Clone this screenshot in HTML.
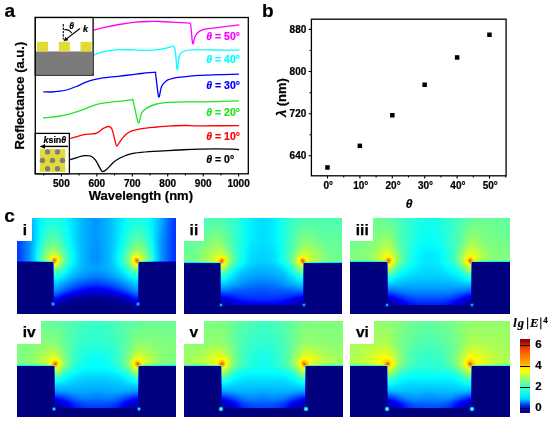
<!DOCTYPE html>
<html><head><meta charset="utf-8"><style>
html,body{margin:0;padding:0;background:#fff;}
body{width:550px;height:422px;overflow:hidden;position:relative;font-family:'Liberation Sans',Arial,sans-serif}
.ov{position:absolute;left:0;top:0;}
.tx text{stroke:#000;stroke-width:.22px;}
.tx path,.tx rect,.tx circle{}
.hm{position:absolute;overflow:hidden;}
.hm i{position:absolute;height:1px;}
.hm b{position:absolute;background:#01007f;}
.hm u{position:absolute;}
.hm s{position:absolute;left:0;top:0;height:23.4px;background:#fff;text-decoration:none;font-weight:bold;font-size:15.5px;line-height:1;color:#000;box-sizing:border-box;padding:3.3px 0 0 6px;-webkit-text-stroke:.25px #000;}
.cb{position:absolute;left:519.7px;top:339.2px;width:9.9px;height:74.2px;}
.cbt{position:absolute;left:519.8px;width:9.8px;height:1.1px;background:#000;}
.cbl{position:absolute;left:535.2px;font-weight:bold;font-size:11.5px;line-height:1;-webkit-text-stroke:.2px #000;}
.lge{position:absolute;left:513.5px;top:315.2px;font-family:'Liberation Serif',serif;font-style:italic;font-weight:bold;font-size:12.5px;line-height:1;white-space:nowrap;}
</style></head><body>
<svg class="ov" width="550" height="422" viewBox="0 0 550 422">
<g font-family="Liberation Sans, Arial, sans-serif" font-weight="bold"><g class="tx">
<text x="4.4" y="17.1" font-size="19">a</text>
<text x="261.9" y="17" font-size="19">b</text>
<text x="4.3" y="221.7" font-size="19">c</text>
<path d="M93.6,30.0C95.4,29.6 100.3,28.3 104.5,27.4C108.7,26.5 114.2,25.4 119.0,24.5C123.8,23.6 128.8,22.8 133.6,22.3C138.4,21.8 143.6,21.6 148.0,21.5C152.4,21.4 155.3,21.4 160.0,21.5C164.7,21.6 171.5,22.1 176.4,22.4C181.3,22.7 186.9,22.3 189.3,23.2C191.7,24.1 190.4,24.6 191.0,28.0C191.6,31.4 192.0,42.2 192.7,43.6C193.4,45.0 194.1,38.3 195.2,36.3C196.3,34.3 197.5,32.6 199.3,31.4C201.1,30.2 202.8,29.5 205.8,28.9C208.8,28.3 213.5,28.1 217.3,27.6C221.1,27.1 225.0,26.6 228.7,26.1C232.4,25.6 237.6,25.0 239.4,24.8" fill="none" stroke="#ff00ff" stroke-width="1.3" stroke-linejoin="round"/>
<path d="M93.6,55.0C95.4,54.4 100.3,52.3 104.5,51.4C108.7,50.5 114.2,49.9 119.0,49.6C123.8,49.4 128.8,49.8 133.6,49.9C138.4,50.0 143.9,50.3 148.0,50.3C152.1,50.2 155.0,50.0 158.4,49.6C161.8,49.2 165.6,48.2 168.2,47.7C170.8,47.2 172.5,45.6 173.7,46.4C174.9,47.2 174.9,48.7 175.5,52.6C176.1,56.5 176.5,69.4 177.2,69.8C177.9,70.2 178.4,58.2 179.6,55.1C180.8,52.0 182.3,51.9 184.5,51.0C186.7,50.1 188.6,50.1 192.7,49.9C196.8,49.7 203.5,49.8 209.0,49.9C214.5,50.0 220.4,50.2 225.5,50.2C230.6,50.2 237.1,50.2 239.4,50.2" fill="none" stroke="#00ffff" stroke-width="1.3" stroke-linejoin="round"/>
<path d="M43.3,91.8C44.7,91.8 48.8,92.1 51.6,92.0C54.4,91.9 57.1,91.6 59.9,91.2C62.7,90.8 65.5,90.3 68.2,89.5C71.0,88.7 73.7,87.6 76.4,86.5C79.2,85.4 81.9,83.8 84.7,82.7C87.5,81.6 90.2,80.7 93.0,79.9C95.8,79.2 98.5,78.7 101.3,78.2C104.1,77.8 106.5,77.6 109.6,77.2C112.7,76.8 115.5,76.6 120.0,76.1C124.5,75.6 131.0,74.7 136.6,74.1C142.2,73.5 150.6,72.3 153.8,72.4C157.0,72.5 154.9,70.8 155.7,74.9C156.5,79.0 157.7,94.8 158.7,96.8C159.7,98.8 160.2,89.3 161.5,86.6C162.8,83.9 164.3,82.2 166.5,80.7C168.7,79.2 171.5,78.6 174.8,77.9C178.1,77.2 182.2,77.0 186.4,76.6C190.6,76.2 193.6,75.7 199.7,75.4C205.8,75.1 216.7,74.8 223.2,74.6C229.7,74.4 236.3,74.2 238.9,74.1" fill="none" stroke="#0000ff" stroke-width="1.3" stroke-linejoin="round"/>
<path d="M43.3,118.0C44.7,117.9 48.8,117.5 51.6,117.2C54.4,116.9 57.1,116.5 59.9,116.0C62.7,115.5 65.5,115.1 68.2,114.4C71.0,113.7 73.7,112.8 76.4,111.9C79.2,111.0 81.9,110.0 84.7,108.9C87.5,107.9 90.2,106.5 93.0,105.6C95.8,104.7 98.5,104.0 101.3,103.4C104.1,102.9 106.5,102.7 109.6,102.3C112.7,101.9 116.4,101.6 120.0,101.2C123.6,100.8 129.2,99.8 131.4,99.8C133.6,99.8 132.2,97.7 133.3,101.5C134.5,105.3 136.9,120.8 138.3,122.7C139.7,124.6 140.2,115.5 141.6,113.1C143.0,110.7 144.1,109.6 146.6,108.1C149.1,106.6 152.6,105.0 156.5,104.0C160.4,103.0 164.8,102.7 169.8,102.3C174.8,101.9 180.3,101.9 186.4,101.8C192.5,101.7 197.8,102.0 206.6,101.8C215.3,101.6 233.5,101.0 238.9,100.8" fill="none" stroke="#1ee61e" stroke-width="1.3" stroke-linejoin="round"/>
<path d="M70.2,138.5C71.2,138.2 73.6,137.5 75.9,136.9C78.2,136.3 81.4,135.2 84.1,134.7C86.8,134.2 90.1,134.2 92.3,133.9C94.5,133.6 95.3,133.8 97.2,132.8C99.1,131.9 101.8,129.2 103.7,128.2C105.6,127.1 107.2,126.4 108.6,126.5C110.0,126.6 110.8,126.5 111.9,129.0C113.0,131.5 114.4,138.4 115.2,141.3C116.0,144.2 116.0,146.2 116.8,146.2C117.6,146.2 118.8,143.0 120.1,141.3C121.4,139.6 122.7,137.6 124.4,136.0C126.1,134.4 127.3,132.8 130.2,131.6C133.1,130.4 137.4,129.5 141.8,128.7C146.2,127.9 151.6,127.5 156.4,127.0C161.2,126.5 166.1,126.0 170.9,125.8C175.8,125.5 180.7,125.5 185.5,125.5C190.3,125.5 191.1,125.8 200.0,125.8C208.9,125.8 232.6,125.7 239.1,125.7" fill="none" stroke="#ff0000" stroke-width="1.3" stroke-linejoin="round"/>
<path d="M70.2,159.8C71.4,159.4 75.3,158.0 77.6,157.3C79.9,156.6 81.9,155.9 84.1,155.7C86.3,155.5 88.7,155.3 90.6,156.0C92.5,156.7 93.8,157.9 95.5,160.1C97.2,162.3 99.3,167.2 100.5,169.1C101.7,171.0 101.8,171.6 102.9,171.6C104.0,171.6 105.2,170.7 107.0,169.1C108.8,167.5 111.4,164.0 113.6,162.2C115.8,160.3 117.8,159.2 120.1,158.0C122.4,156.8 124.9,155.7 127.3,154.9C129.7,154.1 130.9,153.7 134.5,153.2C138.1,152.7 144.2,152.1 149.1,151.7C153.9,151.3 158.8,151.1 163.6,150.8C168.4,150.5 172.1,150.3 178.2,150.0C184.3,149.7 190.9,149.2 200.0,149.1C209.1,148.9 226.2,149.0 232.7,149.1C239.2,149.2 238.0,149.7 239.1,149.8" fill="none" stroke="#000000" stroke-width="1.3" stroke-linejoin="round"/>
<text x="206.3" y="39.9" font-size="10.5" fill="#ff00ff" style="stroke:#ff00ff"><tspan font-style="italic">&#952;</tspan> = 50&#176;</text>
<text x="206.3" y="62.8" font-size="10.5" fill="#00ffff" style="stroke:#00ffff"><tspan font-style="italic">&#952;</tspan> = 40&#176;</text>
<text x="206.3" y="88.5" font-size="10.5" fill="#0000ff" style="stroke:#0000ff"><tspan font-style="italic">&#952;</tspan> = 30&#176;</text>
<text x="206.3" y="115.5" font-size="10.5" fill="#1ee61e" style="stroke:#1ee61e"><tspan font-style="italic">&#952;</tspan> = 20&#176;</text>
<text x="206.3" y="139.6" font-size="10.5" fill="#ff0000" style="stroke:#ff0000"><tspan font-style="italic">&#952;</tspan> = 10&#176;</text>
<text x="206.3" y="163.2" font-size="10.5" fill="#000000" style="stroke:#000000"><tspan font-style="italic">&#952;</tspan> = 0&#176;</text>
<rect x="35.3" y="17.5" width="213.0" height="156.3" fill="none" stroke="#000" stroke-width="1.3"/>
<path d="M61.4,173.8V176.6M96.8,173.8V176.6M132.3,173.8V176.6M167.7,173.8V176.6M203.2,173.8V176.6M238.6,173.8V176.6M43.7,173.8V175.6M79.1,173.8V175.6M114.6,173.8V175.6M150.0,173.8V175.6M185.4,173.8V175.6M220.9,173.8V175.6" stroke="#000" stroke-width="1.1"/>
<text x="61.4" y="187" font-size="10" text-anchor="middle">500</text>
<text x="96.8" y="187" font-size="10" text-anchor="middle">600</text>
<text x="132.3" y="187" font-size="10" text-anchor="middle">700</text>
<text x="167.7" y="187" font-size="10" text-anchor="middle">800</text>
<text x="203.2" y="187" font-size="10" text-anchor="middle">900</text>
<text x="238.6" y="187" font-size="10" text-anchor="middle">1000</text>
<text x="140.9" y="200.4" font-size="13" text-anchor="middle">Wavelength (nm)</text>
<text transform="translate(23.7,95.6) rotate(-90)" font-size="13" text-anchor="middle">Reflectance (a.u.)</text>
<rect x="35.3" y="17.5" width="57.8" height="57.6" fill="#fff" stroke="#000" stroke-width="1.3"/>
<rect x="36" y="51.4" width="56.4" height="22.9" fill="#7b7b7b"/>
<rect x="37.0" y="41.8" width="11.1" height="9.6" fill="#e4da36"/>
<rect x="58.8" y="41.8" width="11.1" height="9.6" fill="#e4da36"/>
<rect x="80.5" y="41.8" width="11.1" height="9.6" fill="#e4da36"/>
<path d="M63.3,24.1V39.5" stroke="#000" stroke-width="1.1" stroke-dasharray="2.4,1"/>
<path d="M79.9,28.5L66.5,38.9" stroke="#000" stroke-width="1.2"/>
<path d="M64,40.8L65.67,37.24L67.87,40.08Z" fill="#000" stroke="#000" stroke-width="0.6"/>
<path d="M64.3,29.7Q69.3,29.2 71.7,33.2" fill="none" stroke="#000" stroke-width="1.1"/>
<text x="69.2" y="29.2" font-size="8.5" font-style="italic">&#952;</text>
<text x="82.9" y="31.6" font-size="9" font-style="italic">k</text>
<rect x="35.3" y="133.4" width="34.1" height="40.4" fill="#fff" stroke="#000" stroke-width="1.3"/>
<text x="43.6" y="142.8" font-size="8.8"><tspan font-style="italic">k</tspan>sin<tspan font-style="italic">&#952;</tspan></text>
<path d="M68,146.4H43" stroke="#000" stroke-width="1.4"/>
<path d="M39.8,146.4L45,144V148.8Z" fill="#000"/>
<rect x="39.9" y="149.1" width="25.4" height="22.9" fill="#e4da36"/>
<circle cx="47.6" cy="151.9" r="2.65" fill="#7c7c86"/>
<circle cx="57.5" cy="151.9" r="2.65" fill="#7c7c86"/>
<circle cx="42.4" cy="160.4" r="2.65" fill="#7c7c86"/>
<circle cx="52.5" cy="160.4" r="2.65" fill="#7c7c86"/>
<circle cx="62.5" cy="160.4" r="2.65" fill="#7c7c86"/>
<circle cx="47.6" cy="168.7" r="2.65" fill="#7c7c86"/>
<circle cx="57.5" cy="168.7" r="2.65" fill="#7c7c86"/>
<rect x="311.4" y="19.2" width="194.7" height="156.6" fill="none" stroke="#000" stroke-width="1.3"/>
<path d="M327.5,175.8V178.6M343.7,175.8V177.6M359.9,175.8V178.6M376.1,175.8V177.6M392.3,175.8V178.6M408.5,175.8V177.6M424.7,175.8V178.6M440.9,175.8V177.6M457.1,175.8V178.6M473.3,175.8V177.6M489.5,175.8V178.6M505.7,175.8V177.6M311.4,29.4H308.6M311.4,50.5H309.6M311.4,71.5H308.6M311.4,92.6H309.6M311.4,113.7H308.6M311.4,134.8H309.6M311.4,155.8H308.6" stroke="#000" stroke-width="1.1"/>
<text x="328.3" y="188.9" font-size="10" text-anchor="middle">0&#176;</text>
<text x="360.7" y="188.9" font-size="10" text-anchor="middle">10&#176;</text>
<text x="393.1" y="188.9" font-size="10" text-anchor="middle">20&#176;</text>
<text x="425.5" y="188.9" font-size="10" text-anchor="middle">30&#176;</text>
<text x="457.9" y="188.9" font-size="10" text-anchor="middle">40&#176;</text>
<text x="490.3" y="188.9" font-size="10" text-anchor="middle">50&#176;</text>
<text x="306.3" y="32.9" font-size="10" text-anchor="end">880</text>
<text x="306.3" y="75.0" font-size="10" text-anchor="end">800</text>
<text x="306.3" y="117.2" font-size="10" text-anchor="end">720</text>
<text x="306.3" y="159.3" font-size="10" text-anchor="end">640</text>
<text x="409" y="207.6" font-size="12" font-style="italic" text-anchor="middle">&#952;</text>
<text transform="translate(285.5,97.6) rotate(-90)" font-size="13" text-anchor="middle"><tspan font-style="italic">&#955;</tspan> (nm)</text>
<rect x="325.2" y="165.2" width="4.5" height="4.5"/>
<rect x="357.6" y="143.6" width="4.5" height="4.5"/>
<rect x="390.1" y="113.0" width="4.5" height="4.5"/>
<rect x="422.4" y="82.5" width="4.5" height="4.5"/>
<rect x="454.9" y="55.2" width="4.5" height="4.5"/>
<rect x="487.2" y="32.5" width="4.5" height="4.5"/>
</g></g></svg>
<div class="hm" style="left:16.5px;top:217.8px;width:159.9px;height:95.8px"><i style="top:0px;left:0;width:160px;background:linear-gradient(90deg,#003eff,#0059ff,#007aff,#00a2ff,#00c7ff,#00e0ff,#00f7ff,#0bfff4,#14ffeb,#18ffe7,#15ffea,#0ffff0,#03fffc,#00f2ff,#00e0ff,#00ceff,#00bdff,#00b1ff,#00a6ff,#009bff,#0099ff,#00a2ff,#00adff,#00b8ff,#00c8ff,#00daff,#00ecff,#00fdff,#0cfff3,#14ffeb,#18ffe7,#15ffea,#0ffff0,#00fdff,#00e8ff,#00d0ff,#00afff,#0086ff,#0063ff,#0044ff,#002fff)"></i><i style="top:1px;left:0;width:160px;background:linear-gradient(90deg,#003eff,#0059ff,#007aff,#00a2ff,#00c7ff,#00e0ff,#00f7ff,#0bfff4,#14ffeb,#18ffe7,#16ffe9,#10ffef,#03fffc,#00f2ff,#00e0ff,#00ceff,#00bdff,#00b1ff,#00a6ff,#009bff,#0099ff,#00a2ff,#00adff,#00b8ff,#00c8ff,#00daff,#00ecff,#00fdff,#0cfff3,#14ffeb,#18ffe7,#16ffe9,#0ffff0,#00fdff,#00e8ff,#00d0ff,#00afff,#0086ff,#0063ff,#0044ff,#002fff)"></i><i style="top:2px;left:0;width:160px;background:linear-gradient(90deg,#003eff,#0059ff,#007aff,#00a1ff,#00c6ff,#00e0ff,#00f7ff,#0cfff3,#15ffea,#19ffe6,#17ffe8,#10ffef,#03fffc,#00f2ff,#00e0ff,#00ceff,#00bdff,#00b1ff,#00a6ff,#009bff,#0099ff,#00a2ff,#00adff,#00b8ff,#00c8ff,#00daff,#00edff,#00fdff,#0dfff2,#15ffea,#19ffe6,#17ffe8,#10ffef,#00feff,#00e8ff,#00d0ff,#00aeff,#0086ff,#0063ff,#0044ff,#002fff)"></i><i style="top:3px;left:0;width:160px;background:linear-gradient(90deg,#003eff,#0059ff,#007aff,#00a1ff,#00c6ff,#00e0ff,#00f8ff,#0dfff2,#16ffe9,#1bffe4,#18ffe7,#11ffee,#04fffb,#00f3ff,#00e1ff,#00ceff,#00bdff,#00b1ff,#00a6ff,#009bff,#0099ff,#00a2ff,#00adff,#00b8ff,#00c8ff,#00daff,#00edff,#00feff,#0efff1,#16ffe9,#1bffe4,#18ffe7,#11ffee,#00ffff,#00e8ff,#00cfff,#00aeff,#0086ff,#0063ff,#0044ff,#002fff)"></i><i style="top:4px;left:0;width:160px;background:linear-gradient(90deg,#003eff,#0058ff,#0079ff,#00a0ff,#00c6ff,#00e1ff,#00f9ff,#0ffff0,#19ffe6,#1effe1,#1affe5,#13ffec,#05fffa,#00f3ff,#00e1ff,#00ceff,#00bdff,#00b1ff,#00a6ff,#009bff,#0099ff,#00a2ff,#00adff,#00b8ff,#00c8ff,#00dbff,#00edff,#00ffff,#0ffff0,#18ffe7,#1effe1,#1bffe4,#13ffec,#01fffe,#00e9ff,#00cfff,#00adff,#0085ff,#0063ff,#0043ff,#002fff)"></i><i style="top:5px;left:0;width:160px;background:linear-gradient(90deg,#003dff,#0058ff,#0079ff,#009fff,#00c5ff,#00e1ff,#00faff,#11ffee,#1cffe3,#21ffde,#1dffe2,#15ffea,#06fff9,#00f4ff,#00e1ff,#00ceff,#00bdff,#00b1ff,#00a6ff,#009bff,#0099ff,#00a2ff,#00adff,#00b9ff,#00c8ff,#00dbff,#00eeff,#01fffe,#11ffee,#1bffe4,#21ffde,#1effe1,#16ffe9,#03fffc,#00e9ff,#00cfff,#00acff,#0085ff,#0062ff,#0043ff,#002fff)"></i><i style="top:6px;left:0;width:160px;background:linear-gradient(90deg,#003dff,#0058ff,#0078ff,#009eff,#00c4ff,#00e1ff,#00fcff,#13ffec,#1fffe0,#24ffdb,#20ffdf,#17ffe8,#08fff7,#00f4ff,#00e2ff,#00ceff,#00bdff,#00b1ff,#00a6ff,#009bff,#0099ff,#00a2ff,#00adff,#00b9ff,#00c8ff,#00dbff,#00eeff,#02fffd,#13ffec,#1dffe2,#24ffdb,#21ffde,#18ffe7,#04fffb,#00eaff,#00ceff,#00abff,#0084ff,#0062ff,#0043ff,#002fff)"></i><i style="top:7px;left:0;width:160px;background:linear-gradient(90deg,#003dff,#0057ff,#0077ff,#009dff,#00c3ff,#00e1ff,#00fdff,#16ffe9,#22ffdd,#28ffd7,#23ffdc,#1affe5,#09fff6,#00f5ff,#00e2ff,#00ceff,#00bdff,#00b1ff,#00a6ff,#009bff,#0099ff,#00a2ff,#00adff,#00b9ff,#00c8ff,#00dcff,#00efff,#03fffc,#15ffea,#20ffdf,#28ffd7,#24ffdb,#1bffe4,#06fff9,#00ebff,#00ceff,#00aaff,#0083ff,#0061ff,#0043ff,#002fff)"></i><i style="top:8px;left:0;width:160px;background:linear-gradient(90deg,#003dff,#0057ff,#0077ff,#009cff,#00c2ff,#00e2ff,#00feff,#18ffe7,#25ffda,#2bffd4,#26ffd9,#1cffe3,#0bfff4,#00f6ff,#00e2ff,#00cfff,#00bdff,#00b1ff,#00a6ff,#009bff,#0099ff,#00a2ff,#00adff,#00b9ff,#00c8ff,#00dcff,#00f0ff,#04fffb,#17ffe8,#23ffdc,#2bffd4,#27ffd8,#1effe1,#08fff7,#00ebff,#00cdff,#00a9ff,#0083ff,#0061ff,#0042ff,#002fff)"></i><i style="top:9px;left:0;width:160px;background:linear-gradient(90deg,#003dff,#0056ff,#0076ff,#009cff,#00c2ff,#00e2ff,#01fffe,#1bffe4,#28ffd7,#2fffd0,#29ffd6,#1effe1,#0cfff3,#00f7ff,#00e3ff,#00cfff,#00bdff,#00b1ff,#00a6ff,#009bff,#0099ff,#00a2ff,#00adff,#00b9ff,#00c9ff,#00dcff,#00f0ff,#05fffa,#19ffe6,#26ffd9,#2fffd0,#2bffd4,#20ffdf,#0afff5,#00ecff,#00cdff,#00a8ff,#0082ff,#0060ff,#0042ff,#002fff)"></i><i style="top:10px;left:0;width:160px;background:linear-gradient(90deg,#003cff,#0056ff,#0076ff,#009bff,#00c1ff,#00e2ff,#02fffd,#1dffe2,#2bffd4,#32ffcd,#2cffd3,#20ffdf,#0efff1,#00f7ff,#00e3ff,#00cfff,#00bdff,#00b1ff,#00a6ff,#009bff,#0099ff,#00a2ff,#00adff,#00b9ff,#00c9ff,#00ddff,#00f1ff,#07fff8,#1bffe4,#29ffd6,#32ffcd,#2effd1,#23ffdc,#0cfff3,#00edff,#00ccff,#00a7ff,#0081ff,#0060ff,#0042ff,#002fff)"></i><i style="top:11px;left:0;width:160px;background:linear-gradient(90deg,#003cff,#0055ff,#0075ff,#009aff,#00c0ff,#00e3ff,#04fffb,#20ffdf,#2effd1,#36ffc9,#30ffcf,#23ffdc,#0ffff0,#00f8ff,#00e3ff,#00cfff,#00bdff,#00b1ff,#00a6ff,#009bff,#0099ff,#00a2ff,#00adff,#00b9ff,#00c9ff,#00ddff,#00f1ff,#08fff7,#1dffe2,#2cffd3,#36ffc9,#31ffce,#26ffd9,#0dfff2,#00edff,#00ccff,#00a6ff,#0080ff,#005fff,#0041ff,#002fff)"></i><i style="top:12px;left:0;width:160px;background:linear-gradient(90deg,#003cff,#0055ff,#0074ff,#0099ff,#00bfff,#00e3ff,#05fffa,#22ffdd,#31ffce,#3affc5,#33ffcc,#25ffda,#11ffee,#00f9ff,#00e4ff,#00cfff,#00bdff,#00b1ff,#00a6ff,#009bff,#0099ff,#00a2ff,#00adff,#00b9ff,#00c9ff,#00ddff,#00f2ff,#09fff6,#1fffe0,#2fffd0,#39ffc6,#35ffca,#29ffd6,#0ffff0,#00eeff,#00cbff,#00a5ff,#0080ff,#005fff,#0041ff,#002fff)"></i><i style="top:13px;left:0;width:160px;background:linear-gradient(90deg,#003cff,#0054ff,#0074ff,#0098ff,#00beff,#00e3ff,#07fff8,#25ffda,#35ffca,#3dffc2,#36ffc9,#27ffd8,#12ffed,#00faff,#00e4ff,#00d0ff,#00bdff,#00b1ff,#00a6ff,#009bff,#0099ff,#00a2ff,#00adff,#00b9ff,#00c9ff,#00deff,#00f3ff,#0afff5,#21ffde,#31ffce,#3dffc2,#38ffc7,#2bffd4,#11ffee,#00efff,#00cbff,#00a4ff,#007fff,#005eff,#0041ff,#002fff)"></i><i style="top:14px;left:0;width:160px;background:linear-gradient(90deg,#003cff,#0054ff,#0073ff,#0097ff,#00beff,#00e4ff,#08fff7,#27ffd8,#38ffc7,#41ffbe,#39ffc6,#2affd5,#14ffeb,#00fbff,#00e5ff,#00d0ff,#00bdff,#00b1ff,#00a6ff,#009bff,#0099ff,#00a3ff,#00adff,#00b9ff,#00c9ff,#00deff,#00f3ff,#0cfff3,#23ffdc,#34ffcb,#40ffbf,#3bffc4,#2effd1,#13ffec,#00efff,#00caff,#00a3ff,#007eff,#005eff,#0041ff,#002fff)"></i><i style="top:15px;left:0;width:160px;background:linear-gradient(90deg,#003bff,#0053ff,#0073ff,#0096ff,#00bdff,#00e4ff,#0afff5,#2affd5,#3bffc4,#44ffbb,#3cffc3,#2cffd3,#15ffea,#00fbff,#00e5ff,#00d0ff,#00bdff,#00b1ff,#00a6ff,#009bff,#0099ff,#00a3ff,#00adff,#00b9ff,#00c9ff,#00deff,#00f4ff,#0dfff2,#25ffda,#37ffc8,#44ffbb,#3fffc0,#31ffce,#15ffea,#00f0ff,#00caff,#00a2ff,#007eff,#005dff,#0040ff,#002fff)"></i><i style="top:16px;left:0;width:160px;background:linear-gradient(90deg,#003bff,#0053ff,#0072ff,#0095ff,#00bcff,#00e4ff,#0bfff4,#2cffd3,#3effc1,#48ffb7,#3fffc0,#2effd1,#17ffe8,#00fcff,#00e6ff,#00d0ff,#00bdff,#00b1ff,#00a6ff,#009bff,#0099ff,#00a3ff,#00adff,#00b9ff,#00caff,#00dfff,#00f4ff,#0efff1,#28ffd7,#3affc5,#47ffb8,#42ffbd,#34ffcb,#17ffe8,#00f1ff,#00c9ff,#00a1ff,#007dff,#005dff,#0040ff,#002fff)"></i><i style="top:17px;left:0;width:160px;background:linear-gradient(90deg,#003bff,#0052ff,#0071ff,#0094ff,#00bcff,#00e5ff,#0dfff2,#2fffd0,#41ffbe,#4cffb3,#42ffbd,#31ffce,#18ffe7,#00fdff,#00e6ff,#00d1ff,#00bdff,#00b1ff,#00a6ff,#009bff,#0099ff,#00a3ff,#00adff,#00b9ff,#00caff,#00dfff,#00f5ff,#10ffef,#2affd5,#3dffc2,#4bffb4,#46ffb9,#37ffc8,#18ffe7,#00f2ff,#00c9ff,#00a0ff,#007cff,#005cff,#0040ff,#002fff)"></i><i style="top:18px;left:0;width:160px;background:linear-gradient(90deg,#003bff,#0052ff,#0071ff,#0093ff,#00bbff,#00e5ff,#0efff1,#31ffce,#45ffba,#4fffb0,#46ffb9,#33ffcc,#1affe5,#00feff,#00e7ff,#00d1ff,#00bdff,#00b1ff,#00a6ff,#009bff,#0099ff,#00a3ff,#00adff,#00b9ff,#00caff,#00dfff,#00f6ff,#11ffee,#2cffd3,#40ffbf,#4fffb0,#49ffb6,#39ffc6,#1affe5,#00f2ff,#00c8ff,#00a0ff,#007cff,#005cff,#0040ff,#002fff)"></i><i style="top:19px;left:0;width:160px;background:linear-gradient(90deg,#003bff,#0052ff,#0070ff,#0093ff,#00baff,#00e5ff,#10ffef,#34ffcb,#48ffb7,#53ffac,#49ffb6,#36ffc9,#1cffe3,#00ffff,#00e7ff,#00d1ff,#00bdff,#00b1ff,#00a6ff,#009bff,#0099ff,#00a3ff,#00adff,#00b9ff,#00caff,#00e0ff,#00f6ff,#12ffed,#2effd1,#43ffbc,#52ffad,#4cffb3,#3cffc3,#1cffe3,#00f3ff,#00c8ff,#009fff,#007bff,#005bff,#003fff,#002fff)"></i><i style="top:20px;left:0;width:160px;background:linear-gradient(90deg,#003bff,#0051ff,#0070ff,#0092ff,#00baff,#00e6ff,#11ffee,#37ffc8,#4bffb4,#57ffa8,#4cffb3,#38ffc7,#1dffe2,#01fffe,#00e8ff,#00d1ff,#00bdff,#00b1ff,#00a6ff,#009bff,#0099ff,#00a2ff,#00adff,#00b9ff,#00caff,#00e0ff,#00f7ff,#14ffeb,#30ffcf,#46ffb9,#56ffa9,#50ffaf,#3fffc0,#1effe1,#00f4ff,#00c8ff,#009eff,#007bff,#005bff,#003fff,#002fff)"></i><i style="top:21px;left:0;width:160px;background:linear-gradient(90deg,#003aff,#0051ff,#0070ff,#0091ff,#00b9ff,#00e6ff,#13ffec,#3affc5,#4fffb0,#5bffa4,#50ffaf,#3bffc4,#1fffe0,#02fffd,#00e8ff,#00d2ff,#00beff,#00b1ff,#00a6ff,#009bff,#0098ff,#00a2ff,#00adff,#00b9ff,#00cbff,#00e1ff,#00f8ff,#16ffe9,#33ffcc,#4affb5,#5affa5,#54ffab,#43ffbc,#21ffde,#00f5ff,#00c8ff,#009dff,#007aff,#005aff,#003fff,#002fff)"></i><i style="top:22px;left:0;width:160px;background:linear-gradient(90deg,#003aff,#0050ff,#006fff,#0091ff,#00b9ff,#00e7ff,#15ffea,#3dffc2,#53ffac,#60ff9f,#54ffab,#3effc1,#22ffdd,#03fffc,#00e9ff,#00d2ff,#00beff,#00b1ff,#00a6ff,#009bff,#0098ff,#00a2ff,#00adff,#00b9ff,#00cbff,#00e2ff,#00f9ff,#18ffe7,#36ffc9,#4dffb2,#5fffa0,#58ffa7,#46ffb9,#23ffdc,#00f6ff,#00c8ff,#009dff,#007aff,#005aff,#003fff,#002fff)"></i><i style="top:23px;left:0;width:160px;background:linear-gradient(90deg,#003aff,#0050ff,#006fff,#0090ff,#00b9ff,#00e8ff,#18ffe7,#40ffbf,#58ffa7,#65ff9a,#59ffa6,#42ffbd,#24ffdb,#05fffa,#00eaff,#00d3ff,#00beff,#00b1ff,#00a6ff,#009bff,#0098ff,#00a2ff,#00adff,#00b9ff,#00cbff,#00e2ff,#00fbff,#1affe5,#39ffc6,#52ffad,#64ff9b,#5dffa2,#4affb5,#26ffd9,#00f8ff,#00c8ff,#009cff,#007aff,#005aff,#003fff,#002fff)"></i><i style="top:24px;left:0;width:160px;background:linear-gradient(90deg,#003aff,#0050ff,#006fff,#0090ff,#00b8ff,#00eaff,#1affe5,#44ffbb,#5dffa2,#6bff94,#5effa1,#46ffb9,#27ffd8,#07fff8,#00ebff,#00d3ff,#00beff,#00b1ff,#00a5ff,#009aff,#0097ff,#00a2ff,#00adff,#00b9ff,#00ccff,#00e3ff,#00fcff,#1cffe3,#3cffc3,#56ffa9,#6aff95,#62ff9d,#4effb1,#29ffd6,#00faff,#00c8ff,#009cff,#0079ff,#0059ff,#003eff,#002fff)"></i><i style="top:25px;left:0;width:160px;background:linear-gradient(90deg,#003aff,#004fff,#006fff,#0090ff,#00b8ff,#00ebff,#1dffe2,#48ffb7,#62ff9d,#70ff8f,#63ff9c,#4affb5,#2affd5,#09fff6,#00ecff,#00d4ff,#00beff,#00b1ff,#00a5ff,#009aff,#0097ff,#00a1ff,#00adff,#00b9ff,#00ccff,#00e4ff,#00feff,#1fffe0,#40ffbf,#5bffa4,#6fff90,#68ff97,#52ffad,#2cffd3,#00fbff,#00c8ff,#009bff,#0079ff,#0059ff,#003eff,#002fff)"></i><i style="top:26px;left:0;width:160px;background:linear-gradient(90deg,#003aff,#004fff,#006fff,#008fff,#00b9ff,#00ecff,#20ffdf,#4cffb3,#67ff98,#76ff89,#68ff97,#4effb1,#2dffd2,#0bfff4,#00eeff,#00d4ff,#00beff,#00b1ff,#00a5ff,#0099ff,#0096ff,#00a1ff,#00adff,#00b9ff,#00ccff,#00e5ff,#01fffe,#22ffdd,#44ffbb,#60ff9f,#75ff8a,#6dff92,#57ffa8,#2fffd0,#00fdff,#00c9ff,#009bff,#0079ff,#0059ff,#003eff,#002fff)"></i><i style="top:27px;left:0;width:160px;background:linear-gradient(90deg,#0039ff,#004fff,#006fff,#008fff,#00b9ff,#00eeff,#23ffdc,#50ffaf,#6cff93,#7cff83,#6eff91,#52ffad,#30ffcf,#0dfff2,#00efff,#00d5ff,#00beff,#00b0ff,#00a4ff,#0099ff,#0096ff,#00a0ff,#00acff,#00b9ff,#00cdff,#00e6ff,#02fffd,#24ffdb,#48ffb7,#65ff9a,#7bff84,#73ff8c,#5bffa4,#32ffcd,#00ffff,#00c9ff,#009bff,#0079ff,#0059ff,#003eff,#002fff)"></i><i style="top:28px;left:0;width:160px;background:linear-gradient(90deg,#0039ff,#004eff,#006fff,#008fff,#00b9ff,#00efff,#26ffd9,#54ffab,#71ff8e,#83ff7c,#74ff8b,#57ffa8,#34ffcb,#0ffff0,#00f0ff,#00d6ff,#00beff,#00b0ff,#00a4ff,#0098ff,#0095ff,#00a0ff,#00acff,#00b9ff,#00cdff,#00e7ff,#04fffb,#27ffd8,#4cffb3,#6bff94,#82ff7d,#79ff86,#60ff9f,#36ffc9,#02fffd,#00caff,#009bff,#0079ff,#0059ff,#003dff,#002fff)"></i><i style="top:29px;left:0;width:160px;background:linear-gradient(90deg,#0039ff,#004eff,#006fff,#008fff,#00b9ff,#00f1ff,#29ffd6,#59ffa6,#77ff88,#89ff76,#7aff85,#5cffa3,#37ffc8,#11ffee,#00f2ff,#00d6ff,#00bfff,#00b0ff,#00a4ff,#0098ff,#0095ff,#00a0ff,#00acff,#00b9ff,#00ceff,#00e9ff,#06fff9,#2bffd4,#51ffae,#71ff8e,#88ff77,#7fff80,#65ff9a,#39ffc6,#04fffb,#00caff,#009bff,#0079ff,#0059ff,#003dff,#002fff)"></i><i style="top:30px;left:0;width:160px;background:linear-gradient(90deg,#0039ff,#004eff,#006fff,#008fff,#00baff,#00f2ff,#2cffd3,#5dffa2,#7dff82,#90ff6f,#81ff7e,#61ff9e,#3bffc4,#14ffeb,#00f3ff,#00d7ff,#00bfff,#00b0ff,#00a3ff,#0097ff,#0094ff,#009fff,#00acff,#00b9ff,#00ceff,#00eaff,#08fff7,#2effd1,#55ffaa,#77ff88,#8fff70,#85ff7a,#6aff95,#3dffc2,#06fff9,#00cbff,#009bff,#007aff,#0058ff,#003dff,#002fff)"></i><i style="top:31px;left:0;width:160px;background:linear-gradient(90deg,#0039ff,#004eff,#006fff,#008fff,#00baff,#00f4ff,#2fffd0,#62ff9d,#83ff7c,#98ff67,#88ff77,#67ff98,#3fffc0,#16ffe9,#00f4ff,#00d8ff,#00bfff,#00b0ff,#00a3ff,#0097ff,#0093ff,#009fff,#00acff,#00b9ff,#00cfff,#00ebff,#0afff5,#31ffce,#5bffa4,#7eff81,#97ff68,#8cff73,#6fff90,#40ffbf,#08fff7,#00ccff,#009bff,#007aff,#0058ff,#003dff,#002fff)"></i><i style="top:32px;left:0;width:160px;background:linear-gradient(90deg,#0038ff,#004dff,#006fff,#008fff,#00baff,#00f6ff,#32ffcd,#67ff98,#8aff75,#a0ff5f,#90ff6f,#6dff92,#43ffbc,#19ffe6,#00f6ff,#00d9ff,#00bfff,#00b0ff,#00a3ff,#0096ff,#0093ff,#009eff,#00abff,#00b9ff,#00cfff,#00ecff,#0cfff3,#35ffca,#60ff9f,#85ff7a,#9fff60,#93ff6c,#74ff8b,#44ffbb,#0bfff4,#00cdff,#009bff,#007aff,#0058ff,#003cff,#002fff)"></i><i style="top:33px;left:0;width:160px;background:linear-gradient(90deg,#0038ff,#004dff,#0070ff,#008fff,#00bbff,#00f8ff,#35ffca,#6cff93,#91ff6e,#a9ff56,#99ff66,#74ff8b,#48ffb7,#1bffe4,#00f7ff,#00d9ff,#00bfff,#00b0ff,#00a2ff,#0096ff,#0092ff,#009eff,#00abff,#00b9ff,#00d0ff,#00edff,#0ffff0,#39ffc6,#66ff99,#8eff71,#a9ff56,#9bff64,#7aff85,#48ffb7,#0dfff2,#00ceff,#009bff,#007aff,#0058ff,#003cff,#0030ff)"></i><i style="top:34px;left:0;width:160px;background:linear-gradient(90deg,#0038ff,#004dff,#0070ff,#008fff,#00bbff,#00faff,#39ffc6,#71ff8e,#99ff66,#b3ff4c,#a4ff5b,#7bff84,#4cffb3,#1effe1,#00f9ff,#00daff,#00bfff,#00b0ff,#00a2ff,#0095ff,#0092ff,#009eff,#00abff,#00b9ff,#00d0ff,#00efff,#11ffee,#3dffc2,#6cff93,#98ff67,#b4ff4b,#a4ff5b,#80ff7f,#4cffb3,#0ffff0,#00cfff,#009bff,#007aff,#0058ff,#003cff,#0030ff)"></i><i style="top:35px;left:0;width:160px;background:linear-gradient(90deg,#0038ff,#004dff,#0070ff,#008fff,#00bcff,#00fbff,#3cffc3,#76ff89,#a1ff5e,#bfff40,#b0ff4f,#83ff7c,#51ffae,#20ffdf,#00faff,#00dbff,#00c0ff,#00afff,#00a2ff,#0095ff,#0091ff,#009dff,#00abff,#00b9ff,#00d1ff,#00f0ff,#13ffec,#40ffbf,#73ff8c,#a3ff5c,#c0ff3f,#adff52,#86ff79,#50ffaf,#12ffed,#00d0ff,#009bff,#007aff,#0058ff,#003cff,#0030ff)"></i><i style="top:36px;left:0;width:160px;background:linear-gradient(90deg,#0038ff 0px,#004cff 4px,#0070ff 8px,#008fff 12px,#00bdff 16px,#00fdff 20px,#40ffbf 24px,#7bff84 28px,#9fff60 31px,#a9ff56 32px,#b4ff4b 33px,#beff41 34px,#c7ff38 35px,#ceff31 36px,#d0ff2f 37px,#ceff31 38px,#c8ff37 39px,#bfff40 40px,#b3ff4c 41px,#a7ff58 42px,#99ff66 43px,#8cff73 44px,#55ffaa 48px,#23ffdc 52px,#00fbff 56px,#00dbff 60px,#00c0ff 64px,#00afff 68px,#00a1ff 72px,#0094ff 76px,#0091ff 80px,#009dff 84px,#00abff 88px,#00b9ff 92px,#00d1ff 96px,#00f1ff 100px,#15ffea 104px,#44ffbb 108px,#7aff85 112px,#a3ff5c 115px,#afff50 116px,#bbff44 117px,#c5ff3a 118px,#cdff32 119px,#d0ff2f 120px,#cfff30 121px,#caff35 122px,#c1ff3e 123px,#b7ff48 124px,#adff52 125px,#a2ff5d 126px,#97ff68 127px,#8bff74 128px,#54ffab 132px,#14ffeb 136px,#00d0ff 140px,#009bff 144px,#007aff 148px,#0058ff 152px,#003cff 156px,#0030ff 160px)"></i><i style="top:37px;left:0;width:160px;background:linear-gradient(90deg,#0038ff 0px,#004cff 4px,#0070ff 8px,#008fff 12px,#00bdff 16px,#00ffff 20px,#43ffbc 24px,#80ff7f 28px,#a6ff59 31px,#b2ff4d 32px,#beff41 33px,#cbff34 34px,#d6ff29 35px,#dfff20 36px,#e3ff1c 37px,#e2ff1d 38px,#dbff24 39px,#d0ff2f 40px,#c2ff3d 41px,#b3ff4c 42px,#a3ff5c 43px,#94ff6b 44px,#59ffa6 48px,#25ffda 52px,#00fdff 56px,#00dcff 60px,#00c0ff 64px,#00afff 68px,#00a1ff 72px,#0094ff 76px,#0090ff 80px,#009dff 84px,#00abff 88px,#00baff 92px,#00d2ff 96px,#00f2ff 100px,#17ffe8 104px,#47ffb8 108px,#80ff7f 112px,#aeff51 115px,#bdff42 116px,#ccff33 117px,#d8ff27 118px,#e0ff1f 119px,#e3ff1c 120px,#e1ff1e 121px,#d9ff26 122px,#cfff30 123px,#c2ff3d 124px,#b6ff49 125px,#a9ff56 126px,#9dff62 127px,#91ff6e 128px,#57ffa8 132px,#16ffe9 136px,#00d1ff 140px,#009cff 144px,#007aff 148px,#0057ff 152px,#003bff 156px,#0030ff 160px)"></i><i style="top:38px;left:0;width:160px;background:linear-gradient(90deg,#0038ff 0px,#004cff 4px,#0070ff 8px,#0090ff 12px,#00beff 16px,#01fffe 20px,#45ffba 24px,#84ff7b 28px,#adff52 31px,#baff45 32px,#c9ff36 33px,#d9ff26 34px,#e8ff17 35px,#f4ff0b 36px,#fbff04 37px,#fbff04 38px,#f2ff0d 39px,#e4ff1b 40px,#d2ff2d 41px,#c0ff3f 42px,#adff52 43px,#9cff63 44px,#5dffa2 48px,#27ffd8 52px,#00feff 56px,#00dcff 60px,#00c0ff 64px,#00afff 68px,#00a1ff 72px,#0093ff 76px,#0090ff 80px,#009dff 84px,#00abff 88px,#00baff 92px,#00d2ff 96px,#00f2ff 100px,#18ffe7 104px,#4affb5 108px,#86ff79 112px,#baff45 115px,#cdff32 116px,#deff21 117px,#eeff11 118px,#f9ff06 119px,#fcff03 120px,#f7ff08 121px,#ecff13 122px,#ddff22 123px,#ceff31 124px,#beff41 125px,#b0ff4f 126px,#a3ff5c 127px,#96ff69 128px,#5affa5 132px,#18ffe7 136px,#00d2ff 140px,#009cff 144px,#007aff 148px,#0057ff 152px,#003bff 156px,#0030ff 160px)"></i><i style="top:39px;left:0;width:160px;background:linear-gradient(90deg,#0038ff 0px,#004cff 4px,#0070ff 8px,#0090ff 12px,#00beff 16px,#03fffc 20px,#47ffb8 24px,#88ff77 28px,#b4ff4b 31px,#c3ff3c 32px,#d4ff2b 33px,#e7ff18 34px,#fbff04 35px,#ffef00 36px,#ffe200 37px,#ffe200 38px,#ffef00 39px,#faff05 40px,#e3ff1c 41px,#ccff33 42px,#b7ff48 43px,#a3ff5c 44px,#5fffa0 48px,#28ffd7 52px,#00feff 56px,#00dcff 60px,#00c0ff 64px,#00afff 68px,#00a1ff 72px,#0093ff 76px,#0090ff 80px,#009cff 84px,#00aaff 88px,#00baff 92px,#00d2ff 96px,#00f3ff 100px,#19ffe6 104px,#4cffb3 108px,#8bff74 112px,#c5ff3a 115px,#dcff23 116px,#f3ff0c 117px,#fff500 118px,#ffe500 119px,#ffe100 120px,#ffeb00 121px,#fffd00 122px,#edff12 123px,#d9ff26 124px,#c8ff37 125px,#b8ff47 126px,#aaff55 127px,#9bff64 128px,#5dffa2 132px,#19ffe6 136px,#00d3ff 140px,#009cff 144px,#007bff 148px,#0057ff 152px,#003bff 156px,#0030ff 160px)"></i><i style="top:40px;left:0;width:160px;background:linear-gradient(90deg,#0038ff 0px,#004cff 4px,#0071ff 8px,#0090ff 12px,#00bfff 16px,#03fffc 20px,#49ffb6 24px,#8bff74 28px,#bbff44 31px,#cdff32 32px,#e0ff1f 33px,#f6ff09 34px,#ffef00 35px,#ffd100 36px,#ffb800 37px,#ffb500 38px,#ffcd00 39px,#ffed00 40px,#f2ff0d 41px,#d7ff28 42px,#beff41 43px,#a8ff57 44px,#61ff9e 48px,#29ffd6 52px,#00feff 56px,#00ddff 60px,#00c0ff 64px,#00afff 68px,#00a1ff 72px,#0093ff 76px,#0090ff 80px,#009cff 84px,#00aaff 88px,#00baff 92px,#00d2ff 96px,#00f3ff 100px,#1affe5 104px,#4effb1 108px,#8fff70 112px,#cfff30 115px,#eaff15 116px,#fff600 117px,#ffd600 118px,#ffba00 119px,#ffb400 120px,#ffc800 121px,#ffe600 122px,#fdff02 123px,#e6ff19 124px,#d2ff2d 125px,#c0ff3f 126px,#afff50 127px,#a0ff5f 128px,#5fffa0 132px,#1affe5 136px,#00d4ff 140px,#009dff 144px,#007bff 148px,#0058ff 152px,#003cff 156px,#0030ff 160px)"></i><i style="top:41px;left:0;width:160px;background:linear-gradient(90deg,#0039ff 0px,#004dff 4px,#0071ff 8px,#0091ff 12px,#00c0ff 16px,#04fffb 20px,#4affb5 24px,#8eff71 28px,#c1ff3e 31px,#d5ff2a 32px,#edff12 33px,#fff600 34px,#ffd800 35px,#ffb200 36px,#ff8100 37px,#ff7800 38px,#ffac00 39px,#ffdb00 40px,#fdff02 41px,#ddff22 42px,#c2ff3d 43px,#abff54 44px,#62ff9d 48px,#29ffd6 52px,#00feff 56px,#00ddff 60px,#00c0ff 64px,#00afff 68px,#00a1ff 72px,#0094ff 76px,#0090ff 80px,#009dff 84px,#00abff 88px,#00baff 92px,#00d2ff 96px,#00f3ff 100px,#1affe5 104px,#4effb1 108px,#91ff6e 112px,#d5ff2a 115px,#f3ff0c 116px,#ffe700 117px,#ffbb00 118px,#ff8600 119px,#ff7500 120px,#ffa400 121px,#ffcd00 122px,#ffee00 123px,#f5ff0a 124px,#dcff23 125px,#c7ff38 126px,#b4ff4b 127px,#a3ff5c 128px,#60ff9f 132px,#1bffe4 136px,#00d4ff 140px,#009dff 144px,#007cff 148px,#0059ff 152px,#003dff 156px,#0031ff 160px)"></i><i style="top:42px;left:0;width:160px;background:linear-gradient(90deg,#003dff 0px,#0050ff 4px,#0074ff 8px,#0093ff 12px,#00c1ff 16px,#04fffb 20px,#49ffb6 24px,#90ff6f 28px,#c6ff39 31px,#dcff23 32px,#f7ff08 33px,#ffe600 34px,#ffbd00 35px,#ff8d00 36px,#ff4a00 37px,#ff5e00 38px,#ffa400 39px,#ffd800 40px,#feff01 41px,#deff21 42px,#c2ff3d 43px,#abff54 44px,#61ff9e 48px,#28ffd7 52px,#00feff 56px,#00dcff 60px,#00c0ff 64px,#00afff 68px,#00a2ff 72px,#0094ff 76px,#0091ff 80px,#009dff 84px,#00abff 88px,#00baff 92px,#00d2ff 96px,#00f2ff 100px,#19ffe6 104px,#4dffb2 108px,#90ff6f 112px,#d5ff2a 115px,#f4ff0b 116px,#ffe500 117px,#ffb500 118px,#ff7500 119px,#ff2f00 120px,#ff7c00 121px,#ffb000 122px,#ffdb00 123px,#fffe00 124px,#e3ff1c 125px,#ccff33 126px,#b8ff47 127px,#a6ff59 128px,#61ff9e 132px,#1affe5 136px,#00d5ff 140px,#009fff 144px,#007eff 148px,#005bff 152px,#0040ff 156px,#0035ff 160px)"></i><i style="top:43px;left:0;width:160px;background:linear-gradient(90deg,#0044ff 0px,#0057ff 4px,#0078ff 8px,#0096ff 12px,#00c2ff 16px,#03fffc 20px,#47ffb8 24px,#a3ff5c 28px,#d3ff2c 31px,#e8ff17 32px,#fffc00 33px,#ffdb00 34px,#ffaf00 35px,#ff6e00 36px,#ff4a00 37px,#ff8e00 38px,#ffbe00 39px,#ffe500 40px,#f6ff09 41px,#d8ff27 42px,#beff41 43px,#a6ff59 44px,#5dffa2 48px,#26ffd9 52px,#00fcff 56px,#00dbff 60px,#00c0ff 64px,#00b0ff 68px,#00a3ff 72px,#0096ff 76px,#0093ff 80px,#009eff 84px,#00abff 88px,#00baff 92px,#00d2ff 96px,#00f1ff 100px,#17ffe8 104px,#4affb5 108px,#8cff73 112px,#cfff30 115px,#ecff13 116px,#fff000 117px,#ffca00 118px,#ff9e00 119px,#ff6100 120px,#ff5400 121px,#ff9e00 122px,#ffd000 123px,#fff300 124px,#efff10 125px,#d9ff26 126px,#c7ff38 127px,#b7ff48 128px,#60ff9f 132px,#19ffe6 136px,#00d6ff 140px,#00a2ff 144px,#0082ff 148px,#0061ff 152px,#0047ff 156px,#003cff 160px)"></i><i style="top:44px;left:0;width:160px;background:linear-gradient(90deg,#004fff 0px,#0060ff 4px,#007fff 8px,#009bff 12px,#00c5ff 16px,#02fffd 20px,#42ffbd 24px,#87ff78 28px,#bfff40 31px,#d6ff29 32px,#f2ff0d 33px,#ffeb00 34px,#ffc400 35px,#ff9a00 36px,#ff8f00 37px,#ffb300 38px,#ffdb00 39px,#fffc00 40px,#e6ff19 41px,#ccff33 42px,#b4ff4b 43px,#9eff61 44px,#58ffa7 48px,#22ffdd 52px,#00f9ff 56px,#00daff 60px,#00c0ff 64px,#00b0ff 68px,#00a4ff 72px,#0098ff 76px,#0095ff 80px,#00a0ff 84px,#00acff 88px,#00baff 92px,#00d1ff 96px,#00efff 100px,#13ffec 104px,#45ffba 108px,#85ff7a 112px,#c5ff3a 115px,#deff21 116px,#f9ff06 117px,#ffe600 118px,#ffc000 119px,#ff9700 120px,#ff9100 121px,#ffb700 122px,#ffe000 123px,#fbff04 124px,#deff21 125px,#c6ff39 126px,#b0ff4f 127px,#9eff61 128px,#59ffa6 132px,#16ffe9 136px,#00d7ff 140px,#00a6ff 144px,#0088ff 148px,#006aff 152px,#0052ff 156px,#0048ff 160px)"></i><i style="top:45px;left:35px;width:89px;background:linear-gradient(90deg,#ffe300 0px,#ffcb00 1px,#ffc600 2px,#ffda00 3px,#fff500 4px,#ecff13 5px,#d3ff2c 6px,#bcff43 7px,#a7ff58 8px,#94ff6b 9px,#5fffa0 12px,#34ffcb 15px,#12ffed 18px,#00f6ff 21px,#00dfff 24px,#00cbff 27px,#00bbff 30px,#00b1ff 33px,#00a8ff 36px,#00a0ff 39px,#0099ff 42px,#0098ff 45px,#009fff 48px,#00a8ff 51px,#00b0ff 54px,#00baff 57px,#00c9ff 60px,#00ddff 63px,#00f3ff 66px,#0ffff0 69px,#31ffce 72px,#5affa5 75px,#8eff71 78px,#b6ff49 80px,#ccff33 81px,#e4ff1b 82px,#fffe00 83px,#ffe100 84px,#ffcb00 85px,#ffc600 86px,#ffdb00 87px,#fff700 88px,#ebff14 89px)"></i><i style="top:46px;left:35px;width:89px;background:linear-gradient(90deg,#faff05 0px,#fff300 1px,#ffef00 2px,#fffe00 3px,#edff12 4px,#d7ff28 5px,#c1ff3e 6px,#acff53 7px,#99ff66 8px,#87ff78 9px,#56ffa9 12px,#2dffd2 15px,#0cfff3 18px,#00f2ff 21px,#00dcff 24px,#00caff 27px,#00bbff 30px,#00b1ff 33px,#00a9ff 36px,#00a2ff 39px,#009cff 42px,#009bff 45px,#00a1ff 48px,#00a9ff 51px,#00b0ff 54px,#00baff 57px,#00c8ff 60px,#00daff 63px,#00efff 66px,#09fff6 69px,#2affd5 72px,#51ffae 75px,#82ff7d 78px,#a6ff59 80px,#baff45 81px,#d1ff2e 82px,#e7ff18 83px,#fbff04 84px,#fff300 85px,#ffee00 86px,#ffff00 87px,#ecff13 88px,#d7ff28 89px)"></i><i style="top:47px;left:35px;width:89px;background:linear-gradient(90deg,#ddff22 0px,#ebff14 1px,#efff10 2px,#e1ff1e 3px,#d3ff2c 4px,#c2ff3d 5px,#afff50 6px,#9dff62 7px,#8bff74 8px,#7aff85 9px,#4cffb3 12px,#26ffd9 15px,#07fff8 18px,#00edff 21px,#00daff 24px,#00c8ff 27px,#00baff 30px,#00b1ff 33px,#00aaff 36px,#00a4ff 39px,#009eff 42px,#009dff 45px,#00a3ff 48px,#00a9ff 51px,#00b0ff 54px,#00b9ff 57px,#00c6ff 60px,#00d8ff 63px,#00ebff 66px,#04fffb 69px,#22ffdd 72px,#48ffb7 75px,#75ff8a 78px,#97ff68 80px,#aaff55 81px,#bdff42 82px,#ceff31 83px,#ddff22 84px,#eaff15 85px,#f1ff0e 86px,#e1ff1e 87px,#d2ff2d 88px,#c2ff3d 89px)"></i><i style="top:48px;left:35px;width:89px;background:linear-gradient(90deg,#c3ff3c 0px,#d1ff2e 1px,#d6ff29 2px,#c6ff39 3px,#bbff44 4px,#adff52 5px,#9eff61 6px,#8eff71 7px,#7dff82 8px,#6dff92 9px,#42ffbd 12px,#1effe1 15px,#01fffe 18px,#00e9ff 21px,#00d7ff 24px,#00c6ff 27px,#00b9ff 30px,#00b0ff 33px,#00aaff 36px,#00a4ff 39px,#009fff 42px,#009fff 45px,#00a4ff 48px,#00a9ff 51px,#00afff 54px,#00b8ff 57px,#00c5ff 60px,#00d5ff 63px,#00e7ff 66px,#00feff 69px,#1bffe4 72px,#3effc1 75px,#68ff97 78px,#89ff76 80px,#99ff66 81px,#a9ff56 82px,#b7ff48 83px,#c3ff3c 84px,#cfff30 85px,#d9ff26 86px,#c7ff38 87px,#bbff44 88px,#adff52 89px)"></i><i style="top:49px;left:35px;width:89px;background:linear-gradient(90deg,#adff52 0px,#bbff44 1px,#c1ff3e 2px,#afff50 3px,#a5ff5a 4px,#9aff65 5px,#8dff72 6px,#7eff81 7px,#70ff8f 8px,#61ff9e 9px,#38ffc7 12px,#17ffe8 15px,#00fbff 18px,#00e5ff 21px,#00d3ff 24px,#00c4ff 27px,#00b7ff 30px,#00afff 33px,#00a9ff 36px,#00a4ff 39px,#00a0ff 42px,#00a0ff 45px,#00a4ff 48px,#00a9ff 51px,#00aeff 54px,#00b6ff 57px,#00c2ff 60px,#00d2ff 63px,#00e3ff 66px,#00f8ff 69px,#14ffeb 72px,#34ffcb 75px,#5cffa3 78px,#7aff85 80px,#88ff77 81px,#96ff69 82px,#a2ff5d 83px,#acff53 84px,#b9ff46 85px,#c4ff3b 86px,#b0ff4f 87px,#a5ff5a 88px,#9aff65 89px)"></i><i style="top:50px;left:35px;width:89px;background:linear-gradient(90deg,#99ff66 0px,#a8ff57 1px,#aeff51 2px,#9bff64 3px,#92ff6d 4px,#87ff78 5px,#7cff83 6px,#6fff90 7px,#62ff9d 8px,#55ffaa 9px,#2effd1 12px,#0ffff0 15px,#00f5ff 18px,#00e1ff 21px,#00d0ff 24px,#00c1ff 27px,#00b5ff 30px,#00adff 33px,#00a8ff 36px,#00a3ff 39px,#009fff 42px,#009fff 45px,#00a3ff 48px,#00a8ff 51px,#00adff 54px,#00b4ff 57px,#00c0ff 60px,#00ceff 63px,#00dfff 66px,#00f3ff 69px,#0dfff2 72px,#2affd5 75px,#51ffae 78px,#6cff93 80px,#78ff87 81px,#84ff7b 82px,#8fff70 83px,#98ff67 84px,#a6ff59 85px,#b2ff4d 86px,#9cff63 87px,#92ff6d 88px,#88ff77 89px)"></i><i style="top:51px;left:35px;width:87px;background:linear-gradient(90deg,#87ff78,#89ff76,#6cff93,#49ffb6,#25ffda,#08fff7,#00efff,#00dcff,#00ccff,#00beff,#00b2ff,#00abff,#00a6ff,#00a1ff,#009eff,#009dff,#00a1ff,#00a5ff,#00aaff,#00b1ff,#00bdff,#00cbff,#00daff,#00edff,#05fffa,#21ffde,#45ffba,#69ff96,#86ff79,#8aff75)"></i><i style="top:52px;left:35px;width:87px;background:linear-gradient(90deg,#75ff8a,#78ff87,#5dffa2,#3cffc3,#1cffe3,#01fffe,#00eaff,#00d7ff,#00c8ff,#00bbff,#00afff,#00a7ff,#00a3ff,#009eff,#009bff,#009aff,#009eff,#00a2ff,#00a7ff,#00aeff,#00b9ff,#00c7ff,#00d6ff,#00e8ff,#00fdff,#19ffe6,#39ffc6,#5affa5,#75ff8a,#79ff86)"></i><i style="top:53px;left:35px;width:87px;background:linear-gradient(90deg,#65ff9a,#68ff97,#4effb1,#30ffcf,#12ffed,#00f9ff,#00e4ff,#00d2ff,#00c3ff,#00b7ff,#00acff,#00a4ff,#009fff,#009bff,#0097ff,#0096ff,#009aff,#009eff,#00a3ff,#00abff,#00b5ff,#00c2ff,#00d1ff,#00e2ff,#00f6ff,#10ffef,#2dffd2,#4bffb4,#64ff9b,#69ff96)"></i><i style="top:54px;left:35px;width:87px;background:linear-gradient(90deg,#55ffaa,#56ffa9,#3fffc0,#25ffda,#0afff5,#00f2ff,#00deff,#00cdff,#00bfff,#00b2ff,#00a8ff,#00a0ff,#009bff,#0096ff,#0092ff,#0092ff,#0096ff,#009aff,#009fff,#00a7ff,#00b1ff,#00beff,#00cbff,#00dcff,#00f0ff,#07fff8,#22ffdd,#3dffc2,#54ffab,#57ffa8)"></i><i style="top:55px;left:35px;width:87px;background:linear-gradient(90deg,#43ffbc,#44ffbb,#31ffce,#1affe5,#01fffe,#00ebff,#00d8ff,#00c8ff,#00baff,#00aeff,#00a3ff,#009cff,#0096ff,#0091ff,#008dff,#008dff,#0091ff,#0096ff,#009bff,#00a2ff,#00adff,#00b9ff,#00c6ff,#00d6ff,#00e9ff,#00feff,#17ffe8,#2fffd0,#42ffbd,#44ffbb)"></i><i style="top:56px;left:35px;width:87px;background:linear-gradient(90deg,#33ffcc,#34ffcb,#24ffdb,#0ffff0,#00f8ff,#00e4ff,#00d2ff,#00c2ff,#00b5ff,#00a9ff,#009fff,#0097ff,#0091ff,#008cff,#0088ff,#0088ff,#008cff,#0091ff,#0096ff,#009eff,#00a8ff,#00b4ff,#00c1ff,#00d0ff,#00e2ff,#00f6ff,#0dfff2,#22ffdd,#33ffcc,#34ffcb)"></i><i style="top:57px;left:35px;width:87px;background:linear-gradient(90deg,#24ffdb,#25ffda,#18ffe7,#04fffb,#00efff,#00ddff,#00cbff,#00bcff,#00afff,#00a4ff,#0099ff,#0092ff,#008cff,#0087ff,#0082ff,#0082ff,#0086ff,#008bff,#0091ff,#0098ff,#00a3ff,#00aeff,#00bbff,#00caff,#00dbff,#00edff,#02fffd,#16ffe9,#24ffdb,#25ffda)"></i><i style="top:58px;left:35px;width:87px;background:linear-gradient(90deg,#17ffe8,#17ffe8,#0bfff4,#00f9ff,#00e7ff,#00d5ff,#00c4ff,#00b5ff,#00a8ff,#009dff,#0093ff,#008bff,#0085ff,#0080ff,#007bff,#007bff,#007fff,#0085ff,#008aff,#0092ff,#009cff,#00a7ff,#00b4ff,#00c3ff,#00d3ff,#00e5ff,#00f7ff,#0afff5,#17ffe8,#17ffe8)"></i><i style="top:59px;left:35px;width:87px;background:linear-gradient(90deg,#0afff5,#0bfff4,#00ffff,#00efff,#00ddff,#00ccff,#00bcff,#00adff,#00a0ff,#0095ff,#008bff,#0084ff,#007eff,#0078ff,#0073ff,#0073ff,#0078ff,#007dff,#0083ff,#008aff,#0094ff,#009fff,#00acff,#00bbff,#00cbff,#00dcff,#00edff,#00fdff,#0afff5,#0bfff4)"></i><i style="top:60px;left:35px;width:87px;background:linear-gradient(90deg,#00fdff,#00feff,#00f4ff,#00e5ff,#00d4ff,#00c4ff,#00b4ff,#00a4ff,#0098ff,#008dff,#0083ff,#007bff,#0075ff,#0070ff,#006bff,#006bff,#006fff,#0075ff,#007bff,#0082ff,#008cff,#0097ff,#00a3ff,#00b2ff,#00c2ff,#00d3ff,#00e3ff,#00f2ff,#00fdff,#00feff)"></i><i style="top:61px;left:35px;width:87px;background:linear-gradient(90deg,#00f2ff,#00f2ff,#00e9ff,#00dbff,#00cbff,#00bbff,#00abff,#009cff,#008fff,#0084ff,#007aff,#0073ff,#006dff,#0067ff,#0063ff,#0062ff,#0067ff,#006cff,#0072ff,#007aff,#0083ff,#008eff,#009aff,#00a9ff,#00b9ff,#00c9ff,#00d9ff,#00e7ff,#00f2ff,#00f3ff)"></i><i style="top:62px;left:35px;width:87px;background:linear-gradient(90deg,#00e7ff,#00e7ff,#00deff,#00d1ff,#00c2ff,#00b2ff,#00a2ff,#0093ff,#0086ff,#007cff,#0072ff,#006aff,#0064ff,#005fff,#005aff,#0059ff,#005eff,#0064ff,#0069ff,#0071ff,#007aff,#0085ff,#0091ff,#00a0ff,#00b0ff,#00c0ff,#00cfff,#00ddff,#00e7ff,#00e8ff)"></i><i style="top:63px;left:35px;width:87px;background:linear-gradient(90deg,#00ddff,#00ddff,#00d4ff,#00c7ff,#00b9ff,#00a9ff,#0099ff,#0089ff,#007dff,#0073ff,#0069ff,#0061ff,#005bff,#0056ff,#0051ff,#0051ff,#0055ff,#005bff,#0060ff,#0068ff,#0071ff,#007cff,#0088ff,#0097ff,#00a7ff,#00b7ff,#00c6ff,#00d3ff,#00dcff,#00ddff)"></i><i style="top:64px;left:35px;width:87px;background:linear-gradient(90deg,#00d3ff,#00d3ff,#00caff,#00beff,#00afff,#00a0ff,#0090ff,#0080ff,#0074ff,#0069ff,#005fff,#0058ff,#0052ff,#004cff,#0048ff,#0047ff,#004cff,#0051ff,#0057ff,#005eff,#0068ff,#0073ff,#007fff,#008eff,#009eff,#00aeff,#00bcff,#00c9ff,#00d2ff,#00d3ff)"></i><i style="top:65px;left:35px;width:87px;background:linear-gradient(90deg,#00c9ff,#00c9ff,#00c1ff,#00b4ff,#00a6ff,#0096ff,#0086ff,#0076ff,#006aff,#005fff,#0055ff,#004eff,#0048ff,#0043ff,#003eff,#003dff,#0042ff,#0047ff,#004dff,#0055ff,#005eff,#0069ff,#0075ff,#0084ff,#0095ff,#00a5ff,#00b3ff,#00c0ff,#00c9ff,#00caff)"></i><i style="top:66px;left:35px;width:87px;background:linear-gradient(90deg,#00c0ff,#00c1ff,#00b8ff,#00abff,#009cff,#008cff,#007cff,#006cff,#005fff,#0055ff,#004bff,#0043ff,#003dff,#0038ff,#0033ff,#0032ff,#0037ff,#003cff,#0042ff,#004aff,#0054ff,#005eff,#006bff,#007aff,#008bff,#009bff,#00a9ff,#00b7ff,#00c0ff,#00c1ff)"></i><i style="top:67px;left:35px;width:87px;background:linear-gradient(90deg,#00b8ff,#00b9ff,#00afff,#00a1ff,#0092ff,#0082ff,#0071ff,#0061ff,#0054ff,#0049ff,#003fff,#0037ff,#0031ff,#002cff,#0027ff,#0027ff,#002bff,#0031ff,#0036ff,#003eff,#0048ff,#0053ff,#0060ff,#0070ff,#0080ff,#0091ff,#00a0ff,#00aeff,#00b8ff,#00b9ff)"></i><i style="top:68px;left:35px;width:87px;background:linear-gradient(90deg,#00b1ff,#00b2ff,#00a7ff,#0098ff,#0088ff,#0077ff,#0066ff,#0056ff,#0049ff,#003dff,#0033ff,#002aff,#0024ff,#001fff,#001aff,#001aff,#001fff,#0024ff,#002aff,#0032ff,#003cff,#0047ff,#0054ff,#0064ff,#0076ff,#0086ff,#0096ff,#00a6ff,#00b1ff,#00b2ff)"></i><i style="top:69px;left:35px;width:87px;background:linear-gradient(90deg,#00aaff,#00aaff,#009fff,#008fff,#007dff,#006cff,#005bff,#004aff,#003dff,#0031ff,#0026ff,#001dff,#0018ff,#0012ff,#000eff,#000dff,#0012ff,#0017ff,#001dff,#0025ff,#0030ff,#003bff,#0049ff,#0059ff,#006bff,#007cff,#008dff,#009dff,#00aaff,#00abff)"></i><i style="top:70px;left:35px;width:87px;background:linear-gradient(90deg,#00a3ff,#00a3ff,#0097ff,#0085ff,#0073ff,#0061ff,#004fff,#003eff,#0031ff,#0025ff,#0019ff,#0010ff,#000bff,#0005ff,#0001ff,#0000ff,#0005ff,#000aff,#0010ff,#0018ff,#0023ff,#002fff,#003dff,#004eff,#005fff,#0071ff,#0083ff,#0095ff,#00a3ff,#00a4ff)"></i><i style="top:71px;left:35px;width:87px;background:linear-gradient(90deg,#009bff,#009cff,#008eff,#007bff,#0067ff,#0055ff,#0043ff,#0032ff,#0024ff,#0018ff,#000cff,#0003ff,#0000fd,#0000f7,#0000f3,#0000f2,#0000f7,#0000fc,#0003ff,#000bff,#0017ff,#0023ff,#0030ff,#0041ff,#0053ff,#0065ff,#0079ff,#008cff,#009bff,#009cff)"></i><i style="top:72px;left:35px;width:87px;background:linear-gradient(90deg,#0092ff,#0092ff,#0084ff,#006fff,#005aff,#0048ff,#0036ff,#0025ff,#0017ff,#000bff,#0000fe,#0000f6,#0000f0,#0000eb,#0000e6,#0000e6,#0000ea,#0000ef,#0000f5,#0000fd,#000aff,#0016ff,#0023ff,#0034ff,#0046ff,#0058ff,#006dff,#0082ff,#0092ff,#0093ff)"></i><i style="top:73px;left:35px;width:87px;background:linear-gradient(90deg,#0087ff,#0087ff,#0077ff,#0061ff,#004bff,#0039ff,#0027ff,#0016ff,#0009ff,#0000fc,#0000f1,#0000e9,#0000e3,#0000df,#0000db,#0000da,#0000de,#0000e3,#0000e8,#0000f0,#0000fb,#0008ff,#0015ff,#0026ff,#0037ff,#0049ff,#005eff,#0075ff,#0086ff,#0087ff)"></i><i style="top:74px;left:35px;width:87px;background:linear-gradient(90deg,#0079ff,#0079ff,#0069ff,#0051ff,#003aff,#0028ff,#0017ff,#0007ff,#0000f9,#0000ee,#0000e3,#0000dc,#0000d7,#0000d3,#0000cf,#0000cf,#0000d3,#0000d7,#0000db,#0000e2,#0000ed,#0000f8,#0005ff,#0015ff,#0026ff,#0038ff,#004eff,#0066ff,#0079ff,#007aff)"></i><i style="top:75px;left:35px;width:87px;background:linear-gradient(90deg,#006aff,#006aff,#0058ff,#003fff,#0028ff,#0016ff,#0006ff,#0000f5,#0000e9,#0000df,#0000d6,#0000cf,#0000cb,#0000c8,#0000c4,#0000c4,#0000c7,#0000cb,#0000cf,#0000d5,#0000de,#0000e8,#0000f3,#0004ff,#0014ff,#0026ff,#003cff,#0056ff,#0069ff,#006bff)"></i><i style="top:76px;left:35px;width:87px;background:linear-gradient(90deg,#005aff,#005aff,#0047ff,#002dff,#0014ff,#0003ff,#0000f3,#0000e4,#0000d9,#0000d0,#0000c8,#0000c2,#0000bf,#0000bc,#0000ba,#0000ba,#0000bc,#0000bf,#0000c2,#0000c7,#0000cf,#0000d8,#0000e3,#0000f1,#0002ff,#0013ff,#002aff,#0045ff,#0059ff,#005bff)"></i><i style="top:77px;left:35px;width:87px;background:linear-gradient(90deg,#0049ff,#004aff,#0036ff,#001aff,#0001ff,#0000f0,#0000e1,#0000d3,#0000c9,#0000c2,#0000bb,#0000b6,#0000b3,#0000b1,#0000af,#0000af,#0000b1,#0000b3,#0000b6,#0000ba,#0000c1,#0000c8,#0000d2,#0000e0,#0000ee,#0000fe,#0017ff,#0034ff,#0049ff,#004aff)"></i><i style="top:78px;left:35px;width:87px;background:linear-gradient(90deg,#0039ff,#0039ff,#0025ff,#0008ff,#0000ee,#0000de,#0000d0,#0000c3,#0000ba,#0000b4,#0000ae,#0000aa,#0000a8,#0000a7,#0000a6,#0000a5,#0000a7,#0000a8,#0000aa,#0000ae,#0000b3,#0000ba,#0000c2,#0000cf,#0000dd,#0000ec,#0005ff,#0022ff,#0038ff,#003aff)"></i><i style="top:79px;left:35px;width:87px;background:linear-gradient(90deg,#0028ff,#0028ff,#0014ff,#0000f6,#0000dd,#0000ce,#0000c1,#0000b5,#0000ad,#0000a8,#0000a3,#0000a0,#00009f,#00009e,#00009d,#00009d,#00009e,#00009f,#0000a0,#0000a3,#0000a7,#0000ad,#0000b4,#0000c0,#0000cd,#0000db,#0000f3,#0011ff,#0027ff,#0029ff)"></i><i style="top:80px;left:35px;width:87px;background:linear-gradient(90deg,#0016ff,#0016ff,#0003ff,#0000e6,#0000ce,#0000c0,#0000b4,#0000a9,#0000a3,#00009e,#00009a,#000098,#000097,#000096,#000096,#000096,#000096,#000097,#000098,#00009a,#00009e,#0000a2,#0000a9,#0000b3,#0000bf,#0000cd,#0000e3,#0000ff,#0015ff,#0017ff)"></i><i style="top:81px;left:35px;width:87px;background:linear-gradient(90deg,#0003ff,#0004ff,#0000f1,#0000d7,#0000c2,#0000b5,#0000aa,#0000a1,#00009b,#000097,#000094,#000092,#000091,#000091,#000091,#000091,#000091,#000091,#000092,#000094,#000097,#00009a,#0000a0,#0000a9,#0000b4,#0000c0,#0000d5,#0000ee,#0003ff,#0004ff)"></i><i style="top:82px;left:35px;width:87px;background:linear-gradient(90deg,#0000ef,#0000ef,#0000e0,#0000ca,#0000b7,#0000ab,#0000a2,#00009a,#000095,#000092,#00008f,#00008e,#00008d,#00008d,#00008d,#00008d,#00008d,#00008d,#00008e,#00008f,#000092,#000094,#000099,#0000a1,#0000ab,#0000b5,#0000c7,#0000de,#0000ef,#0000f0)"></i><i style="top:83px;left:35px;width:87px;background:linear-gradient(90deg,#0000dc,#0000dc,#0000cf,#0000bc,#0000ac,#0000a3,#00009b,#000094,#000090,#00008d,#00008b,#00008a,#00008a,#00008a,#000089,#000089,#00008a,#00008a,#00008a,#00008b,#00008d,#00008f,#000093,#00009a,#0000a2,#0000ab,#0000bb,#0000cd,#0000db,#0000dc)"></i><i style="top:84px;left:35px;width:87px;background:linear-gradient(90deg,#0000c9,#0000c9,#0000bf,#0000b0,#0000a3,#00009b,#000094,#00008e,#00008b,#000089,#000088,#000087,#000087,#000086,#000086,#000086,#000086,#000087,#000087,#000088,#000089,#00008b,#00008e,#000094,#00009a,#0000a2,#0000ae,#0000bd,#0000c9,#0000ca)"></i><i style="top:85px;left:35px;width:87px;background:linear-gradient(90deg,#0000b8,#0000b9,#0000b0,#0000a4,#00009a,#000094,#00008e,#00008a,#000087,#000086,#000085,#000084,#000084,#000084,#000084,#000084,#000084,#000084,#000084,#000085,#000086,#000087,#000089,#00008e,#000093,#000099,#0000a3,#0000af,#0000b8,#0000b9)"></i><i style="top:86px;left:35px;width:87px;background:linear-gradient(90deg,#0000ab,#0000ab,#0000a4,#00009b,#000093,#00008e,#00008a,#000086,#000084,#000083,#000083,#000082,#000082,#000082,#000082,#000082,#000082,#000082,#000082,#000083,#000083,#000084,#000086,#000089,#00008e,#000093,#00009a,#0000a4,#0000aa,#0000ab)"></i><i style="top:87px;left:35px;width:87px;background:linear-gradient(90deg,#0000a1,#0000a1,#00009c,#000095,#00008e,#00008a,#000087,#000084,#000082,#000082,#000081,#000081,#000081,#000081,#000081,#000081,#000081,#000081,#000081,#000081,#000082,#000082,#000083,#000086,#00008a,#00008e,#000094,#00009b,#0000a1,#0000a1)"></i><i style="top:88px;left:35px;width:87px;background:linear-gradient(90deg,#00009a,#00009b,#000096,#000090,#00008b,#000088,#000085,#000082,#000081,#000081,#000080,#000080,#000080,#000080,#000080,#000080,#000080,#000080,#000080,#000080,#000081,#000081,#000082,#000085,#000087,#00008b,#000090,#000096,#00009a,#00009b)"></i><i style="top:89px;left:35px;width:87px;background:linear-gradient(90deg,#000096,#000096,#000092,#00008d,#000089,#000086,#000084,#000082,#000081,#000080,#000080,#000080,#000080,#000080,#000080,#000080,#000080,#000080,#000080,#000080,#000080,#000081,#000081,#000084,#000086,#000089,#00008d,#000092,#000096,#000096)"></i><i style="top:90px;left:35px;width:87px;background:linear-gradient(90deg,#000092,#000092,#00008f,#00008b,#000087,#000085,#000083,#000081,#000080,#000080,#000080,#000080,#000080,#000080,#000080,#000080,#000080,#000080,#000080,#000080,#000080,#000080,#000081,#000083,#000085,#000087,#00008b,#00008f,#000092,#000092)"></i><i style="top:91px;left:35px;width:87px;background:linear-gradient(90deg,#00008e,#00008e,#00008c,#000089,#000086,#000084,#000082,#000081,#000080,#000080,#000080,#000080,#000080,#000080,#000080,#000080,#000080,#000080,#000080,#000080,#000080,#000080,#000081,#000082,#000084,#000086,#000088,#00008c,#00008e,#00008e)"></i><i style="top:92px;left:35px;width:87px;background:linear-gradient(90deg,#00008b,#00008b,#000089,#000087,#000084,#000083,#000082,#000081,#000080,#000080,#000080,#000080,#000080,#000080,#000080,#000080,#000080,#000080,#000080,#000080,#000080,#000080,#000081,#000082,#000083,#000084,#000086,#000089,#00008b,#00008b)"></i><i style="top:93px;left:35px;width:87px;background:linear-gradient(90deg,#000087,#000088,#000086,#000085,#000083,#000082,#000081,#000080,#000080,#000080,#000080,#000080,#000080,#000080,#000080,#000080,#000080,#000080,#000080,#000080,#000080,#000080,#000080,#000081,#000082,#000083,#000084,#000086,#000087,#000088)"></i><i style="top:94px;left:35px;width:87px;background:linear-gradient(90deg,#000085,#000085,#000084,#000083,#000082,#000081,#000081,#000080,#000080,#000080,#000080,#000080,#000080,#000080,#000080,#000080,#000080,#000080,#000080,#000080,#000080,#000080,#000080,#000081,#000081,#000082,#000083,#000084,#000085,#000085)"></i><i style="top:95px;left:35px;width:87px;background:linear-gradient(90deg,#000082,#000082,#000082,#000081,#000081,#000081,#000080,#000080,#000080,#000080,#000080,#000080,#000080,#000080,#000080,#000080,#000080,#000080,#000080,#000080,#000080,#000080,#000080,#000080,#000081,#000081,#000081,#000082,#000082,#000082)"></i><b style="left:0;top:43.5px;width:37.1px;bottom:0"></b><b style="left:121.2px;top:43.5px;right:0;bottom:0"></b><u style="left:0;top:43.5px;width:37.3px;height:1px;background:linear-gradient(90deg,#0005ff,#000fff,#0021ff,#0034ff,#0045ff,#005cff,#007eff,#00a3ff,#00c9ff,#00eeff,#13ffec,#3fffc0,#84ff7b)"></u><u style="left:121.0px;top:43.5px;width:38.9px;height:1px;background:linear-gradient(90deg,#70ff8f,#33ffcc,#0afff5,#00e5ff,#00c0ff,#009aff,#0075ff,#0056ff,#0040ff,#0030ff,#001cff,#000cff,#0003ff)"></u><u style="left:36.3px;top:44.4px;width:1px;height:50.4px;background:linear-gradient(180deg,#00d1ff,#00a9ff,#0089ff,#006fff,#0058ff,#0044ff,#0033ff,#0024ff,#0018ff,#000dff,#0000fa,#0000e2,#0000c8,#0000ac,#000094,#00008a,#000085);opacity:.8"></u><u style="left:121.0px;top:44.4px;width:1px;height:50.4px;background:linear-gradient(180deg,#00dfff,#00aeff,#008cff,#0072ff,#0059ff,#0045ff,#0034ff,#0025ff,#0019ff,#000eff,#0000fc,#0000e4,#0000ca,#0000ad,#000095,#00008b,#000085);opacity:.8"></u><u style="left:32.5px;top:82.7px;width:8px;height:8px;background:radial-gradient(circle at 50% 50%,#40e8ff 0,#0090ff 1px,rgba(0,60,255,.5) 2px,rgba(0,40,255,0) 2.8px)"></u><u style="left:117.8px;top:82.7px;width:8px;height:8px;background:radial-gradient(circle at 50% 50%,#40e8ff 0,#0090ff 1px,rgba(0,60,255,.5) 2px,rgba(0,40,255,0) 2.8px)"></u><s style="width:15.8px;height:23.7px;padding:4.4px 0 0 6.2px">i</s></div>
<div class="hm" style="left:183.6px;top:217.8px;width:158.8px;height:95.8px"><i style="top:0px;left:0;width:160px;background:linear-gradient(90deg,#4dffb2,#4dffb2,#4dffb2,#4dffb2,#4dffb2,#4dffb2,#4dffb2,#4dffb2,#4dffb2,#4cffb3,#47ffb8,#40ffbf,#36ffc9,#2affd5,#1bffe4,#0afff5,#00f9ff,#00edff,#00e6ff,#00dfff,#00dfff,#00e5ff,#00ecff,#00f7ff,#08fff7,#19ffe6,#29ffd6,#35ffca,#3fffc0,#46ffb9,#4cffb3,#4dffb2,#4dffb2,#4dffb2,#4dffb2,#4dffb2,#4dffb2,#4dffb2,#4dffb2,#4dffb2,#4dffb2)"></i><i style="top:1px;left:0;width:160px;background:linear-gradient(90deg,#4dffb2,#4dffb2,#4dffb2,#4dffb2,#4dffb2,#4dffb2,#4dffb2,#4dffb2,#4dffb2,#4cffb3,#47ffb8,#40ffbf,#36ffc9,#2affd5,#1bffe4,#0afff5,#00f9ff,#00edff,#00e6ff,#00dfff,#00dfff,#00e5ff,#00ecff,#00f7ff,#08fff7,#19ffe6,#29ffd6,#35ffca,#3fffc0,#47ffb8,#4cffb3,#4dffb2,#4dffb2,#4dffb2,#4dffb2,#4dffb2,#4dffb2,#4dffb2,#4dffb2,#4dffb2,#4dffb2)"></i><i style="top:2px;left:0;width:160px;background:linear-gradient(90deg,#4dffb2,#4dffb2,#4dffb2,#4dffb2,#4dffb2,#4dffb2,#4dffb2,#4effb1,#4effb1,#4dffb2,#48ffb7,#41ffbe,#37ffc8,#2bffd4,#1bffe4,#0afff5,#00f9ff,#00edff,#00e6ff,#00dfff,#00dfff,#00e5ff,#00ecff,#00f7ff,#08fff7,#19ffe6,#29ffd6,#35ffca,#40ffbf,#47ffb8,#4dffb2,#4effb1,#4effb1,#4dffb2,#4dffb2,#4dffb2,#4dffb2,#4dffb2,#4dffb2,#4dffb2,#4dffb2)"></i><i style="top:3px;left:0;width:160px;background:linear-gradient(90deg,#4dffb2,#4dffb2,#4dffb2,#4effb1,#4effb1,#4effb1,#4effb1,#4fffb0,#4fffb0,#4fffb0,#49ffb6,#41ffbe,#37ffc8,#2bffd4,#1bffe4,#0afff5,#00f9ff,#00edff,#00e6ff,#00dfff,#00dfff,#00e5ff,#00ecff,#00f7ff,#08fff7,#19ffe6,#29ffd6,#36ffc9,#40ffbf,#48ffb7,#4effb1,#4fffb0,#4fffb0,#4effb1,#4effb1,#4effb1,#4effb1,#4dffb2,#4dffb2,#4dffb2,#4dffb2)"></i><i style="top:4px;left:0;width:160px;background:linear-gradient(90deg,#4effb1,#4effb1,#4effb1,#4effb1,#4fffb0,#4fffb0,#50ffaf,#51ffae,#51ffae,#51ffae,#4bffb4,#43ffbc,#38ffc7,#2bffd4,#1bffe4,#0bfff4,#00f9ff,#00edff,#00e6ff,#00dfff,#00dfff,#00e5ff,#00ecff,#00f7ff,#09fff6,#19ffe6,#29ffd6,#36ffc9,#41ffbe,#4affb5,#50ffaf,#51ffae,#51ffae,#50ffaf,#4fffb0,#4fffb0,#4effb1,#4effb1,#4effb1,#4effb1,#4effb1)"></i><i style="top:5px;left:0;width:160px;background:linear-gradient(90deg,#4fffb0,#4fffb0,#4fffb0,#4fffb0,#50ffaf,#50ffaf,#52ffad,#53ffac,#54ffab,#53ffac,#4dffb2,#44ffbb,#39ffc6,#2cffd3,#1bffe4,#0bfff4,#00f9ff,#00edff,#00e6ff,#00dfff,#00dfff,#00e5ff,#00ecff,#00f7ff,#09fff6,#19ffe6,#2affd5,#37ffc8,#43ffbc,#4cffb3,#53ffac,#54ffab,#53ffac,#52ffad,#51ffae,#50ffaf,#4fffb0,#4fffb0,#4fffb0,#4fffb0,#4fffb0)"></i><i style="top:6px;left:0;width:160px;background:linear-gradient(90deg,#50ffaf,#50ffaf,#50ffaf,#50ffaf,#51ffae,#52ffad,#53ffac,#55ffaa,#57ffa8,#56ffa9,#4fffb0,#45ffba,#3affc5,#2cffd3,#1cffe3,#0bfff4,#00f9ff,#00edff,#00e6ff,#00dfff,#00dfff,#00e5ff,#00ecff,#00f7ff,#09fff6,#1affe5,#2affd5,#38ffc7,#44ffbb,#4effb1,#56ffa9,#57ffa8,#56ffa9,#54ffab,#52ffad,#51ffae,#50ffaf,#50ffaf,#50ffaf,#50ffaf,#50ffaf)"></i><i style="top:7px;left:0;width:160px;background:linear-gradient(90deg,#51ffae,#51ffae,#51ffae,#51ffae,#52ffad,#53ffac,#55ffaa,#58ffa7,#5affa5,#59ffa6,#52ffad,#47ffb8,#3bffc4,#2dffd2,#1cffe3,#0bfff4,#00f9ff,#00edff,#00e6ff,#00dfff,#00dfff,#00e5ff,#00ecff,#00f7ff,#09fff6,#1affe5,#2bffd4,#39ffc6,#46ffb9,#50ffaf,#59ffa6,#5affa5,#58ffa7,#56ffa9,#54ffab,#52ffad,#51ffae,#51ffae,#51ffae,#51ffae,#51ffae)"></i><i style="top:8px;left:0;width:160px;background:linear-gradient(90deg,#52ffad,#52ffad,#52ffad,#52ffad,#53ffac,#55ffaa,#57ffa8,#5affa5,#5cffa3,#5dffa2,#54ffab,#49ffb6,#3cffc3,#2dffd2,#1dffe2,#0bfff4,#00f9ff,#00edff,#00e6ff,#00dfff,#00dfff,#00e5ff,#00ecff,#00f7ff,#09fff6,#1affe5,#2bffd4,#3affc5,#47ffb8,#53ffac,#5cffa3,#5dffa2,#5bffa4,#58ffa7,#55ffaa,#54ffab,#53ffac,#52ffad,#52ffad,#52ffad,#52ffad)"></i><i style="top:9px;left:0;width:160px;background:linear-gradient(90deg,#53ffac,#53ffac,#53ffac,#54ffab,#55ffaa,#57ffa8,#59ffa6,#5dffa2,#5fffa0,#60ff9f,#56ffa9,#4affb5,#3dffc2,#2effd1,#1dffe2,#0cfff3,#00faff,#00edff,#00e6ff,#00dfff,#00dfff,#00e5ff,#00ecff,#00f8ff,#0afff5,#1bffe4,#2cffd3,#3bffc4,#48ffb7,#55ffaa,#5fffa0,#60ff9f,#5dffa2,#5affa5,#57ffa8,#55ffaa,#54ffab,#53ffac,#53ffac,#53ffac,#53ffac)"></i><i style="top:10px;left:0;width:160px;background:linear-gradient(90deg,#55ffaa,#55ffaa,#55ffaa,#55ffaa,#56ffa9,#58ffa7,#5bffa4,#5fffa0,#62ff9d,#63ff9c,#59ffa6,#4cffb3,#3effc1,#2effd1,#1dffe2,#0cfff3,#00faff,#00edff,#00e6ff,#00dfff,#00dfff,#00e5ff,#00ecff,#00f8ff,#0afff5,#1bffe4,#2cffd3,#3cffc3,#4affb5,#57ffa8,#62ff9d,#63ff9c,#60ff9f,#5cffa3,#58ffa7,#56ffa9,#55ffaa,#55ffaa,#55ffaa,#55ffaa,#55ffaa)"></i><i style="top:11px;left:0;width:160px;background:linear-gradient(90deg,#56ffa9,#56ffa9,#56ffa9,#56ffa9,#57ffa8,#5affa5,#5dffa2,#62ff9d,#65ff9a,#66ff99,#5bffa4,#4dffb2,#3fffc0,#2fffd0,#1effe1,#0cfff3,#00faff,#00edff,#00e6ff,#00dfff,#00dfff,#00e5ff,#00ecff,#00f8ff,#0afff5,#1cffe3,#2dffd2,#3dffc2,#4bffb4,#59ffa6,#65ff9a,#65ff9a,#62ff9d,#5effa1,#5affa5,#58ffa7,#56ffa9,#56ffa9,#56ffa9,#56ffa9,#56ffa9)"></i><i style="top:12px;left:0;width:160px;background:linear-gradient(90deg,#57ffa8,#57ffa8,#57ffa8,#57ffa8,#58ffa7,#5bffa4,#5fffa0,#64ff9b,#68ff97,#69ff96,#5effa1,#4fffb0,#40ffbf,#30ffcf,#1effe1,#0cfff3,#00faff,#00edff,#00e6ff,#00dfff,#00dfff,#00e5ff,#00ecff,#00f8ff,#0afff5,#1cffe3,#2dffd2,#3effc1,#4dffb2,#5cffa3,#68ff97,#68ff97,#65ff9a,#60ff9f,#5cffa3,#59ffa6,#57ffa8,#57ffa8,#57ffa8,#57ffa8,#57ffa8)"></i><i style="top:13px;left:0;width:160px;background:linear-gradient(90deg,#58ffa7,#58ffa7,#58ffa7,#58ffa7,#5affa5,#5dffa2,#61ff9e,#67ff98,#6bff94,#6cff93,#60ff9f,#50ffaf,#41ffbe,#30ffcf,#1effe1,#0dfff2,#00faff,#00edff,#00e6ff,#00dfff,#00dfff,#00e5ff,#00ecff,#00f8ff,#0afff5,#1cffe3,#2effd1,#3fffc0,#4effb1,#5effa1,#6bff94,#6bff94,#67ff98,#62ff9d,#5dffa2,#5affa5,#58ffa7,#58ffa7,#58ffa7,#58ffa7,#58ffa7)"></i><i style="top:14px;left:0;width:160px;background:linear-gradient(90deg,#59ffa6,#59ffa6,#59ffa6,#59ffa6,#5bffa4,#5effa1,#63ff9c,#69ff96,#6eff91,#6fff90,#62ff9d,#52ffad,#42ffbd,#31ffce,#1fffe0,#0dfff2,#00faff,#00edff,#00e6ff,#00dfff,#00dfff,#00e5ff,#00ecff,#00f8ff,#0bfff4,#1dffe2,#2fffd0,#3fffc0,#50ffaf,#60ff9f,#6eff91,#6eff91,#6aff95,#64ff9b,#5fffa0,#5bffa4,#59ffa6,#59ffa6,#59ffa6,#59ffa6,#59ffa6)"></i><i style="top:15px;left:0;width:160px;background:linear-gradient(90deg,#5affa5,#5affa5,#5affa5,#5affa5,#5cffa3,#60ff9f,#65ff9a,#6cff93,#71ff8e,#72ff8d,#65ff9a,#53ffac,#43ffbc,#31ffce,#1fffe0,#0dfff2,#00faff,#00edff,#00e6ff,#00dfff,#00dfff,#00e5ff,#00ecff,#00f8ff,#0bfff4,#1dffe2,#2fffd0,#40ffbf,#51ffae,#63ff9c,#71ff8e,#71ff8e,#6dff92,#66ff99,#60ff9f,#5dffa2,#5affa5,#5affa5,#5affa5,#5affa5,#5affa5)"></i><i style="top:16px;left:0;width:160px;background:linear-gradient(90deg,#5bffa4,#5bffa4,#5bffa4,#5bffa4,#5effa1,#61ff9e,#67ff98,#6eff91,#74ff8b,#75ff8a,#67ff98,#55ffaa,#44ffbb,#32ffcd,#20ffdf,#0dfff2,#00faff,#00edff,#00e6ff,#00dfff,#00dfff,#00e5ff,#00ecff,#00f8ff,#0bfff4,#1dffe2,#30ffcf,#41ffbe,#53ffac,#65ff9a,#74ff8b,#74ff8b,#6fff90,#68ff97,#62ff9d,#5effa1,#5bffa4,#5bffa4,#5bffa4,#5bffa4,#5bffa4)"></i><i style="top:17px;left:0;width:160px;background:linear-gradient(90deg,#5cffa3,#5cffa3,#5cffa3,#5cffa3,#5fffa0,#63ff9c,#69ff96,#71ff8e,#77ff88,#78ff87,#69ff96,#57ffa8,#45ffba,#32ffcd,#20ffdf,#0efff1,#00faff,#00edff,#00e6ff,#00dfff,#00dfff,#00e5ff,#00ecff,#00f8ff,#0bfff4,#1effe1,#30ffcf,#42ffbd,#54ffab,#67ff98,#77ff88,#77ff88,#72ff8d,#6aff95,#64ff9b,#5fffa0,#5cffa3,#5cffa3,#5cffa3,#5cffa3,#5cffa3)"></i><i style="top:18px;left:0;width:160px;background:linear-gradient(90deg,#5dffa2,#5dffa2,#5dffa2,#5dffa2,#60ff9f,#64ff9b,#6bff94,#74ff8b,#7aff85,#7bff84,#6cff93,#58ffa7,#46ffb9,#33ffcc,#20ffdf,#0efff1,#00faff,#00edff,#00e6ff,#00dfff,#00dfff,#00e5ff,#00ecff,#00f8ff,#0bfff4,#1effe1,#31ffce,#43ffbc,#56ffa9,#69ff96,#7aff85,#7aff85,#74ff8b,#6cff93,#65ff9a,#61ff9e,#5effa1,#5dffa2,#5dffa2,#5dffa2,#5dffa2)"></i><i style="top:19px;left:0;width:160px;background:linear-gradient(90deg,#5effa1,#5effa1,#5effa1,#5effa1,#61ff9e,#66ff99,#6dff92,#76ff89,#7dff82,#7eff81,#6eff91,#5affa5,#47ffb8,#34ffcb,#21ffde,#0efff1,#00faff,#00edff,#00e6ff,#00dfff,#00dfff,#00e5ff,#00ecff,#00f8ff,#0cfff3,#1effe1,#31ffce,#44ffbb,#57ffa8,#6cff93,#7dff82,#7dff82,#77ff88,#6eff91,#67ff98,#62ff9d,#5fffa0,#5effa1,#5effa1,#5effa1,#5effa1)"></i><i style="top:20px;left:0;width:160px;background:linear-gradient(90deg,#5fffa0,#5fffa0,#5fffa0,#60ff9f,#63ff9c,#68ff97,#70ff8f,#79ff86,#80ff7f,#81ff7e,#71ff8e,#5cffa3,#48ffb7,#34ffcb,#21ffde,#0efff1,#00faff,#00edff,#00e6ff,#00dfff,#00dfff,#00e5ff,#00ecff,#00f8ff,#0cfff3,#1fffe0,#32ffcd,#45ffba,#59ffa6,#6eff91,#80ff7f,#80ff7f,#7aff85,#71ff8e,#69ff96,#63ff9c,#60ff9f,#5fffa0,#5fffa0,#5fffa0,#5fffa0)"></i><i style="top:21px;left:0;width:160px;background:linear-gradient(90deg,#60ff9f,#60ff9f,#60ff9f,#61ff9e,#64ff9b,#6aff95,#72ff8d,#7cff83,#83ff7c,#85ff7a,#73ff8c,#5dffa2,#49ffb6,#35ffca,#21ffde,#0efff1,#00faff,#00edff,#00e6ff,#00dfff,#00deff,#00e5ff,#00ecff,#00f8ff,#0cfff3,#1fffe0,#32ffcd,#46ffb9,#5bffa4,#71ff8e,#84ff7b,#84ff7b,#7dff82,#73ff8c,#6bff94,#65ff9a,#61ff9e,#60ff9f,#60ff9f,#60ff9f,#60ff9f)"></i><i style="top:22px;left:0;width:160px;background:linear-gradient(90deg,#61ff9e,#61ff9e,#61ff9e,#62ff9d,#66ff99,#6cff93,#75ff8a,#7fff80,#86ff79,#88ff77,#76ff89,#5fffa0,#4affb5,#35ffca,#21ffde,#0efff1,#00faff,#00ecff,#00e5ff,#00dfff,#00deff,#00e4ff,#00ebff,#00f8ff,#0cfff3,#1fffe0,#33ffcc,#47ffb8,#5dffa2,#73ff8c,#87ff78,#87ff78,#80ff7f,#76ff89,#6dff92,#66ff99,#62ff9d,#61ff9e,#61ff9e,#61ff9e,#61ff9e)"></i><i style="top:23px;left:0;width:160px;background:linear-gradient(90deg,#62ff9d,#62ff9d,#62ff9d,#63ff9c,#68ff97,#6eff91,#78ff87,#82ff7d,#8aff75,#8cff73,#79ff86,#61ff9e,#4bffb4,#35ffca,#21ffde,#0efff1,#00f9ff,#00ebff,#00e4ff,#00deff,#00ddff,#00e4ff,#00eaff,#00f7ff,#0bfff4,#1fffe0,#33ffcc,#48ffb7,#5effa1,#76ff89,#8bff74,#8bff74,#83ff7c,#79ff86,#6fff90,#68ff97,#63ff9c,#63ff9c,#62ff9d,#62ff9d,#62ff9d)"></i><i style="top:24px;left:0;width:160px;background:linear-gradient(90deg,#63ff9c,#63ff9c,#64ff9b,#64ff9b,#69ff96,#71ff8e,#7bff84,#86ff79,#8eff71,#90ff6f,#7cff83,#63ff9c,#4cffb3,#36ffc9,#21ffde,#0dfff2,#00f8ff,#00eaff,#00e4ff,#00ddff,#00ddff,#00e3ff,#00e9ff,#00f6ff,#0bfff4,#1fffe0,#33ffcc,#49ffb6,#60ff9f,#79ff86,#8eff71,#8fff70,#87ff78,#7cff83,#72ff8d,#6aff95,#65ff9a,#64ff9b,#63ff9c,#63ff9c,#62ff9d)"></i><i style="top:25px;left:0;width:160px;background:linear-gradient(90deg,#63ff9c,#64ff9b,#65ff9a,#66ff99,#6bff94,#74ff8b,#7eff81,#8aff75,#92ff6d,#94ff6b,#7fff80,#65ff9a,#4dffb2,#36ffc9,#21ffde,#0cfff3,#00f7ff,#00e9ff,#00e3ff,#00ddff,#00dcff,#00e2ff,#00e8ff,#00f5ff,#0afff5,#1effe1,#33ffcc,#4affb5,#62ff9d,#7cff83,#92ff6d,#93ff6c,#8bff74,#80ff7f,#75ff8a,#6cff93,#66ff99,#65ff9a,#64ff9b,#63ff9c,#63ff9c)"></i><i style="top:26px;left:0;width:160px;background:linear-gradient(90deg,#64ff9b,#65ff9a,#66ff99,#67ff98,#6dff92,#77ff88,#82ff7d,#8eff71,#96ff69,#98ff67,#83ff7c,#68ff97,#4effb1,#36ffc9,#21ffde,#0cfff3,#00f6ff,#00e8ff,#00e2ff,#00dcff,#00dbff,#00e1ff,#00e7ff,#00f4ff,#09fff6,#1effe1,#33ffcc,#4bffb4,#64ff9b,#7fff80,#96ff69,#97ff68,#8fff70,#83ff7c,#78ff87,#6eff91,#67ff98,#66ff99,#65ff9a,#64ff9b,#64ff9b)"></i><i style="top:27px;left:0;width:160px;background:linear-gradient(90deg,#65ff9a,#66ff99,#67ff98,#68ff97,#6fff90,#7aff85,#85ff7a,#91ff6e,#9aff65,#9cff63,#86ff79,#6aff95,#50ffaf,#37ffc8,#21ffde,#0bfff4,#00f5ff,#00e7ff,#00e1ff,#00dbff,#00dbff,#00e0ff,#00e6ff,#00f3ff,#08fff7,#1effe1,#34ffcb,#4dffb2,#67ff98,#83ff7c,#9aff65,#9bff64,#93ff6c,#87ff78,#7bff84,#71ff8e,#69ff96,#67ff98,#66ff99,#65ff9a,#64ff9b)"></i><i style="top:28px;left:0;width:160px;background:linear-gradient(90deg,#66ff99,#67ff98,#68ff97,#69ff96,#71ff8e,#7dff82,#89ff76,#95ff6a,#9eff61,#a0ff5f,#8aff75,#6dff92,#51ffae,#37ffc8,#20ffdf,#0bfff4,#00f4ff,#00e6ff,#00e0ff,#00daff,#00daff,#00dfff,#00e5ff,#00f2ff,#08fff7,#1effe1,#34ffcb,#4effb1,#69ff96,#86ff79,#9fff60,#9fff60,#97ff68,#8aff75,#7eff81,#73ff8c,#6aff95,#68ff97,#67ff98,#66ff99,#65ff9a)"></i><i style="top:29px;left:0;width:160px;background:linear-gradient(90deg,#66ff99,#68ff97,#69ff96,#6bff94,#73ff8c,#80ff7f,#8cff73,#99ff66,#a2ff5d,#a4ff5b,#8eff71,#70ff8f,#53ffac,#38ffc7,#20ffdf,#0afff5,#00f3ff,#00e5ff,#00dfff,#00daff,#00d9ff,#00deff,#00e4ff,#00f1ff,#07fff8,#1dffe2,#35ffca,#4fffb0,#6cff93,#8aff75,#a3ff5c,#a3ff5c,#9bff64,#8eff71,#81ff7e,#75ff8a,#6bff94,#69ff96,#68ff97,#66ff99,#66ff99)"></i><i style="top:30px;left:0;width:160px;background:linear-gradient(90deg,#67ff98,#68ff97,#6aff95,#6cff93,#75ff8a,#82ff7d,#90ff6f,#9dff62,#a7ff58,#a9ff56,#92ff6d,#73ff8c,#55ffaa,#38ffc7,#20ffdf,#09fff6,#00f2ff,#00e3ff,#00deff,#00d9ff,#00d8ff,#00ddff,#00e3ff,#00f0ff,#07fff8,#1dffe2,#35ffca,#51ffae,#6fff90,#8eff71,#a8ff57,#a8ff57,#9fff60,#92ff6d,#84ff7b,#77ff88,#6dff92,#6aff95,#69ff96,#67ff98,#66ff99)"></i><i style="top:31px;left:0;width:160px;background:linear-gradient(90deg,#68ff97,#69ff96,#6bff94,#6dff92,#77ff88,#85ff7a,#93ff6c,#a1ff5e,#abff54,#aeff51,#97ff68,#77ff88,#57ffa8,#39ffc6,#20ffdf,#09fff6,#00f1ff,#00e2ff,#00ddff,#00d8ff,#00d8ff,#00dcff,#00e1ff,#00efff,#06fff9,#1dffe2,#36ffc9,#53ffac,#73ff8c,#93ff6c,#adff52,#acff53,#a3ff5c,#95ff6a,#87ff78,#79ff86,#6eff91,#6bff94,#6aff95,#68ff97,#67ff98)"></i><i style="top:32px;left:0;width:160px;background:linear-gradient(90deg,#69ff96,#6aff95,#6cff93,#6fff90,#79ff86,#88ff77,#97ff68,#a5ff5a,#b0ff4f,#b4ff4b,#9dff62,#7bff84,#59ffa6,#3affc5,#20ffdf,#08fff7,#00f0ff,#00e1ff,#00dcff,#00d7ff,#00d7ff,#00dbff,#00e0ff,#00eeff,#05fffa,#1dffe2,#36ffc9,#55ffaa,#77ff88,#99ff66,#b2ff4d,#b1ff4e,#a7ff58,#99ff66,#8aff75,#7bff84,#6fff90,#6cff93,#6aff95,#69ff96,#68ff97)"></i><i style="top:33px;left:0;width:160px;background:linear-gradient(90deg,#69ff96,#6bff94,#6dff92,#70ff8f,#7bff84,#8bff74,#9bff64,#a9ff56,#b5ff4a,#baff45,#a3ff5c,#80ff7f,#5cffa3,#3bffc4,#20ffdf,#08fff7,#00efff,#00e0ff,#00dbff,#00d7ff,#00d6ff,#00daff,#00dfff,#00ecff,#05fffa,#1dffe2,#37ffc8,#57ffa8,#7cff83,#9fff60,#b9ff46,#b6ff49,#abff54,#9cff63,#8dff72,#7dff82,#71ff8e,#6dff92,#6bff94,#69ff96,#68ff97)"></i><i style="top:34px;left:0;width:160px;background:linear-gradient(90deg,#6aff95,#6cff93,#6eff91,#71ff8e,#7dff82,#8eff71,#9eff61,#aeff51,#baff45,#c1ff3e,#abff54,#86ff79,#5fffa0,#3cffc3,#20ffdf,#07fff8,#00eeff,#00dfff,#00daff,#00d6ff,#00d5ff,#00d9ff,#00deff,#00ebff,#04fffb,#1dffe2,#38ffc7,#5affa5,#81ff7e,#a7ff58,#c0ff3f,#bcff43,#afff50,#a0ff5f,#90ff6f,#7fff80,#72ff8d,#6eff91,#6cff93,#6aff95,#69ff96)"></i><i style="top:35px;left:0;width:160px;background:linear-gradient(90deg,#6bff94,#6dff92,#6fff90,#72ff8d,#7fff80,#91ff6e,#a2ff5d,#b2ff4d,#c0ff3f,#caff35,#b5ff4a,#8cff73,#62ff9d,#3dffc2,#20ffdf,#07fff8,#00edff,#00deff,#00d9ff,#00d5ff,#00d5ff,#00d9ff,#00ddff,#00eaff,#03fffc,#1dffe2,#39ffc6,#5dffa2,#87ff78,#b1ff4e,#c9ff36,#c2ff3d,#b4ff4b,#a4ff5b,#93ff6c,#81ff7e,#73ff8c,#6fff90,#6dff92,#6bff94,#6aff95)"></i><i style="top:36px;left:0;width:160px;background:linear-gradient(90deg,#6bff94 0px,#6eff91 4px,#70ff8f 8px,#73ff8c 12px,#81ff7e 16px,#94ff6b 20px,#a5ff5a 24px,#b6ff49 28px,#c1ff3e 31px,#c5ff3a 32px,#caff35 33px,#ceff31 34px,#d2ff2d 35px,#d4ff2b 36px,#d3ff2c 37px,#d0ff2f 38px,#caff35 39px,#c2ff3d 40px,#b8ff47 41px,#acff53 42px,#a0ff5f 43px,#94ff6b 44px,#65ff9a 48px,#3effc1 52px,#20ffdf 56px,#06fff9 60px,#00ecff 64px,#00ddff 68px,#00d8ff 72px,#00d5ff 76px,#00d4ff 80px,#00d8ff 84px,#00dcff 88px,#00eaff 92px,#03fffc 96px,#1dffe2 100px,#3affc5 104px,#60ff9f 108px,#8eff71 112px,#9aff65 113px,#a6ff59 114px,#b2ff4d 115px,#bdff42 116px,#c6ff39 117px,#cdff32 118px,#d2ff2d 119px,#d4ff2b 120px,#d3ff2c 121px,#d0ff2f 122px,#ccff33 123px,#c8ff37 124px,#c3ff3c 125px,#b8ff47 128px,#a7ff58 132px,#96ff69 136px,#83ff7c 140px,#74ff8b 144px,#70ff8f 148px,#6eff91 152px,#6bff94 156px,#6aff95 160px)"></i><i style="top:37px;left:0;width:160px;background:linear-gradient(90deg,#6cff93 0px,#6eff91 4px,#71ff8e 8px,#74ff8b 12px,#82ff7d 16px,#96ff69 20px,#a7ff58 24px,#b9ff46 28px,#c6ff39 31px,#cbff34 32px,#d0ff2f 33px,#d6ff29 34px,#dcff23 35px,#e0ff1f 36px,#e2ff1d 37px,#e0ff1f 38px,#dbff24 39px,#d2ff2d 40px,#c6ff39 41px,#b8ff47 42px,#aaff55 43px,#9cff63 44px,#68ff97 48px,#3fffc0 52px,#20ffdf 56px,#06fff9 60px,#00ecff 64px,#00dcff 68px,#00d8ff 72px,#00d4ff 76px,#00d4ff 80px,#00d7ff 84px,#00dbff 88px,#00e9ff 92px,#03fffc 96px,#1dffe2 100px,#3bffc4 104px,#62ff9d 108px,#95ff6a 112px,#a3ff5c 113px,#b1ff4e 114px,#bfff40 115px,#ccff33 116px,#d7ff28 117px,#deff21 118px,#e2ff1d 119px,#e2ff1d 120px,#deff21 121px,#d9ff26 122px,#d3ff2c 123px,#cdff32 124px,#c8ff37 125px,#bbff44 128px,#aaff55 132px,#98ff67 136px,#84ff7b 140px,#75ff8a 144px,#71ff8e 148px,#6fff90 152px,#6cff93 156px,#6bff94 160px)"></i><i style="top:38px;left:0;width:160px;background:linear-gradient(90deg,#6cff93 0px,#6fff90 4px,#71ff8e 8px,#75ff8a 12px,#83ff7c 16px,#97ff68 20px,#a9ff56 24px,#bcff43 28px,#caff35 31px,#d0ff2f 32px,#d7ff28 33px,#dfff20 34px,#e8ff17 35px,#f0ff0f 36px,#f5ff0a 37px,#f6ff09 38px,#f1ff0e 39px,#e5ff1a 40px,#d6ff29 41px,#c5ff3a 42px,#b4ff4b 43px,#a4ff5b 44px,#6bff94 48px,#40ffbf 52px,#21ffde 56px,#06fff9 60px,#00ebff 64px,#00dcff 68px,#00d7ff 72px,#00d4ff 76px,#00d3ff 80px,#00d7ff 84px,#00dbff 88px,#00e8ff 92px,#02fffd 96px,#1dffe2 100px,#3bffc4 104px,#65ff9a 108px,#9cff63 112px,#acff53 113px,#bdff42 114px,#ceff31 115px,#deff21 116px,#ecff13 117px,#f4ff0b 118px,#f7ff08 119px,#f3ff0c 120px,#ecff13 121px,#e3ff1c 122px,#dbff24 123px,#d3ff2c 124px,#cdff32 125px,#beff41 128px,#acff53 132px,#9aff65 136px,#85ff7a 140px,#76ff89 144px,#72ff8d 148px,#6fff90 152px,#6cff93 156px,#6bff94 160px)"></i><i style="top:39px;left:0;width:160px;background:linear-gradient(90deg,#6dff92 0px,#6fff90 4px,#72ff8d 8px,#75ff8a 12px,#84ff7b 16px,#98ff67 20px,#aaff55 24px,#beff41 28px,#ceff31 31px,#d5ff2a 32px,#ddff22 33px,#e8ff17 34px,#f5ff0a 35px,#fffb00 36px,#ffef00 37px,#ffea00 38px,#fff100 39px,#feff01 40px,#e9ff16 41px,#d4ff2b 42px,#bfff40 43px,#acff53 44px,#6eff91 48px,#41ffbe 52px,#21ffde 56px,#05fffa 60px,#00ebff 64px,#00dbff 68px,#00d7ff 72px,#00d3ff 76px,#00d3ff 80px,#00d6ff 84px,#00daff 88px,#00e8ff 92px,#02fffd 96px,#1dffe2 100px,#3cffc3 104px,#67ff98 108px,#a3ff5c 112px,#b5ff4a 113px,#c9ff36 114px,#deff21 115px,#f4ff0b 116px,#fff800 117px,#ffec00 118px,#ffeb00 119px,#fff400 120px,#fdff02 121px,#efff10 122px,#e3ff1c 123px,#d9ff26 124px,#d1ff2e 125px,#c0ff3f 128px,#adff52 132px,#9aff65 136px,#86ff79 140px,#76ff89 144px,#72ff8d 148px,#6fff90 152px,#6dff92 156px,#6bff94 160px)"></i><i style="top:40px;left:0;width:160px;background:linear-gradient(90deg,#6cff93 0px,#6fff90 4px,#71ff8e 8px,#75ff8a 12px,#83ff7c 16px,#98ff67 20px,#abff54 24px,#bfff40 28px,#d2ff2d 31px,#daff25 32px,#e5ff1a 33px,#f3ff0c 34px,#fffa00 35px,#ffe400 36px,#ffcd00 37px,#ffc100 38px,#ffcb00 39px,#ffe500 40px,#fcff03 41px,#e1ff1e 42px,#c8ff37 43px,#b2ff4d 44px,#70ff8f 48px,#41ffbe 52px,#21ffde 56px,#05fffa 60px,#00ebff 64px,#00dbff 68px,#00d7ff 72px,#00d3ff 76px,#00d3ff 80px,#00d6ff 84px,#00daff 88px,#00e8ff 92px,#02fffd 96px,#1dffe2 100px,#3dffc2 104px,#69ff96 108px,#a8ff57 112px,#bdff42 113px,#d4ff2b 114px,#eeff11 115px,#fff300 116px,#ffd700 117px,#ffc400 118px,#ffc500 119px,#ffd800 120px,#ffef00 121px,#fbff04 122px,#ebff14 123px,#dfff20 124px,#d6ff29 125px,#c2ff3d 128px,#adff52 132px,#9bff64 136px,#86ff79 140px,#76ff89 144px,#72ff8d 148px,#6fff90 152px,#6cff93 156px,#6bff94 160px)"></i><i style="top:41px;left:0;width:160px;background:linear-gradient(90deg,#6bff94 0px,#6dff92 4px,#70ff8f 8px,#74ff8b 12px,#82ff7d 16px,#97ff68 20px,#aaff55 24px,#bfff40 28px,#d5ff2a 31px,#dfff20 32px,#edff12 33px,#ffff00 34px,#ffe900 35px,#ffcc00 36px,#ffa500 37px,#ff8700 38px,#ff9e00 39px,#ffca00 40px,#fff200 41px,#ebff14 42px,#cfff30 43px,#b7ff48 44px,#70ff8f 48px,#41ffbe 52px,#21ffde 56px,#05fffa 60px,#00ebff 64px,#00dbff 68px,#00d6ff 72px,#00d3ff 76px,#00d3ff 80px,#00d6ff 84px,#00daff 88px,#00e8ff 92px,#02fffd 96px,#1dffe2 100px,#3cffc3 104px,#6aff95 108px,#acff53 112px,#c2ff3d 113px,#dcff23 114px,#fbff04 115px,#ffdf00 116px,#ffb400 117px,#ff8c00 118px,#ff9200 119px,#ffba00 120px,#ffdb00 121px,#fff400 122px,#f6ff09 123px,#e6ff19 124px,#daff25 125px,#c2ff3d 128px,#acff53 132px,#99ff66 136px,#85ff7a 140px,#75ff8a 144px,#71ff8e 148px,#6eff91 152px,#6bff94 156px,#69ff96 160px)"></i><i style="top:42px;left:0;width:160px;background:linear-gradient(90deg,#67ff98 0px,#69ff96 4px,#6cff93 8px,#70ff8f 12px,#7eff81 16px,#93ff6c 20px,#a6ff59 24px,#bdff42 28px,#d6ff29 31px,#e3ff1c 32px,#f4ff0b 33px,#fff300 34px,#ffd400 35px,#ffaf00 36px,#ff7d00 37px,#ff3100 38px,#ff8000 39px,#ffbe00 40px,#ffec00 41px,#eeff11 42px,#d1ff2e 43px,#b8ff47 44px,#70ff8f 48px,#40ffbf 52px,#1fffe0 56px,#04fffb 60px,#00eaff 64px,#00daff 68px,#00d6ff 72px,#00d2ff 76px,#00d2ff 80px,#00d5ff 84px,#00daff 88px,#00e7ff 92px,#01fffe 96px,#1cffe3 100px,#3bffc4 104px,#69ff96 108px,#adff52 112px,#c4ff3b 113px,#dfff20 114px,#ffff00 115px,#ffd600 116px,#ffa200 117px,#ff5500 118px,#ff5c00 119px,#ff9800 120px,#ffc300 121px,#ffe400 122px,#ffff00 123px,#ebff14 124px,#dcff23 125px,#c1ff3e 128px,#a9ff56 132px,#95ff6a 136px,#81ff7e 140px,#71ff8e 144px,#6dff92 148px,#6aff95 152px,#67ff98 156px,#65ff9a 160px)"></i><i style="top:43px;left:0;width:160px;background:linear-gradient(90deg,#5effa1 0px,#60ff9f 4px,#63ff9c 8px,#67ff98 12px,#75ff8a 16px,#8aff75 20px,#9dff62 24px,#bcff43 28px,#d9ff26 31px,#e7ff18 32px,#faff05 33px,#ffea00 34px,#ffc600 35px,#ff9300 36px,#ff4700 37px,#ff5f00 38px,#ff9c00 39px,#ffca00 40px,#fff200 41px,#eaff15 42px,#ceff31 43px,#b5ff4a 44px,#6dff92 48px,#3dffc2 52px,#1cffe3 56px,#02fffd 60px,#00e8ff 64px,#00d9ff 68px,#00d5ff 72px,#00d1ff 76px,#00d1ff 80px,#00d4ff 84px,#00d8ff 88px,#00e5ff 92px,#00fdff 96px,#19ffe6 100px,#38ffc7 104px,#66ff99 108px,#aaff55 112px,#c1ff3e 113px,#dbff24 114px,#faff05 115px,#ffdf00 116px,#ffb400 117px,#ff8100 118px,#ff3600 119px,#ff7000 120px,#ffaf00 121px,#ffda00 122px,#fff800 123px,#f0ff0f 124px,#e0ff1f 125px,#c0ff3f 128px,#a0ff5f 132px,#8cff73 136px,#78ff87 140px,#68ff97 144px,#64ff9b 148px,#61ff9e 152px,#5effa1 156px,#5cffa3 160px)"></i><i style="top:44px;left:0;width:160px;background:linear-gradient(90deg,#4fffb0 0px,#51ffae 4px,#54ffab 8px,#59ffa6 12px,#67ff98 16px,#7bff84 20px,#8fff70 24px,#aeff51 28px,#cfff30 31px,#dfff20 32px,#f3ff0c 33px,#fff100 34px,#ffce00 35px,#ffa100 36px,#ff7600 37px,#ff8f00 38px,#ffbe00 39px,#ffe400 40px,#fbff04 41px,#dfff20 42px,#c5ff3a 43px,#aeff51 44px,#67ff98 48px,#37ffc8 52px,#17ffe8 56px,#00fcff 60px,#00e5ff 64px,#00d7ff 68px,#00d2ff 72px,#00cfff 76px,#00ceff 80px,#00d2ff 84px,#00d6ff 88px,#00e3ff 92px,#00f9ff 96px,#14ffeb 100px,#33ffcc 104px,#60ff9f 108px,#a4ff5b 112px,#baff45 113px,#d2ff2d 114px,#edff12 115px,#fff400 116px,#ffd200 117px,#ffa800 118px,#ff7a00 119px,#ff8900 120px,#ffb900 121px,#ffe100 122px,#ffff00 123px,#e8ff17 124px,#d6ff29 125px,#b2ff4d 128px,#92ff6d 132px,#7dff82 136px,#69ff96 140px,#5affa5 144px,#55ffaa 148px,#51ffae 152px,#4fffb0 156px,#4dffb2 160px)"></i><i style="top:45px;left:35px;width:87px;background:linear-gradient(90deg,#ffe400 0px,#ffc700 1px,#ffb200 2px,#ffbf00 3px,#ffdb00 4px,#fffa00 5px,#e8ff17 6px,#d0ff2f 7px,#baff45 8px,#a5ff5a 9px,#6eff91 12px,#45ffba 15px,#27ffd8 18px,#10ffef 21px,#00fcff 24px,#00ecff 27px,#00dcff 30px,#00d3ff 33px,#00d0ff 36px,#00cdff 39px,#00cbff 42px,#00cbff 45px,#00ceff 48px,#00d0ff 51px,#00d4ff 54px,#00dfff 57px,#00eeff 60px,#00ffff 63px,#14ffeb 66px,#2bffd4 69px,#4bffb4 72px,#76ff89 75px,#afff50 78px,#c5ff3a 79px,#dcff23 80px,#f6ff09 81px,#ffeb00 82px,#ffcc00 83px,#ffb600 84px,#ffbb00 85px,#ffd500 86px,#fff200 87px)"></i><i style="top:46px;left:35px;width:87px;background:linear-gradient(90deg,#fffd00 0px,#ffeb00 1px,#ffda00 2px,#ffe700 3px,#fff900 4px,#efff10 5px,#d7ff28 6px,#c1ff3e 7px,#acff53 8px,#98ff67 9px,#64ff9b 12px,#3cffc3 15px,#1fffe0 18px,#09fff6 21px,#00f5ff 24px,#00e6ff 27px,#00d8ff 30px,#00cfff 33px,#00ccff 36px,#00c9ff 39px,#00c7ff 42px,#00c7ff 45px,#00caff 48px,#00ccff 51px,#00d0ff 54px,#00daff 57px,#00e8ff 60px,#00f8ff 63px,#0cfff3 66px,#23ffdc 69px,#42ffbd 72px,#6cff93 75px,#a2ff5d 78px,#b6ff49 79px,#ccff33 80px,#e3ff1c 81px,#faff05 82px,#ffef00 83px,#ffe000 84px,#ffe300 85px,#fff400 86px,#f7ff08 87px)"></i><i style="top:47px;left:35px;width:87px;background:linear-gradient(90deg,#e9ff16 0px,#f6ff09 1px,#fff700 2px,#f8ff07 3px,#eaff15 4px,#d9ff26 5px,#c6ff39 6px,#b2ff4d 7px,#9eff61 8px,#8bff74 9px,#59ffa6 12px,#32ffcd 15px,#16ffe9 18px,#00ffff 21px,#00eeff 24px,#00e0ff 27px,#00d3ff 30px,#00cbff 33px,#00c8ff 36px,#00c5ff 39px,#00c3ff 42px,#00c3ff 45px,#00c6ff 48px,#00c8ff 51px,#00ccff 54px,#00d5ff 57px,#00e2ff 60px,#00f1ff 63px,#04fffb 66px,#1affe5 69px,#38ffc7 72px,#61ff9e 75px,#95ff6a 78px,#a8ff57 79px,#bcff43 80px,#d0ff2f 81px,#e2ff1d 82px,#f1ff0e 83px,#ffff00 84px,#fcff03 85px,#efff10 86px,#e1ff1e 87px)"></i><i style="top:48px;left:35px;width:87px;background:linear-gradient(90deg,#d3ff2c 0px,#deff21 1px,#f0ff0f 2px,#dfff20 3px,#d3ff2c 4px,#c5ff3a 5px,#b5ff4a 6px,#a4ff5b 7px,#91ff6e 8px,#7fff80 9px,#4effb1 12px,#29ffd6 15px,#0efff1 18px,#00f8ff 21px,#00e7ff 24px,#00daff 27px,#00ceff 30px,#00c7ff 33px,#00c4ff 36px,#00c1ff 39px,#00bfff 42px,#00bfff 45px,#00c1ff 48px,#00c4ff 51px,#00c8ff 54px,#00d0ff 57px,#00dcff 60px,#00eaff 63px,#00fbff 66px,#12ffed 69px,#2effd1 72px,#55ffaa 75px,#88ff77 78px,#9aff65 79px,#acff53 80px,#beff41 81px,#ccff33 82px,#d9ff26 83px,#e7ff18 84px,#e4ff1b 85px,#d8ff27 86px,#cdff32 87px)"></i><i style="top:49px;left:35px;width:87px;background:linear-gradient(90deg,#c0ff3f 0px,#c9ff36 1px,#deff21 2px,#caff35 3px,#bfff40 4px,#b3ff4c 5px,#a5ff5a 6px,#95ff6a 7px,#84ff7b 8px,#73ff8c 9px,#42ffbd 12px,#1fffe0 15px,#05fffa 18px,#00f0ff 21px,#00e1ff 24px,#00d4ff 27px,#00caff 30px,#00c3ff 33px,#00c0ff 36px,#00bdff 39px,#00bbff 42px,#00bbff 45px,#00bdff 48px,#00c0ff 51px,#00c4ff 54px,#00cbff 57px,#00d6ff 60px,#00e3ff 63px,#00f3ff 66px,#09fff6 69px,#24ffdb 72px,#4affb5 75px,#7bff84 78px,#8cff73 79px,#9dff62 80px,#acff53 81px,#b9ff46 82px,#c4ff3b 83px,#d3ff2c 84px,#d0ff2f 85px,#c4ff3b 86px,#bbff44 87px)"></i><i style="top:50px;left:35px;width:87px;background:linear-gradient(90deg,#aeff51 0px,#b7ff48 1px,#cfff30 2px,#b8ff47 3px,#adff52 4px,#a2ff5d 5px,#95ff6a 6px,#86ff79 7px,#76ff89 8px,#66ff99 9px,#37ffc8 12px,#16ffe9 15px,#00fdff 18px,#00e9ff 21px,#00daff 24px,#00cfff 27px,#00c5ff 30px,#00bfff 33px,#00bcff 36px,#00b9ff 39px,#00b7ff 42px,#00b7ff 45px,#00b9ff 48px,#00bcff 51px,#00c0ff 54px,#00c7ff 57px,#00d1ff 60px,#00dcff 63px,#00ecff 66px,#01fffe 69px,#1bffe4 72px,#3fffc0 75px,#6eff91 78px,#7eff81 79px,#8dff72 80px,#9bff64 81px,#a8ff57 82px,#b2ff4d 83px,#c2ff3d 84px,#beff41 85px,#b2ff4d 86px,#a9ff56 87px)"></i><i style="top:51px;left:35px;width:87px;background:linear-gradient(90deg,#9cff63 0px,#a5ff5a 1px,#c0ff3f 2px,#a7ff58 3px,#9bff64 4px,#91ff6e 5px,#85ff7a 6px,#77ff88 7px,#68ff97 8px,#59ffa6 9px,#2dffd2 12px,#0dfff2 15px,#00f5ff 18px,#00e2ff 21px,#00d5ff 24px,#00caff 27px,#00c1ff 30px,#00bbff 33px,#00b8ff 36px,#00b5ff 39px,#00b3ff 42px,#00b3ff 45px,#00b6ff 48px,#00b9ff 51px,#00bcff 54px,#00c3ff 57px,#00ccff 60px,#00d7ff 63px,#00e5ff 66px,#00f9ff 69px,#12ffed 72px,#34ffcb 75px,#61ff9e 78px,#70ff8f 79px,#7eff81 80px,#8bff74 81px,#96ff69 82px,#a0ff5f 83px,#b2ff4d 84px,#adff52 85px,#a0ff5f 86px,#98ff67 87px)"></i><i style="top:52px;left:35px;width:87px;background:linear-gradient(90deg,#8aff75,#95ff6a,#74ff8b,#4cffb3,#23ffdc,#05fffa,#00eeff,#00dcff,#00cfff,#00c6ff,#00beff,#00b8ff,#00b5ff,#00b2ff,#00b0ff,#00b0ff,#00b3ff,#00b5ff,#00b9ff,#00bfff,#00c7ff,#00d1ff,#00dfff,#00f2ff,#09fff6,#2affd5,#53ffac,#7aff85,#a2ff5d,#86ff79)"></i><i style="top:53px;left:35px;width:87px;background:linear-gradient(90deg,#78ff87,#84ff7b,#64ff9b,#3fffc0,#19ffe6,#00fdff,#00e8ff,#00d7ff,#00caff,#00c1ff,#00baff,#00b5ff,#00b2ff,#00afff,#00adff,#00adff,#00b0ff,#00b2ff,#00b6ff,#00bbff,#00c3ff,#00ccff,#00d9ff,#00ebff,#02fffd,#1fffe0,#45ffba,#69ff96,#92ff6d,#74ff8b)"></i><i style="top:54px;left:35px;width:87px;background:linear-gradient(90deg,#66ff99,#71ff8e,#53ffac,#32ffcd,#10ffef,#00f5ff,#00e2ff,#00d1ff,#00c5ff,#00bdff,#00b7ff,#00b2ff,#00afff,#00acff,#00aaff,#00aaff,#00adff,#00afff,#00b3ff,#00b8ff,#00bfff,#00c7ff,#00d3ff,#00e5ff,#00f9ff,#15ffea,#38ffc7,#58ffa7,#77ff88,#62ff9d)"></i><i style="top:55px;left:35px;width:87px;background:linear-gradient(90deg,#54ffab,#5affa5,#43ffbc,#25ffda,#07fff8,#00eeff,#00dcff,#00cbff,#00c0ff,#00b9ff,#00b3ff,#00afff,#00acff,#00a9ff,#00a7ff,#00a7ff,#00aaff,#00acff,#00b0ff,#00b4ff,#00baff,#00c2ff,#00ceff,#00deff,#00f2ff,#0cfff3,#2bffd4,#48ffb7,#5bffa4,#50ffaf)"></i><i style="top:56px;left:35px;width:87px;background:linear-gradient(90deg,#42ffbd,#46ffb9,#34ffcb,#19ffe6,#00fdff,#00e7ff,#00d6ff,#00c6ff,#00bcff,#00b5ff,#00b0ff,#00acff,#00a9ff,#00a6ff,#00a4ff,#00a4ff,#00a6ff,#00a9ff,#00acff,#00b1ff,#00b6ff,#00bdff,#00c8ff,#00d8ff,#00ebff,#02fffd,#1effe1,#38ffc7,#47ffb8,#3fffc0)"></i><i style="top:57px;left:35px;width:87px;background:linear-gradient(90deg,#31ffce,#34ffcb,#26ffd9,#0efff1,#00f5ff,#00e1ff,#00d0ff,#00c1ff,#00b7ff,#00b1ff,#00acff,#00a8ff,#00a5ff,#00a2ff,#00a0ff,#00a0ff,#00a3ff,#00a6ff,#00a9ff,#00adff,#00b2ff,#00b8ff,#00c3ff,#00d3ff,#00e4ff,#00f8ff,#12ffed,#29ffd6,#35ffca,#2fffd0)"></i><i style="top:58px;left:35px;width:87px;background:linear-gradient(90deg,#23ffdc,#25ffda,#18ffe7,#03fffc,#00ecff,#00daff,#00caff,#00bcff,#00b2ff,#00adff,#00a8ff,#00a4ff,#00a1ff,#009eff,#009cff,#009cff,#009fff,#00a1ff,#00a4ff,#00a8ff,#00aeff,#00b4ff,#00beff,#00cdff,#00ddff,#00f0ff,#07fff8,#1bffe4,#26ffd9,#21ffde)"></i><i style="top:59px;left:35px;width:87px;background:linear-gradient(90deg,#16ffe9,#18ffe7,#0dfff2,#00f9ff,#00e5ff,#00d4ff,#00c5ff,#00b7ff,#00aeff,#00a8ff,#00a3ff,#009fff,#009cff,#009aff,#0097ff,#0098ff,#009aff,#009dff,#00a0ff,#00a4ff,#00a9ff,#00afff,#00b9ff,#00c7ff,#00d6ff,#00e8ff,#00fcff,#0ffff0,#19ffe6,#14ffeb)"></i><i style="top:60px;left:35px;width:87px;background:linear-gradient(90deg,#0bfff4,#0dfff2,#02fffd,#00efff,#00ddff,#00cdff,#00bfff,#00b2ff,#00a9ff,#00a4ff,#009eff,#009aff,#0097ff,#0095ff,#0093ff,#0093ff,#0095ff,#0098ff,#009bff,#009fff,#00a4ff,#00abff,#00b4ff,#00c2ff,#00d0ff,#00e0ff,#00f3ff,#05fffa,#0dfff2,#09fff6)"></i><i style="top:61px;left:35px;width:87px;background:linear-gradient(90deg,#00ffff,#02fffd,#00f7ff,#00e7ff,#00d6ff,#00c7ff,#00baff,#00aeff,#00a5ff,#009fff,#009aff,#0095ff,#0092ff,#0090ff,#008dff,#008eff,#0090ff,#0093ff,#0096ff,#009aff,#00a0ff,#00a6ff,#00b0ff,#00bcff,#00caff,#00d9ff,#00eaff,#00f9ff,#02fffd,#00fdff)"></i><i style="top:62px;left:35px;width:87px;background:linear-gradient(90deg,#00f5ff,#00f7ff,#00eeff,#00deff,#00cfff,#00c1ff,#00b5ff,#00a9ff,#00a0ff,#009aff,#0095ff,#0090ff,#008dff,#008bff,#0088ff,#0089ff,#008bff,#008eff,#0091ff,#0096ff,#009bff,#00a2ff,#00abff,#00b7ff,#00c3ff,#00d1ff,#00e1ff,#00f0ff,#00f7ff,#00f3ff)"></i><i style="top:63px;left:35px;width:87px;background:linear-gradient(90deg,#00ebff,#00ecff,#00e4ff,#00d6ff,#00c8ff,#00bbff,#00afff,#00a4ff,#009cff,#0096ff,#0090ff,#008bff,#0088ff,#0085ff,#0083ff,#0084ff,#0086ff,#0089ff,#008cff,#0091ff,#0097ff,#009dff,#00a6ff,#00b1ff,#00bdff,#00caff,#00d9ff,#00e6ff,#00edff,#00e9ff)"></i><i style="top:64px;left:35px;width:87px;background:linear-gradient(90deg,#00e0ff,#00e2ff,#00daff,#00ceff,#00c0ff,#00b5ff,#00aaff,#009fff,#0097ff,#0091ff,#008bff,#0086ff,#0083ff,#0080ff,#007eff,#007eff,#0081ff,#0083ff,#0087ff,#008cff,#0092ff,#0098ff,#00a1ff,#00abff,#00b7ff,#00c3ff,#00d0ff,#00dcff,#00e2ff,#00dfff)"></i><i style="top:65px;left:35px;width:87px;background:linear-gradient(90deg,#00d6ff,#00d7ff,#00d0ff,#00c4ff,#00b8ff,#00adff,#00a3ff,#0099ff,#0091ff,#008bff,#0085ff,#0081ff,#007eff,#007bff,#0079ff,#0079ff,#007bff,#007eff,#0081ff,#0086ff,#008cff,#0092ff,#009bff,#00a5ff,#00afff,#00baff,#00c6ff,#00d2ff,#00d7ff,#00d4ff)"></i><i style="top:66px;left:35px;width:87px;background:linear-gradient(90deg,#00caff,#00cbff,#00c5ff,#00baff,#00afff,#00a5ff,#009bff,#0092ff,#008bff,#0085ff,#007fff,#007bff,#0078ff,#0075ff,#0073ff,#0073ff,#0076ff,#0079ff,#007cff,#0080ff,#0086ff,#008cff,#0094ff,#009dff,#00a6ff,#00b1ff,#00bcff,#00c6ff,#00ccff,#00c9ff)"></i><i style="top:67px;left:35px;width:87px;background:linear-gradient(90deg,#00beff,#00bfff,#00b9ff,#00afff,#00a4ff,#009bff,#0092ff,#008aff,#0083ff,#007eff,#0079ff,#0075ff,#0072ff,#0070ff,#006eff,#006eff,#0070ff,#0073ff,#0076ff,#007aff,#007fff,#0084ff,#008bff,#0094ff,#009cff,#00a6ff,#00b0ff,#00baff,#00bfff,#00bcff)"></i><i style="top:68px;left:35px;width:87px;background:linear-gradient(90deg,#00b1ff,#00b2ff,#00acff,#00a2ff,#0099ff,#0090ff,#0089ff,#0081ff,#007bff,#0077ff,#0073ff,#006fff,#006dff,#006aff,#0068ff,#0068ff,#006aff,#006dff,#0070ff,#0074ff,#0078ff,#007cff,#0082ff,#008aff,#0092ff,#009aff,#00a4ff,#00adff,#00b2ff,#00b0ff)"></i><i style="top:69px;left:35px;width:87px;background:linear-gradient(90deg,#00a3ff,#00a5ff,#009fff,#0096ff,#008dff,#0085ff,#007fff,#0078ff,#0073ff,#0070ff,#006dff,#006aff,#0067ff,#0064ff,#0062ff,#0062ff,#0065ff,#0067ff,#006aff,#006dff,#0070ff,#0074ff,#0079ff,#0080ff,#0087ff,#008eff,#0098ff,#00a0ff,#00a5ff,#00a2ff)"></i><i style="top:70px;left:35px;width:87px;background:linear-gradient(90deg,#0096ff,#0097ff,#0092ff,#0089ff,#0081ff,#007aff,#0075ff,#006fff,#006bff,#0069ff,#0066ff,#0064ff,#0061ff,#005fff,#005cff,#005dff,#005fff,#0062ff,#0064ff,#0067ff,#0069ff,#006cff,#0070ff,#0076ff,#007bff,#0082ff,#008bff,#0093ff,#0097ff,#0095ff)"></i><i style="top:71px;left:35px;width:87px;background:linear-gradient(90deg,#0088ff,#0089ff,#0084ff,#007dff,#0075ff,#0070ff,#006bff,#0066ff,#0063ff,#0061ff,#0060ff,#005eff,#005cff,#0059ff,#0057ff,#0057ff,#0059ff,#005cff,#005eff,#0060ff,#0062ff,#0064ff,#0067ff,#006cff,#0070ff,#0076ff,#007eff,#0085ff,#0089ff,#0087ff)"></i><i style="top:72px;left:35px;width:87px;background:linear-gradient(90deg,#0079ff,#0079ff,#0076ff,#006fff,#0069ff,#0065ff,#0061ff,#005eff,#005cff,#005bff,#005aff,#0059ff,#0056ff,#0054ff,#0052ff,#0052ff,#0054ff,#0057ff,#0059ff,#005aff,#005bff,#005cff,#005eff,#0062ff,#0065ff,#006aff,#0070ff,#0077ff,#007aff,#0078ff)"></i><i style="top:73px;left:35px;width:87px;background:linear-gradient(90deg,#0068ff,#0069ff,#0066ff,#0061ff,#005dff,#005aff,#0058ff,#0056ff,#0055ff,#0055ff,#0054ff,#0054ff,#0052ff,#004fff,#004dff,#004eff,#0050ff,#0052ff,#0054ff,#0054ff,#0055ff,#0055ff,#0056ff,#0058ff,#005bff,#005eff,#0062ff,#0067ff,#0069ff,#0067ff)"></i><i style="top:74px;left:35px;width:87px;background:linear-gradient(90deg,#0056ff,#0056ff,#0055ff,#0053ff,#0051ff,#0050ff,#004fff,#004fff,#004fff,#004fff,#004fff,#004fff,#004dff,#004bff,#004aff,#004aff,#004cff,#004dff,#004fff,#004fff,#004fff,#004fff,#004fff,#004fff,#0050ff,#0051ff,#0053ff,#0055ff,#0056ff,#0056ff)"></i><i style="top:75px;left:35px;width:87px;background:linear-gradient(90deg,#0043ff,#0043ff,#0043ff,#0044ff,#0045ff,#0046ff,#0047ff,#0048ff,#0049ff,#004aff,#004aff,#004aff,#0049ff,#0047ff,#0046ff,#0046ff,#0048ff,#0049ff,#004bff,#004aff,#0049ff,#0049ff,#0048ff,#0046ff,#0045ff,#0045ff,#0044ff,#0043ff,#0043ff,#0043ff)"></i><i style="top:76px;left:35px;width:87px;background:linear-gradient(90deg,#0030ff,#002fff,#0032ff,#0035ff,#0039ff,#003bff,#003eff,#0041ff,#0043ff,#0044ff,#0046ff,#0046ff,#0045ff,#0044ff,#0043ff,#0043ff,#0044ff,#0045ff,#0046ff,#0045ff,#0044ff,#0043ff,#0040ff,#003eff,#003bff,#0038ff,#0035ff,#0031ff,#002fff,#0030ff)"></i><i style="top:77px;left:35px;width:87px;background:linear-gradient(90deg,#001dff,#001cff,#0020ff,#0026ff,#002cff,#0031ff,#0035ff,#003aff,#003dff,#003fff,#0041ff,#0041ff,#0041ff,#0040ff,#003fff,#003fff,#0040ff,#0041ff,#0041ff,#0040ff,#003eff,#003cff,#0039ff,#0035ff,#0030ff,#002bff,#0025ff,#001fff,#001cff,#001eff)"></i><i style="top:78px;left:35px;width:87px;background:linear-gradient(90deg,#000aff,#0009ff,#000eff,#0017ff,#001fff,#0026ff,#002cff,#0032ff,#0036ff,#0039ff,#003bff,#003cff,#003cff,#003cff,#003bff,#003bff,#003cff,#003cff,#003cff,#003bff,#0038ff,#0036ff,#0031ff,#002bff,#0025ff,#001eff,#0015ff,#000dff,#0009ff,#000bff)"></i><i style="top:79px;left:35px;width:87px;background:linear-gradient(90deg,#0000f7,#0000f5,#0000fc,#0007ff,#0012ff,#001aff,#0022ff,#002aff,#002fff,#0032ff,#0034ff,#0036ff,#0036ff,#0036ff,#0036ff,#0036ff,#0036ff,#0036ff,#0036ff,#0034ff,#0031ff,#002eff,#0028ff,#0021ff,#0019ff,#0010ff,#0005ff,#0000fa,#0000f5,#0000f8)"></i><i style="top:80px;left:35px;width:87px;background:linear-gradient(90deg,#0000e6,#0000e4,#0000eb,#0000f6,#0003ff,#000dff,#0016ff,#001fff,#0025ff,#0029ff,#002cff,#002fff,#002fff,#002fff,#002fff,#002fff,#002fff,#002fff,#002eff,#002cff,#0028ff,#0025ff,#001eff,#0014ff,#000bff,#0001ff,#0000f4,#0000e9,#0000e4,#0000e7)"></i><i style="top:81px;left:35px;width:87px;background:linear-gradient(90deg,#0000d6,#0000d5,#0000db,#0000e7,#0000f2,#0000fd,#0009ff,#0014ff,#001bff,#001fff,#0023ff,#0026ff,#0026ff,#0026ff,#0026ff,#0026ff,#0026ff,#0026ff,#0025ff,#0022ff,#001eff,#001aff,#0012ff,#0007ff,#0000fb,#0000f0,#0000e5,#0000da,#0000d4,#0000d7)"></i><i style="top:82px;left:35px;width:87px;background:linear-gradient(90deg,#0000c8,#0000c7,#0000cd,#0000d8,#0000e3,#0000ef,#0000fb,#0008ff,#0010ff,#0014ff,#0019ff,#001bff,#001cff,#001cff,#001cff,#001cff,#001cff,#001cff,#001bff,#0018ff,#0014ff,#000fff,#0006ff,#0000f9,#0000ed,#0000e1,#0000d6,#0000cc,#0000c6,#0000c9)"></i><i style="top:83px;left:35px;width:87px;background:linear-gradient(90deg,#0000bd,#0000bc,#0000c2,#0000cc,#0000d6,#0000e3,#0000ef,#0000fc,#0005ff,#0009ff,#000eff,#0010ff,#0011ff,#0011ff,#0011ff,#0011ff,#0011ff,#0011ff,#0010ff,#000dff,#0009ff,#0004ff,#0000fa,#0000ed,#0000e1,#0000d5,#0000ca,#0000c0,#0000bb,#0000be)"></i><i style="top:84px;left:35px;width:87px;background:linear-gradient(90deg,#0000b5,#0000b4,#0000b9,#0000c3,#0000cd,#0000d9,#0000e6,#0000f3,#0000fa,#0000fe,#0003ff,#0005ff,#0005ff,#0005ff,#0005ff,#0005ff,#0005ff,#0005ff,#0005ff,#0002ff,#0000fe,#0000f9,#0000f1,#0000e4,#0000d7,#0000cb,#0000c1,#0000b8,#0000b4,#0000b6)"></i><i style="top:85px;left:35px;width:87px;background:linear-gradient(90deg,#0000b1,#0000af,#0000b4,#0000bd,#0000c6,#0000d2,#0000df,#0000eb,#0000f2,#0000f5,#0000f8,#0000f9,#0000f9,#0000f9,#0000f9,#0000f9,#0000f9,#0000f9,#0000f9,#0000f7,#0000f5,#0000f1,#0000e9,#0000dd,#0000d0,#0000c5,#0000bb,#0000b3,#0000af,#0000b2)"></i><i style="top:86px;left:35px;width:87px;background:linear-gradient(90deg,#0000ae,#0000ad,#0000b2,#0000ba,#0000c2,#0000ce,#0000da,#0000e6,#0000ec,#0000ee,#0000ef,#0000f0,#0000f0,#0000f0,#0000f0,#0000f0,#0000f0,#0000f0,#0000f0,#0000ef,#0000ee,#0000ec,#0000e4,#0000d8,#0000cc,#0000c1,#0000b8,#0000b1,#0000ad,#0000af)"></i><i style="top:87px;left:35px;width:87px;background:linear-gradient(90deg,#0000ad,#0000ac,#0000b0,#0000b8,#0000c0,#0000cb,#0000d8,#0000e3,#0000e8,#0000e9,#0000ea,#0000ea,#0000ea,#0000ea,#0000ea,#0000ea,#0000ea,#0000ea,#0000ea,#0000ea,#0000e9,#0000e8,#0000e1,#0000d5,#0000c9,#0000bf,#0000b7,#0000af,#0000ac,#0000ae)"></i><i style="top:88px;left:35px;width:87px;background:linear-gradient(90deg,#0000ac,#0000ab,#0000b0,#0000b7,#0000bf,#0000ca,#0000d6,#0000e1,#0000e6,#0000e7,#0000e7,#0000e7,#0000e7,#0000e7,#0000e7,#0000e7,#0000e7,#0000e7,#0000e7,#0000e7,#0000e7,#0000e6,#0000e0,#0000d4,#0000c8,#0000be,#0000b6,#0000af,#0000ab,#0000ad)"></i><i style="top:89px;left:35px;width:87px;background:linear-gradient(90deg,#0000ac,#0000ab,#0000af,#0000b6,#0000bf,#0000c9,#0000d5,#0000e1,#0000e6,#0000e6,#0000e6,#0000e6,#0000e6,#0000e6,#0000e6,#0000e6,#0000e6,#0000e6,#0000e6,#0000e6,#0000e6,#0000e5,#0000df,#0000d3,#0000c8,#0000bd,#0000b5,#0000ae,#0000ab,#0000ad)"></i><i style="top:90px;left:35px;width:87px;background:linear-gradient(90deg,#0000ab,#0000aa,#0000af,#0000b6,#0000be,#0000c9,#0000d5,#0000e0,#0000e5,#0000e6,#0000e6,#0000e6,#0000e6,#0000e6,#0000e6,#0000e6,#0000e6,#0000e6,#0000e6,#0000e6,#0000e6,#0000e5,#0000df,#0000d3,#0000c7,#0000bd,#0000b5,#0000ae,#0000aa,#0000ac)"></i><i style="top:91px;left:35px;width:87px;background:linear-gradient(90deg,#0000ab,#0000aa,#0000ae,#0000b6,#0000be,#0000c9,#0000d5,#0000e0,#0000e5,#0000e6,#0000e6,#0000e6,#0000e6,#0000e6,#0000e6,#0000e6,#0000e6,#0000e6,#0000e6,#0000e6,#0000e6,#0000e5,#0000df,#0000d3,#0000c7,#0000bd,#0000b4,#0000ad,#0000aa,#0000ac)"></i><i style="top:92px;left:35px;width:87px;background:linear-gradient(90deg,#0000ab,#0000aa,#0000ae,#0000b6,#0000be,#0000c9,#0000d5,#0000e0,#0000e5,#0000e6,#0000e6,#0000e6,#0000e6,#0000e6,#0000e6,#0000e6,#0000e6,#0000e6,#0000e6,#0000e6,#0000e6,#0000e5,#0000df,#0000d3,#0000c7,#0000bc,#0000b4,#0000ad,#0000aa,#0000ac)"></i><i style="top:93px;left:35px;width:87px;background:linear-gradient(90deg,#0000ab,#0000aa,#0000ae,#0000b5,#0000be,#0000c9,#0000d5,#0000e0,#0000e5,#0000e6,#0000e6,#0000e6,#0000e6,#0000e6,#0000e6,#0000e6,#0000e6,#0000e6,#0000e6,#0000e6,#0000e6,#0000e5,#0000df,#0000d3,#0000c7,#0000bc,#0000b4,#0000ad,#0000aa,#0000ac)"></i><i style="top:94px;left:35px;width:87px;background:linear-gradient(90deg,#0000ab,#0000aa,#0000ae,#0000b5,#0000be,#0000c9,#0000d5,#0000e0,#0000e5,#0000e6,#0000e6,#0000e6,#0000e6,#0000e6,#0000e6,#0000e6,#0000e6,#0000e6,#0000e6,#0000e6,#0000e6,#0000e5,#0000df,#0000d3,#0000c7,#0000bc,#0000b4,#0000ad,#0000a9,#0000ab)"></i><i style="top:95px;left:35px;width:87px;background:linear-gradient(90deg,#0000ab,#0000a9,#0000ae,#0000b5,#0000be,#0000c9,#0000d5,#0000e0,#0000e5,#0000e6,#0000e6,#0000e6,#0000e6,#0000e6,#0000e6,#0000e6,#0000e6,#0000e6,#0000e6,#0000e6,#0000e6,#0000e5,#0000df,#0000d3,#0000c7,#0000bc,#0000b4,#0000ad,#0000a9,#0000ab)"></i><b style="left:0;top:43.8px;width:37.6px;bottom:0"></b><b style="left:119.9px;top:43.8px;right:0;bottom:0"></b><u style="left:0;top:43.8px;width:37.8px;height:1px;background:linear-gradient(90deg,#00e1ff,#00e2ff,#00e4ff,#00e5ff,#00e7ff,#00eeff,#00f9ff,#05fffa,#0ffff0,#1affe5,#28ffd7,#40ffbf,#71ff8e)"></u><u style="left:119.7px;top:43.8px;width:39.1px;height:1px;background:linear-gradient(90deg,#7eff81,#46ffb9,#2bffd4,#1cffe3,#11ffee,#07fff8,#00fbff,#00f0ff,#00e8ff,#00e5ff,#00e4ff,#00e2ff,#00e1ff,#00e0ff)"></u><u style="left:36.8px;top:44.7px;width:1px;height:42.2px;background:linear-gradient(180deg,#00e0ff,#00b5ff,#0096ff,#007cff,#0061ff,#004bff,#003bff,#002bff,#0019ff,#0004ff,#0000ea,#0000ce,#0000b3,#00009e);opacity:.8"></u><u style="left:119.7px;top:44.7px;width:1px;height:42.2px;background:linear-gradient(180deg,#00d6ff,#00b1ff,#0094ff,#0079ff,#005fff,#004aff,#003aff,#002bff,#0018ff,#0004ff,#0000ea,#0000ce,#0000b3,#00009f);opacity:.8"></u><b style="left:37.6px;top:86.9px;width:82.3px;bottom:0"></b><u style="left:33.0px;top:83.5px;width:8px;height:8px;background:radial-gradient(circle at 50% 50%,#60e8ff 0,#00a0ff .8px,rgba(0,80,255,.5) 1.6px,rgba(0,40,255,0) 2.4px)"></u><u style="left:116.5px;top:83.5px;width:8px;height:8px;background:radial-gradient(circle at 50% 50%,#60e8ff 0,#00a0ff .8px,rgba(0,80,255,.5) 1.6px,rgba(0,40,255,0) 2.4px)"></u><s style="width:20.8px;height:23.7px;padding:4.4px 0 0 6.0px">ii</s></div>
<div class="hm" style="left:349.6px;top:217.8px;width:160.1px;height:95.8px"><i style="top:0px;left:0;width:160px;background:linear-gradient(90deg,#62ff9d,#64ff9b,#66ff99,#69ff96,#6bff94,#6bff94,#6bff94,#6bff94,#6aff95,#65ff9a,#5fffa0,#58ffa7,#4cffb3,#3effc1,#35ffca,#2effd1,#26ffd9,#1dffe2,#17ffe8,#13ffec,#11ffee,#14ffeb,#18ffe7,#20ffdf,#28ffd7,#30ffcf,#38ffc7,#42ffbd,#51ffae,#5affa5,#61ff9e,#67ff98,#6bff94,#6bff94,#6bff94,#6bff94,#6aff95,#68ff97,#66ff99,#63ff9c,#61ff9e)"></i><i style="top:1px;left:0;width:160px;background:linear-gradient(90deg,#62ff9d,#64ff9b,#66ff99,#69ff96,#6bff94,#6bff94,#6bff94,#6bff94,#6bff94,#65ff9a,#5fffa0,#59ffa6,#4cffb3,#3fffc0,#35ffca,#2effd1,#26ffd9,#1dffe2,#17ffe8,#13ffec,#11ffee,#14ffeb,#18ffe7,#20ffdf,#28ffd7,#30ffcf,#38ffc7,#42ffbd,#51ffae,#5bffa4,#61ff9e,#67ff98,#6bff94,#6bff94,#6bff94,#6bff94,#6bff94,#68ff97,#66ff99,#63ff9c,#61ff9e)"></i><i style="top:2px;left:0;width:160px;background:linear-gradient(90deg,#62ff9d,#64ff9b,#67ff98,#69ff96,#6bff94,#6bff94,#6cff93,#6cff93,#6bff94,#66ff99,#60ff9f,#59ffa6,#4cffb3,#3fffc0,#35ffca,#2effd1,#26ffd9,#1dffe2,#17ffe8,#13ffec,#10ffef,#14ffeb,#18ffe7,#20ffdf,#28ffd7,#30ffcf,#38ffc7,#42ffbd,#51ffae,#5bffa4,#62ff9d,#68ff97,#6cff93,#6cff93,#6cff93,#6bff94,#6bff94,#68ff97,#66ff99,#63ff9c,#61ff9e)"></i><i style="top:3px;left:0;width:160px;background:linear-gradient(90deg,#62ff9d,#64ff9b,#67ff98,#69ff96,#6bff94,#6cff93,#6cff93,#6dff92,#6cff93,#68ff97,#61ff9e,#5affa5,#4dffb2,#3fffc0,#36ffc9,#2effd1,#26ffd9,#1dffe2,#16ffe9,#12ffed,#10ffef,#13ffec,#18ffe7,#20ffdf,#28ffd7,#30ffcf,#38ffc7,#43ffbc,#51ffae,#5cffa3,#63ff9c,#69ff96,#6dff92,#6cff93,#6cff93,#6cff93,#6bff94,#69ff96,#66ff99,#64ff9b,#62ff9d)"></i><i style="top:4px;left:0;width:160px;background:linear-gradient(90deg,#63ff9c,#65ff9a,#67ff98,#6aff95,#6cff93,#6cff93,#6dff92,#6eff91,#6eff91,#6aff95,#63ff9c,#5bffa4,#4dffb2,#3fffc0,#36ffc9,#2effd1,#26ffd9,#1cffe3,#16ffe9,#12ffed,#10ffef,#13ffec,#17ffe8,#1fffe0,#28ffd7,#30ffcf,#38ffc7,#43ffbc,#52ffad,#5effa1,#65ff9a,#6bff94,#6eff91,#6dff92,#6dff92,#6cff93,#6bff94,#69ff96,#67ff98,#64ff9b,#62ff9d)"></i><i style="top:5px;left:0;width:160px;background:linear-gradient(90deg,#63ff9c,#65ff9a,#68ff97,#6aff95,#6cff93,#6dff92,#6eff91,#6fff90,#70ff8f,#6cff93,#65ff9a,#5cffa3,#4effb1,#40ffbf,#36ffc9,#2effd1,#25ffda,#1cffe3,#16ffe9,#11ffee,#0ffff0,#13ffec,#17ffe8,#1fffe0,#28ffd7,#30ffcf,#39ffc6,#44ffbb,#53ffac,#5fffa0,#68ff97,#6eff91,#70ff8f,#6fff90,#6eff91,#6dff92,#6cff93,#6aff95,#67ff98,#64ff9b,#63ff9c)"></i><i style="top:6px;left:0;width:160px;background:linear-gradient(90deg,#64ff9b,#66ff99,#68ff97,#6bff94,#6dff92,#6eff91,#6fff90,#71ff8e,#72ff8d,#6fff90,#68ff97,#5effa1,#4fffb0,#40ffbf,#37ffc8,#2effd1,#25ffda,#1bffe4,#15ffea,#11ffee,#0ffff0,#12ffed,#16ffe9,#1effe1,#28ffd7,#30ffcf,#39ffc6,#44ffbb,#54ffab,#61ff9e,#6bff94,#70ff8f,#72ff8d,#70ff8f,#6fff90,#6eff91,#6cff93,#6aff95,#68ff97,#65ff9a,#63ff9c)"></i><i style="top:7px;left:0;width:160px;background:linear-gradient(90deg,#64ff9b,#66ff99,#69ff96,#6bff94,#6eff91,#6fff90,#70ff8f,#72ff8d,#74ff8b,#71ff8e,#6bff94,#5fffa0,#50ffaf,#41ffbe,#37ffc8,#2effd1,#24ffdb,#1bffe4,#14ffeb,#10ffef,#0efff1,#12ffed,#16ffe9,#1effe1,#27ffd8,#30ffcf,#3affc5,#45ffba,#55ffaa,#63ff9c,#6dff92,#73ff8c,#74ff8b,#71ff8e,#70ff8f,#6eff91,#6dff92,#6bff94,#68ff97,#65ff9a,#64ff9b)"></i><i style="top:8px;left:0;width:160px;background:linear-gradient(90deg,#65ff9a,#67ff98,#69ff96,#6cff93,#6eff91,#70ff8f,#71ff8e,#74ff8b,#76ff89,#74ff8b,#6dff92,#61ff9e,#51ffae,#42ffbd,#37ffc8,#2effd1,#24ffdb,#1affe5,#14ffeb,#10ffef,#0efff1,#11ffee,#15ffea,#1dffe2,#27ffd8,#31ffce,#3affc5,#45ffba,#56ffa9,#65ff9a,#70ff8f,#75ff8a,#76ff89,#73ff8c,#71ff8e,#6fff90,#6eff91,#6bff94,#69ff96,#66ff99,#64ff9b)"></i><i style="top:9px;left:0;width:160px;background:linear-gradient(90deg,#65ff9a,#67ff98,#6aff95,#6cff93,#6fff90,#70ff8f,#72ff8d,#75ff8a,#78ff87,#77ff88,#70ff8f,#62ff9d,#51ffae,#42ffbd,#38ffc7,#2effd1,#24ffdb,#1affe5,#13ffec,#0ffff0,#0dfff2,#11ffee,#15ffea,#1dffe2,#27ffd8,#31ffce,#3bffc4,#46ffb9,#57ffa8,#67ff98,#73ff8c,#78ff87,#77ff88,#74ff8b,#72ff8d,#70ff8f,#6eff91,#6cff93,#69ff96,#67ff98,#65ff9a)"></i><i style="top:10px;left:0;width:160px;background:linear-gradient(90deg,#66ff99,#68ff97,#6aff95,#6dff92,#6fff90,#71ff8e,#73ff8c,#77ff88,#7aff85,#7aff85,#73ff8c,#64ff9b,#52ffad,#43ffbc,#38ffc7,#2effd1,#23ffdc,#19ffe6,#13ffec,#0ffff0,#0dfff2,#10ffef,#14ffeb,#1cffe3,#26ffd9,#31ffce,#3bffc4,#46ffb9,#58ffa7,#69ff96,#76ff89,#7aff85,#79ff86,#76ff89,#73ff8c,#71ff8e,#6fff90,#6cff93,#6aff95,#67ff98,#65ff9a)"></i><i style="top:11px;left:0;width:160px;background:linear-gradient(90deg,#66ff99,#68ff97,#6bff94,#6dff92,#70ff8f,#72ff8d,#74ff8b,#78ff87,#7cff83,#7dff82,#75ff8a,#65ff9a,#53ffac,#43ffbc,#38ffc7,#2effd1,#23ffdc,#19ffe6,#12ffed,#0efff1,#0cfff3,#0ffff0,#14ffeb,#1cffe3,#26ffd9,#31ffce,#3cffc3,#47ffb8,#59ffa6,#6aff95,#79ff86,#7dff82,#7bff84,#77ff88,#74ff8b,#71ff8e,#6fff90,#6dff92,#6aff95,#68ff97,#66ff99)"></i><i style="top:12px;left:0;width:160px;background:linear-gradient(90deg,#67ff98,#69ff96,#6bff94,#6eff91,#71ff8e,#73ff8c,#75ff8a,#7aff85,#7eff81,#7fff80,#78ff87,#67ff98,#54ffab,#44ffbb,#39ffc6,#2effd1,#23ffdc,#18ffe7,#12ffed,#0efff1,#0cfff3,#0ffff0,#13ffec,#1bffe4,#26ffd9,#31ffce,#3cffc3,#48ffb7,#5affa5,#6cff93,#7cff83,#7fff80,#7dff82,#78ff87,#75ff8a,#72ff8d,#70ff8f,#6dff92,#6bff94,#68ff97,#66ff99)"></i><i style="top:13px;left:0;width:160px;background:linear-gradient(90deg,#67ff98,#69ff96,#6cff93,#6fff90,#71ff8e,#74ff8b,#77ff88,#7bff84,#81ff7e,#82ff7d,#7bff84,#69ff96,#55ffaa,#44ffbb,#39ffc6,#2effd1,#22ffdd,#18ffe7,#11ffee,#0dfff2,#0bfff4,#0efff1,#13ffec,#1bffe4,#26ffd9,#31ffce,#3dffc2,#48ffb7,#5bffa4,#6eff91,#7fff80,#82ff7d,#7fff80,#7aff85,#76ff89,#73ff8c,#70ff8f,#6eff91,#6bff94,#69ff96,#67ff98)"></i><i style="top:14px;left:0;width:160px;background:linear-gradient(90deg,#68ff97,#6aff95,#6dff92,#6fff90,#72ff8d,#74ff8b,#78ff87,#7dff82,#83ff7c,#85ff7a,#7dff82,#6aff95,#55ffaa,#45ffba,#3affc5,#2effd1,#22ffdd,#17ffe8,#11ffee,#0dfff2,#0bfff4,#0efff1,#12ffed,#1affe5,#25ffda,#31ffce,#3dffc2,#49ffb6,#5cffa3,#70ff8f,#82ff7d,#85ff7a,#81ff7e,#7bff84,#77ff88,#74ff8b,#71ff8e,#6eff91,#6cff93,#69ff96,#67ff98)"></i><i style="top:15px;left:0;width:160px;background:linear-gradient(90deg,#68ff97,#6bff94,#6dff92,#70ff8f,#72ff8d,#75ff8a,#79ff86,#7fff80,#85ff7a,#88ff77,#80ff7f,#6cff93,#56ffa9,#45ffba,#3affc5,#2effd1,#21ffde,#17ffe8,#10ffef,#0cfff3,#0afff5,#0dfff2,#12ffed,#1affe5,#25ffda,#31ffce,#3dffc2,#49ffb6,#5dffa2,#72ff8d,#84ff7b,#87ff78,#83ff7c,#7dff82,#77ff88,#74ff8b,#71ff8e,#6fff90,#6cff93,#6aff95,#68ff97)"></i><i style="top:16px;left:0;width:160px;background:linear-gradient(90deg,#69ff96,#6bff94,#6eff91,#70ff8f,#73ff8c,#76ff89,#7aff85,#80ff7f,#87ff78,#8aff75,#83ff7c,#6dff92,#57ffa8,#46ffb9,#3affc5,#2effd1,#21ffde,#16ffe9,#10ffef,#0cfff3,#09fff6,#0dfff2,#11ffee,#19ffe6,#25ffda,#31ffce,#3effc1,#4affb5,#5effa1,#74ff8b,#87ff78,#8aff75,#85ff7a,#7eff81,#78ff87,#75ff8a,#72ff8d,#6fff90,#6dff92,#6aff95,#68ff97)"></i><i style="top:17px;left:0;width:160px;background:linear-gradient(90deg,#69ff96,#6cff93,#6eff91,#71ff8e,#74ff8b,#77ff88,#7bff84,#82ff7d,#89ff76,#8dff72,#85ff7a,#6fff90,#58ffa7,#47ffb8,#3bffc4,#2effd1,#21ffde,#16ffe9,#0ffff0,#0bfff4,#09fff6,#0cfff3,#11ffee,#19ffe6,#25ffda,#32ffcd,#3effc1,#4bffb4,#5fffa0,#76ff89,#8aff75,#8cff73,#87ff78,#7fff80,#79ff86,#76ff89,#73ff8c,#70ff8f,#6dff92,#6bff94,#69ff96)"></i><i style="top:18px;left:0;width:160px;background:linear-gradient(90deg,#6aff95,#6cff93,#6fff90,#71ff8e,#74ff8b,#78ff87,#7cff83,#83ff7c,#8bff74,#90ff6f,#88ff77,#70ff8f,#59ffa6,#47ffb8,#3bffc4,#2effd1,#20ffdf,#15ffea,#0ffff0,#0afff5,#08fff7,#0cfff3,#10ffef,#18ffe7,#24ffdb,#32ffcd,#3fffc0,#4bffb4,#60ff9f,#78ff87,#8dff72,#8fff70,#89ff76,#81ff7e,#7bff84,#77ff88,#73ff8c,#71ff8e,#6eff91,#6bff94,#69ff96)"></i><i style="top:19px;left:0;width:160px;background:linear-gradient(90deg,#6bff94,#6dff92,#6fff90,#72ff8d,#75ff8a,#79ff86,#7dff82,#85ff7a,#8dff72,#93ff6c,#8bff74,#72ff8d,#5affa5,#48ffb7,#3bffc4,#2effd1,#20ffdf,#15ffea,#0efff1,#0afff5,#08fff7,#0bfff4,#0ffff0,#18ffe7,#24ffdb,#32ffcd,#3fffc0,#4cffb3,#61ff9e,#7aff85,#90ff6f,#92ff6d,#8bff74,#82ff7d,#7cff83,#77ff88,#74ff8b,#71ff8e,#6fff90,#6cff93,#6aff95)"></i><i style="top:20px;left:0;width:160px;background:linear-gradient(90deg,#6bff94,#6dff92,#70ff8f,#72ff8d,#75ff8a,#79ff86,#7eff81,#87ff78,#90ff6f,#96ff69,#8eff71,#74ff8b,#5bffa4,#48ffb7,#3cffc3,#2effd1,#1fffe0,#14ffeb,#0dfff2,#09fff6,#07fff8,#0afff5,#0ffff0,#17ffe8,#24ffdb,#32ffcd,#40ffbf,#4dffb2,#62ff9d,#7cff83,#93ff6c,#95ff6a,#8dff72,#84ff7b,#7dff82,#78ff87,#74ff8b,#72ff8d,#6fff90,#6dff92,#6bff94)"></i><i style="top:21px;left:0;width:160px;background:linear-gradient(90deg,#6cff93,#6eff91,#71ff8e,#73ff8c,#76ff89,#7bff84,#80ff7f,#89ff76,#92ff6d,#99ff66,#91ff6e,#76ff89,#5cffa3,#49ffb6,#3cffc3,#2dffd2,#1fffe0,#13ffec,#0cfff3,#08fff7,#06fff9,#09fff6,#0efff1,#16ffe9,#23ffdc,#32ffcd,#40ffbf,#4effb1,#64ff9b,#7eff81,#97ff68,#98ff67,#90ff6f,#86ff79,#7eff81,#79ff86,#75ff8a,#72ff8d,#70ff8f,#6dff92,#6bff94)"></i><i style="top:22px;left:0;width:160px;background:linear-gradient(90deg,#6dff92,#6fff90,#72ff8d,#74ff8b,#77ff88,#7cff83,#81ff7e,#8bff74,#95ff6a,#9dff62,#94ff6b,#79ff86,#5effa1,#4affb5,#3cffc3,#2dffd2,#1effe1,#12ffed,#0bfff4,#07fff8,#05fffa,#08fff7,#0dfff2,#15ffea,#22ffdd,#31ffce,#40ffbf,#4effb1,#65ff9a,#81ff7e,#9aff65,#9bff64,#92ff6d,#88ff77,#7fff80,#7aff85,#76ff89,#73ff8c,#71ff8e,#6eff91,#6cff93)"></i><i style="top:23px;left:0;width:160px;background:linear-gradient(90deg,#6eff91,#70ff8f,#73ff8c,#75ff8a,#78ff87,#7dff82,#83ff7c,#8dff72,#99ff66,#a1ff5e,#98ff67,#7cff83,#60ff9f,#4affb5,#3bffc4,#2cffd3,#1dffe2,#11ffee,#0afff5,#06fff9,#03fffc,#07fff8,#0bfff4,#14ffeb,#22ffdd,#31ffce,#40ffbf,#50ffaf,#68ff97,#85ff7a,#9eff61,#9fff60,#96ff69,#8aff75,#81ff7e,#7cff83,#77ff88,#74ff8b,#72ff8d,#6fff90,#6dff92)"></i><i style="top:24px;left:0;width:160px;background:linear-gradient(90deg,#6fff90,#71ff8e,#74ff8b,#76ff89,#7aff85,#7fff80,#85ff7a,#90ff6f,#9cff63,#a5ff5a,#9cff63,#7fff80,#62ff9d,#4bffb4,#3bffc4,#2bffd4,#1cffe3,#0ffff0,#08fff7,#04fffb,#02fffd,#05fffa,#09fff6,#12ffed,#21ffde,#30ffcf,#40ffbf,#51ffae,#6aff95,#88ff77,#a2ff5d,#a3ff5c,#99ff66,#8cff73,#83ff7c,#7dff82,#78ff87,#76ff89,#73ff8c,#70ff8f,#6fff90)"></i><i style="top:25px;left:0;width:160px;background:linear-gradient(90deg,#70ff8f,#73ff8c,#75ff8a,#78ff87,#7bff84,#80ff7f,#87ff78,#93ff6c,#a0ff5f,#a9ff56,#a1ff5e,#83ff7c,#64ff9b,#4cffb3,#3bffc4,#2bffd4,#1bffe4,#0dfff2,#06fff9,#02fffd,#00ffff,#03fffc,#08fff7,#11ffee,#1fffe0,#2fffd0,#3fffc0,#52ffad,#6dff92,#8cff73,#a7ff58,#a7ff58,#9cff63,#8fff70,#85ff7a,#7fff80,#7aff85,#77ff88,#74ff8b,#72ff8d,#70ff8f)"></i><i style="top:26px;left:0;width:160px;background:linear-gradient(90deg,#72ff8d,#74ff8b,#76ff89,#79ff86,#7cff83,#82ff7d,#89ff76,#96ff69,#a4ff5b,#aeff51,#a5ff5a,#87ff78,#67ff98,#4dffb2,#3affc5,#2affd5,#1affe5,#0cfff3,#04fffb,#00ffff,#00fdff,#01fffe,#06fff9,#10ffef,#1effe1,#2fffd0,#3fffc0,#53ffac,#70ff8f,#90ff6f,#abff54,#abff54,#a0ff5f,#91ff6e,#86ff79,#80ff7f,#7bff84,#78ff87,#76ff89,#73ff8c,#71ff8e)"></i><i style="top:27px;left:0;width:160px;background:linear-gradient(90deg,#73ff8c,#75ff8a,#78ff87,#7aff85,#7eff81,#84ff7b,#8bff74,#99ff66,#a8ff57,#b2ff4d,#aaff55,#8aff75,#6aff95,#4dffb2,#3affc5,#29ffd6,#19ffe6,#0afff5,#02fffd,#00fdff,#00fbff,#00feff,#04fffb,#0efff1,#1dffe2,#2effd1,#3fffc0,#55ffaa,#73ff8c,#94ff6b,#b0ff4f,#b0ff4f,#a4ff5b,#94ff6b,#88ff77,#82ff7d,#7cff83,#79ff86,#77ff88,#74ff8b,#72ff8d)"></i><i style="top:28px;left:0;width:160px;background:linear-gradient(90deg,#74ff8b,#76ff89,#79ff86,#7bff84,#7fff80,#85ff7a,#8dff72,#9cff63,#acff53,#b7ff48,#aeff51,#8eff71,#6cff93,#4effb1,#39ffc6,#28ffd7,#17ffe8,#09fff6,#00ffff,#00fbff,#00f9ff,#00fcff,#02fffd,#0dfff2,#1cffe3,#2dffd2,#3fffc0,#56ffa9,#76ff89,#98ff67,#b5ff4a,#b4ff4b,#a7ff58,#97ff68,#8aff75,#83ff7c,#7eff81,#7bff84,#78ff87,#76ff89,#74ff8b)"></i><i style="top:29px;left:0;width:160px;background:linear-gradient(90deg,#75ff8a,#78ff87,#7aff85,#7dff82,#80ff7f,#87ff78,#8fff70,#9fff60,#b0ff4f,#bbff44,#b3ff4c,#92ff6d,#6fff90,#4fffb0,#39ffc6,#27ffd8,#16ffe9,#07fff8,#00feff,#00f9ff,#00f7ff,#00fbff,#00ffff,#0bfff4,#1bffe4,#2cffd3,#3effc1,#58ffa7,#7aff85,#9dff62,#b9ff46,#b9ff46,#abff54,#99ff66,#8cff73,#85ff7a,#7fff80,#7cff83,#79ff86,#77ff88,#75ff8a)"></i><i style="top:30px;left:0;width:160px;background:linear-gradient(90deg,#77ff88,#79ff86,#7bff84,#7eff81,#82ff7d,#88ff77,#91ff6e,#a2ff5d,#b4ff4b,#c0ff3f,#b8ff47,#97ff68,#72ff8d,#50ffaf,#38ffc7,#26ffd9,#15ffea,#05fffa,#00fcff,#00f7ff,#00f5ff,#00f9ff,#00fdff,#0afff5,#1affe5,#2bffd4,#3effc1,#59ffa6,#7dff82,#a1ff5e,#bfff40,#bdff42,#afff50,#9cff63,#8eff71,#86ff79,#80ff7f,#7dff82,#7bff84,#78ff87,#76ff89)"></i><i style="top:31px;left:0;width:160px;background:linear-gradient(90deg,#78ff87,#7aff85,#7dff82,#7fff80,#83ff7c,#8aff75,#93ff6c,#a5ff5a,#b8ff47,#c5ff3a,#bdff42,#9bff64,#75ff8a,#51ffae,#38ffc7,#25ffda,#14ffeb,#04fffb,#00faff,#00f5ff,#00f3ff,#00f7ff,#00fbff,#08fff7,#19ffe6,#2bffd4,#3effc1,#5bffa4,#81ff7e,#a6ff59,#c4ff3b,#c2ff3d,#b3ff4c,#9fff60,#90ff6f,#88ff77,#82ff7d,#7fff80,#7cff83,#79ff86,#77ff88)"></i><i style="top:32px;left:0;width:160px;background:linear-gradient(90deg,#79ff86,#7bff84,#7eff81,#81ff7e,#84ff7b,#8cff73,#95ff6a,#a8ff57,#bcff43,#cbff34,#c3ff3c,#a0ff5f,#78ff87,#52ffad,#37ffc8,#25ffda,#13ffec,#02fffd,#00f8ff,#00f4ff,#00f1ff,#00f5ff,#00faff,#07fff8,#18ffe7,#2affd5,#3effc1,#5dffa2,#85ff7a,#acff53,#caff35,#c7ff38,#b7ff48,#a2ff5d,#92ff6d,#89ff76,#83ff7c,#80ff7f,#7dff82,#7bff84,#79ff86)"></i><i style="top:33px;left:0;width:160px;background:linear-gradient(90deg,#7bff84,#7dff82,#7fff80,#82ff7d,#86ff79,#8dff72,#97ff68,#abff54,#c1ff3e,#d0ff2f,#c9ff36,#a6ff59,#7cff83,#54ffab,#37ffc8,#24ffdb,#12ffed,#00ffff,#00f6ff,#00f2ff,#00f0ff,#00f3ff,#00f8ff,#05fffa,#17ffe8,#29ffd6,#3effc1,#5fffa0,#89ff76,#b1ff4e,#d0ff2f,#cdff32,#bbff44,#a4ff5b,#94ff6b,#8bff74,#84ff7b,#81ff7e,#7fff80,#7cff83,#7aff85)"></i><i style="top:34px;left:0;width:160px;background:linear-gradient(90deg,#7cff83,#7eff81,#81ff7e,#83ff7c,#87ff78,#8fff70,#9aff65,#aeff51,#c6ff39,#d7ff28,#d0ff2f,#acff53,#7fff80,#55ffaa,#37ffc8,#23ffdc,#10ffef,#00feff,#00f4ff,#00f0ff,#00eeff,#00f1ff,#00f6ff,#04fffb,#16ffe9,#29ffd6,#3effc1,#61ff9e,#8dff72,#b8ff47,#d7ff28,#d3ff2c,#bfff40,#a7ff58,#96ff69,#8dff72,#86ff79,#82ff7d,#80ff7f,#7dff82,#7bff84)"></i><i style="top:35px;left:0;width:160px;background:linear-gradient(90deg,#7dff82,#7fff80,#82ff7d,#84ff7b,#89ff76,#91ff6e,#9cff63,#b1ff4e,#caff35,#deff21,#d9ff26,#b2ff4d,#83ff7c,#56ffa9,#37ffc8,#22ffdd,#0ffff0,#00fcff,#00f2ff,#00eeff,#00ecff,#00efff,#00f4ff,#02fffd,#15ffea,#28ffd7,#3effc1,#63ff9c,#91ff6e,#bfff40,#e0ff1f,#d9ff26,#c3ff3c,#aaff55,#98ff67,#8eff71,#87ff78,#84ff7b,#81ff7e,#7eff81,#7dff82)"></i><i style="top:36px;left:0;width:160px;background:linear-gradient(90deg,#7eff81 0px,#80ff7f 4px,#83ff7c 8px,#86ff79 12px,#8aff75 16px,#92ff6d 20px,#9eff61 24px,#b4ff4b 28px,#cfff30 32px,#d5ff2a 33px,#dcff23 34px,#e1ff1e 35px,#e6ff19 36px,#eaff15 37px,#ebff14 38px,#e9ff16 39px,#e3ff1c 40px,#daff25 41px,#d0ff2f 42px,#c5ff3a 43px,#b9ff46 44px,#87ff78 48px,#58ffa7 52px,#36ffc9 56px,#22ffdd 60px,#0efff1 64px,#00fbff 68px,#00f1ff 72px,#00ecff 76px,#00eaff 80px,#00edff 84px,#00f2ff 88px,#01fffe 92px,#14ffeb 96px,#27ffd8 100px,#3effc1 104px,#65ff9a 108px,#96ff69 112px,#bbff44 115px,#c7ff38 116px,#d2ff2d 117px,#dcff23 118px,#e5ff1a 119px,#eaff15 120px,#ebff14 121px,#eaff15 122px,#e5ff1a 123px,#e0ff1f 124px,#daff25 125px,#d4ff2b 126px,#ceff31 127px,#c7ff38 128px,#acff53 132px,#99ff66 136px,#8fff70 140px,#88ff77 144px,#85ff7a 148px,#82ff7d 152px,#80ff7f 156px,#7eff81 160px)"></i><i style="top:37px;left:0;width:160px;background:linear-gradient(90deg,#7fff80 0px,#81ff7e 4px,#84ff7b 8px,#86ff79 12px,#8bff74 16px,#93ff6c 20px,#9fff60 24px,#b7ff48 28px,#d4ff2b 32px,#dbff24 33px,#e2ff1d 34px,#e9ff16 35px,#f0ff0f 36px,#f5ff0a 37px,#f8ff07 38px,#f6ff09 39px,#f0ff0f 40px,#e6ff19 41px,#daff25 42px,#cdff32 43px,#c0ff3f 44px,#8aff75 48px,#59ffa6 52px,#36ffc9 56px,#21ffde 60px,#0efff1 64px,#00faff 68px,#00efff 72px,#00ebff 76px,#00e9ff 80px,#00ecff 84px,#00f1ff 88px,#00ffff 92px,#13ffec 96px,#27ffd8 100px,#3fffc0 104px,#66ff99 108px,#9aff65 112px,#c3ff3c 115px,#d0ff2f 116px,#ddff22 117px,#e8ff17 118px,#f1ff0e 119px,#f7ff08 120px,#f8ff07 121px,#f4ff0b 122px,#efff10 123px,#e8ff17 124px,#e0ff1f 125px,#d9ff26 126px,#d2ff2d 127px,#cbff34 128px,#afff50 132px,#9bff64 136px,#91ff6e 140px,#89ff76 144px,#86ff79 148px,#83ff7c 152px,#81ff7e 156px,#7fff80 160px)"></i><i style="top:38px;left:0;width:160px;background:linear-gradient(90deg,#80ff7f 0px,#82ff7d 4px,#84ff7b 8px,#87ff78 12px,#8bff74 16px,#94ff6b 20px,#a0ff5f 24px,#b9ff46 28px,#d8ff27 32px,#e0ff1f 33px,#e8ff17 34px,#f2ff0d 35px,#fbff04 36px,#fffa00 37px,#fff600 38px,#fff600 39px,#fffe00 40px,#f4ff0b 41px,#e6ff19 42px,#d6ff29 43px,#c7ff38 44px,#8dff72 48px,#5affa5 52px,#36ffc9 56px,#21ffde 60px,#0dfff2 64px,#00f9ff 68px,#00eeff 72px,#00eaff 76px,#00e8ff 80px,#00ebff 84px,#00f0ff 88px,#00feff 92px,#13ffec 96px,#27ffd8 100px,#3fffc0 104px,#68ff97 108px,#9eff61 112px,#caff35 115px,#daff25 116px,#e9ff16 117px,#f7ff08 118px,#fffc00 119px,#fff600 120px,#fff600 121px,#fffc00 122px,#f9ff06 123px,#f0ff0f 124px,#e7ff18 125px,#deff21 126px,#d6ff29 127px,#ceff31 128px,#b0ff4f 132px,#9cff63 136px,#91ff6e 140px,#8aff75 144px,#86ff79 148px,#84ff7b 152px,#81ff7e 156px,#7fff80 160px)"></i><i style="top:39px;left:0;width:160px;background:linear-gradient(90deg,#80ff7f 0px,#82ff7d 4px,#85ff7a 8px,#87ff78 12px,#8cff73 16px,#95ff6a 20px,#a1ff5e 24px,#baff45 28px,#dbff24 32px,#e5ff1a 33px,#efff10 34px,#fbff04 35px,#fff500 36px,#ffe800 37px,#ffde00 38px,#ffdd00 39px,#ffe700 40px,#fff800 41px,#f3ff0c 42px,#e0ff1f 43px,#ceff31 44px,#8fff70 48px,#5bffa4 52px,#36ffc9 56px,#20ffdf 60px,#0dfff2 64px,#00f8ff 68px,#00eeff 72px,#00e9ff 76px,#00e7ff 80px,#00ebff 84px,#00f0ff 88px,#00feff 92px,#13ffec 96px,#27ffd8 100px,#3fffc0 104px,#69ff96 108px,#a1ff5e 112px,#d1ff2e 115px,#e4ff1b 116px,#f7ff08 117px,#fff400 118px,#ffe400 119px,#ffdc00 120px,#ffdf00 121px,#ffea00 122px,#fff800 123px,#f8ff07 124px,#edff12 125px,#e3ff1c 126px,#daff25 127px,#d1ff2e 128px,#b2ff4d 132px,#9cff63 136px,#92ff6d 140px,#8aff75 144px,#87ff78 148px,#84ff7b 152px,#81ff7e 156px,#80ff7f 160px)"></i><i style="top:40px;left:0;width:160px;background:linear-gradient(90deg,#80ff7f 0px,#82ff7d 4px,#85ff7a 8px,#87ff78 12px,#8cff73 16px,#95ff6a 20px,#a1ff5e 24px,#bbff44 28px,#dfff20 32px,#eaff15 33px,#f6ff09 34px,#fff900 35px,#ffe700 36px,#ffd000 37px,#ffbc00 38px,#ffb800 39px,#ffca00 40px,#ffe400 41px,#fffe00 42px,#e8ff17 43px,#d4ff2b 44px,#91ff6e 48px,#5bffa4 52px,#36ffc9 56px,#20ffdf 60px,#0dfff2 64px,#00f8ff 68px,#00edff 72px,#00e9ff 76px,#00e7ff 80px,#00eaff 84px,#00efff 88px,#00feff 92px,#12ffed 96px,#27ffd8 100px,#3fffc0 104px,#6aff95 108px,#a3ff5c 112px,#d8ff27 115px,#edff12 116px,#fff900 117px,#ffde00 118px,#ffc500 119px,#ffb700 120px,#ffbf00 121px,#ffd400 122px,#ffeb00 123px,#fffc00 124px,#f4ff0b 125px,#e8ff17 126px,#ddff22 127px,#d3ff2c 128px,#b2ff4d 132px,#9dff62 136px,#92ff6d 140px,#8aff75 144px,#86ff79 148px,#84ff7b 152px,#81ff7e 156px,#7fff80 160px)"></i><i style="top:41px;left:0;width:160px;background:linear-gradient(90deg,#7fff80 0px,#81ff7e 4px,#83ff7c 8px,#86ff79 12px,#8bff74 16px,#94ff6b 20px,#a0ff5f 24px,#bbff44 28px,#e2ff1d 32px,#efff10 33px,#ffff00 34px,#ffed00 35px,#ffd500 36px,#ffb600 37px,#ff8d00 38px,#ff8100 39px,#ffa800 40px,#ffd200 41px,#fff400 42px,#eeff11 43px,#d7ff28 44px,#91ff6e 48px,#5bffa4 52px,#36ffc9 56px,#20ffdf 60px,#0cfff3 64px,#00f8ff 68px,#00edff 72px,#00e9ff 76px,#00e7ff 80px,#00eaff 84px,#00efff 88px,#00feff 92px,#12ffed 96px,#26ffd9 100px,#3fffc0 104px,#6aff95 108px,#a4ff5b 112px,#dcff23 115px,#f4ff0b 116px,#ffee00 117px,#ffca00 118px,#ff9f00 119px,#ff7d00 120px,#ff9500 121px,#ffbd00 122px,#ffda00 123px,#fff100 124px,#fbff04 125px,#ecff13 126px,#e0ff1f 127px,#d5ff2a 128px,#b2ff4d 132px,#9cff63 136px,#91ff6e 140px,#89ff76 144px,#85ff7a 148px,#83ff7c 152px,#80ff7f 156px,#7eff81 160px)"></i><i style="top:42px;left:0;width:160px;background:linear-gradient(90deg,#7bff84 0px,#7dff82 4px,#80ff7f 8px,#83ff7c 12px,#87ff78 16px,#90ff6f 20px,#9dff62 24px,#baff45 28px,#e4ff1b 32px,#f3ff0c 33px,#fff900 34px,#ffe000 35px,#ffbf00 36px,#ff9600 37px,#ff5c00 38px,#ff4b00 39px,#ff9900 40px,#ffcc00 41px,#fff100 42px,#f0ff0f 43px,#d8ff27 44px,#90ff6f 48px,#5affa5 52px,#35ffca 56px,#1fffe0 60px,#0cfff3 64px,#00f8ff 68px,#00edff 72px,#00e9ff 76px,#00e7ff 80px,#00eaff 84px,#00efff 88px,#00fdff 92px,#12ffed 96px,#25ffda 100px,#3effc1 104px,#68ff97 108px,#a3ff5c 112px,#dcff23 115px,#f5ff0a 116px,#ffea00 117px,#ffc300 118px,#ff8c00 119px,#ff3800 120px,#ff6a00 121px,#ffa000 122px,#ffc600 123px,#ffe500 124px,#fffd00 125px,#efff10 126px,#e1ff1e 127px,#d5ff2a 128px,#b0ff4f 132px,#98ff67 136px,#8dff72 140px,#85ff7a 144px,#82ff7d 148px,#7fff80 152px,#7cff83 156px,#7aff85 160px)"></i><i style="top:43px;left:0;width:160px;background:linear-gradient(90deg,#72ff8d 0px,#75ff8a 4px,#77ff88 8px,#7bff84 12px,#7fff80 16px,#89ff76 20px,#96ff69 24px,#baff45 28px,#e7ff18 32px,#f7ff08 33px,#fff300 34px,#ffd700 35px,#ffb000 36px,#ff7400 37px,#ff3300 38px,#ff7d00 39px,#ffaf00 40px,#ffd600 41px,#fff700 42px,#ebff14 43px,#d4ff2b 44px,#8cff73 48px,#57ffa8 52px,#33ffcc 56px,#1dffe2 60px,#0afff5 64px,#00f7ff 68px,#00edff 72px,#00e9ff 76px,#00e7ff 80px,#00eaff 84px,#00efff 88px,#00fcff 92px,#10ffef 96px,#23ffdc 100px,#3bffc4 104px,#65ff9a 108px,#9fff60 112px,#d8ff27 115px,#f0ff0f 116px,#fff100 117px,#ffcf00 118px,#ffa600 119px,#ff7100 120px,#ff2d00 121px,#ff8300 122px,#ffb900 123px,#ffde00 124px,#fff700 125px,#f3ff0c 126px,#e4ff1b 127px,#d7ff28 128px,#aaff55 132px,#91ff6e 136px,#86ff79 140px,#7dff82 144px,#7aff85 148px,#77ff88 152px,#74ff8b 156px,#72ff8d 160px)"></i><i style="top:44px;left:0;width:160px;background:linear-gradient(90deg,#65ff9a 0px,#67ff98 4px,#6aff95 8px,#6dff92 12px,#73ff8c 16px,#7cff83 20px,#8aff75 24px,#aaff55 28px,#dcff23 32px,#edff12 33px,#fffc00 34px,#ffe000 35px,#ffbc00 36px,#ff9100 37px,#ff7d00 38px,#ffa300 39px,#ffcb00 40px,#ffea00 41px,#f9ff06 42px,#e1ff1e 43px,#cbff34 44px,#85ff7a 48px,#51ffae 52px,#2fffd0 56px,#1affe5 60px,#08fff7 64px,#00f6ff 68px,#00ecff 72px,#00e8ff 76px,#00e6ff 80px,#00e9ff 84px,#00eeff 88px,#00fbff 92px,#0efff1 96px,#20ffdf 100px,#37ffc8 104px,#5fffa0 108px,#98ff67 112px,#d0ff2f 115px,#e6ff19 116px,#feff01 117px,#ffe500 118px,#ffc400 119px,#ff9a00 120px,#ff7a00 121px,#ff9900 122px,#ffc400 123px,#ffe600 124px,#feff01 125px,#e9ff16 126px,#d9ff26 127px,#caff35 128px,#9eff61 132px,#85ff7a 136px,#79ff86 140px,#71ff8e 144px,#6cff93 148px,#69ff96 152px,#66ff99 156px,#64ff9b 160px)"></i><i style="top:45px;left:36px;width:88px;background:linear-gradient(90deg,#ffd700 0px,#ffbe00 1px,#ffb500 2px,#ffc800 3px,#ffe300 4px,#fffe00 5px,#e8ff17 6px,#d4ff2b 7px,#c0ff3f 8px,#adff52 9px,#7bff84 12px,#54ffab 15px,#38ffc7 18px,#24ffdb 21px,#16ffe9 24px,#09fff6 27px,#00fcff 30px,#00f1ff 33px,#00ebff 36px,#00e8ff 39px,#00e6ff 42px,#00e6ff 45px,#00e8ff 48px,#00ebff 51px,#00f1ff 54px,#00fdff 57px,#0afff5 60px,#17ffe8 63px,#25ffda 66px,#39ffc6 69px,#57ffa8 72px,#7eff81 75px,#b1ff4e 78px,#c4ff3b 79px,#d8ff27 80px,#edff12 81px,#fff900 82px,#ffde00 83px,#ffc400 84px,#ffb300 85px,#ffc300 86px,#ffdc00 87px,#fff600 88px)"></i><i style="top:46px;left:36px;width:88px;background:linear-gradient(90deg,#fff200 0px,#ffe300 1px,#ffdc00 2px,#ffea00 3px,#fffc00 4px,#eeff11 5px,#d9ff26 6px,#c5ff3a 7px,#b2ff4d 8px,#a0ff5f 9px,#70ff8f 12px,#4bffb4 15px,#31ffce 18px,#1fffe0 21px,#11ffee 24px,#05fffa 27px,#00f9ff 30px,#00efff 33px,#00eaff 36px,#00e7ff 39px,#00e4ff 42px,#00e4ff 45px,#00e7ff 48px,#00eaff 51px,#00efff 54px,#00faff 57px,#06fff9 60px,#12ffed 63px,#20ffdf 66px,#32ffcd 69px,#4dffb2 72px,#73ff8c 75px,#a4ff5b 78px,#b6ff49 79px,#c9ff36 80px,#ddff22 81px,#f2ff0d 82px,#fff800 83px,#ffe700 84px,#ffd800 85px,#ffe600 86px,#fff600 87px,#f5ff0a 88px)"></i><i style="top:47px;left:36px;width:88px;background:linear-gradient(90deg,#f3ff0c 0px,#ffff00 1px,#fff900 2px,#f8ff07 3px,#ebff14 4px,#dbff24 5px,#c9ff36 6px,#b7ff48 7px,#a5ff5a 8px,#93ff6c 9px,#64ff9b 12px,#42ffbd 15px,#2affd5 18px,#19ffe6 21px,#0dfff2 24px,#01fffe 27px,#00f6ff 30px,#00ecff 33px,#00e8ff 36px,#00e5ff 39px,#00e2ff 42px,#00e2ff 45px,#00e5ff 48px,#00e8ff 51px,#00edff 54px,#00f6ff 57px,#02fffd 60px,#0dfff2 63px,#1affe5 66px,#2bffd4 69px,#44ffbb 72px,#67ff98 75px,#97ff68 78px,#a8ff57 79px,#bbff44 80px,#cdff32 81px,#dfff20 82px,#eeff11 83px,#fbff04 84px,#fff400 85px,#fcff03 86px,#f0ff0f 87px,#e2ff1d 88px)"></i><i style="top:48px;left:36px;width:88px;background:linear-gradient(90deg,#deff21 0px,#e8ff17 1px,#efff10 2px,#e2ff1d 3px,#d7ff28 4px,#caff35 5px,#baff45 6px,#a9ff56 7px,#98ff67 8px,#86ff79 9px,#58ffa7 12px,#39ffc6 15px,#22ffdd 18px,#13ffec 21px,#08fff7 24px,#00fcff 27px,#00f2ff 30px,#00eaff 33px,#00e5ff 36px,#00e2ff 39px,#00e0ff 42px,#00e0ff 45px,#00e3ff 48px,#00e6ff 51px,#00eaff 54px,#00f3ff 57px,#00fdff 60px,#08fff7 63px,#14ffeb 66px,#24ffdb 69px,#3affc5 72px,#5bffa4 75px,#8aff75 78px,#9bff64 79px,#acff53 80px,#bdff42 81px,#cdff32 82px,#daff25 83px,#e4ff1b 84px,#f6ff09 85px,#e6ff19 86px,#dcff23 87px,#d0ff2f 88px)"></i><i style="top:49px;left:36px;width:88px;background:linear-gradient(90deg,#ccff33 0px,#d6ff29 1px,#deff21 2px,#cfff30 3px,#c5ff3a 4px,#b9ff46 5px,#abff54 6px,#9bff64 7px,#8bff74 8px,#7aff85 9px,#4dffb2 12px,#30ffcf 15px,#1cffe3 18px,#0efff1 21px,#03fffc 24px,#00f8ff 27px,#00efff 30px,#00e7ff 33px,#00e3ff 36px,#00e0ff 39px,#00deff 42px,#00deff 45px,#00e0ff 48px,#00e3ff 51px,#00e7ff 54px,#00efff 57px,#00f9ff 60px,#04fffb 63px,#0efff1 66px,#1dffe2 69px,#31ffce 72px,#4fffb0 75px,#7dff82 78px,#8eff71 79px,#9eff61 80px,#aeff51 81px,#bcff43 82px,#c8ff37 83px,#d1ff2e 84px,#e5ff1a 85px,#d3ff2c 86px,#caff35 87px,#c0ff3f 88px)"></i><i style="top:50px;left:36px;width:88px;background:linear-gradient(90deg,#bbff44 0px,#c5ff3a 1px,#ceff31 2px,#beff41 3px,#b5ff4a 4px,#aaff55 5px,#9cff63 6px,#8dff72 7px,#7dff82 8px,#6dff92 9px,#42ffbd 12px,#27ffd8 15px,#15ffea 18px,#08fff7 21px,#00fdff 24px,#00f4ff 27px,#00ebff 30px,#00e4ff 33px,#00e0ff 36px,#00deff 39px,#00dbff 42px,#00dbff 45px,#00deff 48px,#00e1ff 51px,#00e5ff 54px,#00ecff 57px,#00f5ff 60px,#00feff 63px,#09fff6 66px,#16ffe9 69px,#28ffd7 72px,#44ffbb 75px,#71ff8e 78px,#81ff7e 79px,#90ff6f 80px,#9fff60 81px,#acff53 82px,#b7ff48 83px,#c0ff3f 84px,#d6ff29 85px,#c3ff3c 86px,#b9ff46 87px,#b0ff4f 88px)"></i><i style="top:51px;left:36px;width:88px;background:linear-gradient(90deg,#abff54 0px,#b5ff4a 1px,#bfff40 2px,#aeff51 3px,#a5ff5a 4px,#9aff65 5px,#8dff72 6px,#7fff80 7px,#70ff8f 8px,#61ff9e 9px,#37ffc8 12px,#1effe1 15px,#0efff1 18px,#03fffc 21px,#00f9ff 24px,#00f0ff 27px,#00e8ff 30px,#00e1ff 33px,#00deff 36px,#00dbff 39px,#00d9ff 42px,#00d9ff 45px,#00dcff 48px,#00deff 51px,#00e2ff 54px,#00e8ff 57px,#00f1ff 60px,#00f9ff 63px,#04fffb 66px,#0ffff0 69px,#1fffe0 72px,#39ffc6 75px,#64ff9b 78px,#73ff8c 79px,#82ff7d 80px,#90ff6f 81px,#9cff63 82px,#a7ff58 83px,#b0ff4f 84px,#c7ff38 85px,#b3ff4c 86px,#a9ff56 87px,#a0ff5f 88px)"></i><i style="top:52px;left:36px;width:87px;background:linear-gradient(90deg,#9aff65,#9dff62,#7dff82,#54ffab,#2dffd2,#16ffe9,#08fff7,#00fdff,#00f4ff,#00ecff,#00e5ff,#00dfff,#00dcff,#00daff,#00d8ff,#00d8ff,#00daff,#00dcff,#00dfff,#00e5ff,#00edff,#00f5ff,#00fdff,#09fff6,#17ffe8,#2fffd0,#57ffa8,#80ff7f,#9fff60,#98ff67)"></i><i style="top:53px;left:36px;width:87px;background:linear-gradient(90deg,#88ff77,#8bff74,#6dff92,#47ffb8,#23ffdc,#0ffff0,#02fffd,#00f7ff,#00f0ff,#00e8ff,#00e2ff,#00dcff,#00daff,#00d8ff,#00d6ff,#00d6ff,#00d8ff,#00daff,#00ddff,#00e2ff,#00e9ff,#00f0ff,#00f8ff,#02fffd,#10ffef,#25ffda,#49ffb6,#70ff8f,#8eff71,#86ff79)"></i><i style="top:54px;left:36px;width:87px;background:linear-gradient(90deg,#76ff89,#79ff86,#5dffa2,#3affc5,#1affe5,#07fff8,#00fbff,#00f2ff,#00ebff,#00e5ff,#00dfff,#00daff,#00d8ff,#00d6ff,#00d5ff,#00d5ff,#00d6ff,#00d8ff,#00daff,#00dfff,#00e5ff,#00ecff,#00f3ff,#00fbff,#08fff7,#1cffe3,#3cffc3,#5fffa0,#7bff84,#74ff8b)"></i><i style="top:55px;left:36px;width:87px;background:linear-gradient(90deg,#62ff9d,#64ff9b,#4dffb2,#2effd1,#11ffee,#00ffff,#00f5ff,#00edff,#00e7ff,#00e1ff,#00dbff,#00d8ff,#00d6ff,#00d5ff,#00d4ff,#00d4ff,#00d5ff,#00d6ff,#00d8ff,#00dcff,#00e1ff,#00e7ff,#00eeff,#00f5ff,#01fffe,#12ffed,#30ffcf,#4fffb0,#65ff9a,#61ff9e)"></i><i style="top:56px;left:36px;width:87px;background:linear-gradient(90deg,#50ffaf,#51ffae,#3effc1,#21ffde,#08fff7,#00f8ff,#00efff,#00e8ff,#00e2ff,#00ddff,#00d8ff,#00d5ff,#00d4ff,#00d3ff,#00d2ff,#00d2ff,#00d3ff,#00d4ff,#00d5ff,#00d9ff,#00ddff,#00e3ff,#00e8ff,#00efff,#00f9ff,#09fff6,#23ffdc,#3fffc0,#52ffad,#4fffb0)"></i><i style="top:57px;left:36px;width:87px;background:linear-gradient(90deg,#3effc1,#40ffbf,#2fffd0,#16ffe9,#00feff,#00f1ff,#00e9ff,#00e3ff,#00deff,#00d9ff,#00d5ff,#00d2ff,#00d1ff,#00d1ff,#00d0ff,#00d0ff,#00d1ff,#00d1ff,#00d2ff,#00d5ff,#00daff,#00deff,#00e3ff,#00eaff,#00f2ff,#00ffff,#17ffe8,#30ffcf,#40ffbf,#3effc1)"></i><i style="top:58px;left:36px;width:87px;background:linear-gradient(90deg,#2effd1,#2fffd0,#21ffde,#0bfff4,#00f6ff,#00ebff,#00e3ff,#00deff,#00d9ff,#00d5ff,#00d1ff,#00cfff,#00ceff,#00ceff,#00ceff,#00ceff,#00ceff,#00ceff,#00cfff,#00d2ff,#00d5ff,#00daff,#00deff,#00e4ff,#00ebff,#00f7ff,#0cfff3,#22ffdd,#30ffcf,#2effd1)"></i><i style="top:59px;left:36px;width:87px;background:linear-gradient(90deg,#20ffdf,#21ffde,#14ffeb,#01fffe,#00eeff,#00e4ff,#00deff,#00d9ff,#00d4ff,#00d1ff,#00ceff,#00ccff,#00cbff,#00cbff,#00cbff,#00cbff,#00cbff,#00cbff,#00ccff,#00ceff,#00d1ff,#00d5ff,#00d9ff,#00deff,#00e5ff,#00efff,#02fffd,#15ffea,#21ffde,#20ffdf)"></i><i style="top:60px;left:36px;width:87px;background:linear-gradient(90deg,#13ffec,#13ffec,#08fff7,#00f6ff,#00e7ff,#00deff,#00d8ff,#00d3ff,#00d0ff,#00cdff,#00caff,#00c8ff,#00c8ff,#00c8ff,#00c8ff,#00c8ff,#00c8ff,#00c8ff,#00c8ff,#00caff,#00cdff,#00d0ff,#00d4ff,#00d8ff,#00deff,#00e8ff,#00f7ff,#09fff6,#14ffeb,#12ffed)"></i><i style="top:61px;left:36px;width:87px;background:linear-gradient(90deg,#06fff9,#07fff8,#00fcff,#00edff,#00e0ff,#00d8ff,#00d2ff,#00ceff,#00cbff,#00c8ff,#00c6ff,#00c4ff,#00c4ff,#00c4ff,#00c4ff,#00c4ff,#00c4ff,#00c4ff,#00c4ff,#00c6ff,#00c8ff,#00cbff,#00ceff,#00d3ff,#00d8ff,#00e0ff,#00eeff,#00fdff,#07fff8,#06fff9)"></i><i style="top:62px;left:36px;width:87px;background:linear-gradient(90deg,#00f9ff,#00f9ff,#00f1ff,#00e4ff,#00d9ff,#00d2ff,#00cdff,#00c9ff,#00c6ff,#00c4ff,#00c2ff,#00c1ff,#00c0ff,#00c0ff,#00c0ff,#00c0ff,#00c0ff,#00c0ff,#00c1ff,#00c2ff,#00c4ff,#00c6ff,#00c9ff,#00cdff,#00d2ff,#00d9ff,#00e5ff,#00f2ff,#00f9ff,#00f8ff)"></i><i style="top:63px;left:36px;width:87px;background:linear-gradient(90deg,#00edff,#00edff,#00e6ff,#00dcff,#00d2ff,#00ccff,#00c7ff,#00c3ff,#00c1ff,#00bfff,#00beff,#00bdff,#00bcff,#00bcff,#00bcff,#00bcff,#00bcff,#00bcff,#00bdff,#00beff,#00bfff,#00c1ff,#00c3ff,#00c7ff,#00ccff,#00d3ff,#00dcff,#00e7ff,#00edff,#00ecff)"></i><i style="top:64px;left:36px;width:87px;background:linear-gradient(90deg,#00e0ff,#00e1ff,#00dbff,#00d3ff,#00cbff,#00c6ff,#00c2ff,#00beff,#00bcff,#00baff,#00b9ff,#00b9ff,#00b9ff,#00b8ff,#00b8ff,#00b8ff,#00b9ff,#00b9ff,#00b9ff,#00b9ff,#00bbff,#00bcff,#00beff,#00c2ff,#00c6ff,#00ccff,#00d4ff,#00dcff,#00e1ff,#00e0ff)"></i><i style="top:65px;left:36px;width:87px;background:linear-gradient(90deg,#00d4ff,#00d4ff,#00d0ff,#00caff,#00c4ff,#00bfff,#00bcff,#00b8ff,#00b7ff,#00b6ff,#00b5ff,#00b4ff,#00b4ff,#00b4ff,#00b4ff,#00b4ff,#00b4ff,#00b4ff,#00b4ff,#00b5ff,#00b6ff,#00b7ff,#00b8ff,#00bcff,#00c0ff,#00c4ff,#00caff,#00d0ff,#00d4ff,#00d4ff)"></i><i style="top:66px;left:36px;width:87px;background:linear-gradient(90deg,#00c7ff,#00c7ff,#00c4ff,#00c0ff,#00bcff,#00b8ff,#00b5ff,#00b3ff,#00b1ff,#00b1ff,#00b0ff,#00b0ff,#00b0ff,#00b0ff,#00b0ff,#00b0ff,#00b0ff,#00b0ff,#00b0ff,#00b0ff,#00b1ff,#00b1ff,#00b3ff,#00b5ff,#00b8ff,#00bcff,#00c0ff,#00c4ff,#00c7ff,#00c7ff)"></i><i style="top:67px;left:36px;width:87px;background:linear-gradient(90deg,#00b9ff,#00b9ff,#00b8ff,#00b5ff,#00b3ff,#00b0ff,#00aeff,#00acff,#00acff,#00abff,#00abff,#00abff,#00aaff,#00aaff,#00aaff,#00aaff,#00aaff,#00aaff,#00abff,#00abff,#00abff,#00acff,#00adff,#00aeff,#00b0ff,#00b3ff,#00b5ff,#00b8ff,#00b9ff,#00b9ff)"></i><i style="top:68px;left:36px;width:87px;background:linear-gradient(90deg,#00abff,#00abff,#00aaff,#00aaff,#00a9ff,#00a8ff,#00a7ff,#00a6ff,#00a6ff,#00a5ff,#00a5ff,#00a5ff,#00a5ff,#00a5ff,#00a5ff,#00a5ff,#00a5ff,#00a5ff,#00a5ff,#00a5ff,#00a5ff,#00a6ff,#00a6ff,#00a7ff,#00a8ff,#00a9ff,#00aaff,#00abff,#00abff,#00abff)"></i><i style="top:69px;left:36px;width:87px;background:linear-gradient(90deg,#009cff,#009cff,#009dff,#009eff,#009eff,#009fff,#009fff,#00a0ff,#00a0ff,#00a0ff,#009fff,#009fff,#009fff,#009fff,#009fff,#009fff,#009fff,#009fff,#009fff,#009fff,#00a0ff,#00a0ff,#00a0ff,#009fff,#009fff,#009eff,#009eff,#009dff,#009cff,#009dff)"></i><i style="top:70px;left:36px;width:87px;background:linear-gradient(90deg,#008eff,#008eff,#008fff,#0092ff,#0094ff,#0096ff,#0098ff,#0099ff,#009aff,#009aff,#009aff,#0099ff,#0099ff,#0099ff,#0099ff,#0099ff,#0099ff,#0099ff,#0099ff,#009aff,#009aff,#009aff,#0099ff,#0097ff,#0096ff,#0094ff,#0092ff,#008fff,#008eff,#008eff)"></i><i style="top:71px;left:36px;width:87px;background:linear-gradient(90deg,#007fff,#007fff,#0081ff,#0085ff,#0089ff,#008cff,#0090ff,#0093ff,#0094ff,#0094ff,#0094ff,#0093ff,#0093ff,#0093ff,#0093ff,#0093ff,#0093ff,#0093ff,#0093ff,#0094ff,#0094ff,#0094ff,#0092ff,#008fff,#008cff,#0089ff,#0085ff,#0081ff,#007eff,#007fff)"></i><i style="top:72px;left:36px;width:87px;background:linear-gradient(90deg,#006fff,#006fff,#0072ff,#0078ff,#007eff,#0082ff,#0087ff,#008bff,#008dff,#008dff,#008dff,#008dff,#008dff,#008dff,#008dff,#008dff,#008dff,#008dff,#008dff,#008dff,#008dff,#008dff,#008bff,#0087ff,#0082ff,#007dff,#0078ff,#0072ff,#006eff,#006fff)"></i><i style="top:73px;left:36px;width:87px;background:linear-gradient(90deg,#005dff,#005dff,#0062ff,#006aff,#0072ff,#0078ff,#007eff,#0083ff,#0085ff,#0086ff,#0087ff,#0087ff,#0087ff,#0087ff,#0087ff,#0087ff,#0087ff,#0087ff,#0087ff,#0086ff,#0086ff,#0085ff,#0083ff,#007dff,#0077ff,#0071ff,#006aff,#0062ff,#005dff,#005eff)"></i><i style="top:74px;left:36px;width:87px;background:linear-gradient(90deg,#004bff,#004aff,#0051ff,#005bff,#0064ff,#006cff,#0073ff,#007aff,#007dff,#007eff,#007fff,#0080ff,#0080ff,#0080ff,#0080ff,#0080ff,#0080ff,#0080ff,#0080ff,#007fff,#007eff,#007dff,#0079ff,#0073ff,#006bff,#0064ff,#005aff,#0050ff,#004aff,#004bff)"></i><i style="top:75px;left:36px;width:87px;background:linear-gradient(90deg,#0036ff,#0036ff,#003eff,#004aff,#0056ff,#005fff,#0068ff,#0070ff,#0074ff,#0076ff,#0078ff,#0079ff,#0079ff,#0079ff,#0079ff,#0079ff,#0079ff,#0079ff,#0079ff,#0078ff,#0076ff,#0074ff,#006fff,#0067ff,#005fff,#0055ff,#004aff,#003dff,#0036ff,#0037ff)"></i><i style="top:76px;left:36px;width:87px;background:linear-gradient(90deg,#0022ff,#0021ff,#002bff,#003aff,#0048ff,#0052ff,#005cff,#0065ff,#006aff,#006dff,#0070ff,#0072ff,#0072ff,#0072ff,#0072ff,#0072ff,#0072ff,#0072ff,#0071ff,#0070ff,#006dff,#006aff,#0065ff,#005bff,#0052ff,#0047ff,#0039ff,#002aff,#0021ff,#0022ff)"></i><i style="top:77px;left:36px;width:87px;background:linear-gradient(90deg,#000dff,#000dff,#0018ff,#0029ff,#0039ff,#0045ff,#0050ff,#005bff,#0061ff,#0065ff,#0068ff,#006aff,#006aff,#006aff,#006aff,#006aff,#006aff,#006aff,#006aff,#0068ff,#0064ff,#0061ff,#005aff,#004fff,#0044ff,#0038ff,#0028ff,#0017ff,#000cff,#000eff)"></i><i style="top:78px;left:36px;width:87px;background:linear-gradient(90deg,#0000f9,#0000f8,#0005ff,#0018ff,#002aff,#0038ff,#0044ff,#0050ff,#0057ff,#005cff,#0060ff,#0063ff,#0063ff,#0063ff,#0063ff,#0063ff,#0063ff,#0063ff,#0062ff,#0060ff,#005bff,#0057ff,#004fff,#0043ff,#0037ff,#0029ff,#0017ff,#0004ff,#0000f7,#0000f9)"></i><i style="top:79px;left:36px;width:87px;background:linear-gradient(90deg,#0000e6,#0000e5,#0000f2,#0008ff,#001bff,#002aff,#0038ff,#0045ff,#004dff,#0052ff,#0058ff,#005aff,#005bff,#005bff,#005bff,#005bff,#005bff,#005bff,#005aff,#0057ff,#0052ff,#004dff,#0044ff,#0037ff,#0029ff,#001aff,#0006ff,#0000f1,#0000e5,#0000e6)"></i><i style="top:80px;left:36px;width:87px;background:linear-gradient(90deg,#0000d6,#0000d5,#0000e2,#0000f6,#000bff,#001bff,#002bff,#0039ff,#0042ff,#0049ff,#004eff,#0052ff,#0052ff,#0052ff,#0052ff,#0052ff,#0052ff,#0052ff,#0052ff,#004eff,#0048ff,#0042ff,#0038ff,#002aff,#001aff,#000aff,#0000f5,#0000e1,#0000d4,#0000d6)"></i><i style="top:81px;left:36px;width:87px;background:linear-gradient(90deg,#0000c8,#0000c7,#0000d4,#0000e7,#0000fa,#000cff,#001dff,#002dff,#0037ff,#003eff,#0045ff,#0049ff,#0049ff,#0049ff,#0049ff,#0049ff,#0049ff,#0049ff,#0048ff,#0044ff,#003eff,#0036ff,#002cff,#001cff,#000bff,#0000f9,#0000e6,#0000d2,#0000c6,#0000c8)"></i><i style="top:82px;left:36px;width:87px;background:linear-gradient(90deg,#0000bc,#0000bb,#0000c7,#0000d9,#0000eb,#0000fd,#000fff,#0020ff,#002bff,#0033ff,#003bff,#003fff,#003fff,#003fff,#003fff,#003fff,#003fff,#003fff,#003fff,#003aff,#0033ff,#002bff,#001fff,#000eff,#0000fb,#0000ea,#0000d7,#0000c6,#0000bb,#0000bd)"></i><i style="top:83px;left:36px;width:87px;background:linear-gradient(90deg,#0000b3,#0000b2,#0000bc,#0000cc,#0000dd,#0000ef,#0003ff,#0015ff,#0020ff,#0029ff,#0031ff,#0035ff,#0036ff,#0036ff,#0036ff,#0036ff,#0036ff,#0036ff,#0035ff,#0030ff,#0028ff,#0020ff,#0014ff,#0002ff,#0000ee,#0000dc,#0000cb,#0000bb,#0000b2,#0000b3)"></i><i style="top:84px;left:36px;width:87px;background:linear-gradient(90deg,#0000ac,#0000ab,#0000b4,#0000c2,#0000d2,#0000e4,#0000f7,#000aff,#0016ff,#001fff,#0028ff,#002cff,#002dff,#002dff,#002dff,#002dff,#002dff,#002dff,#002cff,#0027ff,#001fff,#0016ff,#0009ff,#0000f6,#0000e3,#0000d1,#0000c1,#0000b4,#0000ab,#0000ac)"></i><i style="top:85px;left:36px;width:87px;background:linear-gradient(90deg,#0000a7,#0000a7,#0000af,#0000bc,#0000ca,#0000dc,#0000ef,#0002ff,#000eff,#0017ff,#0020ff,#0025ff,#0025ff,#0025ff,#0025ff,#0025ff,#0025ff,#0025ff,#0025ff,#001fff,#0017ff,#000eff,#0001ff,#0000ee,#0000db,#0000c9,#0000bb,#0000ae,#0000a6,#0000a8)"></i><i style="top:86px;left:36px;width:87px;background:linear-gradient(90deg,#0000a5,#0000a4,#0000ac,#0000b8,#0000c5,#0000d7,#0000e9,#0000fb,#0008ff,#0011ff,#001aff,#001fff,#0020ff,#0020ff,#0020ff,#0020ff,#0020ff,#0020ff,#001fff,#001aff,#0011ff,#0008ff,#0000fa,#0000e8,#0000d5,#0000c4,#0000b7,#0000ab,#0000a4,#0000a5)"></i><i style="top:87px;left:36px;width:87px;background:linear-gradient(90deg,#0000a4,#0000a3,#0000aa,#0000b6,#0000c3,#0000d4,#0000e6,#0000f7,#0005ff,#000eff,#0017ff,#001cff,#001cff,#001cff,#001cff,#001cff,#001cff,#001cff,#001bff,#0016ff,#000dff,#0004ff,#0000f6,#0000e5,#0000d3,#0000c2,#0000b5,#0000aa,#0000a3,#0000a4)"></i><i style="top:88px;left:36px;width:87px;background:linear-gradient(90deg,#0000a3,#0000a2,#0000aa,#0000b4,#0000c1,#0000d2,#0000e4,#0000f6,#0003ff,#000cff,#0015ff,#001aff,#001aff,#001aff,#001aff,#001aff,#001aff,#001aff,#001aff,#0014ff,#000bff,#0002ff,#0000f5,#0000e3,#0000d1,#0000c0,#0000b4,#0000a9,#0000a2,#0000a3)"></i><i style="top:89px;left:36px;width:87px;background:linear-gradient(90deg,#0000a2,#0000a2,#0000a9,#0000b4,#0000c1,#0000d2,#0000e4,#0000f5,#0002ff,#000bff,#0014ff,#0019ff,#001aff,#001aff,#001aff,#001aff,#001aff,#001aff,#0019ff,#0014ff,#000bff,#0001ff,#0000f4,#0000e3,#0000d1,#0000c0,#0000b3,#0000a8,#0000a1,#0000a2)"></i><i style="top:90px;left:36px;width:87px;background:linear-gradient(90deg,#0000a2,#0000a1,#0000a9,#0000b4,#0000c1,#0000d1,#0000e4,#0000f5,#0002ff,#000bff,#0014ff,#0019ff,#001aff,#001aff,#001aff,#001aff,#001aff,#001aff,#0019ff,#0014ff,#000bff,#0001ff,#0000f4,#0000e2,#0000d0,#0000bf,#0000b3,#0000a8,#0000a1,#0000a2)"></i><i style="top:91px;left:36px;width:87px;background:linear-gradient(90deg,#0000a1,#0000a1,#0000a8,#0000b3,#0000c0,#0000d1,#0000e3,#0000f5,#0002ff,#000bff,#0014ff,#0019ff,#001aff,#001aff,#001aff,#001aff,#001aff,#001aff,#0019ff,#0013ff,#000bff,#0001ff,#0000f4,#0000e2,#0000d0,#0000bf,#0000b3,#0000a8,#0000a1,#0000a2)"></i><i style="top:92px;left:36px;width:87px;background:linear-gradient(90deg,#0000a1,#0000a1,#0000a8,#0000b3,#0000c0,#0000d1,#0000e3,#0000f5,#0002ff,#000bff,#0014ff,#0019ff,#001aff,#001aff,#001aff,#001aff,#001aff,#001aff,#0019ff,#0013ff,#000bff,#0001ff,#0000f4,#0000e2,#0000d0,#0000bf,#0000b2,#0000a7,#0000a0,#0000a1)"></i><i style="top:93px;left:36px;width:87px;background:linear-gradient(90deg,#0000a1,#0000a0,#0000a8,#0000b3,#0000c0,#0000d1,#0000e3,#0000f5,#0002ff,#000bff,#0014ff,#0019ff,#001aff,#001aff,#001aff,#001aff,#001aff,#001aff,#0019ff,#0013ff,#000bff,#0001ff,#0000f4,#0000e2,#0000d0,#0000bf,#0000b2,#0000a7,#0000a0,#0000a1)"></i><i style="top:94px;left:36px;width:87px;background:linear-gradient(90deg,#0000a1,#0000a0,#0000a8,#0000b3,#0000c0,#0000d1,#0000e3,#0000f5,#0002ff,#000bff,#0014ff,#0019ff,#001aff,#001aff,#001aff,#001aff,#001aff,#001aff,#0019ff,#0013ff,#000bff,#0001ff,#0000f4,#0000e2,#0000d0,#0000bf,#0000b2,#0000a7,#0000a0,#0000a1)"></i><i style="top:95px;left:36px;width:87px;background:linear-gradient(90deg,#0000a1,#0000a0,#0000a8,#0000b3,#0000c0,#0000d1,#0000e3,#0000f5,#0002ff,#000bff,#0014ff,#0019ff,#001aff,#001aff,#001aff,#001aff,#001aff,#001aff,#0019ff,#0013ff,#000bff,#0001ff,#0000f4,#0000e2,#0000d0,#0000bf,#0000b2,#0000a7,#0000a0,#0000a1)"></i><b style="left:0;top:43.7px;width:38.2px;bottom:0"></b><b style="left:121.6px;top:43.7px;right:0;bottom:0"></b><u style="left:0;top:43.7px;width:38.4px;height:1px;background:linear-gradient(90deg,#00efff,#00f0ff,#00f2ff,#00f3ff,#00f4ff,#00f7ff,#00fbff,#01fffe,#08fff7,#16ffe9,#28ffd7,#41ffbe,#6bff94)"></u><u style="left:121.4px;top:43.7px;width:38.7px;height:1px;background:linear-gradient(90deg,#7cff83,#4affb5,#2effd1,#1bffe4,#0bfff4,#03fffc,#00fcff,#00f7ff,#00f5ff,#00f3ff,#00f2ff,#00f1ff,#00efff)"></u><u style="left:37.4px;top:44.6px;width:1px;height:42.5px;background:linear-gradient(180deg,#00d9ff,#00b5ff,#009aff,#0081ff,#0066ff,#004fff,#003cff,#002aff,#0016ff,#0000ff,#0000e5,#0000c7,#0000ac,#00009a,#000093);opacity:.8"></u><u style="left:121.4px;top:44.6px;width:1px;height:42.5px;background:linear-gradient(180deg,#00ddff,#00b7ff,#009bff,#0082ff,#0067ff,#004fff,#003cff,#002aff,#0016ff,#0000ff,#0000e5,#0000c6,#0000ab,#00009a,#000093);opacity:.8"></u><b style="left:38.2px;top:87.1px;width:83.4px;bottom:0"></b><u style="left:33.6px;top:83.5px;width:8px;height:8px;background:radial-gradient(circle at 50% 50%,#60e8ff 0,#00a0ff .8px,rgba(0,80,255,.5) 1.6px,rgba(0,40,255,0) 2.4px)"></u><u style="left:118.2px;top:83.5px;width:8px;height:8px;background:radial-gradient(circle at 50% 50%,#60e8ff 0,#00a0ff .8px,rgba(0,80,255,.5) 1.6px,rgba(0,40,255,0) 2.4px)"></u><s style="width:23.8px;height:23.7px;padding:4.4px 0 0 6.2px">iii</s></div>
<div class="hm" style="left:16.5px;top:321.0px;width:159.9px;height:95.5px"><i style="top:0px;left:0;width:160px;background:linear-gradient(90deg,#6bff94,#6bff94,#6bff94,#6bff94,#6bff94,#6bff94,#6bff94,#6bff94,#67ff98,#63ff9c,#61ff9e,#5fffa0,#58ffa7,#53ffac,#4fffb0,#49ffb6,#42ffbd,#3effc1,#3affc5,#38ffc7,#38ffc7,#38ffc7,#3bffc4,#3fffc0,#44ffbb,#4bffb4,#50ffaf,#54ffab,#5affa5,#60ff9f,#61ff9e,#64ff9b,#68ff97,#6bff94,#6bff94,#6bff94,#6bff94,#6bff94,#6bff94,#6bff94,#6bff94)"></i><i style="top:1px;left:0;width:160px;background:linear-gradient(90deg,#6bff94,#6bff94,#6bff94,#6bff94,#6bff94,#6bff94,#6bff94,#6bff94,#67ff98,#63ff9c,#61ff9e,#5fffa0,#58ffa7,#53ffac,#4fffb0,#49ffb6,#42ffbd,#3effc1,#3affc5,#38ffc7,#38ffc7,#38ffc7,#3bffc4,#3fffc0,#44ffbb,#4bffb4,#50ffaf,#54ffab,#5affa5,#60ff9f,#61ff9e,#64ff9b,#68ff97,#6bff94,#6bff94,#6bff94,#6bff94,#6bff94,#6bff94,#6bff94,#6bff94)"></i><i style="top:2px;left:0;width:160px;background:linear-gradient(90deg,#6cff93,#6cff93,#6cff93,#6cff93,#6cff93,#6cff93,#6cff93,#6bff94,#68ff97,#64ff9b,#62ff9d,#5fffa0,#58ffa7,#53ffac,#4fffb0,#49ffb6,#42ffbd,#3dffc2,#3affc5,#38ffc7,#38ffc7,#38ffc7,#3affc5,#3fffc0,#44ffbb,#4bffb4,#50ffaf,#54ffab,#5affa5,#61ff9e,#62ff9d,#65ff9a,#69ff96,#6cff93,#6cff93,#6cff93,#6cff93,#6cff93,#6cff93,#6cff93,#6cff93)"></i><i style="top:3px;left:0;width:160px;background:linear-gradient(90deg,#6cff93,#6cff93,#6cff93,#6cff93,#6cff93,#6cff93,#6cff93,#6cff93,#69ff96,#65ff9a,#63ff9c,#60ff9f,#59ffa6,#53ffac,#4fffb0,#49ffb6,#42ffbd,#3dffc2,#39ffc6,#38ffc7,#38ffc7,#38ffc7,#3affc5,#3effc1,#43ffbc,#4bffb4,#50ffaf,#54ffab,#5bffa4,#61ff9e,#63ff9c,#66ff99,#6aff95,#6cff93,#6cff93,#6cff93,#6cff93,#6cff93,#6cff93,#6cff93,#6cff93)"></i><i style="top:4px;left:0;width:160px;background:linear-gradient(90deg,#6dff92,#6dff92,#6dff92,#6dff92,#6dff92,#6dff92,#6eff91,#6dff92,#6aff95,#66ff99,#64ff9b,#61ff9e,#59ffa6,#53ffac,#4fffb0,#48ffb7,#41ffbe,#3dffc2,#39ffc6,#37ffc8,#37ffc8,#37ffc8,#3affc5,#3effc1,#43ffbc,#4affb5,#50ffaf,#55ffaa,#5bffa4,#62ff9d,#64ff9b,#67ff98,#6bff94,#6eff91,#6dff92,#6dff92,#6dff92,#6dff92,#6dff92,#6dff92,#6dff92)"></i><i style="top:5px;left:0;width:160px;background:linear-gradient(90deg,#6eff91,#6eff91,#6eff91,#6eff91,#6eff91,#6eff91,#6fff90,#6fff90,#6cff93,#68ff97,#65ff9a,#62ff9d,#5affa5,#54ffab,#4effb1,#48ffb7,#41ffbe,#3cffc3,#38ffc7,#37ffc8,#37ffc8,#37ffc8,#39ffc6,#3dffc2,#42ffbd,#4affb5,#50ffaf,#55ffaa,#5cffa3,#63ff9c,#66ff99,#69ff96,#6dff92,#6fff90,#6fff90,#6eff91,#6eff91,#6eff91,#6eff91,#6eff91,#6eff91)"></i><i style="top:6px;left:0;width:160px;background:linear-gradient(90deg,#6fff90,#6fff90,#6fff90,#6fff90,#6fff90,#70ff8f,#70ff8f,#70ff8f,#6eff91,#6aff95,#67ff98,#63ff9c,#5affa5,#54ffab,#4effb1,#47ffb8,#40ffbf,#3cffc3,#38ffc7,#36ffc9,#36ffc9,#36ffc9,#39ffc6,#3dffc2,#42ffbd,#49ffb6,#50ffaf,#55ffaa,#5cffa3,#64ff9b,#68ff97,#6bff94,#6eff91,#70ff8f,#70ff8f,#70ff8f,#6fff90,#6fff90,#6fff90,#6fff90,#6fff90)"></i><i style="top:7px;left:0;width:160px;background:linear-gradient(90deg,#70ff8f,#70ff8f,#70ff8f,#70ff8f,#70ff8f,#71ff8e,#72ff8d,#72ff8d,#6fff90,#6cff93,#69ff96,#64ff9b,#5bffa4,#54ffab,#4effb1,#47ffb8,#40ffbf,#3bffc4,#37ffc8,#36ffc9,#36ffc9,#36ffc9,#38ffc7,#3cffc3,#41ffbe,#49ffb6,#4fffb0,#55ffaa,#5dffa2,#65ff9a,#69ff96,#6dff92,#70ff8f,#72ff8d,#71ff8e,#71ff8e,#70ff8f,#70ff8f,#70ff8f,#70ff8f,#70ff8f)"></i><i style="top:8px;left:0;width:160px;background:linear-gradient(90deg,#71ff8e,#71ff8e,#71ff8e,#71ff8e,#72ff8d,#72ff8d,#73ff8c,#73ff8c,#71ff8e,#6eff91,#6aff95,#65ff9a,#5bffa4,#54ffab,#4effb1,#46ffb9,#3fffc0,#3bffc4,#37ffc8,#35ffca,#35ffca,#35ffca,#38ffc7,#3cffc3,#41ffbe,#48ffb7,#4fffb0,#56ffa9,#5effa1,#67ff98,#6bff94,#6fff90,#72ff8d,#74ff8b,#73ff8c,#72ff8d,#71ff8e,#71ff8e,#71ff8e,#71ff8e,#71ff8e)"></i><i style="top:9px;left:0;width:160px;background:linear-gradient(90deg,#72ff8d,#72ff8d,#72ff8d,#72ff8d,#73ff8c,#74ff8b,#75ff8a,#75ff8a,#73ff8c,#70ff8f,#6cff93,#66ff99,#5cffa3,#54ffab,#4dffb2,#46ffb9,#3fffc0,#3affc5,#36ffc9,#35ffca,#35ffca,#35ffca,#37ffc8,#3bffc4,#40ffbf,#48ffb7,#4fffb0,#56ffa9,#5effa1,#68ff97,#6dff92,#71ff8e,#74ff8b,#75ff8a,#74ff8b,#73ff8c,#72ff8d,#72ff8d,#72ff8d,#72ff8d,#72ff8d)"></i><i style="top:10px;left:0;width:160px;background:linear-gradient(90deg,#73ff8c,#73ff8c,#73ff8c,#73ff8c,#74ff8b,#75ff8a,#76ff89,#77ff88,#75ff8a,#72ff8d,#6eff91,#67ff98,#5dffa2,#54ffab,#4dffb2,#45ffba,#3effc1,#3affc5,#36ffc9,#34ffcb,#34ffcb,#34ffcb,#37ffc8,#3bffc4,#40ffbf,#47ffb8,#4fffb0,#56ffa9,#5fffa0,#69ff96,#6fff90,#73ff8c,#75ff8a,#77ff88,#76ff89,#75ff8a,#74ff8b,#73ff8c,#73ff8c,#73ff8c,#73ff8c)"></i><i style="top:11px;left:0;width:160px;background:linear-gradient(90deg,#74ff8b,#74ff8b,#74ff8b,#74ff8b,#75ff8a,#76ff89,#77ff88,#78ff87,#77ff88,#74ff8b,#6fff90,#68ff97,#5dffa2,#55ffaa,#4dffb2,#45ffba,#3effc1,#39ffc6,#35ffca,#34ffcb,#34ffcb,#34ffcb,#36ffc9,#3affc5,#3fffc0,#47ffb8,#4fffb0,#57ffa8,#60ff9f,#6aff95,#71ff8e,#75ff8a,#77ff88,#78ff87,#77ff88,#76ff89,#75ff8a,#74ff8b,#74ff8b,#74ff8b,#74ff8b)"></i><i style="top:12px;left:0;width:160px;background:linear-gradient(90deg,#75ff8a,#75ff8a,#75ff8a,#75ff8a,#76ff89,#78ff87,#79ff86,#7aff85,#78ff87,#76ff89,#71ff8e,#69ff96,#5effa1,#55ffaa,#4dffb2,#44ffbb,#3dffc2,#39ffc6,#35ffca,#33ffcc,#33ffcc,#33ffcc,#36ffc9,#3affc5,#3fffc0,#46ffb9,#4fffb0,#57ffa8,#61ff9e,#6bff94,#73ff8c,#77ff88,#79ff86,#7aff85,#79ff86,#77ff88,#76ff89,#75ff8a,#75ff8a,#75ff8a,#75ff8a)"></i><i style="top:13px;left:0;width:160px;background:linear-gradient(90deg,#76ff89,#76ff89,#76ff89,#76ff89,#77ff88,#79ff86,#7aff85,#7bff84,#7aff85,#78ff87,#73ff8c,#6aff95,#5effa1,#55ffaa,#4cffb3,#44ffbb,#3dffc2,#38ffc7,#34ffcb,#33ffcc,#32ffcd,#33ffcc,#35ffca,#39ffc6,#3effc1,#46ffb9,#4effb1,#57ffa8,#61ff9e,#6dff92,#74ff8b,#79ff86,#7bff84,#7bff84,#7aff85,#78ff87,#77ff88,#76ff89,#76ff89,#76ff89,#76ff89)"></i><i style="top:14px;left:0;width:160px;background:linear-gradient(90deg,#77ff88,#77ff88,#77ff88,#78ff87,#79ff86,#7aff85,#7cff83,#7dff82,#7cff83,#7aff85,#74ff8b,#6bff94,#5fffa0,#55ffaa,#4cffb3,#43ffbc,#3cffc3,#38ffc7,#34ffcb,#32ffcd,#32ffcd,#32ffcd,#35ffca,#39ffc6,#3effc1,#45ffba,#4effb1,#57ffa8,#62ff9d,#6eff91,#76ff89,#7bff84,#7dff82,#7dff82,#7bff84,#7aff85,#78ff87,#77ff88,#77ff88,#77ff88,#77ff88)"></i><i style="top:15px;left:0;width:160px;background:linear-gradient(90deg,#79ff86,#79ff86,#79ff86,#79ff86,#7aff85,#7bff84,#7dff82,#7fff80,#7eff81,#7cff83,#76ff89,#6cff93,#60ff9f,#55ffaa,#4cffb3,#43ffbc,#3cffc3,#37ffc8,#33ffcc,#31ffce,#31ffce,#32ffcd,#34ffcb,#38ffc7,#3dffc2,#45ffba,#4effb1,#58ffa7,#63ff9c,#6fff90,#78ff87,#7dff82,#7eff81,#7eff81,#7dff82,#7bff84,#79ff86,#79ff86,#79ff86,#79ff86,#79ff86)"></i><i style="top:16px;left:0;width:160px;background:linear-gradient(90deg,#7aff85,#7aff85,#7aff85,#7aff85,#7bff84,#7dff82,#7fff80,#80ff7f,#80ff7f,#7eff81,#78ff87,#6dff92,#60ff9f,#55ffaa,#4cffb3,#42ffbd,#3bffc4,#36ffc9,#33ffcc,#31ffce,#31ffce,#31ffce,#33ffcc,#38ffc7,#3dffc2,#44ffbb,#4effb1,#58ffa7,#63ff9c,#70ff8f,#7aff85,#7fff80,#80ff7f,#80ff7f,#7eff81,#7cff83,#7aff85,#7aff85,#7aff85,#7aff85,#7aff85)"></i><i style="top:17px;left:0;width:160px;background:linear-gradient(90deg,#7bff84,#7bff84,#7bff84,#7bff84,#7cff83,#7eff81,#80ff7f,#82ff7d,#82ff7d,#80ff7f,#7aff85,#6eff91,#61ff9e,#56ffa9,#4bffb4,#42ffbd,#3affc5,#36ffc9,#32ffcd,#30ffcf,#30ffcf,#30ffcf,#33ffcc,#37ffc8,#3cffc3,#44ffbb,#4effb1,#58ffa7,#64ff9b,#72ff8d,#7cff83,#81ff7e,#82ff7d,#82ff7d,#80ff7f,#7eff81,#7cff83,#7bff84,#7bff84,#7bff84,#7bff84)"></i><i style="top:18px;left:0;width:160px;background:linear-gradient(90deg,#7cff83,#7cff83,#7cff83,#7cff83,#7dff82,#7fff80,#82ff7d,#84ff7b,#84ff7b,#82ff7d,#7bff84,#70ff8f,#62ff9d,#56ffa9,#4bffb4,#41ffbe,#3affc5,#35ffca,#31ffce,#30ffcf,#30ffcf,#30ffcf,#32ffcd,#36ffc9,#3bffc4,#44ffbb,#4effb1,#59ffa6,#65ff9a,#73ff8c,#7eff81,#83ff7c,#84ff7b,#83ff7c,#81ff7e,#7fff80,#7dff82,#7cff83,#7cff83,#7cff83,#7cff83)"></i><i style="top:19px;left:0;width:160px;background:linear-gradient(90deg,#7dff82,#7dff82,#7dff82,#7dff82,#7eff81,#81ff7e,#83ff7c,#85ff7a,#85ff7a,#85ff7a,#7dff82,#71ff8e,#62ff9d,#56ffa9,#4bffb4,#41ffbe,#39ffc6,#35ffca,#31ffce,#2fffd0,#2fffd0,#2fffd0,#32ffcd,#36ffc9,#3bffc4,#43ffbc,#4effb1,#59ffa6,#66ff99,#74ff8b,#80ff7f,#85ff7a,#86ff79,#85ff7a,#83ff7c,#80ff7f,#7eff81,#7dff82,#7dff82,#7dff82,#7dff82)"></i><i style="top:20px;left:0;width:160px;background:linear-gradient(90deg,#7eff81,#7eff81,#7eff81,#7eff81,#80ff7f,#82ff7d,#85ff7a,#87ff78,#88ff77,#87ff78,#7fff80,#72ff8d,#63ff9c,#56ffa9,#4affb5,#40ffbf,#39ffc6,#34ffcb,#30ffcf,#2effd1,#2effd1,#2fffd0,#31ffce,#35ffca,#3affc5,#42ffbd,#4dffb2,#59ffa6,#67ff98,#76ff89,#82ff7d,#87ff78,#88ff77,#87ff78,#84ff7b,#81ff7e,#7fff80,#7eff81,#7eff81,#7eff81,#7eff81)"></i><i style="top:21px;left:0;width:160px;background:linear-gradient(90deg,#7fff80,#7fff80,#7fff80,#7fff80,#81ff7e,#84ff7b,#86ff79,#89ff76,#8aff75,#8aff75,#82ff7d,#74ff8b,#64ff9b,#56ffa9,#4affb5,#3fffc0,#38ffc7,#33ffcc,#2fffd0,#2dffd2,#2dffd2,#2dffd2,#30ffcf,#34ffcb,#39ffc6,#42ffbd,#4dffb2,#5affa5,#68ff97,#77ff88,#85ff7a,#8aff75,#8aff75,#89ff76,#86ff79,#83ff7c,#80ff7f,#7fff80,#7fff80,#7fff80,#7fff80)"></i><i style="top:22px;left:0;width:160px;background:linear-gradient(90deg,#7fff80,#7fff80,#7fff80,#80ff7f,#82ff7d,#85ff7a,#88ff77,#8cff73,#8dff72,#8eff71,#85ff7a,#75ff8a,#65ff9a,#57ffa8,#4affb5,#3effc1,#37ffc8,#32ffcd,#2effd1,#2cffd3,#2cffd3,#2cffd3,#2fffd0,#33ffcc,#38ffc7,#41ffbe,#4dffb2,#5affa5,#69ff96,#7aff85,#88ff77,#8eff71,#8dff72,#8bff74,#88ff77,#84ff7b,#81ff7e,#80ff7f,#7fff80,#7fff80,#7fff80)"></i><i style="top:23px;left:0;width:160px;background:linear-gradient(90deg,#7fff80,#80ff7f,#80ff7f,#80ff7f,#83ff7c,#87ff78,#8bff74,#8eff71,#91ff6e,#92ff6d,#89ff76,#78ff87,#66ff99,#57ffa8,#49ffb6,#3dffc2,#35ffca,#30ffcf,#2cffd3,#2affd5,#2affd5,#2affd5,#2dffd2,#31ffce,#37ffc8,#40ffbf,#4cffb3,#5affa5,#6aff95,#7cff83,#8dff72,#92ff6d,#90ff6f,#8eff71,#8aff75,#86ff79,#82ff7d,#80ff7f,#80ff7f,#80ff7f,#7fff80)"></i><i style="top:24px;left:0;width:160px;background:linear-gradient(90deg,#80ff7f,#80ff7f,#80ff7f,#81ff7e,#84ff7b,#88ff77,#8dff72,#91ff6e,#95ff6a,#97ff68,#8dff72,#7aff85,#67ff98,#57ffa8,#48ffb7,#3cffc3,#33ffcc,#2effd1,#29ffd6,#28ffd7,#27ffd8,#28ffd7,#2affd5,#2fffd0,#35ffca,#3fffc0,#4cffb3,#5affa5,#6bff94,#7fff80,#91ff6e,#97ff68,#94ff6b,#90ff6f,#8cff73,#87ff78,#83ff7c,#81ff7e,#80ff7f,#80ff7f,#80ff7f)"></i><i style="top:25px;left:0;width:160px;background:linear-gradient(90deg,#80ff7f,#80ff7f,#81ff7e,#82ff7d,#85ff7a,#8aff75,#8fff70,#95ff6a,#99ff66,#9cff63,#92ff6d,#7dff82,#68ff97,#57ffa8,#48ffb7,#3bffc4,#31ffce,#2cffd3,#27ffd8,#25ffda,#25ffda,#25ffda,#28ffd7,#2dffd2,#33ffcc,#3dffc2,#4cffb3,#5bffa4,#6dff92,#82ff7d,#96ff69,#9cff63,#98ff67,#93ff6c,#8eff71,#89ff76,#84ff7b,#81ff7e,#81ff7e,#80ff7f,#80ff7f)"></i><i style="top:26px;left:0;width:160px;background:linear-gradient(90deg,#80ff7f,#80ff7f,#81ff7e,#82ff7d,#86ff79,#8cff73,#92ff6d,#98ff67,#9dff62,#a2ff5d,#96ff69,#80ff7f,#69ff96,#57ffa8,#47ffb8,#39ffc6,#30ffcf,#2affd5,#25ffda,#22ffdd,#22ffdd,#23ffdc,#26ffd9,#2bffd4,#32ffcd,#3cffc3,#4bffb4,#5bffa4,#6eff91,#85ff7a,#9bff64,#a1ff5e,#9cff63,#96ff69,#90ff6f,#8aff75,#85ff7a,#82ff7d,#81ff7e,#80ff7f,#80ff7f)"></i><i style="top:27px;left:0;width:160px;background:linear-gradient(90deg,#80ff7f,#81ff7e,#82ff7d,#83ff7c,#87ff78,#8eff71,#94ff6b,#9bff64,#a2ff5d,#a7ff58,#9bff64,#83ff7c,#6aff95,#57ffa8,#46ffb9,#38ffc7,#2effd1,#28ffd7,#22ffdd,#20ffdf,#20ffdf,#20ffdf,#23ffdc,#29ffd6,#30ffcf,#3bffc4,#4bffb4,#5cffa3,#70ff8f,#89ff76,#a0ff5f,#a7ff58,#a0ff5f,#99ff66,#93ff6c,#8cff73,#86ff79,#82ff7d,#81ff7e,#80ff7f,#80ff7f)"></i><i style="top:28px;left:0;width:160px;background:linear-gradient(90deg,#80ff7f,#81ff7e,#82ff7d,#83ff7c,#88ff77,#8fff70,#97ff68,#9eff61,#a6ff59,#adff52,#a0ff5f,#86ff79,#6cff93,#58ffa7,#46ffb9,#36ffc9,#2cffd3,#25ffda,#20ffdf,#1dffe2,#1dffe2,#1effe1,#21ffde,#27ffd8,#2effd1,#3affc5,#4affb5,#5cffa3,#72ff8d,#8cff73,#a6ff59,#acff53,#a4ff5b,#9dff62,#95ff6a,#8eff71,#87ff78,#83ff7c,#82ff7d,#81ff7e,#80ff7f)"></i><i style="top:29px;left:0;width:160px;background:linear-gradient(90deg,#80ff7f,#81ff7e,#82ff7d,#84ff7b,#89ff76,#91ff6e,#99ff66,#a2ff5d,#abff54,#b3ff4c,#a5ff5a,#89ff76,#6dff92,#58ffa7,#45ffba,#35ffca,#2affd5,#23ffdc,#1dffe2,#1bffe4,#1bffe4,#1bffe4,#1fffe0,#25ffda,#2cffd3,#39ffc6,#4affb5,#5dffa2,#74ff8b,#90ff6f,#abff54,#b1ff4e,#a9ff56,#a0ff5f,#97ff68,#8fff70,#88ff77,#84ff7b,#82ff7d,#81ff7e,#80ff7f)"></i><i style="top:30px;left:0;width:160px;background:linear-gradient(90deg,#80ff7f,#81ff7e,#83ff7c,#85ff7a,#8aff75,#93ff6c,#9cff63,#a5ff5a,#b0ff4f,#b8ff47,#abff54,#8cff73,#6fff90,#58ffa7,#45ffba,#34ffcb,#28ffd7,#21ffde,#1bffe4,#18ffe7,#18ffe7,#19ffe6,#1cffe3,#23ffdc,#2affd5,#37ffc8,#49ffb6,#5effa1,#76ff89,#94ff6b,#b1ff4e,#b7ff48,#adff52,#a3ff5c,#9aff65,#91ff6e,#88ff77,#84ff7b,#82ff7d,#81ff7e,#80ff7f)"></i><i style="top:31px;left:0;width:160px;background:linear-gradient(90deg,#80ff7f,#81ff7e,#83ff7c,#85ff7a,#8cff73,#95ff6a,#9eff61,#a9ff56,#b4ff4b,#bfff40,#b0ff4f,#90ff6f,#71ff8e,#59ffa6,#44ffbb,#32ffcd,#26ffd9,#1fffe0,#18ffe7,#16ffe9,#16ffe9,#16ffe9,#1affe5,#20ffdf,#29ffd6,#36ffc9,#49ffb6,#5effa1,#78ff87,#98ff67,#b7ff48,#bdff42,#b1ff4e,#a6ff59,#9cff63,#92ff6d,#89ff76,#85ff7a,#83ff7c,#81ff7e,#80ff7f)"></i><i style="top:32px;left:0;width:160px;background:linear-gradient(90deg,#80ff7f,#82ff7d,#84ff7b,#86ff79,#8dff72,#97ff68,#a1ff5e,#acff53,#b9ff46,#c5ff3a,#b7ff48,#95ff6a,#73ff8c,#59ffa6,#44ffbb,#31ffce,#24ffdb,#1dffe2,#16ffe9,#13ffec,#13ffec,#13ffec,#18ffe7,#1effe1,#27ffd8,#35ffca,#49ffb6,#5fffa0,#7bff84,#9dff62,#beff41,#c3ff3c,#b6ff49,#a9ff56,#9eff61,#94ff6b,#8aff75,#85ff7a,#83ff7c,#81ff7e,#80ff7f)"></i><i style="top:33px;left:0;width:160px;background:linear-gradient(90deg,#80ff7f,#82ff7d,#84ff7b,#86ff79,#8eff71,#98ff67,#a3ff5c,#afff50,#beff41,#ccff33,#bdff42,#99ff66,#75ff8a,#5affa5,#43ffbc,#30ffcf,#22ffdd,#1affe5,#14ffeb,#11ffee,#11ffee,#11ffee,#15ffea,#1cffe3,#25ffda,#34ffcb,#49ffb6,#60ff9f,#7eff81,#a3ff5c,#c5ff3a,#c9ff36,#baff45,#acff53,#a1ff5e,#96ff69,#8bff74,#86ff79,#83ff7c,#81ff7e,#80ff7f)"></i><i style="top:34px;left:0;width:160px;background:linear-gradient(90deg,#80ff7f,#82ff7d,#84ff7b,#87ff78,#8fff70,#9aff65,#a6ff59,#b3ff4c,#c3ff3c,#d3ff2c,#c5ff3a,#9fff60,#78ff87,#5bffa4,#43ffbc,#2effd1,#21ffde,#18ffe7,#11ffee,#0efff1,#0efff1,#0efff1,#13ffec,#1affe5,#23ffdc,#33ffcc,#48ffb7,#61ff9e,#81ff7e,#a9ff56,#cdff32,#d0ff2f,#bfff40,#afff50,#a3ff5c,#97ff68,#8cff73,#86ff79,#84ff7b,#82ff7d,#80ff7f)"></i><i style="top:35px;left:0;width:160px;background:linear-gradient(90deg,#80ff7f,#82ff7d,#85ff7a,#88ff77,#90ff6f,#9cff63,#a8ff57,#b6ff49,#c9ff36,#dbff24,#ceff31,#a5ff5a,#7bff84,#5bffa4,#42ffbd,#2dffd2,#1fffe0,#16ffe9,#0ffff0,#0cfff3,#0cfff3,#0cfff3,#10ffef,#18ffe7,#22ffdd,#32ffcd,#48ffb7,#62ff9d,#85ff7a,#b0ff4f,#d6ff29,#d8ff27,#c4ff3b,#b3ff4c,#a5ff5a,#99ff66,#8dff72,#87ff78,#84ff7b,#82ff7d,#80ff7f)"></i><i style="top:36px;left:0;width:160px;background:linear-gradient(90deg,#80ff7f 0px,#82ff7d 4px,#85ff7a 8px,#88ff77 12px,#91ff6e 16px,#9dff62 20px,#abff54 24px,#baff45 28px,#ceff31 32px,#d4ff2b 33px,#daff25 34px,#e0ff1f 35px,#e4ff1b 36px,#e7ff18 37px,#e6ff19 38px,#e1ff1e 39px,#d9ff26 40px,#cfff30 41px,#c4ff3b 42px,#b8ff47 43px,#acff53 44px,#7eff81 48px,#5cffa3 52px,#42ffbd 56px,#2cffd3 60px,#1dffe2 64px,#14ffeb 68px,#0dfff2 72px,#09fff6 76px,#09fff6 80px,#0afff5 84px,#0efff1 88px,#16ffe9 92px,#20ffdf 96px,#31ffce 100px,#48ffb7 104px,#64ff9b 108px,#88ff77 112px,#acff53 115px,#b8ff47 116px,#c4ff3b 117px,#cfff30 118px,#d9ff26 119px,#e1ff1e 120px,#e6ff19 121px,#e7ff18 122px,#e4ff1b 123px,#e0ff1f 124px,#daff25 125px,#d4ff2b 126px,#ceff31 127px,#c8ff37 128px,#b6ff49 132px,#a7ff58 136px,#9aff65 140px,#8eff71 144px,#87ff78 148px,#84ff7b 152px,#82ff7d 156px,#80ff7f 160px)"></i><i style="top:37px;left:0;width:160px;background:linear-gradient(90deg,#80ff7f 0px,#83ff7c 4px,#85ff7a 8px,#89ff76 12px,#92ff6d 16px,#9fff60 20px,#adff52 24px,#bdff42 28px,#d3ff2c 32px,#daff25 33px,#e1ff1e 34px,#e8ff17 35px,#efff10 36px,#f3ff0c 37px,#f3ff0c 38px,#efff10 39px,#e7ff18 40px,#dcff23 41px,#cfff30 42px,#c1ff3e 43px,#b3ff4c 44px,#80ff7f 48px,#5dffa2 52px,#41ffbe 56px,#2bffd4 60px,#1cffe3 64px,#13ffec 68px,#0bfff4 72px,#08fff7 76px,#08fff7 80px,#08fff7 84px,#0dfff2 88px,#15ffea 92px,#1fffe0 96px,#30ffcf 100px,#48ffb7 104px,#65ff9a 108px,#8cff73 112px,#b3ff4c 115px,#c1ff3e 116px,#cfff30 117px,#dcff23 118px,#e7ff18 119px,#efff10 120px,#f3ff0c 121px,#f3ff0c 122px,#efff10 123px,#e8ff17 124px,#e1ff1e 125px,#daff25 126px,#d3ff2c 127px,#ccff33 128px,#b8ff47 132px,#a9ff56 136px,#9bff64 140px,#8fff70 144px,#88ff77 148px,#85ff7a 152px,#82ff7d 156px,#80ff7f 160px)"></i><i style="top:38px;left:0;width:160px;background:linear-gradient(90deg,#80ff7f 0px,#83ff7c 4px,#86ff79 8px,#89ff76 12px,#92ff6d 16px,#a0ff5f 20px,#aeff51 24px,#bfff40 28px,#d7ff28 32px,#dfff20 33px,#e8ff17 34px,#f1ff0e 35px,#faff05 36px,#fffd00 37px,#fffa00 38px,#fffd00 39px,#f8ff07 40px,#ebff14 41px,#dbff24 42px,#cbff34 43px,#bbff44 44px,#83ff7c 48px,#5effa1 52px,#41ffbe 56px,#2affd5 60px,#1bffe4 64px,#12ffed 68px,#0afff5 72px,#06fff9 76px,#06fff9 80px,#07fff8 84px,#0bfff4 88px,#14ffeb 92px,#1effe1 96px,#2fffd0 100px,#48ffb7 104px,#66ff99 108px,#8fff70 112px,#bbff44 115px,#cbff34 116px,#dbff24 117px,#ebff14 118px,#f8ff07 119px,#fffd00 120px,#fffa00 121px,#fffd00 122px,#faff05 123px,#f1ff0e 124px,#e8ff17 125px,#dfff20 126px,#d7ff28 127px,#d0ff2f 128px,#baff45 132px,#aaff55 136px,#9cff63 140px,#8fff70 144px,#88ff77 148px,#85ff7a 152px,#82ff7d 156px,#80ff7f 160px)"></i><i style="top:39px;left:0;width:160px;background:linear-gradient(90deg,#80ff7f 0px,#83ff7c 4px,#86ff79 8px,#89ff76 12px,#92ff6d 16px,#a0ff5f 20px,#afff50 24px,#c0ff3f 28px,#dbff24 32px,#e4ff1b 33px,#eeff11 34px,#fbff04 35px,#fff600 36px,#ffea00 37px,#ffe200 38px,#ffe300 39px,#ffef00 40px,#fdff02 41px,#e9ff16 42px,#d5ff2a 43px,#c2ff3d 44px,#85ff7a 48px,#5effa1 52px,#41ffbe 56px,#2affd5 60px,#1affe5 64px,#11ffee 68px,#09fff6 72px,#06fff9 76px,#06fff9 80px,#06fff9 84px,#0bfff4 88px,#13ffec 92px,#1effe1 96px,#2fffd0 100px,#48ffb7 104px,#67ff98 108px,#92ff6d 112px,#c2ff3d 115px,#d5ff2a 116px,#e9ff16 117px,#fdff02 118px,#ffef00 119px,#ffe300 120px,#ffe200 121px,#ffea00 122px,#fff600 123px,#fbff04 124px,#eeff11 125px,#e4ff1b 126px,#dbff24 127px,#d3ff2c 128px,#bbff44 132px,#abff54 136px,#9dff62 140px,#8fff70 144px,#88ff77 148px,#85ff7a 152px,#82ff7d 156px,#80ff7f 160px)"></i><i style="top:40px;left:0;width:160px;background:linear-gradient(90deg,#80ff7f 0px,#83ff7c 4px,#85ff7a 8px,#89ff76 12px,#92ff6d 16px,#a0ff5f 20px,#afff50 24px,#c1ff3e 28px,#dfff20 32px,#eaff15 33px,#f6ff09 34px,#fff900 35px,#ffe600 36px,#ffd100 37px,#ffc000 38px,#ffbf00 39px,#ffd200 40px,#ffec00 41px,#f7ff08 42px,#deff21 43px,#c9ff36 44px,#87ff78 48px,#5fffa0 52px,#41ffbe 56px,#2affd5 60px,#1affe5 64px,#11ffee 68px,#09fff6 72px,#05fffa 76px,#05fffa 80px,#06fff9 84px,#0bfff4 88px,#13ffec 92px,#1dffe2 96px,#2fffd0 100px,#48ffb7 104px,#67ff98 108px,#95ff6a 112px,#c9ff36 115px,#deff21 116px,#f7ff08 117px,#ffec00 118px,#ffd200 119px,#ffbf00 120px,#ffc000 121px,#ffd100 122px,#ffe600 123px,#fff900 124px,#f6ff09 125px,#eaff15 126px,#dfff20 127px,#d6ff29 128px,#bcff43 132px,#abff54 136px,#9dff62 140px,#8fff70 144px,#88ff77 148px,#85ff7a 152px,#82ff7d 156px,#80ff7f 160px)"></i><i style="top:41px;left:0;width:160px;background:linear-gradient(90deg,#7fff80 0px,#81ff7e 4px,#84ff7b 8px,#88ff77 12px,#91ff6e 16px,#9fff60 20px,#aeff51 24px,#c1ff3e 28px,#e2ff1d 32px,#efff10 33px,#ffff00 34px,#ffec00 35px,#ffd500 36px,#ffb500 37px,#ff8f00 38px,#ff8a00 39px,#ffb100 40px,#ffda00 41px,#fffc00 42px,#e5ff1a 43px,#cdff32 44px,#88ff77 48px,#5fffa0 52px,#41ffbe 56px,#2affd5 60px,#1affe5 64px,#10ffef 68px,#08fff7 72px,#05fffa 76px,#05fffa 80px,#05fffa 84px,#0afff5 88px,#13ffec 92px,#1dffe2 96px,#2fffd0 100px,#48ffb7 104px,#67ff98 108px,#96ff69 112px,#cdff32 115px,#e5ff1a 116px,#fffc00 117px,#ffda00 118px,#ffb100 119px,#ff8a00 120px,#ff8f00 121px,#ffb500 122px,#ffd500 123px,#ffec00 124px,#ffff00 125px,#efff10 126px,#e2ff1d 127px,#d8ff27 128px,#bcff43 132px,#aaff55 136px,#9cff63 140px,#8eff71 144px,#87ff78 148px,#84ff7b 152px,#81ff7e 156px,#7fff80 160px)"></i><i style="top:42px;left:0;width:160px;background:linear-gradient(90deg,#7cff83 0px,#7eff81 4px,#81ff7e 8px,#85ff7a 12px,#8eff71 16px,#9cff63 20px,#abff54 24px,#c0ff3f 28px,#e4ff1b 32px,#f3ff0c 33px,#fff700 34px,#ffde00 35px,#ffbe00 36px,#ff9600 37px,#ff5b00 38px,#ff5400 39px,#ff9f00 40px,#ffd200 41px,#fff800 42px,#e7ff18 43px,#ceff31 44px,#87ff78 48px,#5effa1 52px,#40ffbf 56px,#29ffd6 60px,#19ffe6 64px,#10ffef 68px,#08fff7 72px,#05fffa 76px,#05fffa 80px,#05fffa 84px,#0afff5 88px,#12ffed 92px,#1dffe2 96px,#2effd1 100px,#47ffb8 104px,#66ff99 108px,#96ff69 112px,#ceff31 115px,#e7ff18 116px,#fff800 117px,#ffd200 118px,#ff9f00 119px,#ff5400 120px,#ff5b00 121px,#ff9600 122px,#ffbe00 123px,#ffde00 124px,#fff700 125px,#f3ff0c 126px,#e4ff1b 127px,#d8ff27 128px,#baff45 132px,#a7ff58 136px,#98ff67 140px,#8bff74 144px,#84ff7b 148px,#80ff7f 152px,#7dff82 156px,#7bff84 160px)"></i><i style="top:43px;left:0;width:160px;background:linear-gradient(90deg,#75ff8a 0px,#77ff88 4px,#7aff85 8px,#7dff82 12px,#87ff78 16px,#95ff6a 20px,#a4ff5b 24px,#bfff40 28px,#e7ff18 32px,#f7ff08 33px,#fff200 34px,#ffd500 35px,#ffac00 36px,#ff6f00 37px,#ff3500 38px,#ff7f00 39px,#ffb100 40px,#ffda00 41px,#fffd00 42px,#e4ff1b 43px,#cbff34 44px,#84ff7b 48px,#5bffa4 52px,#3effc1 56px,#27ffd8 60px,#18ffe7 64px,#0ffff0 68px,#07fff8 72px,#04fffb 76px,#04fffb 80px,#04fffb 84px,#09fff6 88px,#11ffee 92px,#1bffe4 96px,#2cffd3 100px,#45ffba 104px,#64ff9b 108px,#93ff6c 112px,#cbff34 115px,#e4ff1b 116px,#fffd00 117px,#ffda00 118px,#ffb100 119px,#ff7f00 120px,#ff3500 121px,#ff6f00 122px,#ffac00 123px,#ffd500 124px,#fff200 125px,#f7ff08 126px,#e7ff18 127px,#daff25 128px,#b6ff49 132px,#a0ff5f 136px,#91ff6e 140px,#84ff7b 144px,#7cff83 148px,#79ff86 152px,#76ff89 156px,#74ff8b 160px)"></i><i style="top:44px;left:0;width:160px;background:linear-gradient(90deg,#69ff96 0px,#6bff94 4px,#6eff91 8px,#72ff8d 12px,#7bff84 16px,#89ff76 20px,#99ff66 24px,#b3ff4c 28px,#dfff20 32px,#f0ff0f 33px,#fff800 34px,#ffdc00 35px,#ffb600 36px,#ff8700 37px,#ff7900 38px,#ffa500 39px,#ffce00 40px,#ffee00 41px,#f4ff0b 42px,#dbff24 43px,#c4ff3b 44px,#7fff80 48px,#57ffa8 52px,#3affc5 56px,#24ffdb 60px,#15ffea 64px,#0cfff3 68px,#05fffa 72px,#03fffc 76px,#02fffd 80px,#03fffc 84px,#07fff8 88px,#0efff1 92px,#18ffe7 96px,#29ffd6 100px,#41ffbe 104px,#5fffa0 108px,#8eff71 112px,#c4ff3b 115px,#dbff24 116px,#f4ff0b 117px,#ffee00 118px,#ffce00 119px,#ffa500 120px,#ff7900 121px,#ff8700 122px,#ffb600 123px,#ffdc00 124px,#fff800 125px,#f0ff0f 126px,#dfff20 127px,#d1ff2e 128px,#abff54 132px,#95ff6a 136px,#85ff7a 140px,#78ff87 144px,#70ff8f 148px,#6dff92 152px,#6aff95 156px,#68ff97 160px)"></i><i style="top:45px;left:36px;width:88px;background:linear-gradient(90deg,#ffd100 0px,#ffb800 1px,#ffb300 2px,#ffc800 3px,#ffe600 4px,#fcff03 5px,#e4ff1b 6px,#ceff31 7px,#baff45 8px,#a7ff58 9px,#78ff87 12px,#59ffa6 15px,#42ffbd 18px,#2fffd0 21px,#20ffdf 24px,#15ffea 27px,#0dfff2 30px,#07fff8 33px,#03fffc 36px,#01fffe 39px,#00ffff 42px,#00ffff 45px,#01fffe 48px,#03fffc 51px,#07fff8 54px,#0dfff2 57px,#15ffea 60px,#20ffdf 63px,#2fffd0 66px,#42ffbd 69px,#59ffa6 72px,#78ff87 75px,#a7ff58 78px,#baff45 79px,#ceff31 80px,#e4ff1b 81px,#fcff03 82px,#ffe600 83px,#ffc800 84px,#ffb300 85px,#ffb800 86px,#ffd100 87px,#ffed00 88px)"></i><i style="top:46px;left:36px;width:88px;background:linear-gradient(90deg,#ffef00 0px,#ffdf00 1px,#ffdc00 2px,#ffea00 3px,#fffe00 4px,#eaff15 5px,#d4ff2b 6px,#c0ff3f 7px,#aeff51 8px,#9dff62 9px,#6fff90 12px,#51ffae 15px,#3bffc4 18px,#29ffd6 21px,#1bffe4 24px,#11ffee 27px,#09fff6 30px,#04fffb 33px,#00ffff 36px,#00fdff 39px,#00fdff 42px,#00fdff 45px,#00fdff 48px,#00ffff 51px,#04fffb 54px,#09fff6 57px,#11ffee 60px,#1bffe4 63px,#29ffd6 66px,#3bffc4 69px,#51ffae 72px,#6fff90 75px,#9dff62 78px,#aeff51 79px,#c0ff3f 80px,#d4ff2b 81px,#eaff15 82px,#fffe00 83px,#ffea00 84px,#ffdc00 85px,#ffdf00 86px,#ffef00 87px,#fcff03 88px)"></i><i style="top:47px;left:36px;width:88px;background:linear-gradient(90deg,#f4ff0b 0px,#fffe00 1px,#fffb00 2px,#f6ff09 3px,#e8ff17 4px,#d7ff28 5px,#c5ff3a 6px,#b2ff4d 7px,#a1ff5e 8px,#90ff6f 9px,#66ff99 12px,#49ffb6 15px,#34ffcb 18px,#23ffdc 21px,#16ffe9 24px,#0cfff3 27px,#05fffa 30px,#00ffff 33px,#00fcff 36px,#00faff 39px,#00faff 42px,#00faff 45px,#00faff 48px,#00fcff 51px,#00ffff 54px,#05fffa 57px,#0cfff3 60px,#16ffe9 63px,#23ffdc 66px,#34ffcb 69px,#49ffb6 72px,#66ff99 75px,#90ff6f 78px,#a1ff5e 79px,#b2ff4d 80px,#c5ff3a 81px,#d7ff28 82px,#e8ff17 83px,#f6ff09 84px,#fffb00 85px,#fffe00 86px,#f4ff0b 87px,#e7ff18 88px)"></i><i style="top:48px;left:36px;width:88px;background:linear-gradient(90deg,#dcff23 0px,#e7ff18 1px,#eaff15 2px,#ddff22 3px,#d2ff2d 4px,#c4ff3b 5px,#b4ff4b 6px,#a4ff5b 7px,#94ff6b 8px,#84ff7b 9px,#5bffa4 12px,#40ffbf 15px,#2cffd3 18px,#1cffe3 21px,#10ffef 24px,#07fff8 27px,#00ffff 30px,#00faff 33px,#00f8ff 36px,#00f6ff 39px,#00f6ff 42px,#00f6ff 45px,#00f6ff 48px,#00f8ff 51px,#00faff 54px,#00ffff 57px,#07fff8 60px,#10ffef 63px,#1cffe3 66px,#2cffd3 69px,#40ffbf 72px,#5bffa4 75px,#84ff7b 78px,#94ff6b 79px,#a4ff5b 80px,#b4ff4b 81px,#c4ff3b 82px,#d2ff2d 83px,#ddff22 84px,#eaff15 85px,#e7ff18 86px,#dcff23 87px,#d1ff2e 88px)"></i><i style="top:49px;left:36px;width:88px;background:linear-gradient(90deg,#c6ff39 0px,#d1ff2e 1px,#d5ff2a 2px,#c7ff38 3px,#bdff42 4px,#b1ff4e 5px,#a3ff5c 6px,#95ff6a 7px,#86ff79 8px,#77ff88 9px,#50ffaf 12px,#36ffc9 15px,#24ffdb 18px,#15ffea 21px,#0afff5 24px,#01fffe 27px,#00faff 30px,#00f6ff 33px,#00f4ff 36px,#00f2ff 39px,#00f2ff 42px,#00f2ff 45px,#00f2ff 48px,#00f4ff 51px,#00f6ff 54px,#00faff 57px,#01fffe 60px,#0afff5 63px,#15ffea 66px,#24ffdb 69px,#36ffc9 72px,#50ffaf 75px,#77ff88 78px,#86ff79 79px,#95ff6a 80px,#a3ff5c 81px,#b1ff4e 82px,#bdff42 83px,#c7ff38 84px,#d5ff2a 85px,#d1ff2e 86px,#c6ff39 87px,#bdff42 88px)"></i><i style="top:50px;left:36px;width:88px;background:linear-gradient(90deg,#b2ff4d 0px,#bdff42 1px,#c2ff3d 2px,#b2ff4d 3px,#a9ff56 4px,#9eff61 5px,#92ff6d 6px,#85ff7a 7px,#77ff88 8px,#6aff95 9px,#44ffbb 12px,#2dffd2 15px,#1cffe3 18px,#0efff1 21px,#03fffc 24px,#00fbff 27px,#00f5ff 30px,#00f1ff 33px,#00efff 36px,#00eeff 39px,#00eeff 42px,#00eeff 45px,#00eeff 48px,#00efff 51px,#00f1ff 54px,#00f5ff 57px,#00fbff 60px,#03fffc 63px,#0efff1 66px,#1cffe3 69px,#2dffd2 72px,#44ffbb 75px,#6aff95 78px,#77ff88 79px,#85ff7a 80px,#92ff6d 81px,#9eff61 82px,#a9ff56 83px,#b2ff4d 84px,#c2ff3d 85px,#bdff42 86px,#b2ff4d 87px,#a9ff56 88px)"></i><i style="top:51px;left:36px;width:88px;background:linear-gradient(90deg,#9eff61 0px,#abff54 1px,#b0ff4f 2px,#9fff60 3px,#96ff69 4px,#8cff73 5px,#81ff7e 6px,#75ff8a 7px,#69ff96 8px,#5cffa3 9px,#39ffc6 12px,#23ffdc 15px,#13ffec 18px,#06fff9 21px,#00fcff 24px,#00f5ff 27px,#00f0ff 30px,#00ecff 33px,#00ebff 36px,#00eaff 39px,#00eaff 42px,#00eaff 45px,#00eaff 48px,#00ebff 51px,#00ecff 54px,#00f0ff 57px,#00f5ff 60px,#00fcff 63px,#06fff9 66px,#13ffec 69px,#23ffdc 72px,#39ffc6 75px,#5cffa3 78px,#69ff96 79px,#75ff8a 80px,#81ff7e 81px,#8cff73 82px,#96ff69 83px,#9fff60 84px,#b0ff4f 85px,#abff54 86px,#9eff61 87px,#96ff69 88px)"></i><i style="top:52px;left:36px;width:87px;background:linear-gradient(90deg,#8cff73,#8dff72,#71ff8e,#4fffb0,#2effd1,#19ffe6,#0bfff4,#00feff,#00f6ff,#00efff,#00ebff,#00e8ff,#00e6ff,#00e6ff,#00e5ff,#00e5ff,#00e6ff,#00e6ff,#00e8ff,#00ebff,#00efff,#00f6ff,#00feff,#0bfff4,#19ffe6,#2effd1,#4fffb0,#71ff8e,#8dff72,#8cff73)"></i><i style="top:53px;left:36px;width:87px;background:linear-gradient(90deg,#7bff84,#7cff83,#61ff9e,#41ffbe,#24ffdb,#10ffef,#03fffc,#00f7ff,#00f0ff,#00eaff,#00e6ff,#00e3ff,#00e2ff,#00e1ff,#00e1ff,#00e1ff,#00e1ff,#00e2ff,#00e3ff,#00e6ff,#00eaff,#00f0ff,#00f7ff,#03fffc,#10ffef,#24ffdb,#41ffbe,#61ff9e,#7cff83,#7bff84)"></i><i style="top:54px;left:36px;width:87px;background:linear-gradient(90deg,#6aff95,#6bff94,#52ffad,#35ffca,#19ffe6,#08fff7,#00fbff,#00f1ff,#00eaff,#00e5ff,#00e1ff,#00dfff,#00ddff,#00ddff,#00ddff,#00ddff,#00ddff,#00ddff,#00dfff,#00e1ff,#00e5ff,#00eaff,#00f1ff,#00fbff,#08fff7,#19ffe6,#35ffca,#52ffad,#6bff94,#6aff95)"></i><i style="top:55px;left:36px;width:87px;background:linear-gradient(90deg,#58ffa7,#59ffa6,#43ffbc,#29ffd6,#10ffef,#00ffff,#00f4ff,#00ebff,#00e5ff,#00e0ff,#00dcff,#00daff,#00d9ff,#00d9ff,#00d9ff,#00d9ff,#00d9ff,#00d9ff,#00daff,#00dcff,#00e0ff,#00e5ff,#00ebff,#00f4ff,#00ffff,#10ffef,#29ffd6,#43ffbc,#59ffa6,#58ffa7)"></i><i style="top:56px;left:36px;width:87px;background:linear-gradient(90deg,#47ffb8,#47ffb8,#35ffca,#1dffe2,#07fff8,#00f8ff,#00eeff,#00e6ff,#00e0ff,#00dcff,#00d8ff,#00d6ff,#00d5ff,#00d5ff,#00d5ff,#00d5ff,#00d5ff,#00d5ff,#00d6ff,#00d8ff,#00dcff,#00e0ff,#00e6ff,#00eeff,#00f8ff,#07fff8,#1dffe2,#35ffca,#47ffb8,#47ffb8)"></i><i style="top:57px;left:36px;width:87px;background:linear-gradient(90deg,#37ffc8,#37ffc8,#28ffd7,#13ffec,#00feff,#00f2ff,#00e9ff,#00e1ff,#00dcff,#00d8ff,#00d4ff,#00d2ff,#00d1ff,#00d1ff,#00d1ff,#00d1ff,#00d1ff,#00d1ff,#00d2ff,#00d4ff,#00d8ff,#00dcff,#00e1ff,#00e9ff,#00f2ff,#00feff,#13ffec,#28ffd7,#37ffc8,#37ffc8)"></i><i style="top:58px;left:36px;width:87px;background:linear-gradient(90deg,#27ffd8,#27ffd8,#1affe5,#08fff7,#00f6ff,#00ecff,#00e4ff,#00ddff,#00d8ff,#00d4ff,#00d0ff,#00ceff,#00cdff,#00cdff,#00cdff,#00cdff,#00cdff,#00cdff,#00ceff,#00d0ff,#00d4ff,#00d8ff,#00ddff,#00e4ff,#00ecff,#00f6ff,#08fff7,#1affe5,#27ffd8,#27ffd8)"></i><i style="top:59px;left:36px;width:87px;background:linear-gradient(90deg,#18ffe7,#18ffe7,#0dfff2,#00fdff,#00efff,#00e6ff,#00deff,#00d8ff,#00d3ff,#00d0ff,#00ccff,#00caff,#00caff,#00c9ff,#00c9ff,#00c9ff,#00c9ff,#00caff,#00caff,#00ccff,#00d0ff,#00d3ff,#00d8ff,#00deff,#00e6ff,#00efff,#00fdff,#0dfff2,#18ffe7,#18ffe7)"></i><i style="top:60px;left:36px;width:87px;background:linear-gradient(90deg,#09fff6,#09fff6,#01fffe,#00f3ff,#00e8ff,#00e0ff,#00d9ff,#00d4ff,#00cfff,#00ccff,#00c8ff,#00c6ff,#00c6ff,#00c6ff,#00c6ff,#00c6ff,#00c6ff,#00c6ff,#00c6ff,#00c8ff,#00ccff,#00cfff,#00d4ff,#00d9ff,#00e0ff,#00e8ff,#00f3ff,#01fffe,#09fff6,#09fff6)"></i><i style="top:61px;left:36px;width:87px;background:linear-gradient(90deg,#00faff,#00faff,#00f3ff,#00eaff,#00e1ff,#00daff,#00d4ff,#00d0ff,#00cbff,#00c8ff,#00c4ff,#00c3ff,#00c2ff,#00c2ff,#00c2ff,#00c2ff,#00c2ff,#00c2ff,#00c3ff,#00c4ff,#00c8ff,#00cbff,#00d0ff,#00d4ff,#00daff,#00e1ff,#00eaff,#00f3ff,#00faff,#00faff)"></i><i style="top:62px;left:36px;width:87px;background:linear-gradient(90deg,#00edff,#00edff,#00e8ff,#00e1ff,#00daff,#00d4ff,#00cfff,#00cbff,#00c7ff,#00c4ff,#00c1ff,#00bfff,#00beff,#00beff,#00beff,#00beff,#00beff,#00beff,#00bfff,#00c1ff,#00c4ff,#00c7ff,#00cbff,#00cfff,#00d4ff,#00daff,#00e1ff,#00e8ff,#00edff,#00edff)"></i><i style="top:63px;left:36px;width:87px;background:linear-gradient(90deg,#00e1ff,#00e1ff,#00ddff,#00d8ff,#00d3ff,#00ceff,#00caff,#00c7ff,#00c4ff,#00c0ff,#00bdff,#00bcff,#00bbff,#00bbff,#00baff,#00baff,#00bbff,#00bbff,#00bcff,#00bdff,#00c0ff,#00c4ff,#00c7ff,#00caff,#00ceff,#00d3ff,#00d8ff,#00ddff,#00e1ff,#00e1ff)"></i><i style="top:64px;left:36px;width:87px;background:linear-gradient(90deg,#00d6ff,#00d5ff,#00d3ff,#00d0ff,#00ccff,#00c8ff,#00c5ff,#00c3ff,#00c0ff,#00bdff,#00baff,#00b9ff,#00b8ff,#00b7ff,#00b7ff,#00b7ff,#00b7ff,#00b8ff,#00b9ff,#00baff,#00bdff,#00c0ff,#00c3ff,#00c5ff,#00c8ff,#00ccff,#00d0ff,#00d3ff,#00d5ff,#00d6ff)"></i><i style="top:65px;left:36px;width:87px;background:linear-gradient(90deg,#00cbff,#00cbff,#00caff,#00c7ff,#00c5ff,#00c2ff,#00c0ff,#00beff,#00bcff,#00baff,#00b7ff,#00b6ff,#00b5ff,#00b4ff,#00b3ff,#00b3ff,#00b4ff,#00b5ff,#00b6ff,#00b7ff,#00baff,#00bcff,#00beff,#00c0ff,#00c2ff,#00c5ff,#00c7ff,#00caff,#00cbff,#00cbff)"></i><i style="top:66px;left:36px;width:87px;background:linear-gradient(90deg,#00c1ff,#00c1ff,#00c0ff,#00bfff,#00beff,#00bcff,#00bbff,#00baff,#00b8ff,#00b6ff,#00b5ff,#00b3ff,#00b2ff,#00b0ff,#00afff,#00afff,#00b0ff,#00b2ff,#00b3ff,#00b5ff,#00b6ff,#00b8ff,#00baff,#00bbff,#00bcff,#00beff,#00bfff,#00c0ff,#00c1ff,#00c1ff)"></i><i style="top:67px;left:36px;width:87px;background:linear-gradient(90deg,#00b8ff,#00b7ff,#00b7ff,#00b7ff,#00b7ff,#00b6ff,#00b6ff,#00b6ff,#00b5ff,#00b3ff,#00b2ff,#00b0ff,#00afff,#00adff,#00acff,#00acff,#00adff,#00afff,#00b0ff,#00b2ff,#00b3ff,#00b5ff,#00b6ff,#00b6ff,#00b6ff,#00b7ff,#00b7ff,#00b7ff,#00b7ff,#00b8ff)"></i><i style="top:68px;left:36px;width:87px;background:linear-gradient(90deg,#00aeff,#00adff,#00aeff,#00afff,#00b0ff,#00b0ff,#00b1ff,#00b1ff,#00b1ff,#00b0ff,#00afff,#00adff,#00abff,#00aaff,#00a8ff,#00a8ff,#00aaff,#00abff,#00adff,#00afff,#00b0ff,#00b1ff,#00b1ff,#00b1ff,#00b0ff,#00b0ff,#00afff,#00aeff,#00adff,#00aeff)"></i><i style="top:69px;left:36px;width:87px;background:linear-gradient(90deg,#00a2ff,#00a2ff,#00a4ff,#00a6ff,#00a8ff,#00a9ff,#00abff,#00acff,#00adff,#00acff,#00abff,#00aaff,#00a8ff,#00a6ff,#00a4ff,#00a4ff,#00a6ff,#00a8ff,#00aaff,#00abff,#00acff,#00adff,#00acff,#00abff,#00a9ff,#00a8ff,#00a6ff,#00a4ff,#00a2ff,#00a2ff)"></i><i style="top:70px;left:36px;width:87px;background:linear-gradient(90deg,#0095ff,#0095ff,#0097ff,#009bff,#009eff,#00a1ff,#00a4ff,#00a7ff,#00a8ff,#00a8ff,#00a7ff,#00a6ff,#00a4ff,#00a2ff,#00a0ff,#00a0ff,#00a2ff,#00a4ff,#00a6ff,#00a7ff,#00a8ff,#00a8ff,#00a7ff,#00a4ff,#00a1ff,#009eff,#009bff,#0097ff,#0095ff,#0095ff)"></i><i style="top:71px;left:36px;width:87px;background:linear-gradient(90deg,#0084ff,#0084ff,#0088ff,#008dff,#0092ff,#0097ff,#009cff,#00a0ff,#00a1ff,#00a2ff,#00a3ff,#00a2ff,#00a0ff,#009dff,#009bff,#009bff,#009dff,#00a0ff,#00a2ff,#00a3ff,#00a2ff,#00a1ff,#00a0ff,#009cff,#0097ff,#0092ff,#008dff,#0088ff,#0084ff,#0084ff)"></i><i style="top:72px;left:36px;width:87px;background:linear-gradient(90deg,#0071ff,#0071ff,#0076ff,#007dff,#0085ff,#008bff,#0092ff,#0097ff,#009aff,#009cff,#009dff,#009dff,#009aff,#0098ff,#0096ff,#0096ff,#0098ff,#009aff,#009dff,#009dff,#009cff,#009aff,#0097ff,#0092ff,#008bff,#0085ff,#007dff,#0076ff,#0071ff,#0071ff)"></i><i style="top:73px;left:36px;width:87px;background:linear-gradient(90deg,#005cff,#005cff,#0062ff,#006cff,#0076ff,#007eff,#0087ff,#008fff,#0093ff,#0095ff,#0097ff,#0097ff,#0095ff,#0092ff,#0090ff,#0090ff,#0092ff,#0095ff,#0097ff,#0097ff,#0095ff,#0093ff,#008fff,#0087ff,#007eff,#0076ff,#006cff,#0062ff,#005cff,#005cff)"></i><i style="top:74px;left:36px;width:87px;background:linear-gradient(90deg,#0046ff,#0046ff,#004eff,#005aff,#0066ff,#0071ff,#007bff,#0085ff,#008bff,#008eff,#0091ff,#0091ff,#008fff,#008cff,#008aff,#008aff,#008cff,#008fff,#0091ff,#0091ff,#008eff,#008bff,#0085ff,#007bff,#0071ff,#0066ff,#005aff,#004eff,#0046ff,#0046ff)"></i><i style="top:75px;left:36px;width:87px;background:linear-gradient(90deg,#0030ff,#0030ff,#003aff,#0048ff,#0056ff,#0063ff,#0070ff,#007cff,#0082ff,#0087ff,#008aff,#008bff,#0089ff,#0086ff,#0084ff,#0084ff,#0086ff,#0089ff,#008bff,#008aff,#0087ff,#0082ff,#007cff,#0070ff,#0063ff,#0056ff,#0048ff,#003aff,#0030ff,#0030ff)"></i><i style="top:76px;left:36px;width:87px;background:linear-gradient(90deg,#001bff,#001bff,#0026ff,#0036ff,#0046ff,#0055ff,#0064ff,#0072ff,#007aff,#007fff,#0083ff,#0085ff,#0083ff,#0080ff,#007eff,#007eff,#0080ff,#0083ff,#0085ff,#0083ff,#007fff,#007aff,#0072ff,#0064ff,#0055ff,#0046ff,#0036ff,#0026ff,#001bff,#001bff)"></i><i style="top:77px;left:36px;width:87px;background:linear-gradient(90deg,#0007ff,#0007ff,#0012ff,#0024ff,#0035ff,#0046ff,#0057ff,#0067ff,#0071ff,#0076ff,#007cff,#007eff,#007cff,#0079ff,#0077ff,#0077ff,#0079ff,#007cff,#007eff,#007cff,#0076ff,#0071ff,#0067ff,#0057ff,#0046ff,#0035ff,#0024ff,#0012ff,#0007ff,#0007ff)"></i><i style="top:78px;left:36px;width:87px;background:linear-gradient(90deg,#0000f4,#0000f4,#0000ff,#0011ff,#0024ff,#0037ff,#004aff,#005cff,#0067ff,#006dff,#0073ff,#0075ff,#0074ff,#0072ff,#0070ff,#0070ff,#0072ff,#0074ff,#0075ff,#0073ff,#006dff,#0067ff,#005cff,#004aff,#0037ff,#0024ff,#0011ff,#0000ff,#0000f4,#0000f4)"></i><i style="top:79px;left:36px;width:87px;background:linear-gradient(90deg,#0000e4,#0000e4,#0000ee,#0000fe,#0011ff,#0026ff,#003cff,#0050ff,#005cff,#0063ff,#006aff,#006cff,#006bff,#006aff,#0068ff,#0068ff,#006aff,#006bff,#006cff,#006aff,#0063ff,#005cff,#0050ff,#003cff,#0026ff,#0011ff,#0000fe,#0000ee,#0000e4,#0000e4)"></i><i style="top:80px;left:36px;width:87px;background:linear-gradient(90deg,#0000d5,#0000d5,#0000de,#0000ed,#0000fe,#0015ff,#002dff,#0043ff,#0050ff,#0058ff,#0060ff,#0063ff,#0062ff,#0061ff,#0060ff,#0060ff,#0061ff,#0062ff,#0063ff,#0060ff,#0058ff,#0050ff,#0043ff,#002dff,#0015ff,#0000fe,#0000ed,#0000de,#0000d5,#0000d5)"></i><i style="top:81px;left:36px;width:87px;background:linear-gradient(90deg,#0000c8,#0000c8,#0000d0,#0000dd,#0000ed,#0005ff,#001fff,#0037ff,#0045ff,#004eff,#0055ff,#0059ff,#0059ff,#0059ff,#0058ff,#0058ff,#0059ff,#0059ff,#0059ff,#0055ff,#004eff,#0045ff,#0037ff,#001fff,#0005ff,#0000ed,#0000dd,#0000d0,#0000c8,#0000c8)"></i><i style="top:82px;left:36px;width:87px;background:linear-gradient(90deg,#0000bd,#0000bd,#0000c4,#0000cf,#0000de,#0000f7,#0013ff,#002cff,#003bff,#0044ff,#004cff,#0050ff,#0051ff,#0051ff,#0051ff,#0051ff,#0051ff,#0051ff,#0050ff,#004cff,#0044ff,#003bff,#002cff,#0013ff,#0000f7,#0000de,#0000cf,#0000c4,#0000bd,#0000bd)"></i><i style="top:83px;left:36px;width:87px;background:linear-gradient(90deg,#0000b6,#0000b5,#0000bb,#0000c5,#0000d3,#0000eb,#0008ff,#0022ff,#0031ff,#003bff,#0043ff,#0048ff,#0049ff,#0049ff,#004aff,#004aff,#0049ff,#0049ff,#0048ff,#0043ff,#003bff,#0031ff,#0022ff,#0008ff,#0000eb,#0000d3,#0000c5,#0000bb,#0000b5,#0000b6)"></i><i style="top:84px;left:36px;width:87px;background:linear-gradient(90deg,#0000b1,#0000b1,#0000b6,#0000bd,#0000ca,#0000e3,#0000ff,#001aff,#0029ff,#0032ff,#003bff,#0040ff,#0042ff,#0043ff,#0044ff,#0044ff,#0043ff,#0042ff,#0040ff,#003bff,#0032ff,#0029ff,#001aff,#0000ff,#0000e3,#0000ca,#0000bd,#0000b6,#0000b1,#0000b1)"></i><i style="top:85px;left:36px;width:87px;background:linear-gradient(90deg,#0000ae,#0000ae,#0000b2,#0000b8,#0000c4,#0000dc,#0000f8,#0013ff,#0022ff,#002bff,#0034ff,#003aff,#003cff,#003dff,#003fff,#003fff,#003dff,#003cff,#003aff,#0034ff,#002bff,#0022ff,#0013ff,#0000f8,#0000dc,#0000c4,#0000b8,#0000b2,#0000ae,#0000ae)"></i><i style="top:86px;left:36px;width:87px;background:linear-gradient(90deg,#0000ad,#0000ad,#0000b0,#0000b5,#0000c0,#0000d8,#0000f3,#000eff,#001dff,#0026ff,#002fff,#0035ff,#0037ff,#0039ff,#003bff,#003bff,#0039ff,#0037ff,#0035ff,#002fff,#0026ff,#001dff,#000eff,#0000f3,#0000d8,#0000c0,#0000b5,#0000b0,#0000ad,#0000ad)"></i><i style="top:87px;left:36px;width:87px;background:linear-gradient(90deg,#0000ac,#0000ac,#0000af,#0000b3,#0000bd,#0000d5,#0000f0,#000aff,#0019ff,#0023ff,#002bff,#0031ff,#0034ff,#0036ff,#0038ff,#0038ff,#0036ff,#0034ff,#0031ff,#002bff,#0023ff,#0019ff,#000aff,#0000f0,#0000d5,#0000bd,#0000b3,#0000af,#0000ac,#0000ac)"></i><i style="top:88px;left:36px;width:87px;background:linear-gradient(90deg,#0000ab,#0000ab,#0000ae,#0000b2,#0000bc,#0000d3,#0000ee,#0009ff,#0017ff,#0021ff,#002aff,#0030ff,#0032ff,#0035ff,#0037ff,#0037ff,#0035ff,#0032ff,#0030ff,#002aff,#0021ff,#0017ff,#0009ff,#0000ee,#0000d3,#0000bc,#0000b2,#0000ae,#0000ab,#0000ab)"></i><i style="top:89px;left:36px;width:87px;background:linear-gradient(90deg,#0000ab,#0000ab,#0000ad,#0000b1,#0000bb,#0000d3,#0000ee,#0008ff,#0017ff,#0020ff,#0029ff,#002fff,#0032ff,#0034ff,#0037ff,#0037ff,#0034ff,#0032ff,#002fff,#0029ff,#0020ff,#0017ff,#0008ff,#0000ee,#0000d3,#0000bb,#0000b1,#0000ad,#0000ab,#0000ab)"></i><i style="top:90px;left:36px;width:87px;background:linear-gradient(90deg,#0000aa,#0000aa,#0000ad,#0000b1,#0000bb,#0000d2,#0000ee,#0008ff,#0016ff,#0020ff,#0029ff,#002fff,#0032ff,#0034ff,#0037ff,#0037ff,#0034ff,#0032ff,#002fff,#0029ff,#0020ff,#0016ff,#0008ff,#0000ee,#0000d2,#0000bb,#0000b1,#0000ad,#0000aa,#0000aa)"></i><i style="top:91px;left:36px;width:87px;background:linear-gradient(90deg,#0000aa,#0000aa,#0000ad,#0000b0,#0000bb,#0000d2,#0000ed,#0008ff,#0016ff,#0020ff,#0029ff,#002fff,#0032ff,#0034ff,#0036ff,#0036ff,#0034ff,#0032ff,#002fff,#0029ff,#0020ff,#0016ff,#0008ff,#0000ed,#0000d2,#0000bb,#0000b0,#0000ad,#0000aa,#0000aa)"></i><i style="top:92px;left:36px;width:87px;background:linear-gradient(90deg,#0000aa,#0000aa,#0000ac,#0000b0,#0000ba,#0000d2,#0000ed,#0007ff,#0016ff,#0020ff,#0029ff,#002fff,#0032ff,#0034ff,#0036ff,#0036ff,#0034ff,#0032ff,#002fff,#0029ff,#0020ff,#0016ff,#0007ff,#0000ed,#0000d2,#0000ba,#0000b0,#0000ac,#0000aa,#0000aa)"></i><i style="top:93px;left:36px;width:87px;background:linear-gradient(90deg,#0000aa,#0000aa,#0000ac,#0000b0,#0000ba,#0000d2,#0000ed,#0007ff,#0016ff,#0020ff,#0029ff,#002fff,#0032ff,#0034ff,#0036ff,#0036ff,#0034ff,#0032ff,#002fff,#0029ff,#0020ff,#0016ff,#0007ff,#0000ed,#0000d2,#0000ba,#0000b0,#0000ac,#0000aa,#0000aa)"></i><i style="top:94px;left:36px;width:87px;background:linear-gradient(90deg,#0000aa,#0000a9,#0000ac,#0000b0,#0000ba,#0000d2,#0000ed,#0007ff,#0016ff,#0020ff,#0029ff,#002fff,#0032ff,#0034ff,#0036ff,#0036ff,#0034ff,#0032ff,#002fff,#0029ff,#0020ff,#0016ff,#0007ff,#0000ed,#0000d2,#0000ba,#0000b0,#0000ac,#0000a9,#0000aa)"></i><i style="top:95px;left:36px;width:87px;background:linear-gradient(90deg,#0000a9,#0000a9,#0000ac,#0000b0,#0000ba,#0000d2,#0000ed,#0007ff,#0016ff,#0020ff,#0029ff,#002fff,#0032ff,#0034ff,#0036ff,#0036ff,#0034ff,#0032ff,#002fff,#0029ff,#0020ff,#0016ff,#0007ff,#0000ed,#0000d2,#0000ba,#0000b0,#0000ac,#0000a9,#0000a9)"></i><b style="left:0;top:43.8px;width:38.1px;bottom:0"></b><b style="left:121.9px;top:43.8px;right:0;bottom:0"></b><u style="left:0;top:43.8px;width:38.3px;height:1px;background:linear-gradient(90deg,#00efff,#00f1ff,#00f2ff,#00f4ff,#00f6ff,#00faff,#02fffd,#0afff5,#12ffed,#1cffe3,#2affd5,#41ffbe,#6bff94)"></u><u style="left:121.7px;top:43.8px;width:38.2px;height:1px;background:linear-gradient(90deg,#81ff7e,#4cffb3,#30ffcf,#20ffdf,#15ffea,#0dfff2,#05fffa,#00fdff,#00f7ff,#00f4ff,#00f3ff,#00f1ff,#00f0ff)"></u><u style="left:37.3px;top:44.7px;width:1px;height:42.5px;background:linear-gradient(180deg,#00d8ff,#00b4ff,#0094ff,#0079ff,#0061ff,#004aff,#0036ff,#0026ff,#0017ff,#0003ff,#0000e3,#0000c4,#0000ab,#00009b,#000097);opacity:.8"></u><u style="left:121.7px;top:44.7px;width:1px;height:42.5px;background:linear-gradient(180deg,#00d8ff,#00b4ff,#0094ff,#0079ff,#0061ff,#004aff,#0036ff,#0026ff,#0017ff,#0003ff,#0000e3,#0000c4,#0000ab,#00009b,#000097);opacity:.8"></u><b style="left:38.1px;top:87.2px;width:83.8px;bottom:0"></b><u style="left:33.5px;top:83.5px;width:8px;height:8px;background:radial-gradient(circle at 50% 50%,#a0fff0 0,#00d0ff .9px,rgba(0,100,255,.6) 1.7px,rgba(0,40,255,0) 2.6px)"></u><u style="left:118.5px;top:83.5px;width:8px;height:8px;background:radial-gradient(circle at 50% 50%,#a0fff0 0,#00d0ff .9px,rgba(0,100,255,.6) 1.7px,rgba(0,40,255,0) 2.6px)"></u><s style="width:24.2px;height:23.1px;padding:3.4px 0 0 6.3px">iv</s></div>
<div class="hm" style="left:183.6px;top:321.0px;width:159.1px;height:95.5px"><i style="top:0px;left:0;width:160px;background:linear-gradient(90deg,#80ff7f,#80ff7f,#80ff7f,#80ff7f,#80ff7f,#80ff7f,#80ff7f,#80ff7f,#80ff7f,#7fff80,#7bff84,#75ff8a,#6aff95,#60ff9f,#58ffa7,#53ffac,#4fffb0,#4affb5,#43ffbc,#3dffc2,#3affc5,#40ffbf,#46ffb9,#4cffb3,#50ffaf,#54ffab,#5affa5,#64ff9b,#6fff90,#77ff88,#7dff82,#7fff80,#80ff7f,#80ff7f,#80ff7f,#80ff7f,#80ff7f,#80ff7f,#80ff7f,#80ff7f,#80ff7f)"></i><i style="top:1px;left:0;width:160px;background:linear-gradient(90deg,#80ff7f,#80ff7f,#80ff7f,#80ff7f,#80ff7f,#80ff7f,#80ff7f,#80ff7f,#80ff7f,#7fff80,#7bff84,#75ff8a,#6aff95,#60ff9f,#58ffa7,#53ffac,#4fffb0,#49ffb6,#43ffbc,#3dffc2,#3affc5,#40ffbf,#46ffb9,#4cffb3,#50ffaf,#54ffab,#5affa5,#64ff9b,#6fff90,#78ff87,#7dff82,#80ff7f,#80ff7f,#80ff7f,#80ff7f,#80ff7f,#80ff7f,#80ff7f,#80ff7f,#80ff7f,#80ff7f)"></i><i style="top:2px;left:0;width:160px;background:linear-gradient(90deg,#80ff7f,#80ff7f,#80ff7f,#80ff7f,#80ff7f,#80ff7f,#80ff7f,#80ff7f,#80ff7f,#7fff80,#7bff84,#75ff8a,#6aff95,#60ff9f,#57ffa8,#53ffac,#4effb1,#49ffb6,#43ffbc,#3dffc2,#3affc5,#3fffc0,#46ffb9,#4bffb4,#50ffaf,#54ffab,#5affa5,#64ff9b,#6fff90,#78ff87,#7dff82,#80ff7f,#80ff7f,#80ff7f,#80ff7f,#80ff7f,#80ff7f,#80ff7f,#80ff7f,#80ff7f,#80ff7f)"></i><i style="top:3px;left:0;width:160px;background:linear-gradient(90deg,#80ff7f,#80ff7f,#80ff7f,#80ff7f,#80ff7f,#80ff7f,#80ff7f,#80ff7f,#80ff7f,#80ff7f,#7bff84,#75ff8a,#6aff95,#5fffa0,#57ffa8,#52ffad,#4effb1,#49ffb6,#43ffbc,#3dffc2,#3affc5,#3fffc0,#45ffba,#4bffb4,#50ffaf,#54ffab,#5affa5,#64ff9b,#6fff90,#78ff87,#7dff82,#80ff7f,#80ff7f,#80ff7f,#80ff7f,#80ff7f,#80ff7f,#80ff7f,#80ff7f,#80ff7f,#80ff7f)"></i><i style="top:4px;left:0;width:160px;background:linear-gradient(90deg,#80ff7f,#80ff7f,#80ff7f,#80ff7f,#80ff7f,#81ff7e,#81ff7e,#81ff7e,#81ff7e,#81ff7e,#7cff83,#76ff89,#6bff94,#5fffa0,#57ffa8,#52ffad,#4dffb2,#48ffb7,#42ffbd,#3cffc3,#39ffc6,#3effc1,#44ffbb,#4affb5,#4fffb0,#53ffac,#5affa5,#64ff9b,#6fff90,#79ff86,#7eff81,#81ff7e,#81ff7e,#81ff7e,#81ff7e,#81ff7e,#80ff7f,#80ff7f,#80ff7f,#80ff7f,#80ff7f)"></i><i style="top:5px;left:0;width:160px;background:linear-gradient(90deg,#81ff7e,#81ff7e,#81ff7e,#81ff7e,#81ff7e,#81ff7e,#82ff7d,#82ff7d,#82ff7d,#81ff7e,#7dff82,#76ff89,#6bff94,#5fffa0,#56ffa9,#51ffae,#4cffb3,#47ffb8,#41ffbe,#3bffc4,#39ffc6,#3effc1,#44ffbb,#49ffb6,#4effb1,#53ffac,#5affa5,#64ff9b,#70ff8f,#79ff86,#7fff80,#82ff7d,#82ff7d,#82ff7d,#82ff7d,#81ff7e,#81ff7e,#81ff7e,#81ff7e,#81ff7e,#81ff7e)"></i><i style="top:6px;left:0;width:160px;background:linear-gradient(90deg,#81ff7e,#81ff7e,#81ff7e,#81ff7e,#81ff7e,#82ff7d,#83ff7c,#83ff7c,#83ff7c,#82ff7d,#7eff81,#77ff88,#6bff94,#5fffa0,#56ffa9,#50ffaf,#4bffb4,#46ffb9,#40ffbf,#3bffc4,#38ffc7,#3dffc2,#43ffbc,#48ffb7,#4dffb2,#52ffad,#59ffa6,#64ff9b,#70ff8f,#7aff85,#80ff7f,#83ff7c,#83ff7c,#83ff7c,#82ff7d,#82ff7d,#81ff7e,#81ff7e,#81ff7e,#81ff7e,#81ff7e)"></i><i style="top:7px;left:0;width:160px;background:linear-gradient(90deg,#82ff7d,#82ff7d,#82ff7d,#82ff7d,#82ff7d,#83ff7c,#83ff7c,#84ff7b,#84ff7b,#83ff7c,#7eff81,#77ff88,#6bff94,#5fffa0,#55ffaa,#50ffaf,#4affb5,#45ffba,#40ffbf,#3affc5,#38ffc7,#3cffc3,#42ffbd,#47ffb8,#4cffb3,#52ffad,#59ffa6,#64ff9b,#70ff8f,#7aff85,#81ff7e,#84ff7b,#84ff7b,#84ff7b,#83ff7c,#82ff7d,#82ff7d,#82ff7d,#82ff7d,#82ff7d,#82ff7d)"></i><i style="top:8px;left:0;width:160px;background:linear-gradient(90deg,#82ff7d,#82ff7d,#82ff7d,#82ff7d,#83ff7c,#83ff7c,#84ff7b,#85ff7a,#85ff7a,#85ff7a,#7fff80,#78ff87,#6cff93,#5fffa0,#55ffaa,#4fffb0,#49ffb6,#44ffbb,#3fffc0,#39ffc6,#37ffc8,#3cffc3,#41ffbe,#46ffb9,#4cffb3,#51ffae,#59ffa6,#64ff9b,#71ff8e,#7bff84,#82ff7d,#85ff7a,#85ff7a,#85ff7a,#84ff7b,#83ff7c,#82ff7d,#82ff7d,#82ff7d,#82ff7d,#82ff7d)"></i><i style="top:9px;left:0;width:160px;background:linear-gradient(90deg,#83ff7c,#83ff7c,#83ff7c,#83ff7c,#83ff7c,#84ff7b,#85ff7a,#86ff79,#86ff79,#86ff79,#80ff7f,#78ff87,#6cff93,#5fffa0,#55ffaa,#4effb1,#49ffb6,#43ffbc,#3effc1,#39ffc6,#36ffc9,#3bffc4,#40ffbf,#45ffba,#4bffb4,#50ffaf,#58ffa7,#64ff9b,#71ff8e,#7cff83,#83ff7c,#86ff79,#86ff79,#86ff79,#85ff7a,#84ff7b,#83ff7c,#83ff7c,#83ff7c,#83ff7c,#83ff7c)"></i><i style="top:10px;left:0;width:160px;background:linear-gradient(90deg,#84ff7b,#84ff7b,#84ff7b,#84ff7b,#84ff7b,#85ff7a,#86ff79,#87ff78,#88ff77,#87ff78,#81ff7e,#79ff86,#6cff93,#5fffa0,#54ffab,#4dffb2,#48ffb7,#42ffbd,#3dffc2,#38ffc7,#36ffc9,#3affc5,#3fffc0,#44ffbb,#4affb5,#50ffaf,#58ffa7,#64ff9b,#72ff8d,#7cff83,#84ff7b,#87ff78,#88ff77,#87ff78,#86ff79,#84ff7b,#84ff7b,#84ff7b,#84ff7b,#84ff7b,#84ff7b)"></i><i style="top:11px;left:0;width:160px;background:linear-gradient(90deg,#84ff7b,#84ff7b,#84ff7b,#84ff7b,#84ff7b,#86ff79,#87ff78,#88ff77,#89ff76,#88ff77,#82ff7d,#79ff86,#6cff93,#5fffa0,#54ffab,#4dffb2,#47ffb8,#41ffbe,#3cffc3,#37ffc8,#35ffca,#39ffc6,#3effc1,#43ffbc,#49ffb6,#4fffb0,#58ffa7,#64ff9b,#72ff8d,#7dff82,#84ff7b,#88ff77,#89ff76,#88ff77,#86ff79,#85ff7a,#84ff7b,#84ff7b,#84ff7b,#84ff7b,#84ff7b)"></i><i style="top:12px;left:0;width:160px;background:linear-gradient(90deg,#85ff7a,#85ff7a,#85ff7a,#85ff7a,#85ff7a,#86ff79,#88ff77,#89ff76,#8aff75,#89ff76,#82ff7d,#7aff85,#6dff92,#5fffa0,#53ffac,#4cffb3,#46ffb9,#40ffbf,#3bffc4,#37ffc8,#35ffca,#39ffc6,#3dffc2,#42ffbd,#48ffb7,#4effb1,#57ffa8,#64ff9b,#72ff8d,#7eff81,#85ff7a,#8aff75,#8aff75,#89ff76,#87ff78,#86ff79,#85ff7a,#85ff7a,#85ff7a,#85ff7a,#85ff7a)"></i><i style="top:13px;left:0;width:160px;background:linear-gradient(90deg,#85ff7a,#85ff7a,#85ff7a,#85ff7a,#85ff7a,#87ff78,#89ff76,#8aff75,#8bff74,#8aff75,#83ff7c,#7aff85,#6dff92,#5fffa0,#53ffac,#4bffb4,#45ffba,#3fffc0,#3bffc4,#36ffc9,#34ffcb,#38ffc7,#3cffc3,#41ffbe,#47ffb8,#4effb1,#57ffa8,#64ff9b,#73ff8c,#7eff81,#86ff79,#8bff74,#8bff74,#8aff75,#88ff77,#86ff79,#85ff7a,#85ff7a,#85ff7a,#85ff7a,#85ff7a)"></i><i style="top:14px;left:0;width:160px;background:linear-gradient(90deg,#86ff79,#86ff79,#86ff79,#86ff79,#86ff79,#88ff77,#8aff75,#8cff73,#8cff73,#8bff74,#84ff7b,#7bff84,#6dff92,#5fffa0,#52ffad,#4affb5,#44ffbb,#3effc1,#3affc5,#35ffca,#33ffcc,#37ffc8,#3cffc3,#40ffbf,#46ffb9,#4dffb2,#57ffa8,#64ff9b,#73ff8c,#7fff80,#87ff78,#8cff73,#8cff73,#8bff74,#89ff76,#87ff78,#86ff79,#86ff79,#86ff79,#86ff79,#86ff79)"></i><i style="top:15px;left:0;width:160px;background:linear-gradient(90deg,#86ff79,#86ff79,#86ff79,#86ff79,#87ff78,#88ff77,#8bff74,#8dff72,#8dff72,#8cff73,#85ff7a,#7cff83,#6dff92,#5effa1,#52ffad,#4affb5,#43ffbc,#3dffc2,#39ffc6,#35ffca,#33ffcc,#36ffc9,#3bffc4,#3fffc0,#46ffb9,#4cffb3,#56ffa9,#64ff9b,#73ff8c,#80ff7f,#88ff77,#8dff72,#8dff72,#8cff73,#8aff75,#87ff78,#86ff79,#86ff79,#86ff79,#86ff79,#86ff79)"></i><i style="top:16px;left:0;width:160px;background:linear-gradient(90deg,#87ff78,#87ff78,#87ff78,#87ff78,#87ff78,#89ff76,#8cff73,#8eff71,#8eff71,#8dff72,#86ff79,#7cff83,#6eff91,#5effa1,#51ffae,#49ffb6,#42ffbd,#3cffc3,#38ffc7,#34ffcb,#32ffcd,#36ffc9,#3affc5,#3effc1,#45ffba,#4cffb3,#56ffa9,#64ff9b,#74ff8b,#80ff7f,#89ff76,#8eff71,#8eff71,#8dff72,#8bff74,#88ff77,#87ff78,#87ff78,#87ff78,#87ff78,#87ff78)"></i><i style="top:17px;left:0;width:160px;background:linear-gradient(90deg,#87ff78,#87ff78,#87ff78,#87ff78,#88ff77,#8aff75,#8cff73,#8fff70,#8fff70,#8eff71,#87ff78,#7dff82,#6eff91,#5effa1,#51ffae,#48ffb7,#41ffbe,#3bffc4,#37ffc8,#33ffcc,#32ffcd,#35ffca,#39ffc6,#3dffc2,#44ffbb,#4bffb4,#56ffa9,#64ff9b,#74ff8b,#81ff7e,#8aff75,#8fff70,#8fff70,#8eff71,#8bff74,#89ff76,#87ff78,#87ff78,#87ff78,#87ff78,#87ff78)"></i><i style="top:18px;left:0;width:160px;background:linear-gradient(90deg,#88ff77,#88ff77,#88ff77,#88ff77,#88ff77,#8bff74,#8dff72,#90ff6f,#90ff6f,#8fff70,#88ff77,#7dff82,#6eff91,#5effa1,#50ffaf,#47ffb8,#40ffbf,#3affc5,#36ffc9,#33ffcc,#31ffce,#34ffcb,#38ffc7,#3cffc3,#43ffbc,#4bffb4,#55ffaa,#64ff9b,#75ff8a,#82ff7d,#8bff74,#90ff6f,#90ff6f,#8fff70,#8cff73,#89ff76,#88ff77,#88ff77,#88ff77,#88ff77,#88ff77)"></i><i style="top:19px;left:0;width:160px;background:linear-gradient(90deg,#88ff77,#88ff77,#88ff77,#88ff77,#89ff76,#8bff74,#8eff71,#91ff6e,#92ff6d,#90ff6f,#89ff76,#7eff81,#6fff90,#5effa1,#50ffaf,#47ffb8,#3fffc0,#39ffc6,#36ffc9,#32ffcd,#30ffcf,#33ffcc,#37ffc8,#3bffc4,#42ffbd,#4affb5,#55ffaa,#65ff9a,#75ff8a,#83ff7c,#8cff73,#91ff6e,#92ff6d,#90ff6f,#8dff72,#8aff75,#89ff76,#88ff77,#88ff77,#88ff77,#88ff77)"></i><i style="top:20px;left:0;width:160px;background:linear-gradient(90deg,#89ff76,#89ff76,#89ff76,#89ff76,#8aff75,#8cff73,#90ff6f,#92ff6d,#93ff6c,#92ff6d,#8aff75,#7fff80,#6fff90,#5effa1,#4fffb0,#46ffb9,#3effc1,#38ffc7,#35ffca,#31ffce,#30ffcf,#33ffcc,#36ffc9,#3affc5,#41ffbe,#49ffb6,#55ffaa,#65ff9a,#76ff89,#84ff7b,#8eff71,#93ff6c,#93ff6c,#91ff6e,#8eff71,#8bff74,#89ff76,#89ff76,#89ff76,#89ff76,#89ff76)"></i><i style="top:21px;left:0;width:160px;background:linear-gradient(90deg,#8aff75,#8aff75,#8aff75,#8aff75,#8bff74,#8eff71,#91ff6e,#94ff6b,#95ff6a,#95ff6a,#8cff73,#80ff7f,#70ff8f,#5effa1,#4fffb0,#45ffba,#3dffc2,#37ffc8,#34ffcb,#30ffcf,#2fffd0,#32ffcd,#35ffca,#39ffc6,#40ffbf,#49ffb6,#55ffaa,#65ff9a,#77ff88,#85ff7a,#90ff6f,#96ff69,#95ff6a,#93ff6c,#90ff6f,#8cff73,#8aff75,#8aff75,#8aff75,#8aff75,#8aff75)"></i><i style="top:22px;left:0;width:160px;background:linear-gradient(90deg,#8bff74,#8bff74,#8bff74,#8cff73,#8cff73,#90ff6f,#94ff6b,#97ff68,#99ff66,#98ff67,#8fff70,#82ff7d,#71ff8e,#5fffa0,#4fffb0,#45ffba,#3cffc3,#36ffc9,#32ffcd,#2fffd0,#2effd1,#30ffcf,#34ffcb,#38ffc7,#40ffbf,#48ffb7,#55ffaa,#66ff99,#78ff87,#88ff77,#93ff6c,#99ff66,#98ff67,#96ff69,#92ff6d,#8eff71,#8cff73,#8bff74,#8bff74,#8bff74,#8bff74)"></i><i style="top:23px;left:0;width:160px;background:linear-gradient(90deg,#8cff73,#8cff73,#8dff72,#8dff72,#8eff71,#92ff6d,#97ff68,#9bff64,#9dff62,#9dff62,#93ff6c,#85ff7a,#72ff8d,#5fffa0,#4fffb0,#44ffbb,#3bffc4,#35ffca,#31ffce,#2effd1,#2cffd3,#2fffd0,#33ffcc,#37ffc8,#3fffc0,#48ffb7,#55ffaa,#67ff98,#7aff85,#8bff74,#98ff67,#9eff61,#9cff63,#99ff66,#95ff6a,#90ff6f,#8eff71,#8dff72,#8dff72,#8cff73,#8cff73)"></i><i style="top:24px;left:0;width:160px;background:linear-gradient(90deg,#8dff72,#8eff71,#8fff70,#8fff70,#91ff6e,#95ff6a,#9aff65,#9fff60,#a2ff5d,#a2ff5d,#97ff68,#88ff77,#74ff8b,#60ff9f,#4fffb0,#44ffbb,#3affc5,#33ffcc,#30ffcf,#2cffd3,#2affd5,#2dffd2,#31ffce,#36ffc9,#3effc1,#48ffb7,#55ffaa,#68ff97,#7dff82,#8fff70,#9dff62,#a3ff5c,#a1ff5e,#9dff62,#98ff67,#93ff6c,#90ff6f,#8fff70,#8eff71,#8eff71,#8dff72)"></i><i style="top:25px;left:0;width:160px;background:linear-gradient(90deg,#8fff70,#8fff70,#90ff6f,#92ff6d,#93ff6c,#98ff67,#9eff61,#a3ff5c,#a7ff58,#a8ff57,#9cff63,#8cff73,#76ff89,#61ff9e,#4fffb0,#43ffbc,#39ffc6,#32ffcd,#2effd1,#2affd5,#29ffd6,#2cffd3,#30ffcf,#34ffcb,#3dffc2,#47ffb8,#55ffaa,#69ff96,#7fff80,#93ff6c,#a2ff5d,#a9ff56,#a6ff59,#a1ff5e,#9cff63,#96ff69,#92ff6d,#91ff6e,#90ff6f,#8fff70,#8eff71)"></i><i style="top:26px;left:0;width:160px;background:linear-gradient(90deg,#90ff6f,#91ff6e,#92ff6d,#94ff6b,#96ff69,#9bff64,#a2ff5d,#a8ff57,#adff52,#afff50,#a1ff5e,#8fff70,#78ff87,#61ff9e,#4fffb0,#43ffbc,#38ffc7,#31ffce,#2dffd2,#29ffd6,#27ffd8,#2affd5,#2effd1,#33ffcc,#3cffc3,#47ffb8,#56ffa9,#6aff95,#82ff7d,#97ff68,#a8ff57,#afff50,#abff54,#a6ff59,#9fff60,#99ff66,#95ff6a,#93ff6c,#92ff6d,#91ff6e,#90ff6f)"></i><i style="top:27px;left:0;width:160px;background:linear-gradient(90deg,#91ff6e,#93ff6c,#94ff6b,#96ff69,#98ff67,#9eff61,#a6ff59,#acff53,#b2ff4d,#b5ff4a,#a7ff58,#93ff6c,#7aff85,#62ff9d,#4fffb0,#42ffbd,#37ffc8,#2fffd0,#2bffd4,#27ffd8,#25ffda,#28ffd7,#2dffd2,#32ffcd,#3cffc3,#47ffb8,#56ffa9,#6bff94,#85ff7a,#9bff64,#aeff51,#b5ff4a,#b0ff4f,#aaff55,#a3ff5c,#9cff63,#97ff68,#95ff6a,#94ff6b,#92ff6d,#91ff6e)"></i><i style="top:28px;left:0;width:160px;background:linear-gradient(90deg,#93ff6c,#94ff6b,#96ff69,#98ff67,#9bff64,#a2ff5d,#a9ff56,#b1ff4e,#b8ff47,#bbff44,#acff53,#97ff68,#7dff82,#63ff9c,#4fffb0,#42ffbd,#36ffc9,#2effd1,#29ffd6,#25ffda,#23ffdc,#27ffd8,#2bffd4,#31ffce,#3bffc4,#47ffb8,#57ffa8,#6dff92,#87ff78,#a0ff5f,#b4ff4b,#bbff44,#b5ff4a,#aeff51,#a6ff59,#9fff60,#9aff65,#97ff68,#96ff69,#94ff6b,#92ff6d)"></i><i style="top:29px;left:0;width:160px;background:linear-gradient(90deg,#94ff6b,#96ff69,#98ff67,#9bff64,#9eff61,#a5ff5a,#adff52,#b6ff49,#beff41,#c1ff3e,#b1ff4e,#9aff65,#7fff80,#64ff9b,#50ffaf,#42ffbd,#35ffca,#2dffd2,#28ffd7,#23ffdc,#21ffde,#25ffda,#2affd5,#2fffd0,#3affc5,#47ffb8,#57ffa8,#6eff91,#8aff75,#a4ff5b,#baff45,#c2ff3d,#baff45,#b2ff4d,#aaff55,#a2ff5d,#9cff63,#9aff65,#97ff68,#95ff6a,#93ff6c)"></i><i style="top:30px;left:0;width:160px;background:linear-gradient(90deg,#95ff6a,#98ff67,#9aff65,#9dff62,#a0ff5f,#a8ff57,#b1ff4e,#baff45,#c3ff3c,#c8ff37,#b7ff48,#9fff60,#81ff7e,#65ff9a,#50ffaf,#41ffbe,#35ffca,#2bffd4,#26ffd9,#22ffdd,#1fffe0,#23ffdc,#28ffd7,#2effd1,#39ffc6,#46ffb9,#57ffa8,#6fff90,#8dff72,#a9ff56,#c0ff3f,#c8ff37,#c0ff3f,#b7ff48,#adff52,#a4ff5b,#9eff61,#9cff63,#99ff66,#97ff68,#95ff6a)"></i><i style="top:31px;left:0;width:160px;background:linear-gradient(90deg,#97ff68,#99ff66,#9cff63,#9fff60,#a3ff5c,#abff54,#b5ff4a,#bfff40,#c9ff36,#cfff30,#bdff42,#a3ff5c,#84ff7b,#66ff99,#50ffaf,#41ffbe,#34ffcb,#2affd5,#25ffda,#20ffdf,#1effe1,#22ffdd,#27ffd8,#2dffd2,#39ffc6,#46ffb9,#58ffa7,#71ff8e,#90ff6f,#aeff51,#c6ff39,#ceff31,#c5ff3a,#bbff44,#b1ff4e,#a7ff58,#a1ff5e,#9eff61,#9bff64,#98ff67,#96ff69)"></i><i style="top:32px;left:0;width:160px;background:linear-gradient(90deg,#98ff67,#9bff64,#9eff61,#a1ff5e,#a5ff5a,#aeff51,#b9ff46,#c4ff3b,#cfff30,#d6ff29,#c3ff3c,#a7ff58,#86ff79,#67ff98,#50ffaf,#40ffbf,#33ffcc,#29ffd6,#23ffdc,#1effe1,#1cffe3,#20ffdf,#25ffda,#2cffd3,#38ffc7,#46ffb9,#58ffa7,#72ff8d,#94ff6b,#b3ff4c,#cdff32,#d5ff2a,#caff35,#bfff40,#b5ff4a,#aaff55,#a3ff5c,#a0ff5f,#9dff62,#9aff65,#97ff68)"></i><i style="top:33px;left:0;width:160px;background:linear-gradient(90deg,#9aff65,#9dff62,#a0ff5f,#a3ff5c,#a8ff57,#b2ff4d,#bdff42,#c8ff37,#d5ff2a,#ddff22,#caff35,#acff53,#89ff76,#68ff97,#50ffaf,#40ffbf,#32ffcd,#27ffd8,#22ffdd,#1cffe3,#1affe5,#1effe1,#24ffdb,#2bffd4,#37ffc8,#46ffb9,#59ffa6,#74ff8b,#97ff68,#b9ff46,#d4ff2b,#dcff23,#d0ff2f,#c4ff3b,#b8ff47,#adff52,#a6ff59,#a2ff5d,#9fff60,#9bff64,#99ff66)"></i><i style="top:34px;left:0;width:160px;background:linear-gradient(90deg,#9bff64,#9eff61,#a2ff5d,#a6ff59,#abff54,#b5ff4a,#c0ff3f,#cdff32,#dbff24,#e5ff1a,#d2ff2d,#b2ff4d,#8cff73,#69ff96,#51ffae,#40ffbf,#31ffce,#26ffd9,#20ffdf,#1bffe4,#18ffe7,#1dffe2,#22ffdd,#29ffd6,#37ffc8,#46ffb9,#59ffa6,#76ff89,#9bff64,#bfff40,#dcff23,#e3ff1c,#d5ff2a,#c8ff37,#bcff43,#b0ff4f,#a8ff57,#a4ff5b,#a0ff5f,#9dff62,#9aff65)"></i><i style="top:35px;left:0;width:160px;background:linear-gradient(90deg,#9cff63,#a0ff5f,#a4ff5b,#a8ff57,#adff52,#b8ff47,#c4ff3b,#d1ff2e,#e1ff1e,#edff12,#daff25,#b7ff48,#8fff70,#6aff95,#51ffae,#3fffc0,#30ffcf,#25ffda,#1fffe0,#19ffe6,#16ffe9,#1bffe4,#21ffde,#28ffd7,#36ffc9,#46ffb9,#5affa5,#77ff88,#9fff60,#c6ff39,#e5ff1a,#eaff15,#daff25,#ccff33,#bfff40,#b3ff4c,#abff54,#a6ff59,#a2ff5d,#9eff61,#9bff64)"></i><i style="top:36px;left:0;width:160px;background:linear-gradient(90deg,#9eff61 0px,#a1ff5e 4px,#a5ff5a 8px,#aaff55 12px,#afff50 16px,#bbff44 20px,#c8ff37 24px,#d6ff29 28px,#e2ff1d 31px,#e7ff18 32px,#ecff13 33px,#f0ff0f 34px,#f4ff0b 35px,#f6ff09 36px,#f5ff0a 37px,#f1ff0e 38px,#ecff13 39px,#e4ff1b 40px,#dcff23 41px,#d2ff2d 42px,#c8ff37 43px,#bdff42 44px,#92ff6d 48px,#6bff94 52px,#51ffae 56px,#3fffc0 60px,#2fffd0 64px,#24ffdb 68px,#1dffe2 72px,#17ffe8 76px,#15ffea 80px,#1affe5 84px,#20ffdf 88px,#27ffd8 92px,#35ffca 96px,#46ffb9 100px,#5bffa4 104px,#79ff86 108px,#a3ff5c 112px,#c4ff3b 115px,#ceff31 116px,#d8ff27 117px,#e1ff1e 118px,#e9ff16 119px,#efff10 120px,#f4ff0b 121px,#f6ff09 122px,#f5ff0a 123px,#f2ff0d 124px,#edff12 125px,#e9ff16 126px,#e4ff1b 127px,#e0ff1f 128px,#d0ff2f 132px,#c2ff3d 136px,#b6ff49 140px,#adff52 144px,#a8ff57 148px,#a4ff5b 152px,#9fff60 156px,#9cff63 160px)"></i><i style="top:37px;left:0;width:160px;background:linear-gradient(90deg,#9fff60 0px,#a2ff5d 4px,#a7ff58 8px,#abff54 12px,#b1ff4e 16px,#bdff42 20px,#cbff34 24px,#d9ff26 28px,#e7ff18 31px,#ecff13 32px,#f1ff0e 33px,#f7ff08 34px,#fcff03 35px,#ffff00 36px,#fffe00 37px,#feff01 38px,#f8ff07 39px,#f1ff0e 40px,#e7ff18 41px,#dbff24 42px,#d0ff2f 43px,#c4ff3b 44px,#94ff6b 48px,#6cff93 52px,#51ffae 56px,#3fffc0 60px,#2effd1 64px,#23ffdc 68px,#1cffe3 72px,#16ffe9 76px,#13ffec 80px,#18ffe7 84px,#1fffe0 88px,#26ffd9 92px,#35ffca 96px,#45ffba 100px,#5bffa4 104px,#7bff84 108px,#a7ff58 112px,#cbff34 115px,#d7ff28 116px,#e2ff1d 117px,#edff12 118px,#f6ff09 119px,#fcff03 120px,#ffff00 121px,#fffe00 122px,#fdff02 123px,#f9ff06 124px,#f4ff0b 125px,#eeff11 126px,#e9ff16 127px,#e4ff1b 128px,#d3ff2c 132px,#c5ff3a 136px,#b8ff47 140px,#aeff51 144px,#aaff55 148px,#a5ff5a 152px,#a1ff5e 156px,#9dff62 160px)"></i><i style="top:38px;left:0;width:160px;background:linear-gradient(90deg,#9fff60 0px,#a3ff5c 4px,#a8ff57 8px,#adff52 12px,#b3ff4c 16px,#bfff40 20px,#cdff32 24px,#dcff23 28px,#eaff15 31px,#f0ff0f 32px,#f6ff09 33px,#fdff02 34px,#fffa00 35px,#fff400 36px,#fff100 37px,#fff100 38px,#fff500 39px,#fffe00 40px,#f3ff0c 41px,#e6ff19 42px,#d7ff28 43px,#caff35 44px,#97ff68 48px,#6dff92 52px,#52ffad 56px,#3effc1 60px,#2effd1 64px,#22ffdd 68px,#1bffe4 72px,#15ffea 76px,#12ffed 80px,#18ffe7 84px,#1effe1 88px,#26ffd9 92px,#34ffcb 96px,#45ffba 100px,#5bffa4 104px,#7cff83 108px,#aaff55 112px,#d2ff2d 115px,#e0ff1f 116px,#eeff11 117px,#fbff04 118px,#fff800 119px,#fff200 120px,#fff000 121px,#fff200 122px,#fff700 123px,#fffe00 124px,#f9ff06 125px,#f3ff0c 126px,#edff12 127px,#e7ff18 128px,#d6ff29 132px,#c7ff38 136px,#b9ff46 140px,#b0ff4f 144px,#abff54 148px,#a6ff59 152px,#a1ff5e 156px,#9eff61 160px)"></i><i style="top:39px;left:0;width:160px;background:linear-gradient(90deg,#a0ff5f 0px,#a4ff5b 4px,#a8ff57 8px,#adff52 12px,#b3ff4c 16px,#bfff40 20px,#ceff31 24px,#deff21 28px,#edff12 31px,#f4ff0b 32px,#fbff04 33px,#fffb00 34px,#fff100 35px,#ffe700 36px,#ffde00 37px,#ffda00 38px,#ffde00 39px,#ffea00 40px,#fffb00 41px,#f1ff0e 42px,#dfff20 43px,#cfff30 44px,#98ff67 48px,#6eff91 52px,#52ffad 56px,#3effc1 60px,#2effd1 64px,#22ffdd 68px,#1bffe4 72px,#15ffea 76px,#12ffed 80px,#17ffe8 84px,#1dffe2 88px,#25ffda 92px,#34ffcb 96px,#45ffba 100px,#5cffa3 104px,#7dff82 108px,#adff52 112px,#d9ff26 115px,#eaff15 116px,#fbff04 117px,#fff100 118px,#ffe200 119px,#ffda00 120px,#ffdc00 121px,#ffe400 122px,#ffed00 123px,#fff700 124px,#feff01 125px,#f7ff08 126px,#f0ff0f 127px,#eaff15 128px,#d7ff28 132px,#c8ff37 136px,#baff45 140px,#b0ff4f 144px,#abff54 148px,#a6ff59 152px,#a2ff5d 156px,#9eff61 160px)"></i><i style="top:40px;left:0;width:160px;background:linear-gradient(90deg,#9fff60 0px,#a3ff5c 4px,#a8ff57 8px,#adff52 12px,#b3ff4c 16px,#bfff40 20px,#ceff31 24px,#deff21 28px,#f0ff0f 31px,#f7ff08 32px,#fffe00 33px,#fff400 34px,#ffe800 35px,#ffd900 36px,#ffc600 37px,#ffb800 38px,#ffbc00 39px,#ffd100 40px,#ffea00 41px,#fbff04 42px,#e6ff19 43px,#d4ff2b 44px,#9aff65 48px,#6eff91 52px,#52ffad 56px,#3effc1 60px,#2dffd2 64px,#21ffde 68px,#1bffe4 72px,#14ffeb 76px,#12ffed 80px,#17ffe8 84px,#1dffe2 88px,#25ffda 92px,#34ffcb 96px,#45ffba 100px,#5cffa3 104px,#7dff82 108px,#afff50 112px,#dfff20 115px,#f3ff0c 116px,#fff400 117px,#ffdb00 118px,#ffc300 119px,#ffb700 120px,#ffbf00 121px,#ffd100 122px,#ffe200 123px,#fff000 124px,#fffb00 125px,#faff05 126px,#f2ff0d 127px,#ecff13 128px,#d7ff28 132px,#c8ff37 136px,#baff45 140px,#b0ff4f 144px,#abff54 148px,#a6ff59 152px,#a2ff5d 156px,#9eff61 160px)"></i><i style="top:41px;left:0;width:160px;background:linear-gradient(90deg,#9eff61 0px,#a2ff5d 4px,#a7ff58 8px,#acff53 12px,#b2ff4d 16px,#beff41 20px,#cdff32 24px,#deff21 28px,#f1ff0e 31px,#f9ff06 32px,#fffa00 33px,#ffed00 34px,#ffdd00 35px,#ffc800 36px,#ffa900 37px,#ff8500 38px,#ff8c00 39px,#ffb600 40px,#ffdc00 41px,#fffa00 42px,#ebff14 43px,#d7ff28 44px,#9aff65 48px,#6eff91 52px,#51ffae 56px,#3effc1 60px,#2dffd2 64px,#21ffde 68px,#1bffe4 72px,#14ffeb 76px,#12ffed 80px,#17ffe8 84px,#1dffe2 88px,#25ffda 92px,#34ffcb 96px,#45ffba 100px,#5bffa4 104px,#7dff82 108px,#b0ff4f 112px,#e3ff1c 115px,#f9ff06 116px,#ffe900 117px,#ffc600 118px,#ff9c00 119px,#ff8000 120px,#ff9a00 121px,#ffbd00 122px,#ffd500 123px,#ffe700 124px,#fff500 125px,#fdff02 126px,#f4ff0b 127px,#ecff13 128px,#d7ff28 132px,#c7ff38 136px,#b9ff46 140px,#afff50 144px,#aaff55 148px,#a5ff5a 152px,#a0ff5f 156px,#9dff62 160px)"></i><i style="top:42px;left:0;width:160px;background:linear-gradient(90deg,#9bff64 0px,#9fff60 4px,#a3ff5c 8px,#a8ff57 12px,#aeff51 16px,#baff45 20px,#c9ff36 24px,#dcff23 28px,#f0ff0f 31px,#faff05 32px,#fff700 33px,#ffe600 34px,#ffd000 35px,#ffb100 36px,#ff8800 37px,#ff4800 38px,#ff6500 39px,#ffa900 40px,#ffd600 41px,#fff800 42px,#ecff13 43px,#d7ff28 44px,#99ff66 48px,#6cff93 52px,#50ffaf 56px,#3dffc2 60px,#2cffd3 64px,#21ffde 68px,#1affe5 72px,#14ffeb 76px,#11ffee 80px,#16ffe9 84px,#1dffe2 88px,#24ffdb 92px,#33ffcc 96px,#44ffbb 100px,#5affa5 104px,#7cff83 108px,#afff50 112px,#e3ff1c 115px,#fbff04 116px,#ffe500 117px,#ffbd00 118px,#ff8400 119px,#ff2a00 120px,#ff7200 121px,#ffa300 122px,#ffc400 123px,#ffde00 124px,#fff100 125px,#ffff00 126px,#f4ff0b 127px,#ebff14 128px,#d4ff2b 132px,#c3ff3c 136px,#b5ff4a 140px,#abff54 144px,#a6ff59 148px,#a1ff5e 152px,#9dff62 156px,#99ff66 160px)"></i><i style="top:43px;left:0;width:160px;background:linear-gradient(90deg,#93ff6c 0px,#96ff69 4px,#9bff64 8px,#9fff60 12px,#a5ff5a 16px,#b2ff4d 20px,#c1ff3e 24px,#d8ff27 28px,#f0ff0f 31px,#fbff04 32px,#fff500 33px,#ffe200 34px,#ffc700 35px,#ff9f00 36px,#ff5d00 37px,#ff4a00 38px,#ff8b00 39px,#ffb900 40px,#ffde00 41px,#fffd00 42px,#e9ff16 43px,#d4ff2b 44px,#95ff6a 48px,#69ff96 52px,#4dffb2 56px,#3affc5 60px,#2bffd4 64px,#1fffe0 68px,#19ffe6 72px,#14ffeb 76px,#11ffee 80px,#16ffe9 84px,#1cffe3 88px,#23ffdc 92px,#31ffce 96px,#41ffbe 100px,#57ffa8 104px,#78ff87 108px,#abff54 112px,#e0ff1f 115px,#f7ff08 116px,#ffeb00 117px,#ffc800 118px,#ff9f00 119px,#ff6700 120px,#ff3a00 121px,#ff8800 122px,#ffb900 123px,#ffd900 124px,#ffee00 125px,#fffe00 126px,#f4ff0b 127px,#eaff15 128px,#ccff33 132px,#bbff44 136px,#acff53 140px,#a3ff5c 144px,#9eff61 148px,#99ff66 152px,#95ff6a 156px,#92ff6d 160px)"></i><i style="top:44px;left:0;width:160px;background:linear-gradient(90deg,#86ff79 0px,#89ff76 4px,#8dff72 8px,#91ff6e 12px,#97ff68 16px,#a3ff5c 20px,#b3ff4c 24px,#caff35 28px,#e4ff1b 31px,#f1ff0e 32px,#fffe00 33px,#ffea00 34px,#ffd000 35px,#ffab00 36px,#ff8100 37px,#ff8200 38px,#ffae00 39px,#ffd200 40px,#ffef00 41px,#f6ff09 42px,#e0ff1f 43px,#ccff33 44px,#8eff71 48px,#64ff9b 52px,#48ffb7 56px,#36ffc9 60px,#28ffd7 64px,#1dffe2 68px,#18ffe7 72px,#13ffec 76px,#10ffef 80px,#15ffea 84px,#1affe5 88px,#20ffdf 92px,#2dffd2 96px,#3cffc3 100px,#52ffad 104px,#72ff8d 108px,#a4ff5b 112px,#d8ff27 115px,#edff12 116px,#fff900 117px,#ffdf00 118px,#ffbe00 119px,#ff9300 120px,#ff7600 121px,#ff9a00 122px,#ffc200 123px,#ffe100 124px,#fff700 125px,#f6ff09 126px,#e9ff16 127px,#deff21 128px,#bfff40 132px,#acff53 136px,#9eff61 140px,#94ff6b 144px,#90ff6f 148px,#8bff74 152px,#87ff78 156px,#85ff7a 160px)"></i><i style="top:45px;left:35px;width:89px;background:linear-gradient(90deg,#ffe200 0px,#ffc900 1px,#ffb400 2px,#ffb600 3px,#ffcd00 4px,#ffe900 5px,#fcff03 6px,#e7ff18 7px,#d4ff2b 8px,#c2ff3d 9px,#93ff6c 12px,#6eff91 15px,#54ffab 18px,#41ffbe 21px,#34ffcb 24px,#2affd5 27px,#21ffde 30px,#1affe5 33px,#17ffe8 36px,#13ffec 39px,#10ffef 42px,#0ffff0 45px,#12ffed 48px,#15ffea 51px,#19ffe6 54px,#1dffe2 57px,#25ffda 60px,#2fffd0 63px,#3affc5 66px,#4bffb4 69px,#61ff9e 72px,#80ff7f 75px,#aaff55 78px,#ccff33 80px,#dfff20 81px,#f3ff0c 82px,#fff300 83px,#ffd800 84px,#ffbe00 85px,#ffad00 86px,#ffc000 87px,#ffd800 88px,#fff000 89px)"></i><i style="top:46px;left:35px;width:89px;background:linear-gradient(90deg,#fff800 0px,#ffe800 1px,#ffda00 2px,#ffdd00 3px,#ffeb00 4px,#fffe00 5px,#ebff14 6px,#d8ff27 7px,#c6ff39 8px,#b5ff4a 9px,#88ff77 12px,#65ff9a 15px,#4cffb3 18px,#3affc5 21px,#2dffd2 24px,#24ffdb 27px,#1cffe3 30px,#17ffe8 33px,#14ffeb 36px,#11ffee 39px,#0efff1 42px,#0dfff2 45px,#10ffef 48px,#12ffed 51px,#15ffea 54px,#19ffe6 57px,#20ffdf 60px,#29ffd6 63px,#33ffcc 66px,#43ffbc 69px,#58ffa7 72px,#76ff89 75px,#9fff60 78px,#bfff40 80px,#d0ff2f 81px,#e3ff1c 82px,#f8ff07 83px,#fff300 84px,#ffe200 85px,#ffd200 86px,#ffe200 87px,#fff100 88px,#fcff03 89px)"></i><i style="top:47px;left:35px;width:89px;background:linear-gradient(90deg,#f0ff0f 0px,#fcff03 1px,#fff700 2px,#fffa00 3px,#f8ff07 4px,#eaff15 5px,#daff25 6px,#c9ff36 7px,#b8ff47 8px,#a8ff57 9px,#7cff83 12px,#5bffa4 15px,#43ffbc 18px,#32ffcd 21px,#26ffd9 24px,#1effe1 27px,#18ffe7 30px,#13ffec 33px,#10ffef 36px,#0efff1 39px,#0cfff3 42px,#0bfff4 45px,#0dfff2 48px,#0ffff0 51px,#12ffed 54px,#15ffea 57px,#1bffe4 60px,#22ffdd 63px,#2bffd4 66px,#3bffc4 69px,#4fffb0 72px,#6bff94 75px,#93ff6c 78px,#b1ff4e 80px,#c2ff3d 81px,#d3ff2c 82px,#e4ff1b 83px,#f3ff0c 84px,#ffff00 85px,#ffed00 86px,#fffe00 87px,#f5ff0a 88px,#e8ff17 89px)"></i><i style="top:48px;left:35px;width:89px;background:linear-gradient(90deg,#dbff24 0px,#e4ff1b 1px,#efff10 2px,#ebff14 3px,#e0ff1f 4px,#d5ff2a 5px,#c8ff37 6px,#b9ff46 7px,#aaff55 8px,#9aff65 9px,#70ff8f 12px,#51ffae 15px,#3bffc4 18px,#2affd5 21px,#1fffe0 24px,#18ffe7 27px,#13ffec 30px,#0ffff0 33px,#0dfff2 36px,#0bfff4 39px,#09fff6 42px,#08fff7 45px,#0afff5 48px,#0cfff3 51px,#0efff1 54px,#11ffee 57px,#16ffe9 60px,#1cffe3 63px,#24ffdb 66px,#32ffcd 69px,#46ffb9 72px,#60ff9f 75px,#86ff79 78px,#a4ff5b 80px,#b3ff4c 81px,#c2ff3d 82px,#d0ff2f 83px,#dcff23 84px,#e7ff18 85px,#fcff03 86px,#e8ff17 87px,#dfff20 88px,#d5ff2a 89px)"></i><i style="top:49px;left:35px;width:89px;background:linear-gradient(90deg,#c7ff38 0px,#cfff30 1px,#dbff24 2px,#d7ff28 3px,#cbff34 4px,#c2ff3d 5px,#b6ff49 6px,#a9ff56 7px,#9bff64 8px,#8cff73 9px,#64ff9b 12px,#46ffb9 15px,#32ffcd 18px,#22ffdd 21px,#18ffe7 24px,#12ffed 27px,#0dfff2 30px,#0afff5 33px,#08fff7 36px,#07fff8 39px,#05fffa 42px,#05fffa 45px,#06fff9 48px,#08fff7 51px,#09fff6 54px,#0cfff3 57px,#10ffef 60px,#15ffea 63px,#1cffe3 66px,#2affd5 69px,#3cffc3 72px,#54ffab 75px,#78ff87 78px,#95ff6a 80px,#a3ff5c 81px,#b1ff4e 82px,#bdff42 83px,#c8ff37 84px,#d1ff2e 85px,#e9ff16 86px,#d3ff2c 87px,#cbff34 88px,#c2ff3d 89px)"></i><i style="top:50px;left:35px;width:89px;background:linear-gradient(90deg,#b4ff4b 0px,#bcff43 1px,#c9ff36 2px,#c4ff3b 3px,#b8ff47 4px,#afff50 5px,#a5ff5a 6px,#99ff66 7px,#8cff73 8px,#7eff81 9px,#57ffa8 12px,#3cffc3 15px,#29ffd6 18px,#1affe5 21px,#11ffee 24px,#0cfff3 27px,#08fff7 30px,#06fff9 33px,#04fffb 36px,#03fffc 39px,#01fffe 42px,#01fffe 45px,#02fffd 48px,#03fffc 51px,#05fffa 54px,#07fff8 57px,#0afff5 60px,#0ffff0 63px,#15ffea 66px,#21ffde 69px,#32ffcd 72px,#49ffb6 75px,#6bff94 78px,#86ff79 80px,#94ff6b 81px,#a0ff5f 82px,#abff54 83px,#b5ff4a 84px,#beff41 85px,#d9ff26 86px,#c0ff3f 87px,#b8ff47 88px,#afff50 89px)"></i><i style="top:51px;left:35px;width:89px;background:linear-gradient(90deg,#a3ff5c 0px,#aaff55 1px,#b8ff47 2px,#b3ff4c 3px,#a6ff59 4px,#9eff61 5px,#94ff6b 6px,#89ff76 7px,#7dff82 8px,#70ff8f 9px,#4bffb4 12px,#31ffce 15px,#20ffdf 18px,#13ffec 21px,#0bfff4 24px,#06fff9 27px,#03fffc 30px,#01fffe 33px,#00ffff 36px,#00feff 39px,#00fcff 42px,#00fcff 45px,#00fdff 48px,#00feff 51px,#00ffff 54px,#02fffd 57px,#05fffa 60px,#08fff7 63px,#0efff1 66px,#19ffe6 69px,#29ffd6 72px,#3dffc2 75px,#5effa1 78px,#78ff87 80px,#84ff7b 81px,#90ff6f 82px,#9aff65 83px,#a3ff5c 84px,#acff53 85px,#caff35 86px,#aeff51 87px,#a6ff59 88px,#9eff61 89px)"></i><i style="top:52px;left:35px;width:87px;background:linear-gradient(90deg,#92ff6d,#a3ff5c,#84ff7b,#62ff9d,#40ffbf,#27ffd8,#17ffe8,#0bfff4,#04fffb,#01fffe,#00fdff,#00fbff,#00faff,#00f9ff,#00f8ff,#00f8ff,#00f9ff,#00faff,#00fbff,#00fcff,#00feff,#02fffd,#07fff8,#11ffee,#1fffe0,#33ffcc,#51ffae,#75ff8a,#92ff6d,#9dff62)"></i><i style="top:53px;left:35px;width:87px;background:linear-gradient(90deg,#81ff7e,#94ff6b,#74ff8b,#55ffaa,#34ffcb,#1effe1,#0ffff0,#04fffb,#00fdff,#00faff,#00f8ff,#00f7ff,#00f6ff,#00f5ff,#00f4ff,#00f4ff,#00f5ff,#00f5ff,#00f6ff,#00f7ff,#00f9ff,#00fbff,#01fffe,#0afff5,#16ffe9,#28ffd7,#45ffba,#66ff99,#82ff7d,#8dff72)"></i><i style="top:54px;left:35px;width:87px;background:linear-gradient(90deg,#71ff8e,#7fff80,#66ff99,#48ffb7,#29ffd6,#15ffea,#08fff7,#00fdff,#00f7ff,#00f5ff,#00f3ff,#00f2ff,#00f2ff,#00f1ff,#00f0ff,#00f0ff,#00f1ff,#00f1ff,#00f2ff,#00f3ff,#00f4ff,#00f6ff,#00faff,#03fffc,#0efff1,#1effe1,#39ffc6,#58ffa7,#73ff8c,#7cff83)"></i><i style="top:55px;left:35px;width:87px;background:linear-gradient(90deg,#62ff9d,#69ff96,#57ffa8,#3bffc4,#1fffe0,#0dfff2,#01fffe,#00f7ff,#00f2ff,#00f0ff,#00efff,#00eeff,#00edff,#00edff,#00ecff,#00ecff,#00edff,#00edff,#00eeff,#00eeff,#00efff,#00f1ff,#00f4ff,#00fbff,#07fff8,#15ffea,#2effd1,#4bffb4,#63ff9c,#69ff96)"></i><i style="top:56px;left:35px;width:87px;background:linear-gradient(90deg,#52ffad,#58ffa7,#49ffb6,#2fffd0,#16ffe9,#05fffa,#00faff,#00f2ff,#00edff,#00ebff,#00eaff,#00eaff,#00e9ff,#00e9ff,#00e9ff,#00e8ff,#00e9ff,#00e9ff,#00eaff,#00eaff,#00ebff,#00ecff,#00efff,#00f6ff,#00ffff,#0dfff2,#23ffdc,#3dffc2,#53ffac,#58ffa7)"></i><i style="top:57px;left:35px;width:87px;background:linear-gradient(90deg,#43ffbc,#47ffb8,#3bffc4,#24ffdb,#0dfff2,#00feff,#00f4ff,#00edff,#00e9ff,#00e7ff,#00e6ff,#00e6ff,#00e6ff,#00e5ff,#00e5ff,#00e5ff,#00e5ff,#00e5ff,#00e6ff,#00e6ff,#00e7ff,#00e8ff,#00eaff,#00f1ff,#00f9ff,#05fffa,#19ffe6,#31ffce,#44ffbb,#47ffb8)"></i><i style="top:58px;left:35px;width:87px;background:linear-gradient(90deg,#34ffcb,#38ffc7,#2dffd2,#19ffe6,#05fffa,#00f7ff,#00efff,#00e8ff,#00e4ff,#00e3ff,#00e2ff,#00e2ff,#00e2ff,#00e1ff,#00e1ff,#00e1ff,#00e1ff,#00e1ff,#00e2ff,#00e2ff,#00e3ff,#00e4ff,#00e6ff,#00ebff,#00f3ff,#00fdff,#0ffff0,#24ffdb,#35ffca,#38ffc7)"></i><i style="top:59px;left:35px;width:87px;background:linear-gradient(90deg,#26ffd9,#29ffd6,#20ffdf,#0ffff0,#00fcff,#00f1ff,#00eaff,#00e4ff,#00e0ff,#00dfff,#00deff,#00deff,#00deff,#00deff,#00ddff,#00ddff,#00ddff,#00deff,#00deff,#00deff,#00dfff,#00e0ff,#00e2ff,#00e7ff,#00edff,#00f6ff,#06fff9,#18ffe7,#26ffd9,#29ffd6)"></i><i style="top:60px;left:35px;width:87px;background:linear-gradient(90deg,#17ffe8,#1affe5,#12ffed,#04fffb,#00f5ff,#00ebff,#00e4ff,#00dfff,#00dcff,#00dbff,#00daff,#00daff,#00daff,#00daff,#00d9ff,#00d9ff,#00daff,#00daff,#00daff,#00daff,#00dbff,#00dbff,#00ddff,#00e2ff,#00e8ff,#00efff,#00fcff,#0cfff3,#18ffe7,#1affe5)"></i><i style="top:61px;left:35px;width:87px;background:linear-gradient(90deg,#0afff5,#0cfff3,#06fff9,#00f9ff,#00edff,#00e5ff,#00dfff,#00dbff,#00d8ff,#00d7ff,#00d7ff,#00d6ff,#00d6ff,#00d6ff,#00d6ff,#00d5ff,#00d6ff,#00d6ff,#00d6ff,#00d6ff,#00d7ff,#00d7ff,#00d9ff,#00ddff,#00e2ff,#00e9ff,#00f3ff,#00ffff,#0afff5,#0cfff3)"></i><i style="top:62px;left:35px;width:87px;background:linear-gradient(90deg,#00fcff,#00fdff,#00f8ff,#00efff,#00e6ff,#00dfff,#00daff,#00d6ff,#00d4ff,#00d3ff,#00d3ff,#00d2ff,#00d2ff,#00d2ff,#00d1ff,#00d1ff,#00d2ff,#00d2ff,#00d2ff,#00d3ff,#00d3ff,#00d3ff,#00d5ff,#00d8ff,#00ddff,#00e2ff,#00ebff,#00f4ff,#00fcff,#00fdff)"></i><i style="top:63px;left:35px;width:87px;background:linear-gradient(90deg,#00efff,#00f1ff,#00edff,#00e6ff,#00deff,#00d9ff,#00d5ff,#00d2ff,#00d0ff,#00cfff,#00cfff,#00ceff,#00ceff,#00cdff,#00cdff,#00cdff,#00cdff,#00ceff,#00ceff,#00cfff,#00cfff,#00cfff,#00d1ff,#00d3ff,#00d7ff,#00dbff,#00e2ff,#00eaff,#00f0ff,#00f1ff)"></i><i style="top:64px;left:35px;width:87px;background:linear-gradient(90deg,#00e4ff,#00e5ff,#00e2ff,#00ddff,#00d7ff,#00d3ff,#00d0ff,#00cdff,#00ccff,#00cbff,#00cbff,#00caff,#00caff,#00c9ff,#00c8ff,#00c8ff,#00c9ff,#00c9ff,#00caff,#00cbff,#00cbff,#00cbff,#00ccff,#00ceff,#00d1ff,#00d5ff,#00daff,#00e0ff,#00e4ff,#00e5ff)"></i><i style="top:65px;left:35px;width:87px;background:linear-gradient(90deg,#00d9ff,#00daff,#00d8ff,#00d4ff,#00cfff,#00cdff,#00caff,#00c9ff,#00c8ff,#00c7ff,#00c7ff,#00c7ff,#00c6ff,#00c5ff,#00c4ff,#00c3ff,#00c4ff,#00c5ff,#00c6ff,#00c7ff,#00c7ff,#00c7ff,#00c8ff,#00caff,#00cbff,#00ceff,#00d2ff,#00d6ff,#00d9ff,#00daff)"></i><i style="top:66px;left:35px;width:87px;background:linear-gradient(90deg,#00cfff,#00cfff,#00ceff,#00cbff,#00c8ff,#00c6ff,#00c5ff,#00c4ff,#00c4ff,#00c3ff,#00c3ff,#00c3ff,#00c1ff,#00c0ff,#00bfff,#00bfff,#00c0ff,#00c1ff,#00c2ff,#00c3ff,#00c3ff,#00c4ff,#00c4ff,#00c5ff,#00c6ff,#00c7ff,#00caff,#00ccff,#00cfff,#00cfff)"></i><i style="top:67px;left:35px;width:87px;background:linear-gradient(90deg,#00c4ff,#00c4ff,#00c3ff,#00c2ff,#00c1ff,#00c0ff,#00c0ff,#00c0ff,#00c0ff,#00bfff,#00bfff,#00bfff,#00bdff,#00bcff,#00baff,#00baff,#00bbff,#00bcff,#00beff,#00bfff,#00bfff,#00c0ff,#00c0ff,#00c0ff,#00c0ff,#00c0ff,#00c2ff,#00c3ff,#00c4ff,#00c4ff)"></i><i style="top:68px;left:35px;width:87px;background:linear-gradient(90deg,#00b9ff,#00b9ff,#00b9ff,#00b9ff,#00b9ff,#00baff,#00baff,#00bbff,#00bbff,#00bbff,#00bbff,#00bbff,#00b9ff,#00b7ff,#00b5ff,#00b5ff,#00b6ff,#00b8ff,#00baff,#00bbff,#00bbff,#00bbff,#00bbff,#00bbff,#00baff,#00b9ff,#00b9ff,#00b9ff,#00b9ff,#00b9ff)"></i><i style="top:69px;left:35px;width:87px;background:linear-gradient(90deg,#00adff,#00adff,#00aeff,#00afff,#00b1ff,#00b2ff,#00b4ff,#00b6ff,#00b7ff,#00b7ff,#00b7ff,#00b6ff,#00b4ff,#00b2ff,#00b0ff,#00b0ff,#00b1ff,#00b3ff,#00b6ff,#00b7ff,#00b7ff,#00b7ff,#00b7ff,#00b5ff,#00b3ff,#00b2ff,#00b0ff,#00aeff,#00adff,#00adff)"></i><i style="top:70px;left:35px;width:87px;background:linear-gradient(90deg,#009fff,#009eff,#00a0ff,#00a3ff,#00a7ff,#00aaff,#00adff,#00b0ff,#00b2ff,#00b2ff,#00b2ff,#00b2ff,#00b0ff,#00adff,#00abff,#00aaff,#00acff,#00afff,#00b1ff,#00b2ff,#00b2ff,#00b2ff,#00b1ff,#00aeff,#00abff,#00a8ff,#00a5ff,#00a2ff,#009fff,#009eff)"></i><i style="top:71px;left:35px;width:87px;background:linear-gradient(90deg,#008eff,#008dff,#0090ff,#0095ff,#009aff,#009fff,#00a4ff,#00a8ff,#00abff,#00acff,#00adff,#00adff,#00abff,#00a8ff,#00a6ff,#00a5ff,#00a7ff,#00a9ff,#00acff,#00adff,#00acff,#00acff,#00aaff,#00a6ff,#00a1ff,#009dff,#0098ff,#0092ff,#008eff,#008dff)"></i><i style="top:72px;left:35px;width:87px;background:linear-gradient(90deg,#007bff,#0079ff,#007dff,#0084ff,#008cff,#0093ff,#0099ff,#00a0ff,#00a4ff,#00a5ff,#00a7ff,#00a7ff,#00a5ff,#00a3ff,#00a0ff,#009fff,#00a1ff,#00a4ff,#00a6ff,#00a7ff,#00a6ff,#00a5ff,#00a2ff,#009cff,#0096ff,#008fff,#0088ff,#0080ff,#007aff,#0079ff)"></i><i style="top:73px;left:35px;width:87px;background:linear-gradient(90deg,#0066ff,#0063ff,#0068ff,#0072ff,#007cff,#0085ff,#008eff,#0096ff,#009cff,#009eff,#00a1ff,#00a1ff,#009fff,#009dff,#009aff,#009aff,#009cff,#009eff,#00a1ff,#00a1ff,#009fff,#009dff,#0099ff,#0092ff,#0089ff,#0081ff,#0077ff,#006dff,#0065ff,#0063ff)"></i><i style="top:74px;left:35px;width:87px;background:linear-gradient(90deg,#0050ff,#004dff,#0053ff,#0060ff,#006cff,#0077ff,#0082ff,#008dff,#0093ff,#0097ff,#009aff,#009bff,#009aff,#0097ff,#0095ff,#0094ff,#0096ff,#0098ff,#009bff,#009bff,#0098ff,#0095ff,#0090ff,#0087ff,#007cff,#0072ff,#0066ff,#0059ff,#004fff,#004dff)"></i><i style="top:75px;left:35px;width:87px;background:linear-gradient(90deg,#003aff,#0037ff,#003eff,#004dff,#005cff,#0069ff,#0076ff,#0083ff,#008bff,#008fff,#0093ff,#0095ff,#0094ff,#0091ff,#008fff,#008eff,#0090ff,#0092ff,#0095ff,#0095ff,#0091ff,#008dff,#0087ff,#007cff,#006fff,#0062ff,#0054ff,#0045ff,#0039ff,#0037ff)"></i><i style="top:76px;left:35px;width:87px;background:linear-gradient(90deg,#0025ff,#0021ff,#002aff,#003aff,#004bff,#005aff,#0069ff,#0078ff,#0082ff,#0087ff,#008cff,#008fff,#008dff,#008bff,#0088ff,#0088ff,#008aff,#008cff,#008eff,#008eff,#008aff,#0085ff,#007eff,#0071ff,#0061ff,#0052ff,#0042ff,#0031ff,#0024ff,#0022ff)"></i><i style="top:77px;left:35px;width:87px;background:linear-gradient(90deg,#0011ff,#000dff,#0016ff,#0027ff,#0039ff,#004bff,#005cff,#006dff,#0078ff,#007fff,#0084ff,#0087ff,#0086ff,#0084ff,#0082ff,#0081ff,#0083ff,#0085ff,#0087ff,#0086ff,#0081ff,#007cff,#0074ff,#0064ff,#0053ff,#0042ff,#0030ff,#001dff,#000fff,#000dff)"></i><i style="top:78px;left:35px;width:87px;background:linear-gradient(90deg,#0000fd,#0000f9,#0003ff,#0014ff,#0027ff,#003bff,#004eff,#0061ff,#006eff,#0075ff,#007bff,#007fff,#007eff,#007cff,#007aff,#007aff,#007bff,#007dff,#007fff,#007eff,#0078ff,#0072ff,#0069ff,#0057ff,#0044ff,#0030ff,#001dff,#000bff,#0000fb,#0000f9)"></i><i style="top:79px;left:35px;width:87px;background:linear-gradient(90deg,#0000eb,#0000e8,#0000f0,#0002ff,#0015ff,#0029ff,#003fff,#0055ff,#0063ff,#006bff,#0072ff,#0076ff,#0075ff,#0074ff,#0072ff,#0072ff,#0073ff,#0075ff,#0076ff,#0074ff,#006eff,#0067ff,#005dff,#0049ff,#0033ff,#001eff,#000bff,#0000f8,#0000ea,#0000e8)"></i><i style="top:80px;left:35px;width:87px;background:linear-gradient(90deg,#0000db,#0000d7,#0000e0,#0000ef,#0002ff,#0018ff,#0030ff,#0048ff,#0057ff,#0060ff,#0067ff,#006cff,#006cff,#006bff,#006aff,#006aff,#006bff,#006cff,#006dff,#006aff,#0063ff,#005cff,#0051ff,#003bff,#0023ff,#000cff,#0000f7,#0000e6,#0000da,#0000d8)"></i><i style="top:81px;left:35px;width:87px;background:linear-gradient(90deg,#0000cc,#0000c9,#0000d0,#0000df,#0000f0,#0007ff,#0022ff,#003bff,#004cff,#0055ff,#005dff,#0063ff,#0063ff,#0063ff,#0062ff,#0062ff,#0062ff,#0063ff,#0063ff,#0061ff,#0059ff,#0051ff,#0045ff,#002eff,#0014ff,#0000f9,#0000e6,#0000d7,#0000cb,#0000c9)"></i><i style="top:82px;left:35px;width:87px;background:linear-gradient(90deg,#0000c0,#0000bd,#0000c4,#0000d1,#0000e0,#0000f8,#0014ff,#002fff,#0042ff,#004bff,#0054ff,#0059ff,#005bff,#005aff,#005aff,#005aff,#005aff,#005bff,#005aff,#0057ff,#004fff,#0046ff,#003aff,#0021ff,#0005ff,#0000ea,#0000d7,#0000ca,#0000bf,#0000be)"></i><i style="top:83px;left:35px;width:87px;background:linear-gradient(90deg,#0000b8,#0000b5,#0000bb,#0000c6,#0000d4,#0000eb,#0009ff,#0025ff,#0038ff,#0042ff,#004bff,#0051ff,#0053ff,#0053ff,#0054ff,#0054ff,#0053ff,#0053ff,#0052ff,#004eff,#0046ff,#003dff,#0030ff,#0017ff,#0000f9,#0000dd,#0000cb,#0000c0,#0000b7,#0000b5)"></i><i style="top:84px;left:35px;width:87px;background:linear-gradient(90deg,#0000b2,#0000b0,#0000b5,#0000be,#0000ca,#0000e2,#0000ff,#001dff,#0030ff,#003aff,#0043ff,#0049ff,#004bff,#004cff,#004eff,#004eff,#004dff,#004cff,#004bff,#0046ff,#003eff,#0035ff,#0028ff,#000eff,#0000ef,#0000d4,#0000c3,#0000b9,#0000b2,#0000b1)"></i><i style="top:85px;left:35px;width:87px;background:linear-gradient(90deg,#0000af,#0000ae,#0000b2,#0000b8,#0000c3,#0000da,#0000f8,#0016ff,#0029ff,#0033ff,#003cff,#0043ff,#0045ff,#0047ff,#0048ff,#0049ff,#0048ff,#0046ff,#0044ff,#0040ff,#0037ff,#002eff,#0021ff,#0007ff,#0000e8,#0000cc,#0000bc,#0000b5,#0000af,#0000ae)"></i><i style="top:86px;left:35px;width:87px;background:linear-gradient(90deg,#0000ae,#0000ac,#0000af,#0000b5,#0000be,#0000d5,#0000f2,#0010ff,#0024ff,#002eff,#0037ff,#003eff,#0041ff,#0043ff,#0045ff,#0045ff,#0044ff,#0041ff,#003fff,#003aff,#0032ff,#0029ff,#001bff,#0001ff,#0000e2,#0000c6,#0000b8,#0000b2,#0000ad,#0000ad)"></i><i style="top:87px;left:35px;width:87px;background:linear-gradient(90deg,#0000ad,#0000ac,#0000ae,#0000b2,#0000ba,#0000d1,#0000ef,#000dff,#0020ff,#002aff,#0033ff,#003aff,#003dff,#0040ff,#0042ff,#0043ff,#0041ff,#003fff,#003cff,#0037ff,#002eff,#0025ff,#0018ff,#0000fd,#0000df,#0000c3,#0000b5,#0000b0,#0000ac,#0000ac)"></i><i style="top:88px;left:35px;width:87px;background:linear-gradient(90deg,#0000ac,#0000ab,#0000ad,#0000b1,#0000b8,#0000cf,#0000ed,#000bff,#001eff,#0029ff,#0032ff,#0039ff,#003cff,#003eff,#0041ff,#0042ff,#0040ff,#003dff,#003aff,#0035ff,#002dff,#0024ff,#0016ff,#0000fb,#0000dd,#0000c1,#0000b3,#0000af,#0000ab,#0000ab)"></i><i style="top:89px;left:35px;width:87px;background:linear-gradient(90deg,#0000ab,#0000aa,#0000ac,#0000b0,#0000b8,#0000ce,#0000ec,#000aff,#001eff,#0028ff,#0031ff,#0038ff,#003bff,#003eff,#0040ff,#0041ff,#003fff,#003dff,#003aff,#0035ff,#002cff,#0023ff,#0015ff,#0000fa,#0000dc,#0000c0,#0000b2,#0000ae,#0000ab,#0000aa)"></i><i style="top:90px;left:35px;width:87px;background:linear-gradient(90deg,#0000ab,#0000aa,#0000ac,#0000b0,#0000b7,#0000ce,#0000ec,#000aff,#001eff,#0028ff,#0031ff,#0038ff,#003bff,#003eff,#0040ff,#0041ff,#003fff,#003cff,#003aff,#0035ff,#002cff,#0023ff,#0015ff,#0000fa,#0000dc,#0000c0,#0000b2,#0000ad,#0000ab,#0000aa)"></i><i style="top:91px;left:35px;width:87px;background:linear-gradient(90deg,#0000ab,#0000aa,#0000ac,#0000af,#0000b7,#0000ce,#0000ec,#000aff,#001dff,#0028ff,#0031ff,#0038ff,#003bff,#003eff,#0040ff,#0041ff,#003fff,#003cff,#003aff,#0035ff,#002cff,#0023ff,#0015ff,#0000fa,#0000dc,#0000bf,#0000b1,#0000ad,#0000aa,#0000aa)"></i><i style="top:92px;left:35px;width:87px;background:linear-gradient(90deg,#0000aa,#0000aa,#0000ab,#0000af,#0000b7,#0000ce,#0000ec,#000aff,#001dff,#0028ff,#0031ff,#0038ff,#003bff,#003eff,#0040ff,#0041ff,#003fff,#003cff,#003aff,#0035ff,#002cff,#0023ff,#0015ff,#0000fa,#0000dc,#0000bf,#0000b1,#0000ad,#0000aa,#0000aa)"></i><i style="top:93px;left:35px;width:87px;background:linear-gradient(90deg,#0000aa,#0000a9,#0000ab,#0000af,#0000b7,#0000ce,#0000ec,#000aff,#001dff,#0028ff,#0031ff,#0038ff,#003bff,#003eff,#0040ff,#0041ff,#003fff,#003cff,#003aff,#0035ff,#002cff,#0023ff,#0015ff,#0000fa,#0000dc,#0000bf,#0000b1,#0000ad,#0000aa,#0000a9)"></i><i style="top:94px;left:35px;width:87px;background:linear-gradient(90deg,#0000aa,#0000a9,#0000ab,#0000af,#0000b7,#0000ce,#0000ec,#000aff,#001dff,#0028ff,#0031ff,#0038ff,#003bff,#003eff,#0040ff,#0041ff,#003fff,#003cff,#003aff,#0035ff,#002cff,#0023ff,#0015ff,#0000fa,#0000db,#0000bf,#0000b1,#0000ad,#0000aa,#0000a9)"></i><i style="top:95px;left:35px;width:87px;background:linear-gradient(90deg,#0000aa,#0000a9,#0000ab,#0000af,#0000b6,#0000ce,#0000ec,#000aff,#001dff,#0028ff,#0031ff,#0038ff,#003bff,#003eff,#0040ff,#0041ff,#003fff,#003cff,#003aff,#0035ff,#002cff,#0023ff,#0015ff,#0000fa,#0000db,#0000bf,#0000b1,#0000ad,#0000aa,#0000a9)"></i><b style="left:0;top:43.8px;width:37.9px;bottom:0"></b><b style="left:121.5px;top:43.8px;right:0;bottom:0"></b><u style="left:0;top:43.8px;width:38.1px;height:1px;background:linear-gradient(90deg,#07fff8,#09fff6,#0bfff4,#0efff1,#11ffee,#14ffeb,#19ffe6,#20ffdf,#28ffd7,#31ffce,#3dffc2,#50ffaf,#74ff8b)"></u><u style="left:121.3px;top:43.8px;width:37.8px;height:1px;background:linear-gradient(90deg,#7cff83,#54ffab,#3fffc0,#33ffcc,#2affd5,#22ffdd,#1affe5,#14ffeb,#11ffee,#0efff1,#0cfff3,#09fff6,#07fff8)"></u><u style="left:37.1px;top:44.6px;width:1px;height:42.6px;background:linear-gradient(180deg,#00e8ff,#00bcff,#009cff,#0082ff,#006aff,#0053ff,#003eff,#002dff,#001dff,#0007ff,#0000e6,#0000c6,#0000ac,#00009b,#000096);opacity:.8"></u><u style="left:121.3px;top:44.6px;width:1px;height:42.6px;background:linear-gradient(180deg,#00e0ff,#00b9ff,#009aff,#0081ff,#0069ff,#0053ff,#003eff,#002dff,#001dff,#0007ff,#0000e7,#0000c7,#0000ad,#00009b,#000096);opacity:.8"></u><b style="left:37.9px;top:87.2px;width:83.6px;bottom:0"></b><u style="left:33.3px;top:83.5px;width:8px;height:8px;background:radial-gradient(circle at 50% 50%,#ffd000 0,#40ffc0 1px,#00a0ff 1.9px,rgba(0,60,255,.4) 2.5px,rgba(0,40,255,0) 3.2px)"></u><u style="left:118.1px;top:83.5px;width:8px;height:8px;background:radial-gradient(circle at 50% 50%,#ffd000 0,#40ffc0 1px,#00a0ff 1.9px,rgba(0,60,255,.4) 2.5px,rgba(0,40,255,0) 3.2px)"></u><s style="width:20.0px;height:23.1px;padding:3.4px 0 0 5.9px">v</s></div>
<div class="hm" style="left:350.0px;top:321.0px;width:159.6px;height:95.5px"><i style="top:0px;left:0;width:160px;background:linear-gradient(90deg,#94ff6b,#94ff6b,#94ff6b,#94ff6b,#94ff6b,#94ff6b,#94ff6b,#94ff6b,#94ff6b,#93ff6c,#8fff70,#89ff76,#84ff7b,#7dff82,#76ff89,#71ff8e,#6dff92,#69ff96,#66ff99,#63ff9c,#62ff9d,#65ff9a,#68ff97,#6bff94,#6fff90,#73ff8c,#7aff85,#81ff7e,#87ff78,#8cff73,#91ff6e,#94ff6b,#94ff6b,#94ff6b,#94ff6b,#94ff6b,#94ff6b,#94ff6b,#94ff6b,#94ff6b,#94ff6b)"></i><i style="top:1px;left:0;width:160px;background:linear-gradient(90deg,#94ff6b,#94ff6b,#94ff6b,#94ff6b,#94ff6b,#94ff6b,#94ff6b,#94ff6b,#94ff6b,#93ff6c,#8fff70,#8aff75,#84ff7b,#7dff82,#76ff89,#71ff8e,#6dff92,#69ff96,#66ff99,#63ff9c,#62ff9d,#65ff9a,#68ff97,#6bff94,#6fff90,#73ff8c,#7aff85,#81ff7e,#87ff78,#8cff73,#92ff6d,#94ff6b,#94ff6b,#94ff6b,#94ff6b,#94ff6b,#94ff6b,#94ff6b,#94ff6b,#94ff6b,#94ff6b)"></i><i style="top:2px;left:0;width:160px;background:linear-gradient(90deg,#94ff6b,#94ff6b,#94ff6b,#94ff6b,#94ff6b,#94ff6b,#94ff6b,#94ff6b,#94ff6b,#94ff6b,#8fff70,#8aff75,#84ff7b,#7dff82,#76ff89,#71ff8e,#6dff92,#69ff96,#66ff99,#63ff9c,#62ff9d,#64ff9b,#68ff97,#6bff94,#6fff90,#73ff8c,#79ff86,#81ff7e,#87ff78,#8dff72,#92ff6d,#94ff6b,#94ff6b,#94ff6b,#94ff6b,#94ff6b,#94ff6b,#94ff6b,#94ff6b,#94ff6b,#94ff6b)"></i><i style="top:3px;left:0;width:160px;background:linear-gradient(90deg,#94ff6b,#95ff6a,#95ff6a,#95ff6a,#95ff6a,#95ff6a,#95ff6a,#95ff6a,#95ff6a,#94ff6b,#90ff6f,#8aff75,#84ff7b,#7dff82,#75ff8a,#70ff8f,#6cff93,#68ff97,#65ff9a,#62ff9d,#61ff9e,#64ff9b,#67ff98,#6aff95,#6eff91,#73ff8c,#79ff86,#81ff7e,#87ff78,#8dff72,#93ff6c,#95ff6a,#95ff6a,#95ff6a,#95ff6a,#95ff6a,#95ff6a,#95ff6a,#95ff6a,#94ff6b,#94ff6b)"></i><i style="top:4px;left:0;width:160px;background:linear-gradient(90deg,#95ff6a,#95ff6a,#95ff6a,#95ff6a,#96ff69,#96ff69,#96ff69,#96ff69,#96ff69,#95ff6a,#90ff6f,#8aff75,#84ff7b,#7cff83,#75ff8a,#70ff8f,#6bff94,#68ff97,#65ff9a,#61ff9e,#60ff9f,#63ff9c,#66ff99,#6aff95,#6eff91,#72ff8d,#79ff86,#80ff7f,#87ff78,#8eff71,#94ff6b,#96ff69,#96ff69,#96ff69,#96ff69,#96ff69,#96ff69,#95ff6a,#95ff6a,#95ff6a,#95ff6a)"></i><i style="top:5px;left:0;width:160px;background:linear-gradient(90deg,#95ff6a,#96ff69,#96ff69,#96ff69,#97ff68,#97ff68,#97ff68,#97ff68,#97ff68,#97ff68,#91ff6e,#8bff74,#83ff7c,#7cff83,#74ff8b,#6fff90,#6bff94,#67ff98,#64ff9b,#60ff9f,#5fffa0,#62ff9d,#65ff9a,#69ff96,#6dff92,#72ff8d,#78ff87,#80ff7f,#88ff77,#8eff71,#95ff6a,#98ff67,#97ff68,#97ff68,#97ff68,#97ff68,#96ff69,#96ff69,#96ff69,#95ff6a,#95ff6a)"></i><i style="top:6px;left:0;width:160px;background:linear-gradient(90deg,#96ff69,#96ff69,#97ff68,#97ff68,#98ff67,#98ff67,#98ff67,#98ff67,#99ff66,#98ff67,#92ff6d,#8bff74,#83ff7c,#7bff84,#74ff8b,#6eff91,#6aff95,#66ff99,#63ff9c,#5fffa0,#5effa1,#61ff9e,#64ff9b,#68ff97,#6cff93,#71ff8e,#78ff87,#80ff7f,#88ff77,#8fff70,#96ff69,#99ff66,#98ff67,#98ff67,#98ff67,#98ff67,#97ff68,#97ff68,#97ff68,#96ff69,#96ff69)"></i><i style="top:7px;left:0;width:160px;background:linear-gradient(90deg,#97ff68,#97ff68,#98ff67,#98ff67,#99ff66,#99ff66,#99ff66,#99ff66,#9aff65,#9aff65,#93ff6c,#8cff73,#83ff7c,#7bff84,#73ff8c,#6eff91,#69ff96,#65ff9a,#61ff9e,#5effa1,#5dffa2,#60ff9f,#63ff9c,#67ff98,#6bff94,#71ff8e,#77ff88,#7fff80,#88ff77,#90ff6f,#97ff68,#9aff65,#99ff66,#99ff66,#99ff66,#99ff66,#98ff67,#98ff67,#97ff68,#97ff68,#96ff69)"></i><i style="top:8px;left:0;width:160px;background:linear-gradient(90deg,#97ff68,#98ff67,#98ff67,#99ff66,#9aff65,#9aff65,#9aff65,#9aff65,#9bff64,#9bff64,#95ff6a,#8cff73,#83ff7c,#7aff85,#73ff8c,#6dff92,#68ff97,#64ff9b,#60ff9f,#5dffa2,#5cffa3,#5fffa0,#62ff9d,#66ff99,#6bff94,#70ff8f,#77ff88,#7fff80,#88ff77,#91ff6e,#99ff66,#9cff63,#9bff64,#9aff65,#9aff65,#9aff65,#99ff66,#99ff66,#98ff67,#97ff68,#97ff68)"></i><i style="top:9px;left:0;width:160px;background:linear-gradient(90deg,#98ff67,#98ff67,#99ff66,#9aff65,#9bff64,#9bff64,#9bff64,#9bff64,#9dff62,#9dff62,#96ff69,#8dff72,#83ff7c,#7aff85,#72ff8d,#6cff93,#67ff98,#63ff9c,#5fffa0,#5cffa3,#5bffa4,#5effa1,#61ff9e,#65ff9a,#6aff95,#6fff90,#76ff89,#7fff80,#89ff76,#92ff6d,#9aff65,#9dff62,#9cff63,#9bff64,#9bff64,#9bff64,#9aff65,#9aff65,#99ff66,#98ff67,#97ff68)"></i><i style="top:10px;left:0;width:160px;background:linear-gradient(90deg,#98ff67,#99ff66,#9aff65,#9bff64,#9cff63,#9cff63,#9cff63,#9cff63,#9eff61,#9eff61,#97ff68,#8dff72,#83ff7c,#79ff86,#72ff8d,#6bff94,#66ff99,#61ff9e,#5effa1,#5bffa4,#5affa5,#5dffa2,#60ff9f,#64ff9b,#69ff96,#6fff90,#76ff89,#7eff81,#89ff76,#93ff6c,#9bff64,#9fff60,#9dff62,#9cff63,#9cff63,#9cff63,#9bff64,#9bff64,#9aff65,#99ff66,#98ff67)"></i><i style="top:11px;left:0;width:160px;background:linear-gradient(90deg,#99ff66,#9aff65,#9bff64,#9cff63,#9dff62,#9dff62,#9dff62,#9dff62,#9fff60,#a0ff5f,#98ff67,#8eff71,#83ff7c,#79ff86,#71ff8e,#6bff94,#65ff9a,#60ff9f,#5dffa2,#5affa5,#59ffa6,#5cffa3,#5fffa0,#63ff9c,#68ff97,#6eff91,#75ff8a,#7eff81,#89ff76,#93ff6c,#9dff62,#a0ff5f,#9eff61,#9dff62,#9dff62,#9dff62,#9cff63,#9bff64,#9aff65,#99ff66,#99ff66)"></i><i style="top:12px;left:0;width:160px;background:linear-gradient(90deg,#9aff65,#9bff64,#9cff63,#9dff62,#9eff61,#9eff61,#9eff61,#9fff60,#a1ff5e,#a1ff5e,#99ff66,#8eff71,#83ff7c,#78ff87,#70ff8f,#6aff95,#64ff9b,#5fffa0,#5cffa3,#59ffa6,#58ffa7,#5bffa4,#5effa1,#61ff9e,#67ff98,#6dff92,#75ff8a,#7eff81,#89ff76,#94ff6b,#9eff61,#a2ff5d,#9fff60,#9eff61,#9eff61,#9eff61,#9dff62,#9cff63,#9bff64,#9aff65,#99ff66)"></i><i style="top:13px;left:0;width:160px;background:linear-gradient(90deg,#9aff65,#9bff64,#9dff62,#9eff61,#9fff60,#9fff60,#9fff60,#a0ff5f,#a2ff5d,#a3ff5c,#9aff65,#8fff70,#83ff7c,#78ff87,#70ff8f,#69ff96,#63ff9c,#5effa1,#5bffa4,#58ffa7,#57ffa8,#5affa5,#5dffa2,#60ff9f,#66ff99,#6dff92,#74ff8b,#7eff81,#8aff75,#95ff6a,#9fff60,#a3ff5c,#a1ff5e,#9fff60,#9fff60,#9fff60,#9eff61,#9dff62,#9cff63,#9bff64,#9aff65)"></i><i style="top:14px;left:0;width:160px;background:linear-gradient(90deg,#9bff64,#9cff63,#9dff62,#9fff60,#a0ff5f,#a0ff5f,#a0ff5f,#a1ff5e,#a3ff5c,#a4ff5b,#9bff64,#8fff70,#83ff7c,#77ff88,#6fff90,#68ff97,#62ff9d,#5dffa2,#5affa5,#57ffa8,#56ffa9,#59ffa6,#5cffa3,#5fffa0,#65ff9a,#6cff93,#73ff8c,#7dff82,#8aff75,#96ff69,#a1ff5e,#a5ff5a,#a2ff5d,#a0ff5f,#a0ff5f,#a0ff5f,#9fff60,#9eff61,#9dff62,#9bff64,#9aff65)"></i><i style="top:15px;left:0;width:160px;background:linear-gradient(90deg,#9bff64,#9dff62,#9eff61,#a0ff5f,#a1ff5e,#a1ff5e,#a1ff5e,#a2ff5d,#a5ff5a,#a6ff59,#9cff63,#90ff6f,#83ff7c,#77ff88,#6fff90,#68ff97,#61ff9e,#5cffa3,#59ffa6,#56ffa9,#55ffaa,#57ffa8,#5bffa4,#5effa1,#65ff9a,#6bff94,#73ff8c,#7dff82,#8aff75,#97ff68,#a2ff5d,#a6ff59,#a3ff5c,#a1ff5e,#a1ff5e,#a1ff5e,#a0ff5f,#9fff60,#9dff62,#9cff63,#9bff64)"></i><i style="top:16px;left:0;width:160px;background:linear-gradient(90deg,#9cff63,#9dff62,#9fff60,#a1ff5e,#a2ff5d,#a2ff5d,#a2ff5d,#a3ff5c,#a6ff59,#a7ff58,#9dff62,#90ff6f,#83ff7c,#76ff89,#6eff91,#67ff98,#60ff9f,#5bffa4,#58ffa7,#55ffaa,#54ffab,#56ffa9,#5affa5,#5dffa2,#64ff9b,#6bff94,#72ff8d,#7dff82,#8aff75,#97ff68,#a4ff5b,#a8ff57,#a4ff5b,#a2ff5d,#a2ff5d,#a2ff5d,#a1ff5e,#a0ff5f,#9eff61,#9cff63,#9bff64)"></i><i style="top:17px;left:0;width:160px;background:linear-gradient(90deg,#9cff63,#9eff61,#a0ff5f,#a2ff5d,#a3ff5c,#a3ff5c,#a4ff5b,#a4ff5b,#a8ff57,#a9ff56,#9eff61,#91ff6e,#83ff7c,#76ff89,#6eff91,#66ff99,#5fffa0,#5affa5,#57ffa8,#54ffab,#53ffac,#55ffaa,#58ffa7,#5cffa3,#63ff9c,#6aff95,#72ff8d,#7cff83,#8bff74,#98ff67,#a5ff5a,#a9ff56,#a5ff5a,#a4ff5b,#a4ff5b,#a3ff5c,#a2ff5d,#a1ff5e,#9fff60,#9dff62,#9cff63)"></i><i style="top:18px;left:0;width:160px;background:linear-gradient(90deg,#9dff62,#9fff60,#a1ff5e,#a3ff5c,#a4ff5b,#a5ff5a,#a5ff5a,#a5ff5a,#a9ff56,#aaff55,#9fff60,#92ff6d,#82ff7d,#75ff8a,#6dff92,#65ff9a,#5effa1,#59ffa6,#56ffa9,#53ffac,#51ffae,#54ffab,#57ffa8,#5bffa4,#62ff9d,#6aff95,#71ff8e,#7cff83,#8bff74,#99ff66,#a6ff59,#abff54,#a7ff58,#a5ff5a,#a5ff5a,#a5ff5a,#a3ff5c,#a2ff5d,#a0ff5f,#9eff61,#9cff63)"></i><i style="top:19px;left:0;width:160px;background:linear-gradient(90deg,#9eff61,#9fff60,#a2ff5d,#a4ff5b,#a5ff5a,#a6ff59,#a6ff59,#a7ff58,#aaff55,#acff53,#a0ff5f,#92ff6d,#82ff7d,#75ff8a,#6cff93,#65ff9a,#5dffa2,#58ffa7,#55ffaa,#51ffae,#50ffaf,#53ffac,#56ffa9,#5affa5,#61ff9e,#69ff96,#71ff8e,#7cff83,#8bff74,#9aff65,#a8ff57,#acff53,#a8ff57,#a6ff59,#a6ff59,#a6ff59,#a5ff5a,#a2ff5d,#a0ff5f,#9eff61,#9dff62)"></i><i style="top:20px;left:0;width:160px;background:linear-gradient(90deg,#9eff61,#a0ff5f,#a2ff5d,#a5ff5a,#a7ff58,#a7ff58,#a7ff58,#a8ff57,#acff53,#aeff51,#a2ff5d,#93ff6c,#83ff7c,#75ff8a,#6cff93,#64ff9b,#5cffa3,#57ffa8,#53ffac,#50ffaf,#4fffb0,#52ffad,#55ffaa,#59ffa6,#60ff9f,#68ff97,#70ff8f,#7cff83,#8cff73,#9bff64,#aaff55,#aeff51,#aaff55,#a7ff58,#a7ff58,#a7ff58,#a6ff59,#a3ff5c,#a1ff5e,#9fff60,#9dff62)"></i><i style="top:21px;left:0;width:160px;background:linear-gradient(90deg,#9fff60,#a1ff5e,#a3ff5c,#a6ff59,#a8ff57,#a9ff56,#a9ff56,#aaff55,#afff50,#b0ff4f,#a4ff5b,#94ff6b,#83ff7c,#74ff8b,#6bff94,#63ff9c,#5bffa4,#55ffaa,#52ffad,#4fffb0,#4effb1,#51ffae,#54ffab,#58ffa7,#5fffa0,#68ff97,#70ff8f,#7cff83,#8dff72,#9dff62,#acff53,#b0ff4f,#acff53,#a9ff56,#a9ff56,#a8ff57,#a7ff58,#a4ff5b,#a2ff5d,#a0ff5f,#9eff61)"></i><i style="top:22px;left:0;width:160px;background:linear-gradient(90deg,#a0ff5f,#a2ff5d,#a4ff5b,#a7ff58,#a9ff56,#aaff55,#abff54,#adff52,#b2ff4d,#b3ff4c,#a7ff58,#96ff69,#84ff7b,#74ff8b,#6bff94,#62ff9d,#5affa5,#54ffab,#51ffae,#4dffb2,#4cffb3,#4fffb0,#52ffad,#56ffa9,#5effa1,#67ff98,#70ff8f,#7cff83,#8eff71,#9fff60,#afff50,#b4ff4b,#afff50,#acff53,#abff54,#aaff55,#a8ff57,#a6ff59,#a3ff5c,#a0ff5f,#9fff60)"></i><i style="top:23px;left:0;width:160px;background:linear-gradient(90deg,#a0ff5f,#a3ff5c,#a6ff59,#a9ff56,#abff54,#adff52,#aeff51,#b0ff4f,#b6ff49,#b7ff48,#aaff55,#99ff66,#85ff7a,#75ff8a,#6aff95,#61ff9e,#58ffa7,#52ffad,#4fffb0,#4cffb3,#4bffb4,#4effb1,#51ffae,#55ffaa,#5dffa2,#66ff99,#70ff8f,#7dff82,#90ff6f,#a2ff5d,#b3ff4c,#b8ff47,#b3ff4c,#afff50,#adff52,#acff53,#aaff55,#a7ff58,#a4ff5b,#a1ff5e,#9fff60)"></i><i style="top:24px;left:0;width:160px;background:linear-gradient(90deg,#a1ff5e,#a4ff5b,#a7ff58,#aaff55,#adff52,#afff50,#b2ff4d,#b5ff4a,#baff45,#bcff43,#aeff51,#9cff63,#87ff78,#75ff8a,#6aff95,#60ff9f,#57ffa8,#50ffaf,#4dffb2,#4affb5,#49ffb6,#4cffb3,#4fffb0,#53ffac,#5cffa3,#65ff9a,#70ff8f,#7eff81,#92ff6d,#a6ff59,#b7ff48,#bcff43,#b7ff48,#b3ff4c,#b0ff4f,#aeff51,#abff54,#a8ff57,#a5ff5a,#a2ff5d,#a0ff5f)"></i><i style="top:25px;left:0;width:160px;background:linear-gradient(90deg,#a2ff5d,#a5ff5a,#a8ff57,#acff53,#afff50,#b2ff4d,#b5ff4a,#b9ff46,#bfff40,#c1ff3e,#b2ff4d,#9fff60,#89ff76,#75ff8a,#69ff96,#5fffa0,#55ffaa,#4effb1,#4bffb4,#48ffb7,#47ffb8,#4affb5,#4dffb2,#51ffae,#5affa5,#64ff9b,#6fff90,#7fff80,#95ff6a,#aaff55,#bcff43,#c1ff3e,#bbff44,#b7ff48,#b4ff4b,#b0ff4f,#adff52,#aaff55,#a6ff59,#a3ff5c,#a1ff5e)"></i><i style="top:26px;left:0;width:160px;background:linear-gradient(90deg,#a3ff5c,#a6ff59,#aaff55,#adff52,#b1ff4e,#b5ff4a,#b9ff46,#bdff42,#c4ff3b,#c6ff39,#b6ff49,#a2ff5d,#8aff75,#76ff89,#69ff96,#5effa1,#53ffac,#4dffb2,#49ffb6,#46ffb9,#45ffba,#48ffb7,#4bffb4,#4fffb0,#59ffa6,#64ff9b,#6fff90,#80ff7f,#98ff67,#adff52,#c0ff3f,#c6ff39,#c0ff3f,#bbff44,#b7ff48,#b3ff4c,#afff50,#abff54,#a7ff58,#a4ff5b,#a1ff5e)"></i><i style="top:27px;left:0;width:160px;background:linear-gradient(90deg,#a3ff5c,#a7ff58,#abff54,#afff50,#b3ff4c,#b8ff47,#bdff42,#c2ff3d,#c9ff36,#cbff34,#bbff44,#a5ff5a,#8cff73,#76ff89,#68ff97,#5dffa2,#52ffad,#4bffb4,#47ffb8,#44ffbb,#43ffbc,#46ffb9,#49ffb6,#4effb1,#58ffa7,#63ff9c,#6fff90,#81ff7e,#9aff65,#b1ff4e,#c5ff3a,#cbff34,#c5ff3a,#bfff40,#baff45,#b5ff4a,#b1ff4e,#adff52,#a9ff56,#a5ff5a,#a2ff5d)"></i><i style="top:28px;left:0;width:160px;background:linear-gradient(90deg,#a4ff5b,#a8ff57,#acff53,#b1ff4e,#b5ff4a,#bbff44,#c0ff3f,#c6ff39,#ceff31,#d0ff2f,#bfff40,#a9ff56,#8eff71,#77ff88,#68ff97,#5bffa4,#50ffaf,#49ffb6,#46ffb9,#42ffbd,#41ffbe,#44ffbb,#47ffb8,#4cffb3,#56ffa9,#62ff9d,#70ff8f,#83ff7c,#9dff62,#b5ff4a,#caff35,#d0ff2f,#c9ff36,#c3ff3c,#bdff42,#b7ff48,#b3ff4c,#aeff51,#aaff55,#a5ff5a,#a2ff5d)"></i><i style="top:29px;left:0;width:160px;background:linear-gradient(90deg,#a5ff5a,#a9ff56,#adff52,#b2ff4d,#b7ff48,#bdff42,#c4ff3b,#cbff34,#d3ff2c,#d5ff2a,#c4ff3b,#acff53,#90ff6f,#77ff88,#67ff98,#5affa5,#4effb1,#47ffb8,#44ffbb,#40ffbf,#3fffc0,#42ffbd,#45ffba,#4affb5,#55ffaa,#61ff9e,#70ff8f,#84ff7b,#a0ff5f,#baff45,#cfff30,#d6ff29,#ceff31,#c7ff38,#c0ff3f,#baff45,#b4ff4b,#b0ff4f,#abff54,#a6ff59,#a3ff5c)"></i><i style="top:30px;left:0;width:160px;background:linear-gradient(90deg,#a6ff59,#aaff55,#afff50,#b4ff4b,#b9ff46,#c0ff3f,#c8ff37,#cfff30,#d8ff27,#dbff24,#c8ff37,#b0ff4f,#92ff6d,#78ff87,#67ff98,#59ffa6,#4dffb2,#45ffba,#42ffbd,#3fffc0,#3dffc2,#40ffbf,#43ffbc,#48ffb7,#53ffac,#60ff9f,#70ff8f,#85ff7a,#a3ff5c,#beff41,#d4ff2b,#dbff24,#d3ff2c,#cbff34,#c3ff3c,#bcff43,#b6ff49,#b1ff4e,#acff53,#a7ff58,#a4ff5b)"></i><i style="top:31px;left:0;width:160px;background:linear-gradient(90deg,#a6ff59,#abff54,#b0ff4f,#b5ff4a,#bbff44,#c3ff3c,#cbff34,#d4ff2b,#ddff22,#e0ff1f,#cdff32,#b4ff4b,#95ff6a,#79ff86,#66ff99,#58ffa7,#4bffb4,#43ffbc,#40ffbf,#3dffc2,#3cffc3,#3effc1,#42ffbd,#46ffb9,#52ffad,#60ff9f,#70ff8f,#87ff78,#a6ff59,#c2ff3d,#daff25,#e0ff1f,#d8ff27,#cfff30,#c7ff38,#beff41,#b8ff47,#b2ff4d,#adff52,#a8ff57,#a4ff5b)"></i><i style="top:32px;left:0;width:160px;background:linear-gradient(90deg,#a7ff58,#acff53,#b1ff4e,#b7ff48,#bdff42,#c6ff39,#cfff30,#d8ff27,#e2ff1d,#e6ff19,#d3ff2c,#b8ff47,#97ff68,#79ff86,#66ff99,#57ffa8,#49ffb6,#41ffbe,#3effc1,#3bffc4,#3affc5,#3cffc3,#40ffbf,#45ffba,#51ffae,#5fffa0,#70ff8f,#88ff77,#a9ff56,#c7ff38,#dfff20,#e6ff19,#ddff22,#d3ff2c,#caff35,#c1ff3e,#baff45,#b4ff4b,#aeff51,#a9ff56,#a5ff5a)"></i><i style="top:33px;left:0;width:160px;background:linear-gradient(90deg,#a8ff57,#adff52,#b3ff4c,#b9ff46,#bfff40,#c9ff36,#d3ff2c,#ddff22,#e7ff18,#ecff13,#d8ff27,#bcff43,#99ff66,#7aff85,#65ff9a,#56ffa9,#48ffb7,#3fffc0,#3cffc3,#39ffc6,#38ffc7,#3bffc4,#3effc1,#43ffbc,#4fffb0,#5effa1,#70ff8f,#8aff75,#adff52,#ccff33,#e5ff1a,#ebff14,#e2ff1d,#d7ff28,#cdff32,#c3ff3c,#bbff44,#b5ff4a,#b0ff4f,#aaff55,#a6ff59)"></i><i style="top:34px;left:0;width:160px;background:linear-gradient(90deg,#a9ff56,#aeff51,#b4ff4b,#baff45,#c1ff3e,#cbff34,#d6ff29,#e1ff1e,#edff12,#f2ff0d,#deff21,#c0ff3f,#9bff64,#7bff84,#65ff9a,#55ffaa,#46ffb9,#3dffc2,#3affc5,#37ffc8,#36ffc9,#39ffc6,#3cffc3,#41ffbe,#4effb1,#5dffa2,#70ff8f,#8bff74,#b0ff4f,#d2ff2d,#ecff13,#f1ff0e,#e6ff19,#dbff24,#d0ff2f,#c5ff3a,#bdff42,#b7ff48,#b1ff4e,#abff54,#a6ff59)"></i><i style="top:35px;left:0;width:160px;background:linear-gradient(90deg,#a9ff56,#afff50,#b5ff4a,#bcff43,#c3ff3c,#ceff31,#daff25,#e6ff19,#f2ff0d,#f9ff06,#e5ff1a,#c5ff3a,#9eff61,#7bff84,#64ff9b,#54ffab,#45ffba,#3cffc3,#38ffc7,#35ffca,#34ffcb,#37ffc8,#3affc5,#3fffc0,#4dffb2,#5cffa3,#70ff8f,#8dff72,#b4ff4b,#d8ff27,#f3ff0c,#f7ff08,#ebff14,#dfff20,#d3ff2c,#c8ff37,#bfff40,#b8ff47,#b2ff4d,#abff54,#a7ff58)"></i><i style="top:36px;left:0;width:160px;background:linear-gradient(90deg,#aaff55 0px,#b0ff4f 4px,#b7ff48 8px,#bdff42 12px,#c5ff3a 16px,#d1ff2e 20px,#ddff22 24px,#eaff15 28px,#f4ff0b 31px,#f7ff08 32px,#fbff04 33px,#feff01 34px,#fffe00 35px,#fffd00 36px,#ffff00 37px,#fbff04 38px,#f5ff0a 39px,#eeff11 40px,#e5ff1a 41px,#ddff22 42px,#d3ff2c 43px,#caff35 44px,#a0ff5f 48px,#7cff83 52px,#64ff9b 56px,#53ffac 60px,#43ffbc 64px,#3affc5 68px,#37ffc8 72px,#33ffcc 76px,#32ffcd 80px,#35ffca 84px,#38ffc7 88px,#3effc1 92px,#4cffb3 96px,#5cffa3 100px,#70ff8f 104px,#8eff71 108px,#b7ff48 112px,#d5ff2a 115px,#deff21 116px,#e7ff18 117px,#efff10 118px,#f6ff09 119px,#fcff03 120px,#fffe00 121px,#fffd00 122px,#fffe00 123px,#feff01 124px,#faff05 125px,#f7ff08 126px,#f3ff0c 127px,#f0ff0f 128px,#e3ff1c 132px,#d6ff29 136px,#caff35 140px,#c0ff3f 144px,#baff45 148px,#b3ff4c 152px,#acff53 156px,#a8ff57 160px)"></i><i style="top:37px;left:0;width:160px;background:linear-gradient(90deg,#abff54 0px,#b1ff4e 4px,#b7ff48 8px,#beff41 12px,#c6ff39 16px,#d3ff2c 20px,#e0ff1f 24px,#eeff11 28px,#f8ff07 31px,#fcff03 32px,#fffe00 33px,#fffa00 34px,#fff600 35px,#fff400 36px,#fff500 37px,#fff900 38px,#ffff00 39px,#f7ff08 40px,#eeff11 41px,#e4ff1b 42px,#d9ff26 43px,#ceff31 44px,#a2ff5d 48px,#7dff82 52px,#64ff9b 56px,#52ffad 60px,#42ffbd 64px,#39ffc6 68px,#35ffca 72px,#32ffcd 76px,#31ffce 80px,#34ffcb 84px,#37ffc8 88px,#3cffc3 92px,#4bffb4 96px,#5bffa4 100px,#71ff8e 104px,#90ff6f 108px,#bbff44 112px,#dbff24 115px,#e6ff19 116px,#f0ff0f 117px,#f9ff06 118px,#fffd00 119px,#fff800 120px,#fff500 121px,#fff500 122px,#fff700 123px,#fffa00 124px,#ffff00 125px,#fbff04 126px,#f7ff08 127px,#f4ff0b 128px,#e6ff19 132px,#d9ff26 136px,#ccff33 140px,#c2ff3d 144px,#bbff44 148px,#b4ff4b 152px,#adff52 156px,#a8ff57 160px)"></i><i style="top:38px;left:0;width:160px;background:linear-gradient(90deg,#abff54 0px,#b1ff4e 4px,#b8ff47 8px,#bfff40 12px,#c7ff38 16px,#d4ff2b 20px,#e2ff1d 24px,#f0ff0f 28px,#fbff04 31px,#fffe00 32px,#fff900 33px,#fff300 34px,#ffee00 35px,#ffea00 36px,#ffe900 37px,#ffeb00 38px,#fff100 39px,#fffb00 40px,#f7ff08 41px,#ebff14 42px,#dfff20 43px,#d3ff2c 44px,#a4ff5b 48px,#7dff82 52px,#64ff9b 56px,#51ffae 60px,#41ffbe 64px,#38ffc7 68px,#34ffcb 72px,#31ffce 76px,#30ffcf 80px,#33ffcc 84px,#36ffc9 88px,#3bffc4 92px,#4affb5 96px,#5bffa4 100px,#71ff8e 104px,#91ff6e 108px,#bdff42 112px,#e1ff1e 115px,#eeff11 116px,#faff05 117px,#fff900 118px,#ffef00 119px,#ffea00 120px,#ffe900 121px,#ffeb00 122px,#ffef00 123px,#fff500 124px,#fffa00 125px,#ffff00 126px,#fbff04 127px,#f7ff08 128px,#e8ff17 132px,#daff25 136px,#cdff32 140px,#c3ff3c 144px,#bbff44 148px,#b4ff4b 152px,#adff52 156px,#a8ff57 160px)"></i><i style="top:39px;left:0;width:160px;background:linear-gradient(90deg,#abff54 0px,#b1ff4e 4px,#b8ff47 8px,#c0ff3f 12px,#c8ff37 16px,#d5ff2a 20px,#e3ff1c 24px,#f2ff0d 28px,#feff01 31px,#fffb00 32px,#fff500 33px,#ffed00 34px,#ffe500 35px,#ffdd00 36px,#ffd600 37px,#ffd600 38px,#ffde00 39px,#ffec00 40px,#fffc00 41px,#f3ff0c 42px,#e4ff1b 43px,#d7ff28 44px,#a5ff5a 48px,#7eff81 52px,#64ff9b 56px,#51ffae 60px,#41ffbe 64px,#37ffc8 68px,#34ffcb 72px,#31ffce 76px,#2fffd0 80px,#32ffcd 84px,#35ffca 88px,#3bffc4 92px,#4affb5 96px,#5bffa4 100px,#71ff8e 104px,#92ff6d 108px,#c0ff3f 112px,#e7ff18 115px,#f6ff09 116px,#fff800 117px,#ffe900 118px,#ffdc00 119px,#ffd600 120px,#ffd700 121px,#ffde00 122px,#ffe700 123px,#ffef00 124px,#fff600 125px,#fffc00 126px,#fdff02 127px,#f9ff06 128px,#eaff15 132px,#dbff24 136px,#cdff32 140px,#c3ff3c 144px,#bcff43 148px,#b5ff4a 152px,#adff52 156px,#a9ff56 160px)"></i><i style="top:40px;left:0;width:160px;background:linear-gradient(90deg,#abff54 0px,#b1ff4e 4px,#b8ff47 8px,#c0ff3f 12px,#c8ff37 16px,#d5ff2a 20px,#e3ff1c 24px,#f3ff0c 28px,#fffe00 31px,#fff800 32px,#fff000 33px,#ffe700 34px,#ffdb00 35px,#ffcb00 36px,#ffbb00 37px,#ffb600 38px,#ffc300 39px,#ffd900 40px,#fff000 41px,#faff05 42px,#e9ff16 43px,#daff25 44px,#a6ff59 48px,#7eff81 52px,#63ff9c 56px,#51ffae 60px,#41ffbe 64px,#37ffc8 68px,#33ffcc 72px,#30ffcf 76px,#2fffd0 80px,#32ffcd 84px,#35ffca 88px,#3bffc4 92px,#49ffb6 96px,#5bffa4 100px,#71ff8e 104px,#92ff6d 108px,#c1ff3e 112px,#ecff13 115px,#feff01 116px,#ffeb00 117px,#ffd400 118px,#ffbf00 119px,#ffb600 120px,#ffbe00 121px,#ffcf00 122px,#ffde00 123px,#ffe900 124px,#fff200 125px,#fff900 126px,#ffff00 127px,#faff05 128px,#eaff15 132px,#dbff24 136px,#cdff32 140px,#c3ff3c 144px,#bcff43 148px,#b4ff4b 152px,#adff52 156px,#a8ff57 160px)"></i><i style="top:41px;left:0;width:160px;background:linear-gradient(90deg,#aaff55 0px,#b0ff4f 4px,#b7ff48 8px,#beff41 12px,#c7ff38 16px,#d4ff2b 20px,#e2ff1d 24px,#f2ff0d 28px,#fffc00 31px,#fff500 32px,#ffeb00 33px,#ffdf00 34px,#ffcf00 35px,#ffb700 36px,#ff9600 37px,#ff8200 38px,#ffa000 39px,#ffc600 40px,#ffe600 41px,#fffe00 42px,#ecff13 43px,#dcff23 44px,#a6ff59 48px,#7eff81 52px,#63ff9c 56px,#51ffae 60px,#40ffbf 64px,#37ffc8 68px,#33ffcc 72px,#30ffcf 76px,#2fffd0 80px,#32ffcd 84px,#35ffca 88px,#3affc5 92px,#49ffb6 96px,#5affa5 100px,#71ff8e 104px,#92ff6d 108px,#c2ff3d 112px,#f0ff0f 115px,#fffa00 116px,#ffe000 117px,#ffbf00 118px,#ff9800 119px,#ff8200 120px,#ff9d00 121px,#ffbd00 122px,#ffd200 123px,#ffe200 124px,#ffed00 125px,#fff700 126px,#fffe00 127px,#fbff04 128px,#e9ff16 132px,#daff25 136px,#ccff33 140px,#c2ff3d 144px,#baff45 148px,#b3ff4c 152px,#acff53 156px,#a7ff58 160px)"></i><i style="top:42px;left:0;width:160px;background:linear-gradient(90deg,#a7ff58 0px,#adff52 4px,#b4ff4b 8px,#bbff44 12px,#c3ff3c 16px,#d0ff2f 20px,#dfff20 24px,#f0ff0f 28px,#fffd00 31px,#fff400 32px,#ffe800 33px,#ffd600 34px,#ffbe00 35px,#ff9e00 36px,#ff6d00 37px,#ff3300 38px,#ff8900 39px,#ffbe00 40px,#ffe200 41px,#fffd00 42px,#edff12 43px,#dbff24 44px,#a5ff5a 48px,#7cff83 52px,#62ff9d 56px,#50ffaf 60px,#3fffc0 64px,#36ffc9 68px,#33ffcc 72px,#30ffcf 76px,#2effd1 80px,#31ffce 84px,#34ffcb 88px,#3affc5 92px,#48ffb7 96px,#59ffa6 100px,#6fff90 104px,#90ff6f 108px,#c1ff3e 112px,#f0ff0f 115px,#fff800 116px,#ffdc00 117px,#ffb500 118px,#ff7c00 119px,#ff3000 120px,#ff7900 121px,#ffa500 122px,#ffc400 123px,#ffda00 124px,#ffea00 125px,#fff600 126px,#fffe00 127px,#f9ff06 128px,#e6ff19 132px,#d6ff29 136px,#c8ff37 140px,#beff41 144px,#b7ff48 148px,#b0ff4f 152px,#a9ff56 156px,#a4ff5b 160px)"></i><i style="top:43px;left:0;width:160px;background:linear-gradient(90deg,#9fff60 0px,#a5ff5a 4px,#abff54 8px,#b2ff4d 12px,#baff45 16px,#c8ff37 20px,#d6ff29 24px,#ecff13 28px,#fffe00 31px,#fff400 32px,#ffe600 33px,#ffd100 34px,#ffb300 35px,#ff8100 36px,#ff3400 37px,#ff6b00 38px,#ffa000 39px,#ffc700 40px,#ffe700 41px,#fdff02 42px,#e9ff16 43px,#d8ff27 44px,#a1ff5e 48px,#79ff86 52px,#5fffa0 56px,#4dffb2 60px,#3effc1 64px,#34ffcb 68px,#31ffce 72px,#2effd1 76px,#2dffd2 80px,#30ffcf 84px,#33ffcc 88px,#38ffc7 92px,#46ffb9 96px,#56ffa9 100px,#6cff93 104px,#8dff72 108px,#bdff42 112px,#edff12 115px,#fffc00 116px,#ffe200 117px,#ffc000 118px,#ff9700 119px,#ff5d00 120px,#ff4500 121px,#ff8d00 122px,#ffba00 123px,#ffd600 124px,#ffe900 125px,#fff600 126px,#feff01 127px,#f7ff08 128px,#dfff20 132px,#ceff31 136px,#c0ff3f 140px,#b6ff49 144px,#afff50 148px,#a8ff57 152px,#a1ff5e 156px,#9dff62 160px)"></i><i style="top:44px;left:0;width:160px;background:linear-gradient(90deg,#92ff6d 0px,#98ff67 4px,#9eff61 8px,#a4ff5b 12px,#acff53 16px,#b9ff46 20px,#c9ff36 24px,#deff21 28px,#f6ff09 31px,#fffc00 32px,#ffed00 33px,#ffd800 34px,#ffbb00 35px,#ff9200 36px,#ff7100 37px,#ff9400 38px,#ffbd00 39px,#ffdc00 40px,#fff400 41px,#f4ff0b 42px,#e1ff1e 43px,#d1ff2e 44px,#9aff65 48px,#73ff8c 52px,#5affa5 56px,#49ffb6 60px,#3affc5 64px,#32ffcd 68px,#2fffd0 72px,#2cffd3 76px,#2bffd4 80px,#2effd1 84px,#30ffcf 88px,#35ffca 92px,#42ffbd 96px,#52ffad 100px,#67ff98 104px,#87ff78 108px,#b6ff49 112px,#e5ff1a 115px,#f8ff07 116px,#fff000 117px,#ffd600 118px,#ffb600 119px,#ff8a00 120px,#ff7300 121px,#ff9b00 122px,#ffc200 123px,#ffdd00 124px,#fff100 125px,#ffff00 126px,#f4ff0b 127px,#ebff14 128px,#d1ff2e 132px,#c0ff3f 136px,#b2ff4d 140px,#a8ff57 144px,#a1ff5e 148px,#9aff65 152px,#94ff6b 156px,#90ff6f 160px)"></i><i style="top:45px;left:35px;width:89px;background:linear-gradient(90deg,#ffd100 0px,#ffb900 1px,#ffaa00 2px,#ffbb00 3px,#ffd500 4px,#ffef00 5px,#f9ff06 6px,#e7ff18 7px,#d6ff29 8px,#c6ff39 9px,#9dff62 12px,#7cff83 15px,#65ff9a 18px,#53ffac 21px,#47ffb8 24px,#3cffc3 27px,#33ffcc 30px,#2effd1 33px,#2cffd3 36px,#2affd5 39px,#29ffd6 42px,#28ffd7 45px,#2affd5 48px,#2cffd3 51px,#2dffd2 54px,#31ffce 57px,#3affc5 60px,#44ffbb 63px,#4fffb0 66px,#60ff9f 69px,#75ff8a 72px,#93ff6c 75px,#bbff44 78px,#d9ff26 80px,#ebff14 81px,#fdff02 82px,#ffea00 83px,#ffd000 84px,#ffb700 85px,#ffab00 86px,#ffbe00 87px,#ffd600 88px,#ffeb00 89px)"></i><i style="top:46px;left:35px;width:89px;background:linear-gradient(90deg,#ffe900 0px,#ffdb00 1px,#ffd000 2px,#ffde00 3px,#ffee00 4px,#fdff02 5px,#eaff15 6px,#d9ff26 7px,#c9ff36 8px,#baff45 9px,#92ff6d 12px,#73ff8c 15px,#5dffa2 18px,#4cffb3 21px,#40ffbf 24px,#36ffc9 27px,#2effd1 30px,#2affd5 33px,#28ffd7 36px,#27ffd8 39px,#25ffda 42px,#25ffda 45px,#26ffd9 48px,#28ffd7 51px,#29ffd6 54px,#2dffd2 57px,#34ffcb 60px,#3dffc2 63px,#48ffb7 66px,#58ffa7 69px,#6cff93 72px,#89ff76 75px,#afff50 78px,#ccff33 80px,#dcff23 81px,#eeff11 82px,#fffd00 83px,#ffeb00 84px,#ffdb00 85px,#ffd000 86px,#ffde00 87px,#ffed00 88px,#fffd00 89px)"></i><i style="top:47px;left:35px;width:89px;background:linear-gradient(90deg,#fdff02 0px,#fff700 1px,#ffeb00 2px,#fffa00 3px,#f8ff07 4px,#eaff15 5px,#dbff24 6px,#cbff34 7px,#bcff43 8px,#adff52 9px,#86ff79 12px,#69ff96 15px,#54ffab 18px,#44ffbb 21px,#39ffc6 24px,#30ffcf 27px,#29ffd6 30px,#25ffda 33px,#24ffdb 36px,#22ffdd 39px,#21ffde 42px,#21ffde 45px,#22ffdd 48px,#23ffdc 51px,#25ffda 54px,#28ffd7 57px,#2effd1 60px,#36ffc9 63px,#40ffbf 66px,#4fffb0 69px,#63ff9c 72px,#7eff81 75px,#a2ff5d 78px,#bfff40 80px,#ceff31 81px,#deff21 82px,#edff12 83px,#fbff04 84px,#fff800 85px,#ffeb00 86px,#fff900 87px,#fbff04 88px,#efff10 89px)"></i><i style="top:48px;left:35px;width:89px;background:linear-gradient(90deg,#e8ff17 0px,#f0ff0f 1px,#fdff02 2px,#edff12 3px,#e3ff1c 4px,#d8ff27 5px,#cbff34 6px,#bdff42 7px,#aeff51 8px,#a0ff5f 9px,#7aff85 12px,#5fffa0 15px,#4bffb4 18px,#3cffc3 21px,#32ffcd 24px,#2affd5 27px,#24ffdb 30px,#21ffde 33px,#1fffe0 36px,#1effe1 39px,#1dffe2 42px,#1dffe2 45px,#1effe1 48px,#1fffe0 51px,#20ffdf 54px,#23ffdc 57px,#29ffd6 60px,#30ffcf 63px,#38ffc7 66px,#46ffb9 69px,#59ffa6 72px,#72ff8d 75px,#95ff6a 78px,#b1ff4e 80px,#bfff40 81px,#cdff32 82px,#daff25 83px,#e5ff1a 84px,#efff10 85px,#fdff02 86px,#efff10 87px,#e6ff19 88px,#ddff22 89px)"></i><i style="top:49px;left:35px;width:89px;background:linear-gradient(90deg,#d5ff2a 0px,#dcff23 1px,#ebff14 2px,#d9ff26 3px,#d0ff2f 4px,#c6ff39 5px,#bbff44 6px,#aeff51 7px,#a0ff5f 8px,#93ff6c 9px,#6eff91 12px,#54ffab 15px,#42ffbd 18px,#34ffcb 21px,#2bffd4 24px,#24ffdb 27px,#1fffe0 30px,#1cffe3 33px,#1bffe4 36px,#1affe5 39px,#1affe5 42px,#19ffe6 45px,#1affe5 48px,#1bffe4 51px,#1cffe3 54px,#1effe1 57px,#23ffdc 60px,#29ffd6 63px,#31ffce 66px,#3effc1 69px,#4fffb0 72px,#66ff99 75px,#88ff77 78px,#a3ff5c 80px,#b0ff4f 81px,#bdff42 82px,#c8ff37 83px,#d2ff2d 84px,#dbff24 85px,#ebff14 86px,#dbff24 87px,#d3ff2c 88px,#cbff34 89px)"></i><i style="top:50px;left:35px;width:89px;background:linear-gradient(90deg,#c3ff3c 0px,#caff35 1px,#dbff24 2px,#c7ff38 3px,#bfff40 4px,#b6ff49 5px,#abff54 6px,#9fff60 7px,#92ff6d 8px,#86ff79 9px,#62ff9d 12px,#4affb5 15px,#39ffc6 18px,#2cffd3 21px,#24ffdb 24px,#1fffe0 27px,#1affe5 30px,#18ffe7 33px,#17ffe8 36px,#16ffe9 39px,#16ffe9 42px,#15ffea 45px,#16ffe9 48px,#17ffe8 51px,#18ffe7 54px,#19ffe6 57px,#1dffe2 60px,#23ffdc 63px,#29ffd6 66px,#35ffca 69px,#45ffba 72px,#5bffa4 75px,#7cff83 78px,#95ff6a 80px,#a1ff5e 81px,#adff52 82px,#b7ff48 83px,#c0ff3f 84px,#c9ff36 85px,#dbff24 86px,#c9ff36 87px,#c2ff3d 88px,#baff45 89px)"></i><i style="top:51px;left:35px;width:89px;background:linear-gradient(90deg,#b2ff4d 0px,#baff45 1px,#ccff33 2px,#b7ff48 3px,#aeff51 4px,#a6ff59 5px,#9cff63 6px,#90ff6f 7px,#85ff7a 8px,#78ff87 9px,#56ffa9 12px,#40ffbf 15px,#31ffce 18px,#25ffda 21px,#1effe1 24px,#19ffe6 27px,#15ffea 30px,#13ffec 33px,#13ffec 36px,#12ffed 39px,#12ffed 42px,#12ffed 45px,#12ffed 48px,#13ffec 51px,#13ffec 54px,#15ffea 57px,#18ffe7 60px,#1cffe3 63px,#22ffdd 66px,#2dffd2 69px,#3cffc3 72px,#4fffb0 75px,#6fff90 78px,#87ff78 80px,#93ff6c 81px,#9eff61 82px,#a8ff57 83px,#b0ff4f 84px,#b9ff46 85px,#ccff33 86px,#b8ff47 87px,#b1ff4e 88px,#a9ff56 89px)"></i><i style="top:52px;left:35px;width:87px;background:linear-gradient(90deg,#a2ff5d,#a7ff58,#8dff72,#6bff94,#4bffb4,#36ffc9,#28ffd7,#1dffe2,#17ffe8,#14ffeb,#11ffee,#0ffff0,#0efff1,#0efff1,#0efff1,#0dfff2,#0efff1,#0efff1,#0ffff0,#10ffef,#13ffec,#16ffe9,#1bffe4,#25ffda,#32ffcd,#44ffbb,#62ff9d,#85ff7a,#a0ff5f,#a8ff57)"></i><i style="top:53px;left:35px;width:87px;background:linear-gradient(90deg,#93ff6c,#99ff66,#7fff80,#5fffa0,#40ffbf,#2dffd2,#20ffdf,#16ffe9,#11ffee,#0efff1,#0cfff3,#0bfff4,#0afff5,#0afff5,#09fff6,#09fff6,#0afff5,#0afff5,#0afff5,#0bfff4,#0dfff2,#10ffef,#15ffea,#1dffe2,#29ffd6,#3affc5,#56ffa9,#77ff88,#92ff6d,#9aff65)"></i><i style="top:54px;left:35px;width:87px;background:linear-gradient(90deg,#85ff7a,#89ff76,#71ff8e,#52ffad,#35ffca,#24ffdb,#19ffe6,#10ffef,#0bfff4,#09fff6,#07fff8,#06fff9,#06fff9,#05fffa,#05fffa,#05fffa,#05fffa,#06fff9,#06fff9,#07fff8,#08fff7,#0afff5,#0efff1,#16ffe9,#21ffde,#30ffcf,#4affb5,#69ff96,#83ff7c,#8aff75)"></i><i style="top:55px;left:35px;width:87px;background:linear-gradient(90deg,#75ff8a,#78ff87,#63ff9c,#47ffb8,#2cffd3,#1cffe3,#11ffee,#09fff6,#05fffa,#03fffc,#02fffd,#01fffe,#01fffe,#01fffe,#00ffff,#00ffff,#01fffe,#01fffe,#01fffe,#02fffd,#03fffc,#05fffa,#08fff7,#0ffff0,#19ffe6,#26ffd9,#3fffc0,#5cffa3,#74ff8b,#79ff86)"></i><i style="top:56px;left:35px;width:87px;background:linear-gradient(90deg,#66ff99,#68ff97,#56ffa9,#3bffc4,#22ffdd,#14ffeb,#0bfff4,#03fffc,#00ffff,#00fdff,#00fcff,#00fbff,#00fbff,#00fbff,#00fbff,#00fbff,#00fbff,#00fbff,#00fbff,#00fcff,#00fdff,#00feff,#02fffd,#08fff7,#11ffee,#1dffe2,#34ffcb,#4fffb0,#65ff9a,#68ff97)"></i><i style="top:57px;left:35px;width:87px;background:linear-gradient(90deg,#57ffa8,#58ffa7,#48ffb7,#30ffcf,#19ffe6,#0cfff3,#04fffb,#00fcff,#00f9ff,#00f8ff,#00f7ff,#00f6ff,#00f6ff,#00f6ff,#00f6ff,#00f6ff,#00f6ff,#00f6ff,#00f6ff,#00f7ff,#00f7ff,#00f9ff,#00fbff,#02fffd,#0afff5,#15ffea,#29ffd6,#42ffbd,#56ffa9,#59ffa6)"></i><i style="top:58px;left:35px;width:87px;background:linear-gradient(90deg,#48ffb7,#49ffb6,#3bffc4,#25ffda,#11ffee,#05fffa,#00fdff,#00f7ff,#00f4ff,#00f2ff,#00f2ff,#00f1ff,#00f1ff,#00f1ff,#00f1ff,#00f1ff,#00f1ff,#00f1ff,#00f1ff,#00f2ff,#00f2ff,#00f3ff,#00f5ff,#00fbff,#03fffc,#0dfff2,#1fffe0,#35ffca,#47ffb8,#4affb5)"></i><i style="top:59px;left:35px;width:87px;background:linear-gradient(90deg,#39ffc6,#3affc5,#2effd1,#1affe5,#08fff7,#00fdff,#00f6ff,#00f1ff,#00eeff,#00edff,#00edff,#00ecff,#00ecff,#00ecff,#00ecff,#00ecff,#00ecff,#00ecff,#00ecff,#00ecff,#00edff,#00eeff,#00f0ff,#00f5ff,#00fbff,#05fffa,#15ffea,#29ffd6,#38ffc7,#3bffc4)"></i><i style="top:60px;left:35px;width:87px;background:linear-gradient(90deg,#2bffd4,#2cffd3,#21ffde,#10ffef,#00ffff,#00f6ff,#00f0ff,#00ebff,#00e9ff,#00e8ff,#00e7ff,#00e7ff,#00e7ff,#00e7ff,#00e7ff,#00e7ff,#00e7ff,#00e7ff,#00e7ff,#00e7ff,#00e8ff,#00e9ff,#00eaff,#00efff,#00f5ff,#00fcff,#0bfff4,#1dffe2,#2affd5,#2cffd3)"></i><i style="top:61px;left:35px;width:87px;background:linear-gradient(90deg,#1dffe2,#1effe1,#15ffea,#06fff9,#00f8ff,#00f0ff,#00eaff,#00e6ff,#00e4ff,#00e3ff,#00e3ff,#00e2ff,#00e2ff,#00e2ff,#00e2ff,#00e2ff,#00e2ff,#00e2ff,#00e2ff,#00e2ff,#00e3ff,#00e4ff,#00e5ff,#00e9ff,#00eeff,#00f5ff,#02fffd,#11ffee,#1cffe3,#1effe1)"></i><i style="top:62px;left:35px;width:87px;background:linear-gradient(90deg,#10ffef,#11ffee,#09fff6,#00fcff,#00f0ff,#00e9ff,#00e5ff,#00e1ff,#00dfff,#00deff,#00deff,#00deff,#00ddff,#00ddff,#00ddff,#00ddff,#00ddff,#00ddff,#00ddff,#00deff,#00deff,#00dfff,#00e0ff,#00e4ff,#00e8ff,#00eeff,#00f8ff,#06fff9,#0ffff0,#11ffee)"></i><i style="top:63px;left:35px;width:87px;background:linear-gradient(90deg,#04fffb,#04fffb,#00fdff,#00f3ff,#00e9ff,#00e4ff,#00dfff,#00dcff,#00daff,#00daff,#00d9ff,#00d9ff,#00d9ff,#00d8ff,#00d8ff,#00d8ff,#00d8ff,#00d8ff,#00d9ff,#00d9ff,#00daff,#00daff,#00dbff,#00deff,#00e2ff,#00e7ff,#00f0ff,#00faff,#03fffc,#04fffb)"></i><i style="top:64px;left:35px;width:87px;background:linear-gradient(90deg,#00f7ff,#00f8ff,#00f3ff,#00eaff,#00e3ff,#00deff,#00daff,#00d7ff,#00d6ff,#00d6ff,#00d5ff,#00d5ff,#00d4ff,#00d4ff,#00d3ff,#00d3ff,#00d3ff,#00d4ff,#00d5ff,#00d5ff,#00d5ff,#00d6ff,#00d7ff,#00daff,#00ddff,#00e1ff,#00e8ff,#00f0ff,#00f7ff,#00f8ff)"></i><i style="top:65px;left:35px;width:87px;background:linear-gradient(90deg,#00ecff,#00edff,#00e9ff,#00e2ff,#00dcff,#00d9ff,#00d6ff,#00d3ff,#00d2ff,#00d2ff,#00d1ff,#00d1ff,#00d0ff,#00cfff,#00ceff,#00ceff,#00cfff,#00d0ff,#00d1ff,#00d1ff,#00d1ff,#00d2ff,#00d3ff,#00d5ff,#00d8ff,#00dbff,#00e1ff,#00e7ff,#00ecff,#00edff)"></i><i style="top:66px;left:35px;width:87px;background:linear-gradient(90deg,#00e2ff,#00e2ff,#00dfff,#00dbff,#00d6ff,#00d3ff,#00d1ff,#00cfff,#00ceff,#00ceff,#00cdff,#00cdff,#00ccff,#00caff,#00c9ff,#00c9ff,#00caff,#00cbff,#00ccff,#00cdff,#00ceff,#00ceff,#00cfff,#00d0ff,#00d3ff,#00d6ff,#00daff,#00deff,#00e2ff,#00e2ff)"></i><i style="top:67px;left:35px;width:87px;background:linear-gradient(90deg,#00d7ff,#00d8ff,#00d6ff,#00d3ff,#00d0ff,#00ceff,#00ccff,#00cbff,#00caff,#00caff,#00c9ff,#00c9ff,#00c7ff,#00c6ff,#00c4ff,#00c4ff,#00c5ff,#00c7ff,#00c8ff,#00c9ff,#00caff,#00caff,#00caff,#00ccff,#00ceff,#00d0ff,#00d2ff,#00d5ff,#00d7ff,#00d8ff)"></i><i style="top:68px;left:35px;width:87px;background:linear-gradient(90deg,#00cdff,#00cdff,#00ccff,#00cbff,#00caff,#00c9ff,#00c8ff,#00c6ff,#00c6ff,#00c6ff,#00c5ff,#00c5ff,#00c3ff,#00c1ff,#00bfff,#00bfff,#00c1ff,#00c2ff,#00c4ff,#00c5ff,#00c6ff,#00c6ff,#00c6ff,#00c7ff,#00c9ff,#00caff,#00cbff,#00ccff,#00ccff,#00cdff)"></i><i style="top:69px;left:35px;width:87px;background:linear-gradient(90deg,#00c1ff,#00c0ff,#00c1ff,#00c2ff,#00c3ff,#00c3ff,#00c2ff,#00c2ff,#00c2ff,#00c1ff,#00c1ff,#00c0ff,#00beff,#00bcff,#00baff,#00baff,#00bcff,#00beff,#00c0ff,#00c1ff,#00c1ff,#00c2ff,#00c2ff,#00c2ff,#00c3ff,#00c3ff,#00c3ff,#00c1ff,#00c0ff,#00c0ff)"></i><i style="top:70px;left:35px;width:87px;background:linear-gradient(90deg,#00b2ff,#00b2ff,#00b4ff,#00b7ff,#00baff,#00bbff,#00bcff,#00bcff,#00bdff,#00bdff,#00bdff,#00bcff,#00baff,#00b7ff,#00b5ff,#00b5ff,#00b7ff,#00b9ff,#00bbff,#00bdff,#00bdff,#00bdff,#00bdff,#00bcff,#00bbff,#00bbff,#00b8ff,#00b5ff,#00b2ff,#00b2ff)"></i><i style="top:71px;left:35px;width:87px;background:linear-gradient(90deg,#00a0ff,#00a0ff,#00a4ff,#00a9ff,#00afff,#00b2ff,#00b4ff,#00b6ff,#00b7ff,#00b7ff,#00b8ff,#00b7ff,#00b5ff,#00b2ff,#00b0ff,#00afff,#00b1ff,#00b4ff,#00b6ff,#00b8ff,#00b7ff,#00b7ff,#00b6ff,#00b4ff,#00b2ff,#00b0ff,#00abff,#00a5ff,#00a0ff,#00a0ff)"></i><i style="top:72px;left:35px;width:87px;background:linear-gradient(90deg,#008cff,#008bff,#0090ff,#0099ff,#00a1ff,#00a6ff,#00abff,#00afff,#00b1ff,#00b1ff,#00b2ff,#00b1ff,#00afff,#00adff,#00aaff,#00aaff,#00acff,#00aeff,#00b1ff,#00b2ff,#00b2ff,#00b1ff,#00afff,#00acff,#00a7ff,#00a3ff,#009bff,#0093ff,#008cff,#008bff)"></i><i style="top:73px;left:35px;width:87px;background:linear-gradient(90deg,#0075ff,#0074ff,#007bff,#0087ff,#0092ff,#009aff,#00a0ff,#00a7ff,#00aaff,#00abff,#00acff,#00acff,#00a9ff,#00a7ff,#00a4ff,#00a4ff,#00a6ff,#00a9ff,#00abff,#00acff,#00abff,#00aaff,#00a8ff,#00a2ff,#009bff,#0094ff,#008aff,#007eff,#0075ff,#0074ff)"></i><i style="top:74px;left:35px;width:87px;background:linear-gradient(90deg,#005eff,#005dff,#0066ff,#0074ff,#0082ff,#008cff,#0096ff,#009eff,#00a3ff,#00a5ff,#00a6ff,#00a6ff,#00a4ff,#00a1ff,#009fff,#009eff,#00a0ff,#00a3ff,#00a5ff,#00a6ff,#00a5ff,#00a3ff,#00a0ff,#0098ff,#008fff,#0085ff,#0078ff,#0069ff,#005eff,#005dff)"></i><i style="top:75px;left:35px;width:87px;background:linear-gradient(90deg,#0047ff,#0045ff,#0050ff,#0061ff,#0072ff,#007fff,#008bff,#0096ff,#009cff,#009eff,#00a0ff,#00a0ff,#009eff,#009bff,#0099ff,#0098ff,#009aff,#009dff,#009fff,#00a0ff,#009eff,#009cff,#0098ff,#008eff,#0082ff,#0076ff,#0066ff,#0054ff,#0047ff,#0045ff)"></i><i style="top:76px;left:35px;width:87px;background:linear-gradient(90deg,#0030ff,#002eff,#003bff,#004eff,#0061ff,#0071ff,#007fff,#008dff,#0094ff,#0096ff,#0099ff,#0099ff,#0097ff,#0095ff,#0093ff,#0092ff,#0094ff,#0097ff,#0099ff,#0099ff,#0097ff,#0095ff,#008fff,#0083ff,#0074ff,#0065ff,#0053ff,#0040ff,#0030ff,#002eff)"></i><i style="top:77px;left:35px;width:87px;background:linear-gradient(90deg,#001bff,#0019ff,#0026ff,#003bff,#004fff,#0061ff,#0072ff,#0082ff,#008bff,#008eff,#0091ff,#0092ff,#0090ff,#008eff,#008cff,#008bff,#008dff,#0090ff,#0092ff,#0092ff,#008fff,#008cff,#0085ff,#0077ff,#0066ff,#0054ff,#0040ff,#002bff,#001bff,#0019ff)"></i><i style="top:78px;left:35px;width:87px;background:linear-gradient(90deg,#0007ff,#0005ff,#0012ff,#0027ff,#003cff,#0050ff,#0064ff,#0076ff,#0080ff,#0085ff,#0088ff,#008aff,#0088ff,#0086ff,#0085ff,#0084ff,#0086ff,#0088ff,#008aff,#0089ff,#0086ff,#0081ff,#007aff,#0069ff,#0055ff,#0042ff,#002dff,#0018ff,#0007ff,#0005ff)"></i><i style="top:79px;left:35px;width:87px;background:linear-gradient(90deg,#0000f4,#0000f2,#0000ff,#0014ff,#0029ff,#003eff,#0054ff,#0069ff,#0074ff,#007aff,#007fff,#0081ff,#0080ff,#007eff,#007dff,#007cff,#007eff,#007fff,#0081ff,#0080ff,#007bff,#0076ff,#006dff,#005aff,#0044ff,#002eff,#0019ff,#0005ff,#0000f4,#0000f2)"></i><i style="top:80px;left:35px;width:87px;background:linear-gradient(90deg,#0000e3,#0000e2,#0000ed,#0000ff,#0014ff,#002bff,#0044ff,#005aff,#0068ff,#006eff,#0074ff,#0077ff,#0077ff,#0076ff,#0075ff,#0074ff,#0075ff,#0077ff,#0077ff,#0076ff,#0070ff,#0069ff,#005fff,#004aff,#0032ff,#001aff,#0005ff,#0000f2,#0000e3,#0000e2)"></i><i style="top:81px;left:35px;width:87px;background:linear-gradient(90deg,#0000d4,#0000d3,#0000dd,#0000ed,#0001ff,#0019ff,#0034ff,#004dff,#005bff,#0063ff,#006aff,#006eff,#006eff,#006dff,#006dff,#006cff,#006dff,#006eff,#006eff,#006bff,#0065ff,#005dff,#0052ff,#003bff,#0020ff,#0007ff,#0000f2,#0000e1,#0000d4,#0000d3)"></i><i style="top:82px;left:35px;width:87px;background:linear-gradient(90deg,#0000c8,#0000c6,#0000cf,#0000de,#0000ef,#0009ff,#0025ff,#0040ff,#004fff,#0058ff,#0060ff,#0065ff,#0065ff,#0065ff,#0065ff,#0065ff,#0065ff,#0065ff,#0065ff,#0062ff,#005aff,#0052ff,#0045ff,#002dff,#0011ff,#0000f5,#0000e2,#0000d3,#0000c8,#0000c6)"></i><i style="top:83px;left:35px;width:87px;background:linear-gradient(90deg,#0000be,#0000bd,#0000c5,#0000d1,#0000e2,#0000fb,#0019ff,#0035ff,#0045ff,#004eff,#0057ff,#005cff,#005dff,#005eff,#005eff,#005eff,#005eff,#005dff,#005dff,#0059ff,#0051ff,#0048ff,#003bff,#0021ff,#0004ff,#0000e8,#0000d5,#0000c8,#0000be,#0000bd)"></i><i style="top:84px;left:35px;width:87px;background:linear-gradient(90deg,#0000b7,#0000b6,#0000bd,#0000c8,#0000d7,#0000f1,#0010ff,#002cff,#003dff,#0046ff,#004fff,#0054ff,#0056ff,#0057ff,#0058ff,#0058ff,#0057ff,#0056ff,#0055ff,#0051ff,#0048ff,#003fff,#0032ff,#0018ff,#0000f9,#0000dd,#0000cb,#0000c0,#0000b7,#0000b6)"></i><i style="top:85px;left:35px;width:87px;background:linear-gradient(90deg,#0000b3,#0000b2,#0000b8,#0000c1,#0000cf,#0000e9,#0008ff,#0024ff,#0035ff,#003fff,#0048ff,#004eff,#0050ff,#0052ff,#0053ff,#0053ff,#0052ff,#0050ff,#004fff,#004aff,#0041ff,#0038ff,#002aff,#0010ff,#0000f1,#0000d5,#0000c4,#0000ba,#0000b3,#0000b2)"></i><i style="top:86px;left:35px;width:87px;background:linear-gradient(90deg,#0000b0,#0000af,#0000b4,#0000bd,#0000ca,#0000e4,#0003ff,#001fff,#0030ff,#003aff,#0042ff,#0049ff,#004bff,#004dff,#004fff,#0050ff,#004eff,#004cff,#004aff,#0045ff,#003cff,#0033ff,#0025ff,#000bff,#0000ec,#0000d0,#0000bf,#0000b6,#0000b0,#0000af)"></i><i style="top:87px;left:35px;width:87px;background:linear-gradient(90deg,#0000ae,#0000ad,#0000b2,#0000ba,#0000c6,#0000e0,#0000fe,#001bff,#002cff,#0036ff,#003fff,#0045ff,#0048ff,#004bff,#004dff,#004dff,#004bff,#0049ff,#0046ff,#0041ff,#0039ff,#002fff,#0021ff,#0007ff,#0000e8,#0000cc,#0000bc,#0000b4,#0000ae,#0000ad)"></i><i style="top:88px;left:35px;width:87px;background:linear-gradient(90deg,#0000ac,#0000ac,#0000b0,#0000b8,#0000c4,#0000de,#0000fc,#001aff,#002bff,#0034ff,#003dff,#0044ff,#0047ff,#0049ff,#004bff,#004cff,#004aff,#0047ff,#0045ff,#003fff,#0037ff,#002dff,#0020ff,#0005ff,#0000e6,#0000ca,#0000ba,#0000b2,#0000ac,#0000ac)"></i><i style="top:89px;left:35px;width:87px;background:linear-gradient(90deg,#0000ac,#0000ab,#0000b0,#0000b7,#0000c3,#0000dd,#0000fb,#0019ff,#002aff,#0034ff,#003dff,#0043ff,#0046ff,#0049ff,#004bff,#004bff,#0049ff,#0047ff,#0044ff,#003fff,#0036ff,#002dff,#001fff,#0004ff,#0000e5,#0000c9,#0000b9,#0000b1,#0000ac,#0000ab)"></i><i style="top:90px;left:35px;width:87px;background:linear-gradient(90deg,#0000ab,#0000ab,#0000af,#0000b7,#0000c3,#0000dd,#0000fb,#0019ff,#002aff,#0033ff,#003cff,#0043ff,#0046ff,#0048ff,#004bff,#004bff,#0049ff,#0047ff,#0044ff,#003fff,#0036ff,#002dff,#001fff,#0004ff,#0000e5,#0000c9,#0000b9,#0000b1,#0000ab,#0000ab)"></i><i style="top:91px;left:35px;width:87px;background:linear-gradient(90deg,#0000ab,#0000aa,#0000af,#0000b6,#0000c3,#0000dd,#0000fb,#0019ff,#002aff,#0033ff,#003cff,#0043ff,#0046ff,#0048ff,#004bff,#004bff,#0049ff,#0046ff,#0044ff,#003eff,#0036ff,#002cff,#001fff,#0004ff,#0000e5,#0000c9,#0000b9,#0000b1,#0000ab,#0000aa)"></i><i style="top:92px;left:35px;width:87px;background:linear-gradient(90deg,#0000ab,#0000aa,#0000af,#0000b6,#0000c3,#0000dd,#0000fb,#0019ff,#002aff,#0033ff,#003cff,#0043ff,#0046ff,#0048ff,#004bff,#004bff,#0049ff,#0046ff,#0044ff,#003eff,#0036ff,#002cff,#001fff,#0004ff,#0000e5,#0000c8,#0000b9,#0000b1,#0000ab,#0000aa)"></i><i style="top:93px;left:35px;width:87px;background:linear-gradient(90deg,#0000ab,#0000aa,#0000af,#0000b6,#0000c3,#0000dd,#0000fb,#0019ff,#002aff,#0033ff,#003cff,#0043ff,#0046ff,#0048ff,#004bff,#004bff,#0049ff,#0046ff,#0044ff,#003eff,#0036ff,#002cff,#001fff,#0004ff,#0000e5,#0000c8,#0000b8,#0000b0,#0000ab,#0000aa)"></i><i style="top:94px;left:35px;width:87px;background:linear-gradient(90deg,#0000aa,#0000aa,#0000ae,#0000b6,#0000c2,#0000dd,#0000fb,#0019ff,#002aff,#0033ff,#003cff,#0043ff,#0046ff,#0048ff,#004bff,#004bff,#0049ff,#0046ff,#0044ff,#003eff,#0036ff,#002cff,#001fff,#0004ff,#0000e5,#0000c8,#0000b8,#0000b0,#0000aa,#0000aa)"></i><i style="top:95px;left:35px;width:87px;background:linear-gradient(90deg,#0000aa,#0000aa,#0000ae,#0000b6,#0000c2,#0000dd,#0000fb,#0019ff,#002aff,#0033ff,#003cff,#0043ff,#0046ff,#0048ff,#004bff,#004bff,#0049ff,#0046ff,#0044ff,#003eff,#0036ff,#002cff,#001fff,#0004ff,#0000e5,#0000c8,#0000b8,#0000b0,#0000aa,#0000aa)"></i><b style="left:0;top:43.8px;width:37.4px;bottom:0"></b><b style="left:121.4px;top:43.8px;right:0;bottom:0"></b><u style="left:0;top:43.8px;width:37.6px;height:1px;background:linear-gradient(90deg,#0ffff0,#12ffed,#16ffe9,#1affe5,#1effe1,#22ffdd,#28ffd7,#30ffcf,#38ffc7,#40ffbf,#4affb5,#5bffa4,#80ff7f)"></u><u style="left:121.2px;top:43.8px;width:38.4px;height:1px;background:linear-gradient(90deg,#7cff83,#59ffa6,#49ffb6,#40ffbf,#37ffc8,#2fffd0,#28ffd7,#22ffdd,#1effe1,#1affe5,#16ffe9,#12ffed,#0ffff0)"></u><u style="left:36.6px;top:44.7px;width:1px;height:42.3px;background:linear-gradient(180deg,#00e0ff,#00bcff,#009fff,#0088ff,#0072ff,#005cff,#0047ff,#0036ff,#0026ff,#0011ff,#0000ee,#0000cd,#0000b2,#00009f,#000098);opacity:.8"></u><u style="left:121.2px;top:44.7px;width:1px;height:42.3px;background:linear-gradient(180deg,#00e4ff,#00bdff,#00a0ff,#0089ff,#0072ff,#005cff,#0047ff,#0036ff,#0026ff,#0010ff,#0000ee,#0000cd,#0000b1,#00009f,#000098);opacity:.8"></u><b style="left:37.4px;top:87.0px;width:84.0px;bottom:0"></b><u style="left:32.8px;top:83.5px;width:8px;height:8px;background:radial-gradient(circle at 50% 50%,#ffe000 0,#40ffc0 1px,#00a0ff 1.9px,rgba(0,60,255,.4) 2.5px,rgba(0,40,255,0) 3.2px)"></u><u style="left:118.0px;top:83.5px;width:8px;height:8px;background:radial-gradient(circle at 50% 50%,#ffe000 0,#40ffc0 1px,#00a0ff 1.9px,rgba(0,60,255,.4) 2.5px,rgba(0,40,255,0) 3.2px)"></u><s style="width:23.9px;height:23.1px;padding:3.4px 0 0 6.0px">vi</s></div>
<div class="cb" style="background:linear-gradient(180deg,#8a0000 0.0px,#a00800 2.8px,#d02000 6.1px,#f03800 8.8px,#ff5500 11.8px,#ff7000 15.8px,#ff9200 20.8px,#ffb000 24.8px,#ffc800 27.0px,#ffe800 28.8px,#f5ff10 31.8px,#d8ff28 34.8px,#a0ff60 38.8px,#70ff90 42.8px,#50ffb0 45.8px,#40ffc0 48.2px,#28ffd8 50.8px,#10f4f0 54.8px,#00e0ff 58.8px,#00c0ff 60.8px,#0070ff 63.8px,#0030e0 66.3px,#0010c0 69.3px,#0000b0 71.8px,#0000a0 74.2px)"></div>
<div class="cbt" style="top:344.8px"></div><div class="cbl" style="top:339.3px">6</div><div class="cbt" style="top:365.7px"></div><div class="cbl" style="top:360.2px">4</div><div class="cbt" style="top:386.5px"></div><div class="cbl" style="top:381.0px">2</div><div class="cbt" style="top:407.8px"></div><div class="cbl" style="top:402.3px">0</div>
<svg class="ov" width="550" height="422" viewBox="0 0 550 422"><g font-family="Liberation Serif, serif" font-weight="bold" font-style="italic" font-size="12.5" stroke="#000" stroke-width="0.2"><text x="513.3" y="326.5">l</text><text x="517.7" y="326.5">g</text><text x="530" y="326.6" font-size="13">E</text><text x="543.2" y="322.7" font-size="9" font-style="normal">4</text></g><path d="M527.6,317.4V329.2M540.8,317.4V329.2" stroke="#111" stroke-width="1.15"/></svg>
</body></html>
